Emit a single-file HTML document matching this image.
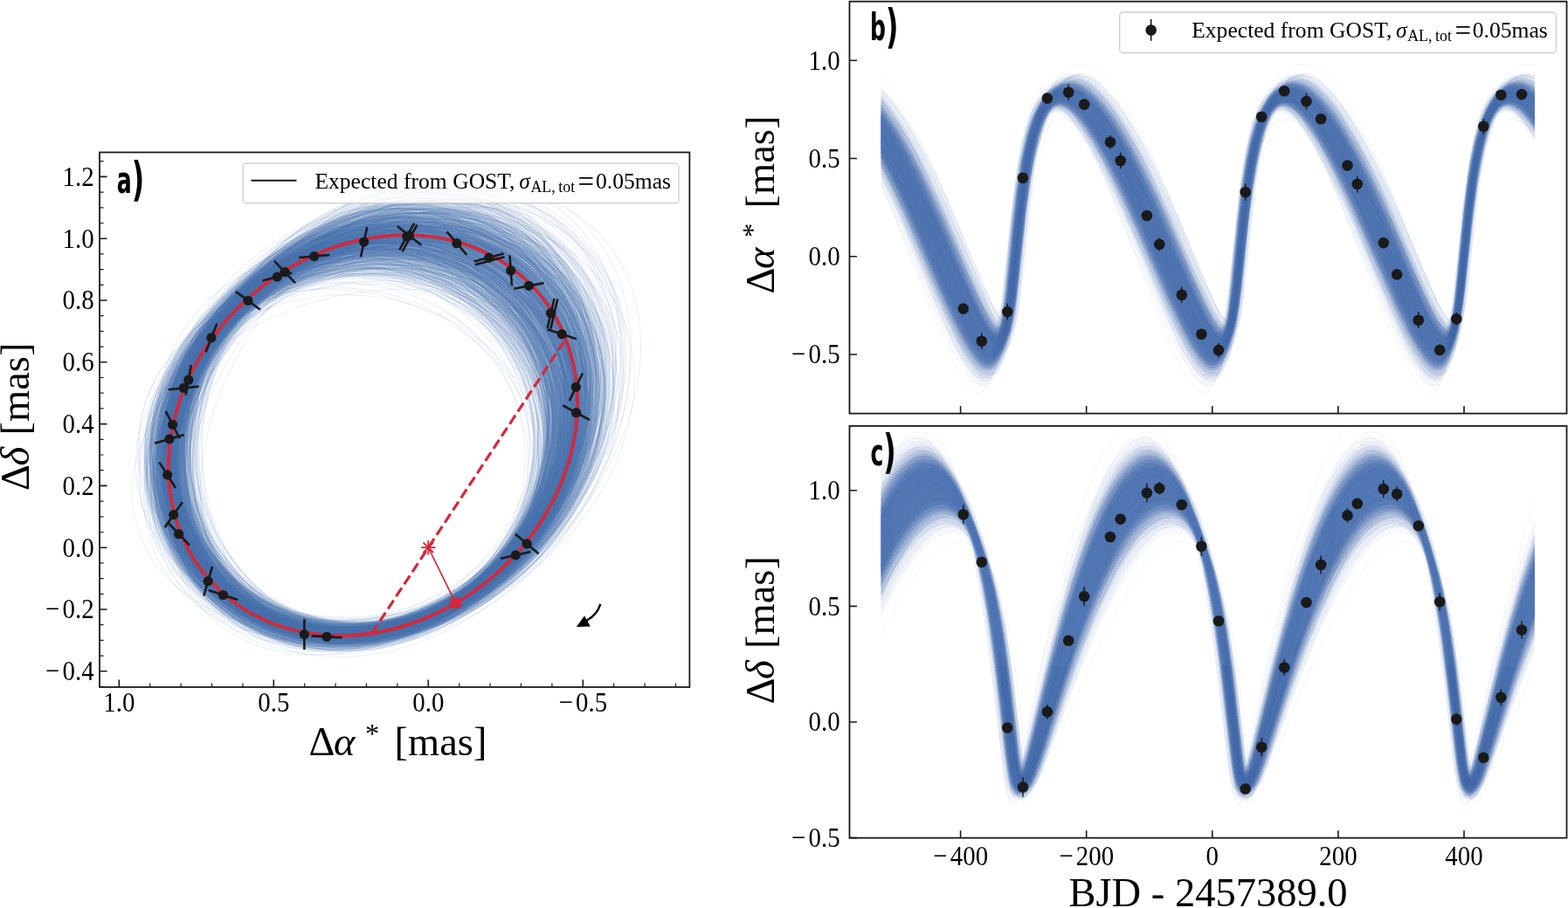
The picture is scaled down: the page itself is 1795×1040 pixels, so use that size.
<!DOCTYPE html><html><head><meta charset="utf-8"><title>Orbit</title><style>html,body{margin:0;padding:0;background:#fff;}svg{display:block;}</style></head><body><svg width="1795" height="1040" viewBox="0 0 1795 1040">
<defs>
<clipPath id="ca"><rect x="114" y="174.5" width="675.4" height="612.5"/></clipPath>
<clipPath id="cb"><rect x="972.5" y="1.7" width="821.0" height="471.90000000000003"/></clipPath>
<clipPath id="cc"><rect x="972.5" y="487.9" width="821.0" height="471.80000000000007"/></clipPath>
</defs>
<rect width="1795" height="1040" fill="#fff"/>
<g clip-path="url(#ca)">
<g fill="none" stroke="#5479b6" stroke-width="1.0" stroke-opacity="0.12">
<ellipse cx="428.1" cy="487.3" rx="247.8" ry="217.0" transform="rotate(126.8 428.1 487.3)"/>
<ellipse cx="412.5" cy="502.2" rx="227.8" ry="213.6" transform="rotate(160.0 412.5 502.2)"/>
<ellipse cx="421.8" cy="496.0" rx="228.5" ry="203.6" transform="rotate(123.5 421.8 496.0)"/>
<ellipse cx="417.5" cy="504.7" rx="239.5" ry="212.8" transform="rotate(140.7 417.5 504.7)"/>
<ellipse cx="426.2" cy="500.6" rx="248.1" ry="221.9" transform="rotate(139.9 426.2 500.6)"/>
<ellipse cx="423.8" cy="497.9" rx="252.0" ry="214.1" transform="rotate(143.5 423.8 497.9)"/>
<ellipse cx="436.0" cy="486.5" rx="258.2" ry="219.9" transform="rotate(124.2 436.0 486.5)"/>
<ellipse cx="436.4" cy="496.7" rx="253.9" ry="210.9" transform="rotate(137.4 436.4 496.7)"/>
<ellipse cx="448.5" cy="478.6" rx="269.3" ry="210.7" transform="rotate(124.4 448.5 478.6)"/>
<ellipse cx="423.6" cy="501.9" rx="261.5" ry="214.6" transform="rotate(147.2 423.6 501.9)"/>
<ellipse cx="427.8" cy="497.6" rx="251.2" ry="213.5" transform="rotate(145.6 427.8 497.6)"/>
<ellipse cx="422.5" cy="507.5" rx="250.2" ry="205.6" transform="rotate(154.0 422.5 507.5)"/>
<ellipse cx="437.1" cy="493.2" rx="267.8" ry="226.9" transform="rotate(149.3 437.1 493.2)"/>
<ellipse cx="427.1" cy="502.8" rx="245.0" ry="204.2" transform="rotate(134.9 427.1 502.8)"/>
<ellipse cx="416.3" cy="502.4" rx="244.3" ry="214.2" transform="rotate(152.3 416.3 502.4)"/>
<ellipse cx="421.6" cy="502.3" rx="229.3" ry="211.6" transform="rotate(145.7 421.6 502.3)"/>
<ellipse cx="434.6" cy="493.8" rx="262.1" ry="207.9" transform="rotate(138.9 434.6 493.8)"/>
<ellipse cx="406.4" cy="509.4" rx="215.1" ry="206.3" transform="rotate(126.3 406.4 509.4)"/>
<ellipse cx="444.2" cy="485.9" rx="265.2" ry="225.4" transform="rotate(124.0 444.2 485.9)"/>
<ellipse cx="430.6" cy="497.6" rx="262.7" ry="213.6" transform="rotate(143.6 430.6 497.6)"/>
<ellipse cx="432.4" cy="489.7" rx="250.6" ry="211.1" transform="rotate(121.7 432.4 489.7)"/>
<ellipse cx="433.1" cy="499.2" rx="259.2" ry="213.0" transform="rotate(146.0 433.1 499.2)"/>
<ellipse cx="439.5" cy="495.5" rx="268.8" ry="211.7" transform="rotate(136.2 439.5 495.5)"/>
<ellipse cx="421.2" cy="501.7" rx="246.2" ry="214.3" transform="rotate(150.0 421.2 501.7)"/>
<ellipse cx="432.0" cy="491.4" rx="255.4" ry="209.8" transform="rotate(128.9 432.0 491.4)"/>
<ellipse cx="415.3" cy="501.0" rx="258.4" ry="222.7" transform="rotate(152.0 415.3 501.0)"/>
<ellipse cx="421.4" cy="494.5" rx="227.4" ry="209.8" transform="rotate(124.4 421.4 494.5)"/>
<ellipse cx="438.1" cy="491.4" rx="259.6" ry="212.7" transform="rotate(130.4 438.1 491.4)"/>
<ellipse cx="412.5" cy="498.8" rx="216.3" ry="210.1" transform="rotate(-99.3 412.5 498.8)"/>
<ellipse cx="419.7" cy="498.2" rx="238.8" ry="211.7" transform="rotate(142.6 419.7 498.2)"/>
<ellipse cx="422.5" cy="502.2" rx="242.7" ry="211.4" transform="rotate(142.4 422.5 502.2)"/>
<ellipse cx="421.9" cy="497.3" rx="244.0" ry="213.5" transform="rotate(145.8 421.9 497.3)"/>
<ellipse cx="432.0" cy="494.7" rx="249.8" ry="212.7" transform="rotate(148.6 432.0 494.7)"/>
<ellipse cx="416.1" cy="501.9" rx="227.7" ry="205.8" transform="rotate(132.1 416.1 501.9)"/>
<ellipse cx="434.9" cy="497.2" rx="267.8" ry="224.5" transform="rotate(144.4 434.9 497.2)"/>
<ellipse cx="416.0" cy="502.6" rx="227.8" ry="202.5" transform="rotate(115.3 416.0 502.6)"/>
<ellipse cx="444.4" cy="479.7" rx="271.6" ry="208.9" transform="rotate(126.7 444.4 479.7)"/>
<ellipse cx="428.1" cy="502.5" rx="264.8" ry="213.6" transform="rotate(141.6 428.1 502.5)"/>
<ellipse cx="419.9" cy="497.2" rx="236.7" ry="206.3" transform="rotate(108.2 419.9 497.2)"/>
<ellipse cx="408.1" cy="514.6" rx="221.7" ry="205.9" transform="rotate(158.8 408.1 514.6)"/>
<ellipse cx="433.9" cy="485.3" rx="259.9" ry="212.6" transform="rotate(117.5 433.9 485.3)"/>
<ellipse cx="437.6" cy="490.4" rx="268.1" ry="217.8" transform="rotate(124.0 437.6 490.4)"/>
<ellipse cx="427.6" cy="495.3" rx="246.4" ry="212.6" transform="rotate(134.6 427.6 495.3)"/>
<ellipse cx="409.5" cy="511.5" rx="232.6" ry="203.6" transform="rotate(155.5 409.5 511.5)"/>
<ellipse cx="442.7" cy="478.4" rx="265.9" ry="219.9" transform="rotate(114.7 442.7 478.4)"/>
<ellipse cx="420.5" cy="512.4" rx="253.4" ry="202.9" transform="rotate(155.6 420.5 512.4)"/>
<ellipse cx="434.5" cy="495.8" rx="254.8" ry="202.4" transform="rotate(124.5 434.5 495.8)"/>
<ellipse cx="438.4" cy="481.0" rx="263.9" ry="217.2" transform="rotate(125.3 438.4 481.0)"/>
<ellipse cx="430.4" cy="500.3" rx="262.8" ry="219.9" transform="rotate(147.1 430.4 500.3)"/>
<ellipse cx="428.2" cy="488.5" rx="250.4" ry="213.7" transform="rotate(114.6 428.2 488.5)"/>
<ellipse cx="399.2" cy="510.5" rx="222.6" ry="203.7" transform="rotate(-161.2 399.2 510.5)"/>
<ellipse cx="396.7" cy="512.2" rx="222.4" ry="215.7" transform="rotate(-173.8 396.7 512.2)"/>
<ellipse cx="412.6" cy="507.5" rx="232.0" ry="199.0" transform="rotate(159.4 412.6 507.5)"/>
<ellipse cx="426.6" cy="495.8" rx="250.5" ry="209.0" transform="rotate(128.3 426.6 495.8)"/>
<ellipse cx="409.8" cy="509.0" rx="227.8" ry="212.4" transform="rotate(154.3 409.8 509.0)"/>
<ellipse cx="432.6" cy="493.1" rx="265.9" ry="219.8" transform="rotate(128.1 432.6 493.1)"/>
<ellipse cx="415.3" cy="504.9" rx="228.9" ry="207.7" transform="rotate(123.0 415.3 504.9)"/>
<ellipse cx="433.8" cy="493.4" rx="259.9" ry="216.8" transform="rotate(142.0 433.8 493.4)"/>
<ellipse cx="413.6" cy="512.6" rx="238.7" ry="202.2" transform="rotate(143.0 413.6 512.6)"/>
<ellipse cx="440.8" cy="496.2" rx="269.7" ry="210.4" transform="rotate(137.8 440.8 496.2)"/>
<ellipse cx="425.5" cy="493.5" rx="248.5" ry="214.4" transform="rotate(125.5 425.5 493.5)"/>
<ellipse cx="436.2" cy="497.8" rx="264.1" ry="209.2" transform="rotate(131.1 436.2 497.8)"/>
<ellipse cx="420.7" cy="500.4" rx="238.5" ry="205.0" transform="rotate(121.6 420.7 500.4)"/>
<ellipse cx="413.2" cy="497.5" rx="225.0" ry="212.9" transform="rotate(120.7 413.2 497.5)"/>
<ellipse cx="412.0" cy="515.0" rx="250.4" ry="203.5" transform="rotate(163.0 412.0 515.0)"/>
<ellipse cx="425.1" cy="503.6" rx="255.6" ry="211.8" transform="rotate(149.7 425.1 503.6)"/>
<ellipse cx="434.0" cy="497.2" rx="256.4" ry="214.2" transform="rotate(139.4 434.0 497.2)"/>
<ellipse cx="426.1" cy="496.9" rx="245.3" ry="213.1" transform="rotate(135.4 426.1 496.9)"/>
<ellipse cx="419.1" cy="493.8" rx="233.1" ry="205.1" transform="rotate(108.9 419.1 493.8)"/>
<ellipse cx="431.5" cy="489.8" rx="245.6" ry="217.7" transform="rotate(116.7 431.5 489.8)"/>
<ellipse cx="416.0" cy="501.2" rx="230.4" ry="221.9" transform="rotate(165.7 416.0 501.2)"/>
<ellipse cx="418.5" cy="504.0" rx="243.0" ry="214.1" transform="rotate(153.1 418.5 504.0)"/>
<ellipse cx="428.7" cy="496.0" rx="253.4" ry="218.4" transform="rotate(144.0 428.7 496.0)"/>
<ellipse cx="433.2" cy="498.3" rx="260.1" ry="206.8" transform="rotate(139.7 433.2 498.3)"/>
<ellipse cx="440.5" cy="502.5" rx="270.9" ry="205.2" transform="rotate(145.2 440.5 502.5)"/>
<ellipse cx="418.1" cy="498.6" rx="242.4" ry="212.3" transform="rotate(139.0 418.1 498.6)"/>
<ellipse cx="435.1" cy="493.1" rx="268.7" ry="221.4" transform="rotate(131.3 435.1 493.1)"/>
<ellipse cx="422.8" cy="504.2" rx="243.6" ry="222.7" transform="rotate(149.6 422.8 504.2)"/>
<ellipse cx="444.5" cy="475.7" rx="272.1" ry="220.5" transform="rotate(118.0 444.5 475.7)"/>
<ellipse cx="414.8" cy="498.1" rx="220.8" ry="216.3" transform="rotate(-169.5 414.8 498.1)"/>
<ellipse cx="419.4" cy="496.9" rx="232.0" ry="205.8" transform="rotate(109.4 419.4 496.9)"/>
<ellipse cx="424.6" cy="496.4" rx="243.2" ry="212.8" transform="rotate(139.4 424.6 496.4)"/>
<ellipse cx="407.7" cy="501.4" rx="217.1" ry="214.4" transform="rotate(114.7 407.7 501.4)"/>
<ellipse cx="426.3" cy="501.0" rx="246.5" ry="215.4" transform="rotate(139.0 426.3 501.0)"/>
<ellipse cx="412.4" cy="508.0" rx="241.9" ry="207.9" transform="rotate(163.9 412.4 508.0)"/>
<ellipse cx="419.2" cy="496.7" rx="227.5" ry="208.7" transform="rotate(106.9 419.2 496.7)"/>
<ellipse cx="424.3" cy="500.7" rx="239.8" ry="205.0" transform="rotate(133.8 424.3 500.7)"/>
<ellipse cx="407.7" cy="514.1" rx="234.3" ry="203.7" transform="rotate(144.1 407.7 514.1)"/>
<ellipse cx="431.6" cy="493.6" rx="255.2" ry="206.7" transform="rotate(125.4 431.6 493.6)"/>
<ellipse cx="428.4" cy="503.8" rx="250.1" ry="213.7" transform="rotate(144.5 428.4 503.8)"/>
<ellipse cx="427.9" cy="498.7" rx="269.6" ry="216.5" transform="rotate(156.1 427.9 498.7)"/>
<ellipse cx="427.9" cy="504.3" rx="238.9" ry="207.1" transform="rotate(143.1 427.9 504.3)"/>
<ellipse cx="423.2" cy="486.4" rx="245.6" ry="216.7" transform="rotate(118.6 423.2 486.4)"/>
<ellipse cx="432.5" cy="504.6" rx="265.6" ry="210.9" transform="rotate(141.6 432.5 504.6)"/>
<ellipse cx="415.5" cy="500.4" rx="220.3" ry="211.5" transform="rotate(144.0 415.5 500.4)"/>
<ellipse cx="401.7" cy="515.2" rx="226.9" ry="201.4" transform="rotate(-179.7 401.7 515.2)"/>
<ellipse cx="434.9" cy="487.5" rx="262.8" ry="221.8" transform="rotate(126.4 434.9 487.5)"/>
<ellipse cx="433.1" cy="501.4" rx="270.5" ry="217.1" transform="rotate(148.3 433.1 501.4)"/>
<ellipse cx="422.6" cy="506.6" rx="240.2" ry="208.5" transform="rotate(146.5 422.6 506.6)"/>
<ellipse cx="421.7" cy="499.7" rx="243.0" ry="206.3" transform="rotate(127.2 421.7 499.7)"/>
<ellipse cx="424.2" cy="502.4" rx="235.7" ry="201.2" transform="rotate(140.6 424.2 502.4)"/>
<ellipse cx="443.2" cy="486.0" rx="277.0" ry="225.9" transform="rotate(131.4 443.2 486.0)"/>
<ellipse cx="411.6" cy="498.4" rx="214.8" ry="204.3" transform="rotate(105.8 411.6 498.4)"/>
<ellipse cx="427.2" cy="496.9" rx="241.9" ry="210.7" transform="rotate(131.4 427.2 496.9)"/>
<ellipse cx="413.7" cy="501.3" rx="228.1" ry="215.2" transform="rotate(147.3 413.7 501.3)"/>
<ellipse cx="453.4" cy="486.7" rx="294.0" ry="219.1" transform="rotate(135.3 453.4 486.7)"/>
<ellipse cx="432.9" cy="492.4" rx="270.7" ry="222.8" transform="rotate(137.6 432.9 492.4)"/>
<ellipse cx="420.0" cy="501.9" rx="253.3" ry="213.6" transform="rotate(152.4 420.0 501.9)"/>
<ellipse cx="428.6" cy="489.5" rx="246.4" ry="213.5" transform="rotate(136.8 428.6 489.5)"/>
<ellipse cx="424.9" cy="495.4" rx="249.1" ry="208.1" transform="rotate(130.0 424.9 495.4)"/>
<ellipse cx="401.0" cy="502.3" rx="216.7" ry="208.5" transform="rotate(-113.6 401.0 502.3)"/>
<ellipse cx="414.8" cy="497.1" rx="230.5" ry="213.2" transform="rotate(134.4 414.8 497.1)"/>
<ellipse cx="429.9" cy="503.0" rx="259.2" ry="216.7" transform="rotate(148.7 429.9 503.0)"/>
<ellipse cx="420.1" cy="497.3" rx="238.0" ry="219.3" transform="rotate(150.7 420.1 497.3)"/>
<ellipse cx="424.9" cy="498.5" rx="245.3" ry="223.0" transform="rotate(140.1 424.9 498.5)"/>
<ellipse cx="431.2" cy="502.2" rx="250.9" ry="206.3" transform="rotate(131.4 431.2 502.2)"/>
<ellipse cx="437.2" cy="487.5" rx="267.3" ry="222.2" transform="rotate(125.7 437.2 487.5)"/>
<ellipse cx="420.4" cy="503.0" rx="241.8" ry="211.0" transform="rotate(137.2 420.4 503.0)"/>
<ellipse cx="437.0" cy="498.6" rx="270.4" ry="216.0" transform="rotate(145.0 437.0 498.6)"/>
<ellipse cx="411.5" cy="510.9" rx="243.0" ry="207.2" transform="rotate(160.0 411.5 510.9)"/>
<ellipse cx="424.6" cy="500.6" rx="258.2" ry="210.9" transform="rotate(147.4 424.6 500.6)"/>
<ellipse cx="431.0" cy="491.7" rx="255.3" ry="214.9" transform="rotate(131.9 431.0 491.7)"/>
<ellipse cx="427.2" cy="489.7" rx="255.4" ry="219.9" transform="rotate(130.6 427.2 489.7)"/>
<ellipse cx="432.7" cy="492.2" rx="259.7" ry="219.5" transform="rotate(127.9 432.7 492.2)"/>
<ellipse cx="425.4" cy="489.6" rx="234.0" ry="205.4" transform="rotate(-75.1 425.4 489.6)"/>
<ellipse cx="439.2" cy="488.9" rx="272.5" ry="213.6" transform="rotate(130.0 439.2 488.9)"/>
<ellipse cx="440.4" cy="480.6" rx="256.1" ry="206.8" transform="rotate(125.2 440.4 480.6)"/>
<ellipse cx="426.3" cy="497.5" rx="252.5" ry="221.6" transform="rotate(145.7 426.3 497.5)"/>
<ellipse cx="407.0" cy="517.3" rx="236.8" ry="200.8" transform="rotate(165.7 407.0 517.3)"/>
<ellipse cx="406.8" cy="510.8" rx="218.6" ry="203.7" transform="rotate(179.3 406.8 510.8)"/>
<ellipse cx="433.2" cy="487.0" rx="247.3" ry="204.5" transform="rotate(119.0 433.2 487.0)"/>
<ellipse cx="432.3" cy="494.1" rx="245.6" ry="213.7" transform="rotate(121.6 432.3 494.1)"/>
<ellipse cx="451.0" cy="479.8" rx="276.3" ry="210.4" transform="rotate(129.0 451.0 479.8)"/>
<ellipse cx="415.1" cy="512.5" rx="257.6" ry="201.9" transform="rotate(164.7 415.1 512.5)"/>
<ellipse cx="417.1" cy="507.5" rx="236.9" ry="206.6" transform="rotate(151.6 417.1 507.5)"/>
<ellipse cx="412.7" cy="512.6" rx="234.8" ry="208.1" transform="rotate(153.8 412.7 512.6)"/>
<ellipse cx="419.5" cy="507.3" rx="243.1" ry="202.7" transform="rotate(147.9 419.5 507.3)"/>
<ellipse cx="430.2" cy="498.6" rx="259.6" ry="210.3" transform="rotate(139.5 430.2 498.6)"/>
<ellipse cx="421.1" cy="503.6" rx="244.9" ry="211.2" transform="rotate(150.3 421.1 503.6)"/>
<ellipse cx="427.1" cy="492.7" rx="247.8" ry="208.1" transform="rotate(115.2 427.1 492.7)"/>
<ellipse cx="425.1" cy="493.5" rx="234.1" ry="206.0" transform="rotate(122.0 425.1 493.5)"/>
<ellipse cx="405.7" cy="505.0" rx="218.3" ry="206.5" transform="rotate(-177.6 405.7 505.0)"/>
<ellipse cx="436.7" cy="499.1" rx="283.1" ry="224.3" transform="rotate(152.7 436.7 499.1)"/>
<ellipse cx="431.4" cy="488.4" rx="248.0" ry="222.5" transform="rotate(122.3 431.4 488.4)"/>
<ellipse cx="425.6" cy="497.3" rx="238.9" ry="207.4" transform="rotate(135.0 425.6 497.3)"/>
<ellipse cx="441.0" cy="479.8" rx="265.3" ry="219.9" transform="rotate(135.5 441.0 479.8)"/>
<ellipse cx="412.7" cy="504.6" rx="214.8" ry="207.7" transform="rotate(158.3 412.7 504.6)"/>
<ellipse cx="437.6" cy="483.7" rx="265.0" ry="218.2" transform="rotate(120.1 437.6 483.7)"/>
<ellipse cx="420.0" cy="502.7" rx="236.6" ry="209.5" transform="rotate(122.7 420.0 502.7)"/>
<ellipse cx="435.4" cy="493.5" rx="249.3" ry="221.2" transform="rotate(134.3 435.4 493.5)"/>
<ellipse cx="419.5" cy="503.7" rx="247.0" ry="217.6" transform="rotate(144.1 419.5 503.7)"/>
<ellipse cx="434.1" cy="506.8" rx="269.9" ry="212.7" transform="rotate(148.9 434.1 506.8)"/>
<ellipse cx="425.7" cy="500.2" rx="248.0" ry="211.1" transform="rotate(146.9 425.7 500.2)"/>
<ellipse cx="402.4" cy="507.2" rx="208.6" ry="206.7" transform="rotate(165.2 402.4 507.2)"/>
<ellipse cx="438.9" cy="498.9" rx="275.9" ry="216.0" transform="rotate(134.7 438.9 498.9)"/>
<ellipse cx="398.9" cy="519.5" rx="234.8" ry="200.9" transform="rotate(165.5 398.9 519.5)"/>
<ellipse cx="420.8" cy="485.0" rx="236.2" ry="196.2" transform="rotate(-81.5 420.8 485.0)"/>
<ellipse cx="429.6" cy="491.5" rx="253.5" ry="214.4" transform="rotate(122.9 429.6 491.5)"/>
<ellipse cx="421.8" cy="509.0" rx="243.3" ry="203.8" transform="rotate(142.4 421.8 509.0)"/>
<ellipse cx="442.9" cy="488.7" rx="266.5" ry="223.9" transform="rotate(137.2 442.9 488.7)"/>
<ellipse cx="423.7" cy="508.7" rx="255.8" ry="206.6" transform="rotate(153.1 423.7 508.7)"/>
<ellipse cx="434.5" cy="487.8" rx="258.5" ry="215.5" transform="rotate(120.4 434.5 487.8)"/>
<ellipse cx="436.2" cy="494.6" rx="261.1" ry="209.6" transform="rotate(129.1 436.2 494.6)"/>
<ellipse cx="445.4" cy="493.8" rx="277.0" ry="210.8" transform="rotate(139.8 445.4 493.8)"/>
<ellipse cx="406.4" cy="514.9" rx="228.1" ry="212.2" transform="rotate(159.6 406.4 514.9)"/>
<ellipse cx="430.4" cy="495.9" rx="254.4" ry="218.4" transform="rotate(133.5 430.4 495.9)"/>
<ellipse cx="420.1" cy="491.6" rx="230.4" ry="216.5" transform="rotate(114.3 420.1 491.6)"/>
<ellipse cx="427.0" cy="500.9" rx="242.5" ry="217.3" transform="rotate(134.6 427.0 500.9)"/>
<ellipse cx="429.8" cy="490.2" rx="237.9" ry="213.5" transform="rotate(-73.1 429.8 490.2)"/>
<ellipse cx="414.6" cy="508.0" rx="236.3" ry="210.0" transform="rotate(153.6 414.6 508.0)"/>
<ellipse cx="417.5" cy="491.8" rx="228.7" ry="221.5" transform="rotate(-84.2 417.5 491.8)"/>
<ellipse cx="424.9" cy="491.9" rx="249.0" ry="218.5" transform="rotate(126.8 424.9 491.9)"/>
<ellipse cx="431.9" cy="493.6" rx="262.8" ry="214.0" transform="rotate(143.4 431.9 493.6)"/>
<ellipse cx="424.5" cy="490.2" rx="230.3" ry="212.4" transform="rotate(120.2 424.5 490.2)"/>
<ellipse cx="443.3" cy="485.8" rx="278.9" ry="213.1" transform="rotate(138.4 443.3 485.8)"/>
<ellipse cx="414.0" cy="513.8" rx="242.1" ry="204.5" transform="rotate(168.4 414.0 513.8)"/>
<ellipse cx="419.8" cy="500.9" rx="230.3" ry="214.5" transform="rotate(136.5 419.8 500.9)"/>
<ellipse cx="426.0" cy="503.9" rx="242.4" ry="206.8" transform="rotate(127.2 426.0 503.9)"/>
<ellipse cx="437.3" cy="503.2" rx="271.2" ry="202.1" transform="rotate(143.6 437.3 503.2)"/>
<ellipse cx="431.1" cy="489.5" rx="257.8" ry="219.7" transform="rotate(124.2 431.1 489.5)"/>
<ellipse cx="427.0" cy="494.9" rx="236.8" ry="206.8" transform="rotate(121.3 427.0 494.9)"/>
<ellipse cx="404.0" cy="513.3" rx="233.3" ry="203.5" transform="rotate(166.9 404.0 513.3)"/>
<ellipse cx="447.3" cy="487.0" rx="281.4" ry="214.0" transform="rotate(130.6 447.3 487.0)"/>
<ellipse cx="424.0" cy="496.1" rx="244.8" ry="210.5" transform="rotate(125.5 424.0 496.1)"/>
<ellipse cx="404.4" cy="515.7" rx="222.8" ry="205.6" transform="rotate(158.5 404.4 515.7)"/>
<ellipse cx="440.9" cy="483.7" rx="264.4" ry="212.4" transform="rotate(133.4 440.9 483.7)"/>
<ellipse cx="424.3" cy="504.6" rx="250.5" ry="205.5" transform="rotate(133.8 424.3 504.6)"/>
<ellipse cx="417.2" cy="504.9" rx="243.0" ry="212.5" transform="rotate(156.4 417.2 504.9)"/>
<ellipse cx="432.9" cy="490.8" rx="254.1" ry="219.5" transform="rotate(139.3 432.9 490.8)"/>
<ellipse cx="411.8" cy="515.1" rx="247.0" ry="199.9" transform="rotate(165.9 411.8 515.1)"/>
<ellipse cx="419.0" cy="500.5" rx="239.7" ry="215.6" transform="rotate(149.3 419.0 500.5)"/>
<ellipse cx="422.8" cy="502.1" rx="240.8" ry="211.7" transform="rotate(135.6 422.8 502.1)"/>
<ellipse cx="437.7" cy="485.2" rx="262.0" ry="210.0" transform="rotate(125.7 437.7 485.2)"/>
<ellipse cx="420.8" cy="504.9" rx="244.4" ry="211.4" transform="rotate(142.6 420.8 504.9)"/>
<ellipse cx="421.6" cy="501.2" rx="257.7" ry="210.9" transform="rotate(141.9 421.6 501.2)"/>
<ellipse cx="427.7" cy="490.2" rx="259.3" ry="225.5" transform="rotate(138.6 427.7 490.2)"/>
<ellipse cx="435.5" cy="506.3" rx="282.9" ry="211.8" transform="rotate(151.2 435.5 506.3)"/>
<ellipse cx="430.6" cy="485.3" rx="240.1" ry="197.3" transform="rotate(111.5 430.6 485.3)"/>
<ellipse cx="439.7" cy="496.5" rx="276.0" ry="219.1" transform="rotate(149.8 439.7 496.5)"/>
<ellipse cx="402.1" cy="507.9" rx="214.9" ry="207.7" transform="rotate(-179.0 402.1 507.9)"/>
<ellipse cx="443.0" cy="484.2" rx="280.4" ry="205.5" transform="rotate(121.4 443.0 484.2)"/>
<ellipse cx="419.2" cy="502.1" rx="239.8" ry="214.5" transform="rotate(155.5 419.2 502.1)"/>
<ellipse cx="427.6" cy="491.4" rx="243.7" ry="213.4" transform="rotate(130.6 427.6 491.4)"/>
<ellipse cx="410.2" cy="511.8" rx="226.7" ry="202.4" transform="rotate(159.6 410.2 511.8)"/>
<ellipse cx="441.7" cy="483.9" rx="264.4" ry="232.1" transform="rotate(139.6 441.7 483.9)"/>
<ellipse cx="429.0" cy="498.1" rx="254.6" ry="221.2" transform="rotate(133.2 429.0 498.1)"/>
<ellipse cx="421.6" cy="499.1" rx="244.3" ry="212.6" transform="rotate(135.5 421.6 499.1)"/>
<ellipse cx="407.7" cy="500.1" rx="224.9" ry="214.6" transform="rotate(125.4 407.7 500.1)"/>
<ellipse cx="435.9" cy="495.6" rx="266.8" ry="217.5" transform="rotate(142.3 435.9 495.6)"/>
<ellipse cx="436.2" cy="493.6" rx="260.1" ry="208.8" transform="rotate(138.5 436.2 493.6)"/>
<ellipse cx="449.5" cy="494.5" rx="295.2" ry="223.2" transform="rotate(147.9 449.5 494.5)"/>
<ellipse cx="429.3" cy="493.3" rx="253.3" ry="216.4" transform="rotate(141.6 429.3 493.3)"/>
<ellipse cx="406.6" cy="507.2" rx="221.5" ry="211.4" transform="rotate(168.3 406.6 507.2)"/>
<ellipse cx="436.8" cy="491.0" rx="261.7" ry="215.2" transform="rotate(129.6 436.8 491.0)"/>
<ellipse cx="428.7" cy="495.8" rx="248.3" ry="214.7" transform="rotate(133.1 428.7 495.8)"/>
<ellipse cx="426.7" cy="507.9" rx="256.6" ry="211.6" transform="rotate(138.3 426.7 507.9)"/>
<ellipse cx="414.9" cy="507.2" rx="233.9" ry="211.7" transform="rotate(147.1 414.9 507.2)"/>
<ellipse cx="418.3" cy="509.8" rx="250.2" ry="206.2" transform="rotate(157.0 418.3 509.8)"/>
<ellipse cx="421.8" cy="498.0" rx="241.6" ry="223.7" transform="rotate(127.9 421.8 498.0)"/>
<ellipse cx="435.1" cy="494.0" rx="272.7" ry="213.2" transform="rotate(136.2 435.1 494.0)"/>
<ellipse cx="436.5" cy="483.1" rx="260.7" ry="238.0" transform="rotate(137.6 436.5 483.1)"/>
<ellipse cx="422.1" cy="501.0" rx="244.6" ry="208.5" transform="rotate(130.1 422.1 501.0)"/>
<ellipse cx="436.9" cy="496.6" rx="276.9" ry="212.4" transform="rotate(143.0 436.9 496.6)"/>
<ellipse cx="424.7" cy="492.4" rx="242.7" ry="219.9" transform="rotate(144.1 424.7 492.4)"/>
<ellipse cx="409.6" cy="501.1" rx="224.3" ry="213.8" transform="rotate(134.6 409.6 501.1)"/>
<ellipse cx="424.9" cy="498.3" rx="247.1" ry="217.4" transform="rotate(155.9 424.9 498.3)"/>
<ellipse cx="413.8" cy="505.2" rx="234.5" ry="222.2" transform="rotate(174.1 413.8 505.2)"/>
<ellipse cx="417.7" cy="504.2" rx="249.8" ry="212.4" transform="rotate(153.2 417.7 504.2)"/>
<ellipse cx="422.0" cy="498.5" rx="247.5" ry="218.4" transform="rotate(137.7 422.0 498.5)"/>
<ellipse cx="440.2" cy="492.7" rx="271.2" ry="220.7" transform="rotate(140.0 440.2 492.7)"/>
<ellipse cx="436.3" cy="494.0" rx="261.0" ry="210.6" transform="rotate(127.3 436.3 494.0)"/>
<ellipse cx="420.1" cy="501.7" rx="234.5" ry="203.0" transform="rotate(146.3 420.1 501.7)"/>
<ellipse cx="441.6" cy="485.7" rx="267.4" ry="223.1" transform="rotate(127.1 441.6 485.7)"/>
<ellipse cx="428.5" cy="496.8" rx="258.3" ry="206.3" transform="rotate(133.1 428.5 496.8)"/>
<ellipse cx="398.9" cy="503.0" rx="214.4" ry="205.5" transform="rotate(-115.7 398.9 503.0)"/>
<ellipse cx="410.8" cy="511.5" rx="234.6" ry="210.3" transform="rotate(146.7 410.8 511.5)"/>
<ellipse cx="436.5" cy="483.9" rx="260.1" ry="230.5" transform="rotate(122.9 436.5 483.9)"/>
<ellipse cx="431.8" cy="487.9" rx="256.2" ry="223.1" transform="rotate(117.9 431.8 487.9)"/>
<ellipse cx="405.9" cy="502.5" rx="216.0" ry="212.5" transform="rotate(-103.2 405.9 502.5)"/>
<ellipse cx="430.8" cy="484.9" rx="237.8" ry="212.6" transform="rotate(111.5 430.8 484.9)"/>
<ellipse cx="404.5" cy="507.7" rx="209.7" ry="206.5" transform="rotate(-135.4 404.5 507.7)"/>
<ellipse cx="409.1" cy="507.8" rx="239.0" ry="212.4" transform="rotate(146.8 409.1 507.8)"/>
<ellipse cx="418.2" cy="503.2" rx="240.9" ry="217.8" transform="rotate(149.6 418.2 503.2)"/>
<ellipse cx="423.2" cy="496.8" rx="233.7" ry="213.9" transform="rotate(129.0 423.2 496.8)"/>
<ellipse cx="421.0" cy="503.0" rx="238.7" ry="212.9" transform="rotate(135.1 421.0 503.0)"/>
<ellipse cx="401.4" cy="505.0" rx="217.1" ry="208.5" transform="rotate(-163.7 401.4 505.0)"/>
<ellipse cx="427.2" cy="487.5" rx="245.5" ry="220.3" transform="rotate(128.9 427.2 487.5)"/>
<ellipse cx="423.1" cy="493.9" rx="247.6" ry="221.8" transform="rotate(136.3 423.1 493.9)"/>
<ellipse cx="430.2" cy="499.4" rx="254.6" ry="216.8" transform="rotate(144.8 430.2 499.4)"/>
<ellipse cx="426.1" cy="499.0" rx="243.7" ry="211.6" transform="rotate(137.7 426.1 499.0)"/>
<ellipse cx="411.4" cy="521.8" rx="238.6" ry="196.5" transform="rotate(163.6 411.4 521.8)"/>
<ellipse cx="410.3" cy="509.0" rx="237.6" ry="210.1" transform="rotate(162.9 410.3 509.0)"/>
<ellipse cx="426.8" cy="493.7" rx="244.4" ry="211.9" transform="rotate(138.7 426.8 493.7)"/>
<ellipse cx="428.1" cy="497.1" rx="243.3" ry="208.5" transform="rotate(131.4 428.1 497.1)"/>
<ellipse cx="423.7" cy="502.0" rx="254.8" ry="226.1" transform="rotate(163.4 423.7 502.0)"/>
<ellipse cx="418.9" cy="503.5" rx="240.6" ry="210.1" transform="rotate(135.2 418.9 503.5)"/>
<ellipse cx="423.2" cy="500.5" rx="240.8" ry="203.6" transform="rotate(126.4 423.2 500.5)"/>
<ellipse cx="424.9" cy="492.9" rx="243.3" ry="222.6" transform="rotate(113.1 424.9 492.9)"/>
<ellipse cx="440.4" cy="487.8" rx="265.4" ry="209.6" transform="rotate(124.1 440.4 487.8)"/>
<ellipse cx="447.6" cy="489.1" rx="278.4" ry="205.0" transform="rotate(125.8 447.6 489.1)"/>
<ellipse cx="436.6" cy="490.8" rx="253.7" ry="223.1" transform="rotate(129.6 436.6 490.8)"/>
<ellipse cx="417.1" cy="500.2" rx="225.7" ry="213.5" transform="rotate(131.8 417.1 500.2)"/>
<ellipse cx="416.0" cy="512.2" rx="239.2" ry="207.5" transform="rotate(157.8 416.0 512.2)"/>
<ellipse cx="427.2" cy="489.9" rx="234.5" ry="198.3" transform="rotate(-76.4 427.2 489.9)"/>
<ellipse cx="424.2" cy="496.7" rx="243.5" ry="207.2" transform="rotate(134.0 424.2 496.7)"/>
<ellipse cx="441.5" cy="485.4" rx="270.8" ry="232.1" transform="rotate(141.4 441.5 485.4)"/>
<ellipse cx="444.0" cy="479.8" rx="267.4" ry="199.3" transform="rotate(123.0 444.0 479.8)"/>
<ellipse cx="433.1" cy="492.3" rx="254.5" ry="219.6" transform="rotate(143.1 433.1 492.3)"/>
<ellipse cx="418.0" cy="507.0" rx="254.6" ry="206.0" transform="rotate(154.9 418.0 507.0)"/>
<ellipse cx="407.0" cy="506.7" rx="217.0" ry="209.8" transform="rotate(149.6 407.0 506.7)"/>
<ellipse cx="438.1" cy="504.2" rx="269.6" ry="211.0" transform="rotate(147.9 438.1 504.2)"/>
<ellipse cx="402.0" cy="512.7" rx="221.7" ry="207.9" transform="rotate(-170.6 402.0 512.7)"/>
<ellipse cx="414.4" cy="500.4" rx="233.2" ry="219.3" transform="rotate(137.9 414.4 500.4)"/>
<ellipse cx="444.1" cy="483.1" rx="273.0" ry="225.5" transform="rotate(134.0 444.1 483.1)"/>
<ellipse cx="421.0" cy="507.0" rx="243.9" ry="200.6" transform="rotate(143.5 421.0 507.0)"/>
<ellipse cx="416.8" cy="503.0" rx="247.2" ry="212.4" transform="rotate(148.1 416.8 503.0)"/>
<ellipse cx="420.6" cy="505.1" rx="237.2" ry="206.0" transform="rotate(141.0 420.6 505.1)"/>
<ellipse cx="437.1" cy="486.3" rx="258.0" ry="218.8" transform="rotate(140.6 437.1 486.3)"/>
<ellipse cx="434.2" cy="488.1" rx="264.6" ry="220.4" transform="rotate(133.7 434.2 488.1)"/>
<ellipse cx="428.6" cy="493.2" rx="242.2" ry="212.7" transform="rotate(142.0 428.6 493.2)"/>
<ellipse cx="418.7" cy="505.5" rx="231.6" ry="207.2" transform="rotate(152.5 418.7 505.5)"/>
<ellipse cx="414.0" cy="504.2" rx="231.1" ry="209.4" transform="rotate(139.5 414.0 504.2)"/>
<ellipse cx="413.2" cy="513.0" rx="240.6" ry="203.3" transform="rotate(146.7 413.2 513.0)"/>
<ellipse cx="443.6" cy="489.4" rx="282.8" ry="221.3" transform="rotate(139.5 443.6 489.4)"/>
<ellipse cx="430.8" cy="495.9" rx="248.9" ry="208.8" transform="rotate(132.5 430.8 495.9)"/>
<ellipse cx="408.7" cy="504.3" rx="210.1" ry="203.0" transform="rotate(-95.0 408.7 504.3)"/>
<ellipse cx="414.9" cy="518.0" rx="263.9" ry="197.5" transform="rotate(151.3 414.9 518.0)"/>
<ellipse cx="428.2" cy="498.9" rx="257.7" ry="214.3" transform="rotate(149.0 428.2 498.9)"/>
<ellipse cx="430.1" cy="491.2" rx="247.0" ry="207.6" transform="rotate(124.0 430.1 491.2)"/>
<ellipse cx="418.3" cy="501.6" rx="227.8" ry="214.4" transform="rotate(121.4 418.3 501.6)"/>
<ellipse cx="427.9" cy="497.5" rx="249.2" ry="214.3" transform="rotate(132.3 427.9 497.5)"/>
<ellipse cx="436.0" cy="492.8" rx="255.9" ry="210.6" transform="rotate(132.9 436.0 492.8)"/>
<ellipse cx="407.2" cy="503.2" rx="216.4" ry="211.9" transform="rotate(159.7 407.2 503.2)"/>
<ellipse cx="412.4" cy="507.2" rx="230.4" ry="213.2" transform="rotate(161.9 412.4 507.2)"/>
<ellipse cx="417.8" cy="502.9" rx="238.3" ry="211.0" transform="rotate(148.8 417.8 502.9)"/>
<ellipse cx="425.2" cy="505.6" rx="250.2" ry="203.9" transform="rotate(148.8 425.2 505.6)"/>
<ellipse cx="434.4" cy="492.8" rx="254.1" ry="215.7" transform="rotate(135.5 434.4 492.8)"/>
<ellipse cx="437.1" cy="474.9" rx="260.3" ry="212.8" transform="rotate(-67.7 437.1 474.9)"/>
<ellipse cx="426.4" cy="501.6" rx="250.2" ry="210.7" transform="rotate(142.7 426.4 501.6)"/>
<ellipse cx="414.3" cy="504.4" rx="249.8" ry="212.8" transform="rotate(169.2 414.3 504.4)"/>
<ellipse cx="421.6" cy="505.3" rx="244.2" ry="208.9" transform="rotate(153.3 421.6 505.3)"/>
<ellipse cx="417.0" cy="508.1" rx="232.4" ry="203.0" transform="rotate(134.4 417.0 508.1)"/>
<ellipse cx="418.6" cy="502.4" rx="227.0" ry="205.0" transform="rotate(128.4 418.6 502.4)"/>
<ellipse cx="433.7" cy="499.4" rx="263.7" ry="217.3" transform="rotate(147.9 433.7 499.4)"/>
<ellipse cx="428.2" cy="505.9" rx="267.0" ry="200.6" transform="rotate(141.2 428.2 505.9)"/>
<ellipse cx="417.0" cy="495.2" rx="225.4" ry="221.9" transform="rotate(156.4 417.0 495.2)"/>
<ellipse cx="456.3" cy="474.7" rx="292.3" ry="226.3" transform="rotate(133.2 456.3 474.7)"/>
<ellipse cx="398.7" cy="510.8" rx="229.1" ry="207.4" transform="rotate(-178.7 398.7 510.8)"/>
<ellipse cx="429.3" cy="496.3" rx="256.4" ry="214.4" transform="rotate(139.5 429.3 496.3)"/>
<ellipse cx="419.3" cy="496.6" rx="228.6" ry="210.3" transform="rotate(119.8 419.3 496.6)"/>
<ellipse cx="431.4" cy="493.6" rx="250.4" ry="212.2" transform="rotate(136.2 431.4 493.6)"/>
<ellipse cx="433.5" cy="497.6" rx="264.6" ry="213.4" transform="rotate(137.6 433.5 497.6)"/>
<ellipse cx="420.6" cy="506.0" rx="248.6" ry="211.6" transform="rotate(161.1 420.6 506.0)"/>
<ellipse cx="424.2" cy="503.6" rx="260.0" ry="212.7" transform="rotate(146.9 424.2 503.6)"/>
<ellipse cx="455.1" cy="475.2" rx="286.2" ry="220.6" transform="rotate(129.6 455.1 475.2)"/>
<ellipse cx="423.5" cy="502.8" rx="249.4" ry="210.4" transform="rotate(138.5 423.5 502.8)"/>
<ellipse cx="440.3" cy="477.6" rx="264.2" ry="213.6" transform="rotate(123.2 440.3 477.6)"/>
<ellipse cx="417.6" cy="502.8" rx="235.0" ry="211.5" transform="rotate(164.4 417.6 502.8)"/>
<ellipse cx="422.3" cy="501.8" rx="241.3" ry="210.4" transform="rotate(138.2 422.3 501.8)"/>
<ellipse cx="420.6" cy="499.9" rx="244.0" ry="222.4" transform="rotate(153.1 420.6 499.9)"/>
<ellipse cx="431.8" cy="497.4" rx="256.8" ry="208.3" transform="rotate(136.5 431.8 497.4)"/>
<ellipse cx="416.5" cy="510.5" rx="242.4" ry="209.7" transform="rotate(144.7 416.5 510.5)"/>
<ellipse cx="409.8" cy="508.4" rx="224.2" ry="208.1" transform="rotate(147.3 409.8 508.4)"/>
<ellipse cx="426.0" cy="492.1" rx="240.4" ry="204.5" transform="rotate(110.3 426.0 492.1)"/>
<ellipse cx="427.0" cy="491.6" rx="249.8" ry="215.4" transform="rotate(138.1 427.0 491.6)"/>
<ellipse cx="425.1" cy="501.9" rx="249.9" ry="212.9" transform="rotate(136.7 425.1 501.9)"/>
<ellipse cx="419.5" cy="498.2" rx="235.9" ry="209.0" transform="rotate(131.3 419.5 498.2)"/>
<ellipse cx="404.5" cy="515.4" rx="233.9" ry="199.5" transform="rotate(175.0 404.5 515.4)"/>
<ellipse cx="435.6" cy="492.6" rx="255.7" ry="200.3" transform="rotate(129.4 435.6 492.6)"/>
<ellipse cx="425.5" cy="502.1" rx="256.4" ry="214.3" transform="rotate(132.0 425.5 502.1)"/>
<ellipse cx="419.7" cy="501.1" rx="249.8" ry="212.3" transform="rotate(144.0 419.7 501.1)"/>
<ellipse cx="431.3" cy="497.8" rx="262.2" ry="215.8" transform="rotate(142.6 431.3 497.8)"/>
<ellipse cx="406.9" cy="510.2" rx="226.7" ry="210.8" transform="rotate(143.8 406.9 510.2)"/>
<ellipse cx="428.9" cy="493.4" rx="233.5" ry="202.6" transform="rotate(121.7 428.9 493.4)"/>
<ellipse cx="426.8" cy="498.9" rx="246.8" ry="217.3" transform="rotate(133.8 426.8 498.9)"/>
<ellipse cx="427.2" cy="496.7" rx="252.3" ry="202.2" transform="rotate(128.5 427.2 496.7)"/>
<ellipse cx="428.8" cy="492.6" rx="240.4" ry="215.9" transform="rotate(124.7 428.8 492.6)"/>
<ellipse cx="413.3" cy="506.8" rx="225.9" ry="209.3" transform="rotate(146.3 413.3 506.8)"/>
<ellipse cx="447.9" cy="486.4" rx="286.4" ry="220.0" transform="rotate(136.5 447.9 486.4)"/>
<ellipse cx="417.3" cy="505.3" rx="244.2" ry="217.7" transform="rotate(171.4 417.3 505.3)"/>
<ellipse cx="426.2" cy="504.7" rx="253.3" ry="215.2" transform="rotate(163.3 426.2 504.7)"/>
<ellipse cx="427.3" cy="492.0" rx="245.7" ry="214.5" transform="rotate(142.8 427.3 492.0)"/>
<ellipse cx="420.9" cy="502.3" rx="234.0" ry="207.0" transform="rotate(135.8 420.9 502.3)"/>
<ellipse cx="421.4" cy="499.7" rx="245.3" ry="212.6" transform="rotate(130.4 421.4 499.7)"/>
<ellipse cx="412.4" cy="493.2" rx="226.0" ry="217.4" transform="rotate(-86.7 412.4 493.2)"/>
<ellipse cx="423.2" cy="497.8" rx="237.1" ry="210.0" transform="rotate(113.7 423.2 497.8)"/>
<ellipse cx="434.5" cy="493.3" rx="258.8" ry="218.7" transform="rotate(126.7 434.5 493.3)"/>
<ellipse cx="414.7" cy="501.7" rx="218.9" ry="203.2" transform="rotate(107.0 414.7 501.7)"/>
<ellipse cx="405.6" cy="510.9" rx="231.0" ry="206.7" transform="rotate(175.3 405.6 510.9)"/>
<ellipse cx="425.8" cy="501.6" rx="259.4" ry="220.8" transform="rotate(157.9 425.8 501.6)"/>
<ellipse cx="437.2" cy="489.2" rx="266.5" ry="227.0" transform="rotate(133.5 437.2 489.2)"/>
<ellipse cx="413.4" cy="502.6" rx="230.6" ry="207.1" transform="rotate(137.8 413.4 502.6)"/>
<ellipse cx="434.1" cy="487.9" rx="245.3" ry="214.9" transform="rotate(127.2 434.1 487.9)"/>
<ellipse cx="410.4" cy="504.6" rx="231.4" ry="211.9" transform="rotate(159.2 410.4 504.6)"/>
<ellipse cx="427.6" cy="497.8" rx="238.5" ry="204.7" transform="rotate(129.8 427.6 497.8)"/>
<ellipse cx="406.6" cy="508.2" rx="225.7" ry="209.8" transform="rotate(151.5 406.6 508.2)"/>
<ellipse cx="427.8" cy="503.3" rx="252.4" ry="207.2" transform="rotate(136.3 427.8 503.3)"/>
<ellipse cx="420.5" cy="499.3" rx="228.3" ry="211.5" transform="rotate(131.0 420.5 499.3)"/>
<ellipse cx="412.1" cy="504.3" rx="234.9" ry="212.3" transform="rotate(142.7 412.1 504.3)"/>
<ellipse cx="420.7" cy="506.8" rx="242.3" ry="203.4" transform="rotate(142.9 420.7 506.8)"/>
<ellipse cx="432.9" cy="494.6" rx="253.6" ry="217.3" transform="rotate(136.5 432.9 494.6)"/>
<ellipse cx="420.3" cy="498.4" rx="237.7" ry="213.4" transform="rotate(134.2 420.3 498.4)"/>
<ellipse cx="418.2" cy="503.0" rx="231.8" ry="211.7" transform="rotate(156.1 418.2 503.0)"/>
<ellipse cx="432.1" cy="487.4" rx="248.2" ry="211.2" transform="rotate(121.0 432.1 487.4)"/>
<ellipse cx="403.5" cy="513.1" rx="237.0" ry="198.9" transform="rotate(172.3 403.5 513.1)"/>
<ellipse cx="430.2" cy="481.6" rx="247.7" ry="226.7" transform="rotate(122.6 430.2 481.6)"/>
<ellipse cx="417.0" cy="501.6" rx="231.5" ry="215.4" transform="rotate(137.5 417.0 501.6)"/>
<ellipse cx="409.2" cy="502.3" rx="223.8" ry="215.6" transform="rotate(120.8 409.2 502.3)"/>
<ellipse cx="412.4" cy="498.9" rx="233.1" ry="209.5" transform="rotate(119.8 412.4 498.9)"/>
<ellipse cx="435.5" cy="490.9" rx="270.3" ry="209.8" transform="rotate(133.2 435.5 490.9)"/>
<ellipse cx="419.4" cy="503.9" rx="240.4" ry="209.4" transform="rotate(145.6 419.4 503.9)"/>
<ellipse cx="420.3" cy="500.9" rx="242.1" ry="218.7" transform="rotate(157.8 420.3 500.9)"/>
<ellipse cx="416.5" cy="507.0" rx="245.3" ry="209.5" transform="rotate(152.7 416.5 507.0)"/>
<ellipse cx="437.7" cy="491.1" rx="259.2" ry="221.0" transform="rotate(140.4 437.7 491.1)"/>
<ellipse cx="422.6" cy="502.6" rx="241.0" ry="202.1" transform="rotate(137.4 422.6 502.6)"/>
<ellipse cx="435.0" cy="490.8" rx="263.8" ry="210.1" transform="rotate(114.6 435.0 490.8)"/>
<ellipse cx="411.6" cy="501.6" rx="220.2" ry="209.8" transform="rotate(138.4 411.6 501.6)"/>
<ellipse cx="429.3" cy="501.1" rx="249.6" ry="195.1" transform="rotate(132.3 429.3 501.1)"/>
<ellipse cx="417.2" cy="512.4" rx="236.3" ry="200.9" transform="rotate(159.6 417.2 512.4)"/>
<ellipse cx="430.6" cy="497.6" rx="245.1" ry="200.0" transform="rotate(123.6 430.6 497.6)"/>
<ellipse cx="435.3" cy="490.3" rx="259.7" ry="209.4" transform="rotate(135.4 435.3 490.3)"/>
<ellipse cx="435.7" cy="485.2" rx="261.6" ry="212.8" transform="rotate(120.5 435.7 485.2)"/>
<ellipse cx="417.8" cy="502.4" rx="244.5" ry="209.1" transform="rotate(153.1 417.8 502.4)"/>
<ellipse cx="435.2" cy="484.4" rx="258.7" ry="213.6" transform="rotate(118.5 435.2 484.4)"/>
<ellipse cx="425.7" cy="500.5" rx="257.0" ry="211.6" transform="rotate(141.7 425.7 500.5)"/>
<ellipse cx="427.5" cy="493.5" rx="248.8" ry="221.1" transform="rotate(130.0 427.5 493.5)"/>
<ellipse cx="394.6" cy="521.4" rx="215.3" ry="197.6" transform="rotate(-171.6 394.6 521.4)"/>
<ellipse cx="412.0" cy="505.0" rx="228.5" ry="213.1" transform="rotate(153.6 412.0 505.0)"/>
<ellipse cx="421.6" cy="503.9" rx="241.8" ry="217.9" transform="rotate(146.4 421.6 503.9)"/>
<ellipse cx="414.3" cy="501.4" rx="226.7" ry="212.6" transform="rotate(142.1 414.3 501.4)"/>
<ellipse cx="426.1" cy="498.9" rx="241.6" ry="205.0" transform="rotate(140.4 426.1 498.9)"/>
<ellipse cx="424.3" cy="496.1" rx="235.7" ry="204.2" transform="rotate(114.2 424.3 496.1)"/>
<ellipse cx="429.0" cy="495.9" rx="244.8" ry="206.7" transform="rotate(122.9 429.0 495.9)"/>
<ellipse cx="412.3" cy="500.6" rx="220.3" ry="211.4" transform="rotate(165.1 412.3 500.6)"/>
<ellipse cx="426.8" cy="493.3" rx="243.9" ry="221.1" transform="rotate(133.5 426.8 493.3)"/>
<ellipse cx="422.4" cy="502.2" rx="247.9" ry="212.1" transform="rotate(152.3 422.4 502.2)"/>
<ellipse cx="417.6" cy="492.5" rx="231.1" ry="202.9" transform="rotate(-83.5 417.6 492.5)"/>
<ellipse cx="418.5" cy="505.3" rx="251.6" ry="211.2" transform="rotate(152.2 418.5 505.3)"/>
<ellipse cx="426.0" cy="490.9" rx="250.4" ry="204.6" transform="rotate(112.0 426.0 490.9)"/>
<ellipse cx="404.7" cy="504.7" rx="231.7" ry="204.8" transform="rotate(177.7 404.7 504.7)"/>
<ellipse cx="421.0" cy="501.3" rx="245.1" ry="218.1" transform="rotate(156.1 421.0 501.3)"/>
<ellipse cx="416.0" cy="501.4" rx="230.9" ry="215.3" transform="rotate(146.8 416.0 501.4)"/>
<ellipse cx="414.6" cy="502.3" rx="239.6" ry="212.4" transform="rotate(117.0 414.6 502.3)"/>
<ellipse cx="434.8" cy="493.1" rx="260.9" ry="198.6" transform="rotate(127.6 434.8 493.1)"/>
<ellipse cx="413.9" cy="499.7" rx="223.0" ry="209.0" transform="rotate(104.2 413.9 499.7)"/>
<ellipse cx="421.7" cy="497.9" rx="236.8" ry="222.5" transform="rotate(144.8 421.7 497.9)"/>
<ellipse cx="423.4" cy="494.7" rx="239.2" ry="202.2" transform="rotate(-76.0 423.4 494.7)"/>
<ellipse cx="419.4" cy="498.6" rx="238.1" ry="211.6" transform="rotate(144.1 419.4 498.6)"/>
<ellipse cx="409.8" cy="505.5" rx="229.2" ry="213.5" transform="rotate(153.1 409.8 505.5)"/>
<ellipse cx="418.2" cy="488.5" rx="232.0" ry="206.7" transform="rotate(-83.4 418.2 488.5)"/>
<ellipse cx="425.6" cy="499.8" rx="243.7" ry="215.7" transform="rotate(150.0 425.6 499.8)"/>
<ellipse cx="436.1" cy="498.4" rx="265.0" ry="208.6" transform="rotate(135.7 436.1 498.4)"/>
<ellipse cx="408.5" cy="510.9" rx="227.4" ry="201.0" transform="rotate(151.1 408.5 510.9)"/>
<ellipse cx="425.7" cy="506.7" rx="256.8" ry="210.0" transform="rotate(138.9 425.7 506.7)"/>
<ellipse cx="418.8" cy="498.9" rx="229.1" ry="222.6" transform="rotate(147.0 418.8 498.9)"/>
<ellipse cx="436.6" cy="488.5" rx="264.6" ry="217.1" transform="rotate(139.9 436.6 488.5)"/>
<ellipse cx="423.8" cy="497.1" rx="251.2" ry="209.8" transform="rotate(136.1 423.8 497.1)"/>
<ellipse cx="420.5" cy="508.7" rx="247.8" ry="206.5" transform="rotate(154.0 420.5 508.7)"/>
<ellipse cx="415.8" cy="505.3" rx="229.8" ry="208.4" transform="rotate(138.3 415.8 505.3)"/>
<ellipse cx="425.7" cy="498.8" rx="253.1" ry="210.7" transform="rotate(138.3 425.7 498.8)"/>
<ellipse cx="448.9" cy="483.3" rx="280.9" ry="225.8" transform="rotate(137.0 448.9 483.3)"/>
<ellipse cx="433.5" cy="498.3" rx="263.0" ry="206.8" transform="rotate(139.6 433.5 498.3)"/>
<ellipse cx="431.6" cy="489.2" rx="253.3" ry="221.3" transform="rotate(125.9 431.6 489.2)"/>
<ellipse cx="413.6" cy="499.4" rx="231.4" ry="215.0" transform="rotate(142.8 413.6 499.4)"/>
<ellipse cx="438.4" cy="495.2" rx="264.1" ry="205.0" transform="rotate(130.5 438.4 495.2)"/>
<ellipse cx="417.3" cy="505.2" rx="235.2" ry="206.1" transform="rotate(139.1 417.3 505.2)"/>
<ellipse cx="424.7" cy="501.8" rx="255.9" ry="211.1" transform="rotate(131.0 424.7 501.8)"/>
<ellipse cx="414.0" cy="499.6" rx="227.5" ry="209.1" transform="rotate(119.2 414.0 499.6)"/>
<ellipse cx="408.5" cy="504.2" rx="219.7" ry="213.3" transform="rotate(-167.5 408.5 504.2)"/>
<ellipse cx="445.9" cy="490.8" rx="284.5" ry="210.9" transform="rotate(149.7 445.9 490.8)"/>
<ellipse cx="407.0" cy="512.2" rx="217.9" ry="205.5" transform="rotate(144.7 407.0 512.2)"/>
<ellipse cx="411.9" cy="506.2" rx="237.5" ry="214.8" transform="rotate(140.1 411.9 506.2)"/>
<ellipse cx="430.5" cy="493.8" rx="238.4" ry="216.9" transform="rotate(126.6 430.5 493.8)"/>
<ellipse cx="420.9" cy="495.6" rx="238.1" ry="221.1" transform="rotate(122.9 420.9 495.6)"/>
<ellipse cx="439.9" cy="488.7" rx="266.1" ry="212.9" transform="rotate(131.7 439.9 488.7)"/>
<ellipse cx="424.1" cy="498.7" rx="250.3" ry="222.6" transform="rotate(144.3 424.1 498.7)"/>
<ellipse cx="434.0" cy="486.4" rx="249.3" ry="208.5" transform="rotate(-75.0 434.0 486.4)"/>
<ellipse cx="433.7" cy="482.5" rx="243.4" ry="204.1" transform="rotate(117.8 433.7 482.5)"/>
<ellipse cx="431.7" cy="500.3" rx="251.6" ry="207.1" transform="rotate(138.3 431.7 500.3)"/>
<ellipse cx="431.3" cy="496.4" rx="258.2" ry="210.0" transform="rotate(123.1 431.3 496.4)"/>
<ellipse cx="436.2" cy="498.2" rx="266.8" ry="215.0" transform="rotate(152.8 436.2 498.2)"/>
<ellipse cx="420.9" cy="491.0" rx="230.3" ry="207.2" transform="rotate(114.2 420.9 491.0)"/>
<ellipse cx="422.7" cy="493.8" rx="250.2" ry="226.4" transform="rotate(131.3 422.7 493.8)"/>
<ellipse cx="422.4" cy="500.0" rx="235.6" ry="207.0" transform="rotate(117.5 422.4 500.0)"/>
<ellipse cx="425.7" cy="505.1" rx="252.1" ry="209.2" transform="rotate(142.7 425.7 505.1)"/>
<ellipse cx="421.7" cy="502.5" rx="253.6" ry="212.1" transform="rotate(146.9 421.7 502.5)"/>
<ellipse cx="415.2" cy="501.9" rx="233.1" ry="209.8" transform="rotate(159.5 415.2 501.9)"/>
<ellipse cx="425.8" cy="492.7" rx="244.3" ry="215.7" transform="rotate(129.9 425.8 492.7)"/>
<ellipse cx="429.6" cy="483.8" rx="250.1" ry="213.5" transform="rotate(124.9 429.6 483.8)"/>
<ellipse cx="413.8" cy="498.3" rx="234.1" ry="213.8" transform="rotate(143.9 413.8 498.3)"/>
<ellipse cx="410.0" cy="506.7" rx="230.2" ry="209.5" transform="rotate(131.3 410.0 506.7)"/>
<ellipse cx="434.4" cy="482.7" rx="257.4" ry="212.1" transform="rotate(116.7 434.4 482.7)"/>
<ellipse cx="416.0" cy="510.1" rx="243.7" ry="203.7" transform="rotate(140.9 416.0 510.1)"/>
<ellipse cx="441.4" cy="482.6" rx="260.2" ry="215.8" transform="rotate(129.7 441.4 482.6)"/>
<ellipse cx="412.9" cy="502.3" rx="230.7" ry="213.2" transform="rotate(151.0 412.9 502.3)"/>
<ellipse cx="413.9" cy="504.9" rx="224.0" ry="211.1" transform="rotate(128.7 413.9 504.9)"/>
<ellipse cx="417.6" cy="511.8" rx="248.2" ry="205.0" transform="rotate(162.9 417.6 511.8)"/>
<ellipse cx="416.7" cy="503.5" rx="233.5" ry="215.6" transform="rotate(132.9 416.7 503.5)"/>
<ellipse cx="445.1" cy="486.8" rx="284.1" ry="213.8" transform="rotate(135.9 445.1 486.8)"/>
<ellipse cx="436.2" cy="486.3" rx="261.7" ry="223.9" transform="rotate(142.6 436.2 486.3)"/>
<ellipse cx="425.4" cy="499.9" rx="244.6" ry="203.5" transform="rotate(135.5 425.4 499.9)"/>
<ellipse cx="440.9" cy="494.4" rx="269.2" ry="206.2" transform="rotate(139.7 440.9 494.4)"/>
<ellipse cx="429.8" cy="490.4" rx="250.3" ry="214.6" transform="rotate(135.2 429.8 490.4)"/>
<ellipse cx="428.9" cy="494.2" rx="246.8" ry="205.7" transform="rotate(126.2 428.9 494.2)"/>
<ellipse cx="426.3" cy="494.2" rx="242.2" ry="214.6" transform="rotate(129.6 426.3 494.2)"/>
<ellipse cx="413.7" cy="514.3" rx="243.4" ry="203.7" transform="rotate(153.4 413.7 514.3)"/>
<ellipse cx="418.2" cy="512.4" rx="249.4" ry="198.7" transform="rotate(151.9 418.2 512.4)"/>
<ellipse cx="422.8" cy="493.7" rx="239.9" ry="214.9" transform="rotate(136.0 422.8 493.7)"/>
<ellipse cx="427.7" cy="501.8" rx="260.5" ry="210.6" transform="rotate(142.6 427.7 501.8)"/>
<ellipse cx="431.9" cy="493.8" rx="267.8" ry="231.1" transform="rotate(137.0 431.9 493.8)"/>
<ellipse cx="436.5" cy="491.6" rx="266.2" ry="223.0" transform="rotate(139.7 436.5 491.6)"/>
<ellipse cx="427.2" cy="491.5" rx="239.5" ry="206.7" transform="rotate(120.1 427.2 491.5)"/>
<ellipse cx="420.8" cy="498.3" rx="242.4" ry="216.5" transform="rotate(165.0 420.8 498.3)"/>
<ellipse cx="427.8" cy="489.6" rx="251.6" ry="217.3" transform="rotate(126.8 427.8 489.6)"/>
<ellipse cx="424.3" cy="501.4" rx="244.5" ry="213.3" transform="rotate(140.9 424.3 501.4)"/>
<ellipse cx="416.8" cy="502.5" rx="231.9" ry="216.6" transform="rotate(121.0 416.8 502.5)"/>
<ellipse cx="422.6" cy="504.4" rx="247.3" ry="201.6" transform="rotate(149.2 422.6 504.4)"/>
<ellipse cx="427.5" cy="497.4" rx="246.2" ry="211.6" transform="rotate(132.4 427.5 497.4)"/>
<ellipse cx="425.8" cy="495.5" rx="245.4" ry="221.2" transform="rotate(137.9 425.8 495.5)"/>
<ellipse cx="428.4" cy="488.4" rx="245.3" ry="220.3" transform="rotate(124.3 428.4 488.4)"/>
<ellipse cx="440.8" cy="491.1" rx="276.9" ry="227.9" transform="rotate(144.3 440.8 491.1)"/>
<ellipse cx="398.5" cy="513.4" rx="232.0" ry="202.9" transform="rotate(166.4 398.5 513.4)"/>
<ellipse cx="419.2" cy="496.1" rx="235.8" ry="220.4" transform="rotate(115.7 419.2 496.1)"/>
<ellipse cx="420.9" cy="499.0" rx="241.4" ry="216.5" transform="rotate(152.3 420.9 499.0)"/>
<ellipse cx="438.6" cy="486.5" rx="266.2" ry="214.4" transform="rotate(131.1 438.6 486.5)"/>
<ellipse cx="427.6" cy="500.7" rx="250.9" ry="214.2" transform="rotate(147.7 427.6 500.7)"/>
<ellipse cx="439.5" cy="487.8" rx="274.7" ry="222.4" transform="rotate(137.1 439.5 487.8)"/>
<ellipse cx="417.2" cy="502.3" rx="223.2" ry="208.9" transform="rotate(132.3 417.2 502.3)"/>
<ellipse cx="413.0" cy="508.5" rx="241.3" ry="207.4" transform="rotate(149.6 413.0 508.5)"/>
<ellipse cx="399.7" cy="510.2" rx="240.4" ry="197.7" transform="rotate(179.9 399.7 510.2)"/>
<ellipse cx="427.9" cy="493.1" rx="242.6" ry="211.5" transform="rotate(130.4 427.9 493.1)"/>
<ellipse cx="406.2" cy="520.2" rx="243.7" ry="199.9" transform="rotate(159.7 406.2 520.2)"/>
<ellipse cx="420.6" cy="501.8" rx="237.6" ry="213.1" transform="rotate(153.0 420.6 501.8)"/>
<ellipse cx="433.4" cy="482.2" rx="240.3" ry="217.8" transform="rotate(122.3 433.4 482.2)"/>
<ellipse cx="422.8" cy="503.2" rx="252.3" ry="218.0" transform="rotate(151.9 422.8 503.2)"/>
<ellipse cx="438.6" cy="498.3" rx="275.3" ry="212.6" transform="rotate(136.0 438.6 498.3)"/>
<ellipse cx="414.2" cy="499.0" rx="223.2" ry="210.5" transform="rotate(114.8 414.2 499.0)"/>
<ellipse cx="430.5" cy="493.0" rx="250.3" ry="222.4" transform="rotate(153.1 430.5 493.0)"/>
<ellipse cx="423.6" cy="503.5" rx="250.5" ry="219.5" transform="rotate(138.3 423.6 503.5)"/>
<ellipse cx="416.7" cy="500.5" rx="230.0" ry="219.4" transform="rotate(158.2 416.7 500.5)"/>
<ellipse cx="448.4" cy="479.9" rx="280.1" ry="214.2" transform="rotate(130.6 448.4 479.9)"/>
<ellipse cx="430.4" cy="487.8" rx="245.9" ry="213.3" transform="rotate(125.1 430.4 487.8)"/>
<ellipse cx="441.1" cy="486.4" rx="267.1" ry="217.1" transform="rotate(131.7 441.1 486.4)"/>
<ellipse cx="406.7" cy="507.3" rx="214.5" ry="208.3" transform="rotate(112.3 406.7 507.3)"/>
<ellipse cx="406.6" cy="518.8" rx="233.8" ry="201.4" transform="rotate(165.7 406.6 518.8)"/>
<ellipse cx="420.5" cy="494.0" rx="231.5" ry="217.2" transform="rotate(145.7 420.5 494.0)"/>
<ellipse cx="446.1" cy="482.8" rx="268.0" ry="216.9" transform="rotate(141.3 446.1 482.8)"/>
<ellipse cx="434.9" cy="483.7" rx="257.1" ry="210.8" transform="rotate(120.1 434.9 483.7)"/>
<ellipse cx="417.9" cy="510.4" rx="253.5" ry="213.9" transform="rotate(162.0 417.9 510.4)"/>
<ellipse cx="432.5" cy="489.2" rx="252.6" ry="210.1" transform="rotate(118.2 432.5 489.2)"/>
<ellipse cx="436.2" cy="490.4" rx="261.5" ry="211.4" transform="rotate(136.3 436.2 490.4)"/>
<ellipse cx="427.8" cy="492.5" rx="247.7" ry="204.4" transform="rotate(124.3 427.8 492.5)"/>
<ellipse cx="415.4" cy="502.4" rx="223.3" ry="213.2" transform="rotate(-77.2 415.4 502.4)"/>
<ellipse cx="422.8" cy="504.0" rx="246.5" ry="202.2" transform="rotate(136.8 422.8 504.0)"/>
<ellipse cx="420.2" cy="495.5" rx="236.4" ry="205.6" transform="rotate(119.3 420.2 495.5)"/>
<ellipse cx="415.6" cy="499.3" rx="221.0" ry="208.7" transform="rotate(136.0 415.6 499.3)"/>
<ellipse cx="428.9" cy="493.5" rx="255.9" ry="218.8" transform="rotate(139.6 428.9 493.5)"/>
<ellipse cx="424.1" cy="494.1" rx="237.7" ry="217.1" transform="rotate(109.5 424.1 494.1)"/>
<ellipse cx="417.0" cy="504.9" rx="245.0" ry="202.6" transform="rotate(137.8 417.0 504.9)"/>
<ellipse cx="435.5" cy="487.7" rx="261.7" ry="210.2" transform="rotate(127.0 435.5 487.7)"/>
<ellipse cx="442.0" cy="493.4" rx="267.8" ry="221.3" transform="rotate(141.9 442.0 493.4)"/>
<ellipse cx="419.3" cy="495.4" rx="238.3" ry="214.3" transform="rotate(108.1 419.3 495.4)"/>
<ellipse cx="437.7" cy="490.2" rx="255.6" ry="201.9" transform="rotate(115.3 437.7 490.2)"/>
<ellipse cx="428.0" cy="489.3" rx="244.2" ry="206.1" transform="rotate(123.9 428.0 489.3)"/>
<ellipse cx="440.5" cy="491.6" rx="273.0" ry="209.8" transform="rotate(126.9 440.5 491.6)"/>
<ellipse cx="433.0" cy="493.6" rx="255.7" ry="209.2" transform="rotate(138.2 433.0 493.6)"/>
<ellipse cx="420.0" cy="505.6" rx="227.8" ry="206.6" transform="rotate(129.7 420.0 505.6)"/>
<ellipse cx="421.7" cy="502.7" rx="241.4" ry="210.7" transform="rotate(137.1 421.7 502.7)"/>
<ellipse cx="418.3" cy="503.9" rx="242.4" ry="222.4" transform="rotate(155.4 418.3 503.9)"/>
<ellipse cx="418.6" cy="503.0" rx="236.7" ry="210.2" transform="rotate(135.9 418.6 503.0)"/>
<ellipse cx="429.2" cy="493.9" rx="245.0" ry="214.5" transform="rotate(132.1 429.2 493.9)"/>
<ellipse cx="425.2" cy="513.1" rx="253.2" ry="197.6" transform="rotate(136.7 425.2 513.1)"/>
<ellipse cx="414.5" cy="508.4" rx="230.7" ry="203.2" transform="rotate(138.9 414.5 508.4)"/>
<ellipse cx="425.1" cy="490.9" rx="245.7" ry="208.8" transform="rotate(124.1 425.1 490.9)"/>
<ellipse cx="437.1" cy="502.1" rx="261.9" ry="196.1" transform="rotate(126.3 437.1 502.1)"/>
<ellipse cx="429.1" cy="493.5" rx="252.8" ry="215.4" transform="rotate(136.4 429.1 493.5)"/>
<ellipse cx="425.6" cy="500.6" rx="249.3" ry="210.0" transform="rotate(135.3 425.6 500.6)"/>
<ellipse cx="427.6" cy="489.7" rx="238.3" ry="209.6" transform="rotate(129.3 427.6 489.7)"/>
<ellipse cx="430.3" cy="495.1" rx="245.4" ry="228.8" transform="rotate(142.3 430.3 495.1)"/>
<ellipse cx="413.4" cy="506.7" rx="229.0" ry="201.4" transform="rotate(143.7 413.4 506.7)"/>
<ellipse cx="435.6" cy="487.9" rx="252.2" ry="212.2" transform="rotate(134.8 435.6 487.9)"/>
<ellipse cx="423.5" cy="495.1" rx="243.9" ry="219.5" transform="rotate(121.1 423.5 495.1)"/>
<ellipse cx="410.5" cy="511.0" rx="227.5" ry="205.2" transform="rotate(135.2 410.5 511.0)"/>
<ellipse cx="410.7" cy="509.1" rx="232.0" ry="211.2" transform="rotate(148.6 410.7 509.1)"/>
<ellipse cx="412.9" cy="501.7" rx="225.4" ry="212.1" transform="rotate(110.6 412.9 501.7)"/>
<ellipse cx="414.7" cy="506.0" rx="237.8" ry="214.1" transform="rotate(157.1 414.7 506.0)"/>
<ellipse cx="414.4" cy="510.0" rx="235.4" ry="208.5" transform="rotate(148.9 414.4 510.0)"/>
<ellipse cx="415.4" cy="503.5" rx="244.2" ry="215.8" transform="rotate(163.2 415.4 503.5)"/>
<ellipse cx="417.1" cy="500.8" rx="233.4" ry="212.5" transform="rotate(133.9 417.1 500.8)"/>
<ellipse cx="427.7" cy="494.6" rx="250.1" ry="227.2" transform="rotate(134.4 427.7 494.6)"/>
<ellipse cx="427.7" cy="504.3" rx="248.6" ry="205.3" transform="rotate(139.3 427.7 504.3)"/>
<ellipse cx="427.5" cy="493.7" rx="258.2" ry="208.8" transform="rotate(124.3 427.5 493.7)"/>
<ellipse cx="437.2" cy="495.7" rx="269.0" ry="212.3" transform="rotate(132.1 437.2 495.7)"/>
<ellipse cx="421.9" cy="502.2" rx="251.9" ry="211.2" transform="rotate(144.5 421.9 502.2)"/>
<ellipse cx="439.2" cy="481.9" rx="261.4" ry="226.9" transform="rotate(129.4 439.2 481.9)"/>
<ellipse cx="411.9" cy="512.2" rx="242.1" ry="201.8" transform="rotate(163.7 411.9 512.2)"/>
<ellipse cx="432.7" cy="492.9" rx="259.4" ry="215.9" transform="rotate(133.4 432.7 492.9)"/>
<ellipse cx="413.2" cy="518.3" rx="243.9" ry="201.8" transform="rotate(166.1 413.2 518.3)"/>
<ellipse cx="435.8" cy="492.1" rx="255.5" ry="221.3" transform="rotate(147.4 435.8 492.1)"/>
<ellipse cx="418.3" cy="505.8" rx="239.8" ry="214.6" transform="rotate(128.9 418.3 505.8)"/>
<ellipse cx="440.8" cy="493.2" rx="275.0" ry="210.2" transform="rotate(129.1 440.8 493.2)"/>
<ellipse cx="462.3" cy="482.7" rx="310.1" ry="221.0" transform="rotate(136.3 462.3 482.7)"/>
<ellipse cx="421.8" cy="509.3" rx="244.5" ry="193.2" transform="rotate(142.9 421.8 509.3)"/>
<ellipse cx="420.8" cy="484.9" rx="233.2" ry="212.1" transform="rotate(-81.0 420.8 484.9)"/>
<ellipse cx="413.6" cy="502.3" rx="243.2" ry="219.8" transform="rotate(126.2 413.6 502.3)"/>
<ellipse cx="431.5" cy="496.3" rx="256.0" ry="207.1" transform="rotate(133.4 431.5 496.3)"/>
<ellipse cx="432.1" cy="498.5" rx="255.8" ry="208.0" transform="rotate(127.1 432.1 498.5)"/>
<ellipse cx="418.1" cy="504.9" rx="230.5" ry="209.5" transform="rotate(128.8 418.1 504.9)"/>
<ellipse cx="410.0" cy="506.4" rx="225.2" ry="214.1" transform="rotate(153.8 410.0 506.4)"/>
<ellipse cx="440.3" cy="489.5" rx="279.5" ry="218.0" transform="rotate(138.5 440.3 489.5)"/>
<ellipse cx="453.6" cy="484.3" rx="282.2" ry="209.9" transform="rotate(128.4 453.6 484.3)"/>
<ellipse cx="430.5" cy="498.7" rx="257.4" ry="212.4" transform="rotate(144.7 430.5 498.7)"/>
<ellipse cx="434.7" cy="494.5" rx="261.3" ry="218.6" transform="rotate(141.6 434.7 494.5)"/>
<ellipse cx="434.3" cy="484.5" rx="261.1" ry="222.2" transform="rotate(133.7 434.3 484.5)"/>
<ellipse cx="419.0" cy="508.9" rx="250.3" ry="205.5" transform="rotate(159.9 419.0 508.9)"/>
<ellipse cx="429.3" cy="494.2" rx="247.3" ry="221.1" transform="rotate(134.8 429.3 494.2)"/>
<ellipse cx="422.8" cy="489.8" rx="233.6" ry="211.7" transform="rotate(119.0 422.8 489.8)"/>
<ellipse cx="433.5" cy="495.3" rx="257.0" ry="206.5" transform="rotate(138.9 433.5 495.3)"/>
<ellipse cx="449.8" cy="479.9" rx="290.3" ry="219.1" transform="rotate(130.7 449.8 479.9)"/>
<ellipse cx="434.7" cy="488.2" rx="256.0" ry="222.5" transform="rotate(134.9 434.7 488.2)"/>
<ellipse cx="438.4" cy="483.5" rx="256.8" ry="210.0" transform="rotate(124.5 438.4 483.5)"/>
<ellipse cx="432.0" cy="497.7" rx="255.3" ry="217.2" transform="rotate(141.4 432.0 497.7)"/>
<ellipse cx="428.3" cy="496.4" rx="265.2" ry="223.9" transform="rotate(156.0 428.3 496.4)"/>
<ellipse cx="434.9" cy="494.1" rx="271.5" ry="217.6" transform="rotate(137.3 434.9 494.1)"/>
<ellipse cx="418.9" cy="512.1" rx="243.2" ry="207.1" transform="rotate(149.0 418.9 512.1)"/>
<ellipse cx="428.6" cy="495.5" rx="239.1" ry="200.5" transform="rotate(115.1 428.6 495.5)"/>
<ellipse cx="400.7" cy="513.3" rx="235.5" ry="202.6" transform="rotate(171.5 400.7 513.3)"/>
<ellipse cx="416.8" cy="497.6" rx="239.1" ry="212.6" transform="rotate(138.3 416.8 497.6)"/>
<ellipse cx="410.7" cy="506.9" rx="220.6" ry="203.0" transform="rotate(145.9 410.7 506.9)"/>
<ellipse cx="421.8" cy="507.4" rx="227.1" ry="198.9" transform="rotate(139.8 421.8 507.4)"/>
<ellipse cx="427.3" cy="488.7" rx="240.0" ry="212.8" transform="rotate(117.7 427.3 488.7)"/>
<ellipse cx="411.2" cy="494.7" rx="225.9" ry="221.0" transform="rotate(-94.1 411.2 494.7)"/>
<ellipse cx="430.1" cy="501.7" rx="265.5" ry="208.2" transform="rotate(143.4 430.1 501.7)"/>
<ellipse cx="431.4" cy="494.9" rx="253.2" ry="217.9" transform="rotate(136.0 431.4 494.9)"/>
<ellipse cx="426.1" cy="494.5" rx="251.6" ry="210.1" transform="rotate(136.0 426.1 494.5)"/>
<ellipse cx="434.0" cy="497.6" rx="252.1" ry="212.8" transform="rotate(132.5 434.0 497.6)"/>
<ellipse cx="444.7" cy="487.9" rx="271.9" ry="211.8" transform="rotate(134.2 444.7 487.9)"/>
<ellipse cx="413.6" cy="501.8" rx="228.9" ry="209.5" transform="rotate(140.0 413.6 501.8)"/>
<ellipse cx="415.4" cy="506.3" rx="232.1" ry="205.7" transform="rotate(135.9 415.4 506.3)"/>
<ellipse cx="425.0" cy="501.6" rx="249.4" ry="207.9" transform="rotate(140.7 425.0 501.6)"/>
<ellipse cx="410.3" cy="504.4" rx="224.9" ry="216.0" transform="rotate(152.5 410.3 504.4)"/>
<ellipse cx="401.5" cy="516.7" rx="228.0" ry="197.6" transform="rotate(153.8 401.5 516.7)"/>
<ellipse cx="422.0" cy="501.3" rx="239.3" ry="215.0" transform="rotate(144.0 422.0 501.3)"/>
<ellipse cx="426.1" cy="502.2" rx="256.1" ry="216.4" transform="rotate(143.7 426.1 502.2)"/>
<ellipse cx="429.4" cy="491.4" rx="237.2" ry="208.7" transform="rotate(127.6 429.4 491.4)"/>
<ellipse cx="409.0" cy="500.8" rx="235.4" ry="221.1" transform="rotate(156.9 409.0 500.8)"/>
<ellipse cx="429.4" cy="494.1" rx="246.1" ry="211.1" transform="rotate(139.4 429.4 494.1)"/>
<ellipse cx="387.3" cy="517.1" rx="214.8" ry="201.4" transform="rotate(-165.5 387.3 517.1)"/>
<ellipse cx="408.3" cy="509.0" rx="239.6" ry="213.8" transform="rotate(146.0 408.3 509.0)"/>
<ellipse cx="415.2" cy="499.6" rx="230.2" ry="205.0" transform="rotate(121.4 415.2 499.6)"/>
<ellipse cx="414.3" cy="499.9" rx="243.0" ry="207.8" transform="rotate(145.1 414.3 499.9)"/>
<ellipse cx="419.3" cy="495.2" rx="239.0" ry="218.8" transform="rotate(142.4 419.3 495.2)"/>
<ellipse cx="433.6" cy="495.3" rx="254.2" ry="213.2" transform="rotate(141.2 433.6 495.3)"/>
<ellipse cx="438.5" cy="488.2" rx="264.5" ry="220.0" transform="rotate(133.7 438.5 488.2)"/>
<ellipse cx="415.9" cy="504.2" rx="249.3" ry="212.2" transform="rotate(149.4 415.9 504.2)"/>
<ellipse cx="419.7" cy="500.6" rx="233.3" ry="205.8" transform="rotate(126.0 419.7 500.6)"/>
<ellipse cx="413.3" cy="492.8" rx="229.1" ry="212.1" transform="rotate(-76.9 413.3 492.8)"/>
<ellipse cx="396.9" cy="513.9" rx="226.1" ry="211.2" transform="rotate(164.3 396.9 513.9)"/>
<ellipse cx="421.5" cy="495.6" rx="242.1" ry="213.2" transform="rotate(151.2 421.5 495.6)"/>
<ellipse cx="450.4" cy="475.9" rx="265.2" ry="221.2" transform="rotate(119.0 450.4 475.9)"/>
<ellipse cx="427.3" cy="492.7" rx="251.9" ry="221.7" transform="rotate(125.9 427.3 492.7)"/>
<ellipse cx="427.7" cy="500.1" rx="239.7" ry="202.3" transform="rotate(129.9 427.7 500.1)"/>
<ellipse cx="433.7" cy="490.2" rx="247.8" ry="216.5" transform="rotate(135.5 433.7 490.2)"/>
<ellipse cx="440.9" cy="489.2" rx="269.4" ry="216.8" transform="rotate(132.9 440.9 489.2)"/>
<ellipse cx="407.9" cy="505.7" rx="224.6" ry="208.9" transform="rotate(148.8 407.9 505.7)"/>
<ellipse cx="403.9" cy="514.1" rx="221.6" ry="198.5" transform="rotate(159.9 403.9 514.1)"/>
<ellipse cx="412.1" cy="501.8" rx="227.4" ry="196.6" transform="rotate(120.2 412.1 501.8)"/>
<ellipse cx="433.8" cy="497.9" rx="264.6" ry="216.0" transform="rotate(138.1 433.8 497.9)"/>
<ellipse cx="450.9" cy="478.8" rx="284.9" ry="236.3" transform="rotate(132.8 450.9 478.8)"/>
<ellipse cx="436.7" cy="484.4" rx="254.7" ry="209.4" transform="rotate(124.8 436.7 484.4)"/>
<ellipse cx="433.0" cy="493.7" rx="261.7" ry="213.7" transform="rotate(134.7 433.0 493.7)"/>
<ellipse cx="422.0" cy="501.5" rx="230.6" ry="203.4" transform="rotate(129.1 422.0 501.5)"/>
<ellipse cx="424.5" cy="494.6" rx="244.8" ry="215.8" transform="rotate(121.7 424.5 494.6)"/>
<ellipse cx="434.3" cy="486.7" rx="249.7" ry="202.3" transform="rotate(111.5 434.3 486.7)"/>
<ellipse cx="430.8" cy="496.9" rx="250.1" ry="217.2" transform="rotate(137.8 430.8 496.9)"/>
<ellipse cx="403.1" cy="513.4" rx="229.3" ry="210.5" transform="rotate(-178.5 403.1 513.4)"/>
<ellipse cx="410.8" cy="506.4" rx="236.1" ry="211.6" transform="rotate(162.9 410.8 506.4)"/>
<ellipse cx="433.7" cy="492.2" rx="261.7" ry="213.3" transform="rotate(139.3 433.7 492.2)"/>
<ellipse cx="443.4" cy="472.4" rx="266.4" ry="215.9" transform="rotate(115.8 443.4 472.4)"/>
<ellipse cx="425.0" cy="502.6" rx="257.4" ry="211.7" transform="rotate(152.9 425.0 502.6)"/>
<ellipse cx="403.4" cy="511.1" rx="240.2" ry="210.7" transform="rotate(164.9 403.4 511.1)"/>
<ellipse cx="426.1" cy="495.1" rx="241.6" ry="211.1" transform="rotate(135.1 426.1 495.1)"/>
<ellipse cx="418.4" cy="499.0" rx="232.2" ry="214.7" transform="rotate(142.6 418.4 499.0)"/>
<ellipse cx="419.6" cy="500.0" rx="237.8" ry="212.2" transform="rotate(130.8 419.6 500.0)"/>
<ellipse cx="431.1" cy="493.9" rx="252.7" ry="220.2" transform="rotate(138.6 431.1 493.9)"/>
<ellipse cx="414.6" cy="503.1" rx="243.8" ry="213.7" transform="rotate(154.1 414.6 503.1)"/>
<ellipse cx="425.2" cy="485.7" rx="230.4" ry="213.3" transform="rotate(112.3 425.2 485.7)"/>
<ellipse cx="428.4" cy="489.5" rx="250.5" ry="217.2" transform="rotate(133.6 428.4 489.5)"/>
<ellipse cx="453.0" cy="479.4" rx="293.7" ry="218.4" transform="rotate(130.6 453.0 479.4)"/>
<ellipse cx="433.9" cy="490.8" rx="250.9" ry="216.0" transform="rotate(128.1 433.9 490.8)"/>
<ellipse cx="451.3" cy="487.7" rx="279.4" ry="215.4" transform="rotate(137.7 451.3 487.7)"/>
<ellipse cx="424.4" cy="503.4" rx="251.9" ry="211.4" transform="rotate(150.7 424.4 503.4)"/>
<ellipse cx="394.1" cy="526.0" rx="222.6" ry="188.3" transform="rotate(178.6 394.1 526.0)"/>
<ellipse cx="430.9" cy="502.3" rx="270.3" ry="221.4" transform="rotate(145.2 430.9 502.3)"/>
<ellipse cx="439.7" cy="480.7" rx="259.7" ry="208.4" transform="rotate(120.9 439.7 480.7)"/>
<ellipse cx="449.1" cy="483.1" rx="280.1" ry="227.6" transform="rotate(132.9 449.1 483.1)"/>
<ellipse cx="435.0" cy="502.0" rx="275.4" ry="211.3" transform="rotate(147.7 435.0 502.0)"/>
<ellipse cx="424.5" cy="509.4" rx="249.9" ry="205.7" transform="rotate(157.3 424.5 509.4)"/>
<ellipse cx="423.4" cy="492.5" rx="249.8" ry="219.1" transform="rotate(133.1 423.4 492.5)"/>
<ellipse cx="419.4" cy="504.2" rx="244.0" ry="210.9" transform="rotate(140.5 419.4 504.2)"/>
<ellipse cx="408.3" cy="503.5" rx="221.7" ry="213.1" transform="rotate(165.8 408.3 503.5)"/>
<ellipse cx="421.4" cy="495.5" rx="234.0" ry="209.2" transform="rotate(123.4 421.4 495.5)"/>
<ellipse cx="425.1" cy="495.5" rx="251.3" ry="221.1" transform="rotate(143.1 425.1 495.5)"/>
<ellipse cx="419.8" cy="503.3" rx="246.4" ry="210.9" transform="rotate(143.4 419.8 503.3)"/>
<ellipse cx="440.7" cy="491.1" rx="274.5" ry="211.8" transform="rotate(133.3 440.7 491.1)"/>
<ellipse cx="423.6" cy="505.9" rx="258.1" ry="216.5" transform="rotate(158.1 423.6 505.9)"/>
<ellipse cx="438.2" cy="485.9" rx="259.2" ry="218.0" transform="rotate(133.3 438.2 485.9)"/>
<ellipse cx="427.9" cy="498.0" rx="240.1" ry="207.5" transform="rotate(126.2 427.9 498.0)"/>
<ellipse cx="429.6" cy="498.0" rx="250.4" ry="220.1" transform="rotate(153.4 429.6 498.0)"/>
<ellipse cx="431.5" cy="496.8" rx="252.2" ry="212.9" transform="rotate(137.5 431.5 496.8)"/>
<ellipse cx="430.7" cy="501.9" rx="280.8" ry="210.9" transform="rotate(143.0 430.7 501.9)"/>
<ellipse cx="430.4" cy="499.1" rx="255.0" ry="213.3" transform="rotate(137.3 430.4 499.1)"/>
<ellipse cx="421.7" cy="498.8" rx="243.6" ry="214.0" transform="rotate(141.2 421.7 498.8)"/>
<ellipse cx="424.8" cy="494.3" rx="243.7" ry="216.8" transform="rotate(138.1 424.8 494.3)"/>
<ellipse cx="424.8" cy="507.4" rx="256.3" ry="205.0" transform="rotate(145.0 424.8 507.4)"/>
<ellipse cx="418.7" cy="503.5" rx="242.2" ry="211.3" transform="rotate(147.5 418.7 503.5)"/>
<ellipse cx="430.3" cy="500.2" rx="257.1" ry="213.6" transform="rotate(149.4 430.3 500.2)"/>
<ellipse cx="438.9" cy="489.0" rx="270.0" ry="216.5" transform="rotate(128.4 438.9 489.0)"/>
<ellipse cx="418.6" cy="501.6" rx="235.6" ry="212.8" transform="rotate(136.7 418.6 501.6)"/>
<ellipse cx="424.3" cy="500.4" rx="236.8" ry="212.0" transform="rotate(130.6 424.3 500.4)"/>
<ellipse cx="445.0" cy="488.4" rx="283.4" ry="219.7" transform="rotate(138.4 445.0 488.4)"/>
<ellipse cx="415.2" cy="498.6" rx="235.8" ry="207.9" transform="rotate(139.4 415.2 498.6)"/>
<ellipse cx="415.8" cy="505.5" rx="227.7" ry="211.7" transform="rotate(136.0 415.8 505.5)"/>
<ellipse cx="414.4" cy="500.1" rx="230.5" ry="217.9" transform="rotate(142.6 414.4 500.1)"/>
<ellipse cx="435.5" cy="494.1" rx="259.0" ry="214.8" transform="rotate(132.8 435.5 494.1)"/>
<ellipse cx="419.4" cy="500.1" rx="234.6" ry="217.5" transform="rotate(148.3 419.4 500.1)"/>
<ellipse cx="411.5" cy="511.0" rx="238.2" ry="203.9" transform="rotate(175.0 411.5 511.0)"/>
<ellipse cx="399.8" cy="520.6" rx="235.5" ry="202.8" transform="rotate(159.2 399.8 520.6)"/>
<ellipse cx="415.6" cy="502.2" rx="230.0" ry="209.8" transform="rotate(135.8 415.6 502.2)"/>
<ellipse cx="430.1" cy="494.4" rx="248.9" ry="212.4" transform="rotate(138.5 430.1 494.4)"/>
<ellipse cx="429.3" cy="496.2" rx="251.2" ry="214.5" transform="rotate(136.1 429.3 496.2)"/>
<ellipse cx="430.9" cy="491.7" rx="247.7" ry="216.6" transform="rotate(126.0 430.9 491.7)"/>
<ellipse cx="428.3" cy="492.5" rx="250.7" ry="215.7" transform="rotate(127.7 428.3 492.5)"/>
<ellipse cx="417.5" cy="509.2" rx="238.6" ry="205.7" transform="rotate(131.8 417.5 509.2)"/>
<ellipse cx="423.9" cy="495.8" rx="235.0" ry="206.9" transform="rotate(129.0 423.9 495.8)"/>
<ellipse cx="406.6" cy="507.3" rx="226.8" ry="206.5" transform="rotate(157.0 406.6 507.3)"/>
<ellipse cx="455.1" cy="485.0" rx="293.9" ry="223.6" transform="rotate(138.8 455.1 485.0)"/>
<ellipse cx="423.5" cy="497.2" rx="232.9" ry="211.7" transform="rotate(118.3 423.5 497.2)"/>
<ellipse cx="420.5" cy="507.2" rx="257.9" ry="215.0" transform="rotate(156.7 420.5 507.2)"/>
<ellipse cx="422.6" cy="502.2" rx="250.1" ry="210.7" transform="rotate(144.4 422.6 502.2)"/>
<ellipse cx="419.7" cy="502.8" rx="243.0" ry="205.5" transform="rotate(145.2 419.7 502.8)"/>
<ellipse cx="434.9" cy="483.0" rx="252.6" ry="209.1" transform="rotate(117.1 434.9 483.0)"/>
<ellipse cx="427.6" cy="486.9" rx="243.6" ry="203.4" transform="rotate(112.9 427.6 486.9)"/>
<ellipse cx="418.2" cy="498.3" rx="226.7" ry="204.2" transform="rotate(142.1 418.2 498.3)"/>
<ellipse cx="412.9" cy="499.8" rx="221.8" ry="213.2" transform="rotate(106.1 412.9 499.8)"/>
<ellipse cx="428.3" cy="494.3" rx="236.2" ry="213.2" transform="rotate(124.6 428.3 494.3)"/>
<ellipse cx="422.6" cy="501.9" rx="232.9" ry="208.7" transform="rotate(134.8 422.6 501.9)"/>
<ellipse cx="436.4" cy="488.5" rx="266.6" ry="215.8" transform="rotate(131.6 436.4 488.5)"/>
<ellipse cx="421.1" cy="507.0" rx="243.9" ry="205.0" transform="rotate(142.9 421.1 507.0)"/>
<ellipse cx="398.2" cy="514.9" rx="227.0" ry="208.9" transform="rotate(175.3 398.2 514.9)"/>
<ellipse cx="426.9" cy="493.3" rx="250.7" ry="216.3" transform="rotate(134.0 426.9 493.3)"/>
<ellipse cx="419.2" cy="496.6" rx="230.3" ry="215.7" transform="rotate(124.7 419.2 496.6)"/>
<ellipse cx="412.6" cy="512.1" rx="231.6" ry="205.7" transform="rotate(172.9 412.6 512.1)"/>
<ellipse cx="423.5" cy="501.5" rx="248.8" ry="210.5" transform="rotate(145.8 423.5 501.5)"/>
<ellipse cx="438.7" cy="480.9" rx="255.1" ry="214.9" transform="rotate(125.5 438.7 480.9)"/>
<ellipse cx="436.9" cy="497.4" rx="259.7" ry="208.3" transform="rotate(127.6 436.9 497.4)"/>
<ellipse cx="407.8" cy="510.0" rx="225.8" ry="206.0" transform="rotate(154.1 407.8 510.0)"/>
<ellipse cx="425.9" cy="502.6" rx="248.7" ry="205.6" transform="rotate(141.6 425.9 502.6)"/>
<ellipse cx="423.9" cy="506.8" rx="246.5" ry="207.9" transform="rotate(148.6 423.9 506.8)"/>
<ellipse cx="411.9" cy="509.2" rx="227.3" ry="210.9" transform="rotate(135.5 411.9 509.2)"/>
<ellipse cx="430.0" cy="496.1" rx="251.4" ry="202.7" transform="rotate(129.8 430.0 496.1)"/>
<ellipse cx="432.9" cy="493.2" rx="258.9" ry="215.4" transform="rotate(135.0 432.9 493.2)"/>
<ellipse cx="428.6" cy="498.6" rx="265.6" ry="204.6" transform="rotate(160.7 428.6 498.6)"/>
<ellipse cx="406.0" cy="513.1" rx="224.0" ry="204.0" transform="rotate(162.6 406.0 513.1)"/>
<ellipse cx="421.9" cy="497.7" rx="236.2" ry="211.6" transform="rotate(106.3 421.9 497.7)"/>
<ellipse cx="430.8" cy="493.7" rx="260.7" ry="215.0" transform="rotate(142.1 430.8 493.7)"/>
<ellipse cx="419.7" cy="500.5" rx="238.8" ry="210.7" transform="rotate(134.7 419.7 500.5)"/>
<ellipse cx="429.8" cy="493.8" rx="248.7" ry="216.8" transform="rotate(138.4 429.8 493.8)"/>
<ellipse cx="431.0" cy="494.2" rx="247.8" ry="213.1" transform="rotate(125.0 431.0 494.2)"/>
<ellipse cx="435.8" cy="497.8" rx="273.6" ry="214.4" transform="rotate(144.9 435.8 497.8)"/>
<ellipse cx="419.1" cy="508.3" rx="236.0" ry="203.1" transform="rotate(139.1 419.1 508.3)"/>
<ellipse cx="435.0" cy="498.4" rx="270.4" ry="216.9" transform="rotate(141.5 435.0 498.4)"/>
<ellipse cx="424.8" cy="501.8" rx="249.0" ry="214.4" transform="rotate(136.8 424.8 501.8)"/>
<ellipse cx="424.0" cy="494.5" rx="246.7" ry="210.3" transform="rotate(123.0 424.0 494.5)"/>
<ellipse cx="413.7" cy="508.9" rx="241.4" ry="201.8" transform="rotate(160.8 413.7 508.9)"/>
<ellipse cx="412.5" cy="499.7" rx="223.6" ry="210.7" transform="rotate(-77.3 412.5 499.7)"/>
<ellipse cx="427.7" cy="504.4" rx="257.6" ry="213.2" transform="rotate(140.7 427.7 504.4)"/>
<ellipse cx="421.9" cy="500.0" rx="231.0" ry="206.3" transform="rotate(135.9 421.9 500.0)"/>
<ellipse cx="431.7" cy="499.0" rx="257.9" ry="211.1" transform="rotate(145.6 431.7 499.0)"/>
<ellipse cx="436.5" cy="489.6" rx="261.5" ry="213.5" transform="rotate(130.4 436.5 489.6)"/>
<ellipse cx="438.9" cy="498.0" rx="273.5" ry="212.0" transform="rotate(139.2 438.9 498.0)"/>
<ellipse cx="426.1" cy="508.7" rx="259.6" ry="221.4" transform="rotate(142.5 426.1 508.7)"/>
<ellipse cx="425.7" cy="499.4" rx="245.9" ry="212.2" transform="rotate(139.8 425.7 499.4)"/>
<ellipse cx="425.0" cy="505.9" rx="243.2" ry="208.2" transform="rotate(153.3 425.0 505.9)"/>
<ellipse cx="438.0" cy="498.7" rx="270.4" ry="212.6" transform="rotate(138.6 438.0 498.7)"/>
<ellipse cx="420.1" cy="494.3" rx="245.4" ry="219.9" transform="rotate(130.4 420.1 494.3)"/>
<ellipse cx="432.2" cy="482.6" rx="250.3" ry="206.7" transform="rotate(113.7 432.2 482.6)"/>
<ellipse cx="446.6" cy="482.4" rx="276.6" ry="212.3" transform="rotate(130.9 446.6 482.4)"/>
<ellipse cx="430.4" cy="500.4" rx="240.8" ry="212.8" transform="rotate(139.9 430.4 500.4)"/>
<ellipse cx="421.6" cy="500.2" rx="249.4" ry="222.4" transform="rotate(170.6 421.6 500.2)"/>
<ellipse cx="424.5" cy="508.7" rx="251.2" ry="208.1" transform="rotate(145.1 424.5 508.7)"/>
<ellipse cx="422.8" cy="502.9" rx="246.7" ry="208.9" transform="rotate(146.4 422.8 502.9)"/>
<ellipse cx="408.3" cy="514.1" rx="234.0" ry="201.1" transform="rotate(158.5 408.3 514.1)"/>
<ellipse cx="416.7" cy="502.2" rx="237.1" ry="210.7" transform="rotate(138.6 416.7 502.2)"/>
<ellipse cx="433.7" cy="482.9" rx="250.4" ry="215.8" transform="rotate(115.6 433.7 482.9)"/>
<ellipse cx="422.9" cy="499.2" rx="239.3" ry="213.9" transform="rotate(138.8 422.9 499.2)"/>
<ellipse cx="420.6" cy="503.3" rx="233.8" ry="209.0" transform="rotate(140.1 420.6 503.3)"/>
<ellipse cx="437.0" cy="480.0" rx="257.4" ry="214.6" transform="rotate(124.6 437.0 480.0)"/>
<ellipse cx="426.1" cy="498.6" rx="251.0" ry="219.0" transform="rotate(139.7 426.1 498.6)"/>
<ellipse cx="425.9" cy="497.8" rx="242.3" ry="217.9" transform="rotate(125.4 425.9 497.8)"/>
<ellipse cx="417.3" cy="502.1" rx="230.0" ry="213.8" transform="rotate(119.5 417.3 502.1)"/>
<ellipse cx="411.8" cy="527.9" rx="265.9" ry="189.4" transform="rotate(163.4 411.8 527.9)"/>
<ellipse cx="428.9" cy="489.4" rx="243.6" ry="212.3" transform="rotate(118.1 428.9 489.4)"/>
<ellipse cx="404.1" cy="508.8" rx="220.1" ry="203.9" transform="rotate(-170.9 404.1 508.8)"/>
<ellipse cx="425.1" cy="495.1" rx="246.9" ry="217.2" transform="rotate(142.5 425.1 495.1)"/>
<ellipse cx="435.1" cy="496.2" rx="263.3" ry="228.9" transform="rotate(146.7 435.1 496.2)"/>
<ellipse cx="421.8" cy="500.3" rx="242.6" ry="214.7" transform="rotate(130.6 421.8 500.3)"/>
<ellipse cx="441.3" cy="495.5" rx="263.4" ry="218.3" transform="rotate(147.2 441.3 495.5)"/>
<ellipse cx="445.2" cy="484.8" rx="270.1" ry="210.8" transform="rotate(128.3 445.2 484.8)"/>
<ellipse cx="409.4" cy="508.3" rx="220.5" ry="204.4" transform="rotate(148.7 409.4 508.3)"/>
<ellipse cx="419.6" cy="496.9" rx="228.3" ry="213.7" transform="rotate(111.7 419.6 496.9)"/>
<ellipse cx="402.6" cy="508.3" rx="219.7" ry="212.4" transform="rotate(-176.4 402.6 508.3)"/>
<ellipse cx="409.3" cy="503.1" rx="223.3" ry="215.8" transform="rotate(152.0 409.3 503.1)"/>
<ellipse cx="425.7" cy="500.3" rx="241.4" ry="209.2" transform="rotate(139.0 425.7 500.3)"/>
<ellipse cx="417.5" cy="496.2" rx="229.6" ry="207.5" transform="rotate(108.1 417.5 496.2)"/>
<ellipse cx="415.7" cy="504.2" rx="226.9" ry="206.5" transform="rotate(123.2 415.7 504.2)"/>
<ellipse cx="429.6" cy="491.5" rx="256.2" ry="213.1" transform="rotate(127.5 429.6 491.5)"/>
<ellipse cx="428.6" cy="503.2" rx="252.1" ry="212.9" transform="rotate(141.8 428.6 503.2)"/>
<ellipse cx="426.9" cy="502.6" rx="254.1" ry="212.6" transform="rotate(145.5 426.9 502.6)"/>
<ellipse cx="459.5" cy="476.0" rx="304.5" ry="229.8" transform="rotate(129.7 459.5 476.0)"/>
<ellipse cx="426.5" cy="493.6" rx="251.1" ry="217.0" transform="rotate(128.7 426.5 493.6)"/>
<ellipse cx="434.9" cy="489.7" rx="268.4" ry="221.6" transform="rotate(134.5 434.9 489.7)"/>
<ellipse cx="445.0" cy="482.9" rx="272.3" ry="217.5" transform="rotate(124.2 445.0 482.9)"/>
<ellipse cx="423.2" cy="501.0" rx="247.7" ry="210.3" transform="rotate(139.3 423.2 501.0)"/>
<ellipse cx="414.1" cy="505.6" rx="224.3" ry="203.3" transform="rotate(145.1 414.1 505.6)"/>
<ellipse cx="437.8" cy="492.8" rx="273.2" ry="226.4" transform="rotate(139.2 437.8 492.8)"/>
<ellipse cx="431.9" cy="496.6" rx="255.9" ry="206.7" transform="rotate(134.8 431.9 496.6)"/>
<ellipse cx="402.4" cy="520.2" rx="231.9" ry="207.1" transform="rotate(172.8 402.4 520.2)"/>
<ellipse cx="439.8" cy="494.2" rx="270.2" ry="211.2" transform="rotate(134.6 439.8 494.2)"/>
<ellipse cx="432.0" cy="497.9" rx="265.4" ry="213.2" transform="rotate(137.6 432.0 497.9)"/>
<ellipse cx="437.8" cy="488.8" rx="259.4" ry="202.8" transform="rotate(125.2 437.8 488.8)"/>
<ellipse cx="421.6" cy="490.4" rx="228.5" ry="207.7" transform="rotate(115.1 421.6 490.4)"/>
<ellipse cx="423.0" cy="496.0" rx="231.6" ry="208.1" transform="rotate(142.8 423.0 496.0)"/>
<ellipse cx="441.5" cy="492.3" rx="266.1" ry="204.0" transform="rotate(128.9 441.5 492.3)"/>
<ellipse cx="411.1" cy="508.8" rx="232.5" ry="205.5" transform="rotate(142.3 411.1 508.8)"/>
<ellipse cx="438.9" cy="479.2" rx="259.2" ry="200.7" transform="rotate(-71.0 438.9 479.2)"/>
<ellipse cx="426.2" cy="495.9" rx="251.2" ry="216.9" transform="rotate(131.3 426.2 495.9)"/>
<ellipse cx="417.8" cy="498.7" rx="227.9" ry="213.6" transform="rotate(149.3 417.8 498.7)"/>
<ellipse cx="427.6" cy="497.1" rx="264.0" ry="216.0" transform="rotate(131.6 427.6 497.1)"/>
<ellipse cx="428.9" cy="500.7" rx="258.0" ry="210.3" transform="rotate(144.2 428.9 500.7)"/>
<ellipse cx="431.0" cy="505.1" rx="254.1" ry="213.4" transform="rotate(140.4 431.0 505.1)"/>
<ellipse cx="428.4" cy="503.1" rx="261.1" ry="211.4" transform="rotate(141.0 428.4 503.1)"/>
<ellipse cx="429.4" cy="499.3" rx="257.7" ry="220.5" transform="rotate(139.6 429.4 499.3)"/>
<ellipse cx="431.1" cy="484.6" rx="249.4" ry="219.1" transform="rotate(119.5 431.1 484.6)"/>
<ellipse cx="426.2" cy="505.4" rx="248.4" ry="207.9" transform="rotate(147.9 426.2 505.4)"/>
<ellipse cx="432.3" cy="493.6" rx="247.9" ry="211.1" transform="rotate(126.7 432.3 493.6)"/>
<ellipse cx="413.6" cy="516.1" rx="244.0" ry="202.6" transform="rotate(157.2 413.6 516.1)"/>
<ellipse cx="428.8" cy="501.6" rx="254.0" ry="204.5" transform="rotate(152.0 428.8 501.6)"/>
<ellipse cx="428.4" cy="507.5" rx="255.3" ry="210.6" transform="rotate(150.5 428.4 507.5)"/>
<ellipse cx="433.4" cy="489.4" rx="253.5" ry="222.3" transform="rotate(132.5 433.4 489.4)"/>
<ellipse cx="420.8" cy="502.5" rx="234.2" ry="213.8" transform="rotate(141.3 420.8 502.5)"/>
<ellipse cx="437.5" cy="493.0" rx="264.4" ry="209.4" transform="rotate(131.3 437.5 493.0)"/>
<ellipse cx="415.2" cy="503.8" rx="227.4" ry="209.4" transform="rotate(128.3 415.2 503.8)"/>
<ellipse cx="435.8" cy="492.2" rx="258.8" ry="214.2" transform="rotate(131.8 435.8 492.2)"/>
<ellipse cx="420.8" cy="514.0" rx="250.9" ry="202.4" transform="rotate(156.9 420.8 514.0)"/>
<ellipse cx="422.7" cy="497.9" rx="243.0" ry="221.2" transform="rotate(135.5 422.7 497.9)"/>
<ellipse cx="433.6" cy="498.5" rx="253.8" ry="202.9" transform="rotate(131.5 433.6 498.5)"/>
<ellipse cx="433.2" cy="490.9" rx="259.7" ry="220.2" transform="rotate(133.6 433.2 490.9)"/>
<ellipse cx="411.1" cy="513.8" rx="244.5" ry="205.9" transform="rotate(172.3 411.1 513.8)"/>
<ellipse cx="425.9" cy="491.0" rx="241.4" ry="222.2" transform="rotate(127.3 425.9 491.0)"/>
<ellipse cx="421.2" cy="503.6" rx="257.1" ry="217.1" transform="rotate(154.2 421.2 503.6)"/>
<ellipse cx="424.0" cy="497.6" rx="242.1" ry="212.8" transform="rotate(130.8 424.0 497.6)"/>
<ellipse cx="440.8" cy="490.0" rx="270.6" ry="209.6" transform="rotate(129.9 440.8 490.0)"/>
<ellipse cx="425.5" cy="487.7" rx="248.6" ry="224.8" transform="rotate(130.8 425.5 487.7)"/>
<ellipse cx="388.3" cy="527.3" rx="216.4" ry="197.8" transform="rotate(-177.9 388.3 527.3)"/>
<ellipse cx="408.1" cy="498.9" rx="227.1" ry="219.4" transform="rotate(164.2 408.1 498.9)"/>
<ellipse cx="422.2" cy="505.6" rx="245.3" ry="211.2" transform="rotate(144.2 422.2 505.6)"/>
<ellipse cx="400.2" cy="515.2" rx="216.6" ry="196.9" transform="rotate(172.2 400.2 515.2)"/>
<ellipse cx="434.2" cy="493.1" rx="260.6" ry="211.9" transform="rotate(129.3 434.2 493.1)"/>
<ellipse cx="422.7" cy="490.6" rx="237.2" ry="218.3" transform="rotate(133.2 422.7 490.6)"/>
<ellipse cx="416.4" cy="492.7" rx="232.2" ry="211.8" transform="rotate(-76.6 416.4 492.7)"/>
<ellipse cx="413.7" cy="501.0" rx="234.5" ry="213.5" transform="rotate(136.5 413.7 501.0)"/>
<ellipse cx="410.1" cy="513.0" rx="237.7" ry="213.0" transform="rotate(173.6 410.1 513.0)"/>
<ellipse cx="421.9" cy="490.4" rx="238.3" ry="214.3" transform="rotate(123.9 421.9 490.4)"/>
<ellipse cx="423.1" cy="492.3" rx="242.0" ry="216.2" transform="rotate(117.3 423.1 492.3)"/>
<ellipse cx="415.4" cy="498.7" rx="225.8" ry="215.4" transform="rotate(114.7 415.4 498.7)"/>
<ellipse cx="430.5" cy="498.8" rx="259.1" ry="212.3" transform="rotate(142.5 430.5 498.8)"/>
<ellipse cx="407.6" cy="501.5" rx="218.9" ry="211.4" transform="rotate(123.2 407.6 501.5)"/>
<ellipse cx="427.6" cy="498.0" rx="241.3" ry="204.3" transform="rotate(124.9 427.6 498.0)"/>
<ellipse cx="422.1" cy="506.0" rx="244.1" ry="210.5" transform="rotate(160.8 422.1 506.0)"/>
<ellipse cx="430.6" cy="495.5" rx="253.8" ry="215.0" transform="rotate(134.3 430.6 495.5)"/>
<ellipse cx="429.7" cy="492.4" rx="250.3" ry="208.0" transform="rotate(128.0 429.7 492.4)"/>
<ellipse cx="408.6" cy="503.9" rx="223.9" ry="217.4" transform="rotate(-160.2 408.6 503.9)"/>
<ellipse cx="436.6" cy="490.3" rx="263.0" ry="210.7" transform="rotate(130.4 436.6 490.3)"/>
<ellipse cx="419.0" cy="501.8" rx="236.7" ry="211.7" transform="rotate(133.8 419.0 501.8)"/>
<ellipse cx="410.0" cy="504.0" rx="224.1" ry="211.8" transform="rotate(164.5 410.0 504.0)"/>
<ellipse cx="419.0" cy="509.3" rx="243.9" ry="203.2" transform="rotate(151.2 419.0 509.3)"/>
<ellipse cx="419.9" cy="503.6" rx="235.3" ry="211.6" transform="rotate(148.6 419.9 503.6)"/>
<ellipse cx="415.5" cy="499.0" rx="220.3" ry="214.1" transform="rotate(146.9 415.5 499.0)"/>
<ellipse cx="414.6" cy="499.5" rx="225.3" ry="205.6" transform="rotate(128.7 414.6 499.5)"/>
<ellipse cx="419.9" cy="496.2" rx="236.3" ry="213.1" transform="rotate(121.6 419.9 496.2)"/>
<ellipse cx="439.0" cy="489.6" rx="255.9" ry="207.6" transform="rotate(130.1 439.0 489.6)"/>
<ellipse cx="442.3" cy="480.3" rx="272.6" ry="205.2" transform="rotate(117.7 442.3 480.3)"/>
<ellipse cx="415.3" cy="504.5" rx="243.8" ry="216.4" transform="rotate(172.6 415.3 504.5)"/>
<ellipse cx="411.0" cy="504.8" rx="222.5" ry="213.4" transform="rotate(133.5 411.0 504.8)"/>
<ellipse cx="426.9" cy="495.2" rx="248.9" ry="225.5" transform="rotate(129.8 426.9 495.2)"/>
<ellipse cx="434.6" cy="497.9" rx="265.5" ry="212.7" transform="rotate(138.6 434.6 497.9)"/>
<ellipse cx="430.8" cy="493.3" rx="245.4" ry="218.6" transform="rotate(131.6 430.8 493.3)"/>
<ellipse cx="435.9" cy="487.9" rx="256.8" ry="209.2" transform="rotate(122.1 435.9 487.9)"/>
<ellipse cx="436.0" cy="485.7" rx="257.6" ry="216.4" transform="rotate(121.5 436.0 485.7)"/>
<ellipse cx="415.6" cy="501.3" rx="235.8" ry="207.0" transform="rotate(124.1 415.6 501.3)"/>
<ellipse cx="437.6" cy="499.9" rx="259.9" ry="206.7" transform="rotate(142.4 437.6 499.9)"/>
<ellipse cx="441.6" cy="489.0" rx="270.3" ry="221.9" transform="rotate(137.6 441.6 489.0)"/>
<ellipse cx="440.5" cy="495.8" rx="278.0" ry="211.6" transform="rotate(135.0 440.5 495.8)"/>
<ellipse cx="419.1" cy="500.9" rx="233.8" ry="214.2" transform="rotate(159.7 419.1 500.9)"/>
<ellipse cx="440.7" cy="484.6" rx="269.2" ry="221.2" transform="rotate(125.4 440.7 484.6)"/>
<ellipse cx="441.3" cy="474.5" rx="266.6" ry="210.3" transform="rotate(114.5 441.3 474.5)"/>
<ellipse cx="419.4" cy="509.4" rx="249.4" ry="206.5" transform="rotate(151.0 419.4 509.4)"/>
<ellipse cx="411.0" cy="507.4" rx="240.1" ry="213.3" transform="rotate(166.2 411.0 507.4)"/>
<ellipse cx="420.3" cy="501.9" rx="252.2" ry="212.6" transform="rotate(142.4 420.3 501.9)"/>
<ellipse cx="428.6" cy="501.2" rx="257.2" ry="213.3" transform="rotate(140.9 428.6 501.2)"/>
<ellipse cx="422.4" cy="496.3" rx="238.9" ry="216.8" transform="rotate(131.5 422.4 496.3)"/>
<ellipse cx="426.1" cy="498.0" rx="253.4" ry="221.9" transform="rotate(154.2 426.1 498.0)"/>
<ellipse cx="418.8" cy="501.0" rx="251.2" ry="214.1" transform="rotate(145.7 418.8 501.0)"/>
<ellipse cx="424.6" cy="496.0" rx="241.1" ry="214.9" transform="rotate(131.8 424.6 496.0)"/>
<ellipse cx="431.7" cy="497.0" rx="256.8" ry="213.5" transform="rotate(145.1 431.7 497.0)"/>
<ellipse cx="428.4" cy="492.0" rx="250.2" ry="207.1" transform="rotate(114.5 428.4 492.0)"/>
<ellipse cx="424.4" cy="492.2" rx="242.6" ry="215.2" transform="rotate(120.7 424.4 492.2)"/>
<ellipse cx="443.4" cy="484.3" rx="267.2" ry="225.1" transform="rotate(127.6 443.4 484.3)"/>
<ellipse cx="415.4" cy="500.5" rx="236.2" ry="215.1" transform="rotate(161.8 415.4 500.5)"/>
<ellipse cx="442.8" cy="494.6" rx="267.9" ry="213.0" transform="rotate(142.5 442.8 494.6)"/>
<ellipse cx="447.9" cy="494.5" rx="287.5" ry="211.4" transform="rotate(136.3 447.9 494.5)"/>
<ellipse cx="426.1" cy="503.8" rx="246.8" ry="206.9" transform="rotate(139.6 426.1 503.8)"/>
<ellipse cx="425.6" cy="503.4" rx="263.8" ry="219.7" transform="rotate(141.9 425.6 503.4)"/>
<ellipse cx="425.2" cy="496.2" rx="249.8" ry="217.1" transform="rotate(134.7 425.2 496.2)"/>
<ellipse cx="419.7" cy="503.6" rx="234.0" ry="204.7" transform="rotate(136.4 419.7 503.6)"/>
<ellipse cx="439.7" cy="499.9" rx="268.5" ry="212.9" transform="rotate(136.1 439.7 499.9)"/>
<ellipse cx="420.2" cy="512.0" rx="244.2" ry="199.0" transform="rotate(141.9 420.2 512.0)"/>
<ellipse cx="412.0" cy="507.8" rx="230.1" ry="205.5" transform="rotate(140.8 412.0 507.8)"/>
<ellipse cx="401.8" cy="517.2" rx="228.8" ry="210.9" transform="rotate(152.8 401.8 517.2)"/>
<ellipse cx="433.2" cy="501.4" rx="253.1" ry="209.4" transform="rotate(135.8 433.2 501.4)"/>
<ellipse cx="413.1" cy="496.6" rx="221.9" ry="211.7" transform="rotate(109.7 413.1 496.6)"/>
<ellipse cx="433.7" cy="496.5" rx="254.6" ry="220.1" transform="rotate(142.4 433.7 496.5)"/>
<ellipse cx="428.5" cy="499.9" rx="257.4" ry="218.4" transform="rotate(140.3 428.5 499.9)"/>
<ellipse cx="412.2" cy="503.1" rx="219.0" ry="203.2" transform="rotate(103.1 412.2 503.1)"/>
<ellipse cx="433.1" cy="497.9" rx="253.5" ry="202.7" transform="rotate(131.8 433.1 497.9)"/>
<ellipse cx="420.3" cy="501.8" rx="244.9" ry="210.7" transform="rotate(135.0 420.3 501.8)"/>
<ellipse cx="423.8" cy="500.7" rx="249.9" ry="213.9" transform="rotate(139.7 423.8 500.7)"/>
<ellipse cx="410.8" cy="511.7" rx="233.2" ry="203.0" transform="rotate(154.7 410.8 511.7)"/>
<ellipse cx="412.3" cy="515.0" rx="238.1" ry="202.3" transform="rotate(159.8 412.3 515.0)"/>
<ellipse cx="408.1" cy="515.1" rx="231.4" ry="208.0" transform="rotate(152.4 408.1 515.1)"/>
<ellipse cx="430.6" cy="501.9" rx="261.0" ry="212.5" transform="rotate(143.0 430.6 501.9)"/>
<ellipse cx="438.3" cy="488.1" rx="264.9" ry="219.5" transform="rotate(132.4 438.3 488.1)"/>
<ellipse cx="422.2" cy="495.8" rx="233.8" ry="199.6" transform="rotate(111.9 422.2 495.8)"/>
<ellipse cx="437.6" cy="481.4" rx="256.0" ry="214.7" transform="rotate(128.8 437.6 481.4)"/>
<ellipse cx="434.0" cy="497.7" rx="243.0" ry="206.0" transform="rotate(128.3 434.0 497.7)"/>
<ellipse cx="420.9" cy="509.3" rx="253.5" ry="199.2" transform="rotate(146.8 420.9 509.3)"/>
<ellipse cx="403.8" cy="505.8" rx="209.5" ry="207.8" transform="rotate(-81.7 403.8 505.8)"/>
<ellipse cx="413.2" cy="519.9" rx="249.0" ry="202.9" transform="rotate(162.2 413.2 519.9)"/>
<ellipse cx="412.5" cy="500.9" rx="235.0" ry="224.2" transform="rotate(139.2 412.5 500.9)"/>
<ellipse cx="439.7" cy="491.1" rx="254.5" ry="209.0" transform="rotate(132.5 439.7 491.1)"/>
<ellipse cx="434.9" cy="488.6" rx="254.6" ry="215.9" transform="rotate(127.7 434.9 488.6)"/>
<ellipse cx="427.0" cy="508.7" rx="261.9" ry="209.7" transform="rotate(150.6 427.0 508.7)"/>
<ellipse cx="423.6" cy="500.0" rx="240.2" ry="208.9" transform="rotate(122.1 423.6 500.0)"/>
<ellipse cx="423.3" cy="490.3" rx="241.5" ry="216.9" transform="rotate(115.4 423.3 490.3)"/>
<ellipse cx="440.1" cy="488.5" rx="262.4" ry="209.5" transform="rotate(126.4 440.1 488.5)"/>
<ellipse cx="439.9" cy="488.9" rx="269.8" ry="229.8" transform="rotate(143.2 439.9 488.9)"/>
<ellipse cx="401.9" cy="512.9" rx="237.0" ry="206.1" transform="rotate(172.5 401.9 512.9)"/>
<ellipse cx="455.9" cy="473.5" rx="297.9" ry="221.6" transform="rotate(129.0 455.9 473.5)"/>
<ellipse cx="392.5" cy="525.9" rx="236.1" ry="197.2" transform="rotate(163.6 392.5 525.9)"/>
<ellipse cx="414.3" cy="502.3" rx="229.5" ry="215.1" transform="rotate(123.7 414.3 502.3)"/>
<ellipse cx="425.6" cy="494.3" rx="250.8" ry="218.5" transform="rotate(140.2 425.6 494.3)"/>
<ellipse cx="434.7" cy="499.4" rx="260.9" ry="201.8" transform="rotate(134.0 434.7 499.4)"/>
<ellipse cx="431.1" cy="499.7" rx="265.8" ry="220.2" transform="rotate(135.0 431.1 499.7)"/>
<ellipse cx="428.5" cy="497.3" rx="258.8" ry="219.9" transform="rotate(133.8 428.5 497.3)"/>
<ellipse cx="435.2" cy="494.4" rx="266.7" ry="216.5" transform="rotate(140.0 435.2 494.4)"/>
<ellipse cx="419.4" cy="504.0" rx="245.3" ry="205.1" transform="rotate(140.3 419.4 504.0)"/>
<ellipse cx="406.2" cy="512.9" rx="224.7" ry="199.6" transform="rotate(152.5 406.2 512.9)"/>
<ellipse cx="425.9" cy="504.5" rx="264.0" ry="215.2" transform="rotate(157.1 425.9 504.5)"/>
<ellipse cx="435.2" cy="480.8" rx="241.6" ry="212.2" transform="rotate(-72.9 435.2 480.8)"/>
<ellipse cx="419.3" cy="504.7" rx="237.1" ry="208.4" transform="rotate(155.9 419.3 504.7)"/>
<ellipse cx="418.5" cy="504.0" rx="230.3" ry="208.4" transform="rotate(140.7 418.5 504.0)"/>
<ellipse cx="413.3" cy="510.1" rx="240.2" ry="218.0" transform="rotate(143.9 413.3 510.1)"/>
<ellipse cx="423.0" cy="506.8" rx="244.3" ry="209.5" transform="rotate(133.5 423.0 506.8)"/>
<ellipse cx="404.1" cy="508.4" rx="214.9" ry="205.0" transform="rotate(115.5 404.1 508.4)"/>
<ellipse cx="416.6" cy="506.8" rx="253.8" ry="211.8" transform="rotate(157.7 416.6 506.8)"/>
<ellipse cx="436.9" cy="491.8" rx="258.0" ry="206.9" transform="rotate(124.4 436.9 491.8)"/>
<ellipse cx="435.0" cy="491.5" rx="258.7" ry="218.0" transform="rotate(137.2 435.0 491.5)"/>
<ellipse cx="429.2" cy="491.2" rx="242.7" ry="203.2" transform="rotate(123.2 429.2 491.2)"/>
<ellipse cx="413.0" cy="512.6" rx="230.9" ry="208.9" transform="rotate(163.9 413.0 512.6)"/>
<ellipse cx="428.0" cy="499.8" rx="257.1" ry="205.5" transform="rotate(137.8 428.0 499.8)"/>
<ellipse cx="410.5" cy="504.9" rx="229.2" ry="207.5" transform="rotate(147.1 410.5 504.9)"/>
<ellipse cx="433.5" cy="488.9" rx="256.7" ry="210.9" transform="rotate(125.3 433.5 488.9)"/>
<ellipse cx="429.8" cy="489.4" rx="249.1" ry="214.2" transform="rotate(128.0 429.8 489.4)"/>
<ellipse cx="435.2" cy="483.6" rx="252.0" ry="202.4" transform="rotate(115.0 435.2 483.6)"/>
<ellipse cx="406.7" cy="515.0" rx="227.0" ry="201.8" transform="rotate(142.2 406.7 515.0)"/>
<ellipse cx="407.4" cy="510.4" rx="228.4" ry="210.1" transform="rotate(165.4 407.4 510.4)"/>
<ellipse cx="430.1" cy="501.2" rx="261.9" ry="217.3" transform="rotate(144.5 430.1 501.2)"/>
<ellipse cx="417.7" cy="507.7" rx="225.5" ry="208.2" transform="rotate(131.2 417.7 507.7)"/>
<ellipse cx="409.8" cy="514.2" rx="233.7" ry="201.3" transform="rotate(162.5 409.8 514.2)"/>
<ellipse cx="429.0" cy="491.2" rx="250.0" ry="215.7" transform="rotate(122.7 429.0 491.2)"/>
<ellipse cx="436.2" cy="490.7" rx="261.6" ry="215.2" transform="rotate(130.7 436.2 490.7)"/>
<ellipse cx="433.2" cy="495.2" rx="266.0" ry="224.3" transform="rotate(139.7 433.2 495.2)"/>
<ellipse cx="432.6" cy="494.3" rx="259.0" ry="221.1" transform="rotate(130.3 432.6 494.3)"/>
<ellipse cx="446.3" cy="482.7" rx="280.3" ry="227.3" transform="rotate(126.8 446.3 482.7)"/>
<ellipse cx="413.8" cy="504.9" rx="227.4" ry="210.2" transform="rotate(138.1 413.8 504.9)"/>
<ellipse cx="441.6" cy="483.4" rx="274.6" ry="220.5" transform="rotate(131.4 441.6 483.4)"/>
<ellipse cx="433.7" cy="499.0" rx="251.9" ry="209.4" transform="rotate(135.5 433.7 499.0)"/>
<ellipse cx="426.1" cy="495.8" rx="238.6" ry="211.3" transform="rotate(130.1 426.1 495.8)"/>
<ellipse cx="449.1" cy="486.6" rx="279.7" ry="219.7" transform="rotate(132.3 449.1 486.6)"/>
<ellipse cx="418.2" cy="504.7" rx="238.8" ry="206.3" transform="rotate(152.4 418.2 504.7)"/>
<ellipse cx="422.4" cy="500.8" rx="242.1" ry="214.7" transform="rotate(140.2 422.4 500.8)"/>
<ellipse cx="412.7" cy="497.8" rx="236.2" ry="214.6" transform="rotate(-84.9 412.7 497.8)"/>
<ellipse cx="404.6" cy="511.3" rx="232.2" ry="207.3" transform="rotate(160.9 404.6 511.3)"/>
<ellipse cx="417.6" cy="507.2" rx="232.4" ry="205.8" transform="rotate(125.2 417.6 507.2)"/>
<ellipse cx="424.8" cy="494.3" rx="256.8" ry="228.9" transform="rotate(139.9 424.8 494.3)"/>
<ellipse cx="406.5" cy="507.2" rx="227.0" ry="210.0" transform="rotate(137.9 406.5 507.2)"/>
<ellipse cx="429.1" cy="501.7" rx="261.7" ry="209.5" transform="rotate(149.2 429.1 501.7)"/>
<ellipse cx="408.5" cy="514.0" rx="240.6" ry="206.7" transform="rotate(164.9 408.5 514.0)"/>
<ellipse cx="430.5" cy="502.3" rx="250.7" ry="211.3" transform="rotate(136.9 430.5 502.3)"/>
<ellipse cx="426.0" cy="494.6" rx="258.2" ry="217.2" transform="rotate(143.8 426.0 494.6)"/>
<ellipse cx="408.5" cy="501.4" rx="220.8" ry="211.7" transform="rotate(132.9 408.5 501.4)"/>
<ellipse cx="423.8" cy="503.3" rx="236.0" ry="204.6" transform="rotate(131.5 423.8 503.3)"/>
<ellipse cx="431.4" cy="498.1" rx="252.5" ry="207.8" transform="rotate(141.8 431.4 498.1)"/>
<ellipse cx="421.3" cy="505.2" rx="239.2" ry="214.0" transform="rotate(153.7 421.3 505.2)"/>
<ellipse cx="432.5" cy="495.3" rx="258.1" ry="215.9" transform="rotate(139.5 432.5 495.3)"/>
<ellipse cx="437.2" cy="487.7" rx="266.8" ry="220.0" transform="rotate(140.8 437.2 487.7)"/>
<ellipse cx="412.6" cy="504.3" rx="232.1" ry="209.2" transform="rotate(137.4 412.6 504.3)"/>
<ellipse cx="418.9" cy="500.4" rx="237.2" ry="211.5" transform="rotate(121.9 418.9 500.4)"/>
<ellipse cx="401.6" cy="511.9" rx="218.7" ry="204.0" transform="rotate(-172.5 401.6 511.9)"/>
<ellipse cx="423.1" cy="490.8" rx="244.7" ry="205.2" transform="rotate(-81.3 423.1 490.8)"/>
<ellipse cx="426.9" cy="494.7" rx="247.1" ry="224.2" transform="rotate(135.7 426.9 494.7)"/>
<ellipse cx="427.7" cy="498.8" rx="257.5" ry="212.1" transform="rotate(141.8 427.7 498.8)"/>
<ellipse cx="416.9" cy="501.0" rx="232.6" ry="217.9" transform="rotate(138.4 416.9 501.0)"/>
<ellipse cx="410.0" cy="501.1" rx="231.5" ry="208.8" transform="rotate(114.9 410.0 501.1)"/>
<ellipse cx="435.5" cy="489.1" rx="260.6" ry="215.8" transform="rotate(134.0 435.5 489.1)"/>
<ellipse cx="435.4" cy="492.4" rx="262.6" ry="225.6" transform="rotate(134.9 435.4 492.4)"/>
<ellipse cx="423.3" cy="505.7" rx="236.6" ry="209.2" transform="rotate(152.5 423.3 505.7)"/>
<ellipse cx="428.4" cy="493.4" rx="249.2" ry="216.2" transform="rotate(121.2 428.4 493.4)"/>
<ellipse cx="410.9" cy="516.9" rx="241.1" ry="198.1" transform="rotate(149.7 410.9 516.9)"/>
<ellipse cx="436.4" cy="482.5" rx="263.5" ry="219.2" transform="rotate(114.2 436.4 482.5)"/>
<ellipse cx="427.1" cy="494.4" rx="246.7" ry="220.4" transform="rotate(144.6 427.1 494.4)"/>
<ellipse cx="443.2" cy="492.6" rx="279.2" ry="219.9" transform="rotate(138.1 443.2 492.6)"/>
<ellipse cx="418.8" cy="501.0" rx="239.7" ry="215.1" transform="rotate(140.0 418.8 501.0)"/>
<ellipse cx="436.3" cy="489.9" rx="257.0" ry="222.3" transform="rotate(126.0 436.3 489.9)"/>
<ellipse cx="420.3" cy="492.6" rx="231.5" ry="205.1" transform="rotate(-74.6 420.3 492.6)"/>
<ellipse cx="435.8" cy="490.5" rx="255.7" ry="216.3" transform="rotate(136.2 435.8 490.5)"/>
<ellipse cx="436.5" cy="494.4" rx="262.2" ry="213.9" transform="rotate(131.4 436.5 494.4)"/>
<ellipse cx="421.7" cy="502.0" rx="239.0" ry="211.3" transform="rotate(127.2 421.7 502.0)"/>
<ellipse cx="422.5" cy="491.3" rx="238.0" ry="212.5" transform="rotate(-78.3 422.5 491.3)"/>
<ellipse cx="424.3" cy="501.1" rx="246.1" ry="216.1" transform="rotate(145.6 424.3 501.1)"/>
<ellipse cx="436.8" cy="487.1" rx="270.1" ry="224.2" transform="rotate(121.8 436.8 487.1)"/>
<ellipse cx="433.9" cy="495.7" rx="244.9" ry="219.3" transform="rotate(125.8 433.9 495.7)"/>
<ellipse cx="433.6" cy="494.8" rx="255.4" ry="212.8" transform="rotate(135.9 433.6 494.8)"/>
<ellipse cx="434.6" cy="496.6" rx="261.2" ry="219.5" transform="rotate(139.6 434.6 496.6)"/>
<ellipse cx="423.2" cy="500.6" rx="245.6" ry="208.9" transform="rotate(131.2 423.2 500.6)"/>
<ellipse cx="431.3" cy="499.8" rx="252.9" ry="219.1" transform="rotate(140.4 431.3 499.8)"/>
<ellipse cx="441.7" cy="487.6" rx="265.7" ry="211.3" transform="rotate(132.4 441.7 487.6)"/>
<ellipse cx="445.8" cy="476.6" rx="269.9" ry="219.4" transform="rotate(124.9 445.8 476.6)"/>
<ellipse cx="412.5" cy="510.1" rx="237.6" ry="205.6" transform="rotate(163.5 412.5 510.1)"/>
<ellipse cx="398.6" cy="504.1" rx="220.1" ry="211.3" transform="rotate(-131.1 398.6 504.1)"/>
<ellipse cx="456.9" cy="478.6" rx="292.0" ry="219.8" transform="rotate(136.1 456.9 478.6)"/>
<ellipse cx="401.2" cy="515.3" rx="210.4" ry="202.7" transform="rotate(-132.5 401.2 515.3)"/>
<ellipse cx="442.8" cy="487.6" rx="274.9" ry="213.5" transform="rotate(136.4 442.8 487.6)"/>
<ellipse cx="421.0" cy="506.5" rx="247.2" ry="216.6" transform="rotate(156.4 421.0 506.5)"/>
<ellipse cx="419.7" cy="499.8" rx="239.2" ry="211.3" transform="rotate(138.9 419.7 499.8)"/>
<ellipse cx="439.0" cy="491.8" rx="259.3" ry="221.5" transform="rotate(131.4 439.0 491.8)"/>
<ellipse cx="420.9" cy="500.3" rx="237.1" ry="216.3" transform="rotate(141.7 420.9 500.3)"/>
<ellipse cx="437.5" cy="482.2" rx="265.9" ry="225.9" transform="rotate(131.7 437.5 482.2)"/>
<ellipse cx="425.8" cy="501.9" rx="248.5" ry="217.4" transform="rotate(135.5 425.8 501.9)"/>
<ellipse cx="436.4" cy="494.7" rx="258.2" ry="216.8" transform="rotate(138.4 436.4 494.7)"/>
<ellipse cx="387.4" cy="524.1" rx="230.6" ry="192.0" transform="rotate(-170.6 387.4 524.1)"/>
<ellipse cx="419.5" cy="506.1" rx="232.9" ry="209.9" transform="rotate(158.4 419.5 506.1)"/>
<ellipse cx="423.6" cy="494.8" rx="242.8" ry="212.6" transform="rotate(118.0 423.6 494.8)"/>
<ellipse cx="410.9" cy="508.1" rx="229.5" ry="209.8" transform="rotate(138.1 410.9 508.1)"/>
<ellipse cx="423.2" cy="512.3" rx="262.0" ry="205.7" transform="rotate(152.1 423.2 512.3)"/>
<ellipse cx="431.6" cy="498.9" rx="260.0" ry="213.9" transform="rotate(154.1 431.6 498.9)"/>
<ellipse cx="413.7" cy="508.5" rx="233.9" ry="212.2" transform="rotate(140.5 413.7 508.5)"/>
<ellipse cx="421.4" cy="493.3" rx="229.6" ry="203.1" transform="rotate(115.0 421.4 493.3)"/>
<ellipse cx="432.3" cy="494.3" rx="254.3" ry="210.3" transform="rotate(131.1 432.3 494.3)"/>
<ellipse cx="437.4" cy="484.8" rx="252.5" ry="216.4" transform="rotate(125.9 437.4 484.8)"/>
<ellipse cx="429.3" cy="481.0" rx="236.1" ry="203.4" transform="rotate(-70.7 429.3 481.0)"/>
<ellipse cx="431.8" cy="499.6" rx="264.0" ry="211.3" transform="rotate(138.9 431.8 499.6)"/>
<ellipse cx="402.3" cy="515.4" rx="227.3" ry="204.2" transform="rotate(176.3 402.3 515.4)"/>
<ellipse cx="403.7" cy="507.5" rx="231.6" ry="209.0" transform="rotate(160.3 403.7 507.5)"/>
<ellipse cx="428.0" cy="502.3" rx="252.0" ry="211.5" transform="rotate(128.5 428.0 502.3)"/>
<ellipse cx="439.0" cy="493.3" rx="263.0" ry="217.9" transform="rotate(141.0 439.0 493.3)"/>
<ellipse cx="416.5" cy="506.5" rx="233.9" ry="214.5" transform="rotate(145.5 416.5 506.5)"/>
<ellipse cx="443.4" cy="476.0" rx="270.9" ry="218.1" transform="rotate(120.1 443.4 476.0)"/>
<ellipse cx="425.5" cy="499.3" rx="242.3" ry="214.3" transform="rotate(138.0 425.5 499.3)"/>
<ellipse cx="423.0" cy="510.9" rx="248.4" ry="208.7" transform="rotate(139.6 423.0 510.9)"/>
<ellipse cx="416.9" cy="501.9" rx="224.5" ry="209.6" transform="rotate(156.7 416.9 501.9)"/>
<ellipse cx="396.2" cy="516.8" rx="229.0" ry="203.3" transform="rotate(-176.1 396.2 516.8)"/>
<ellipse cx="427.8" cy="495.6" rx="247.2" ry="211.4" transform="rotate(124.6 427.8 495.6)"/>
<ellipse cx="422.5" cy="499.6" rx="238.5" ry="206.3" transform="rotate(122.5 422.5 499.6)"/>
<ellipse cx="452.4" cy="478.0" rx="290.2" ry="221.9" transform="rotate(130.4 452.4 478.0)"/>
<ellipse cx="446.7" cy="473.6" rx="275.0" ry="203.7" transform="rotate(116.0 446.7 473.6)"/>
<ellipse cx="418.3" cy="496.3" rx="228.2" ry="213.5" transform="rotate(144.9 418.3 496.3)"/>
<ellipse cx="413.2" cy="505.1" rx="226.8" ry="207.5" transform="rotate(145.3 413.2 505.1)"/>
<ellipse cx="396.0" cy="501.1" rx="222.9" ry="203.8" transform="rotate(-141.2 396.0 501.1)"/>
<ellipse cx="430.9" cy="489.5" rx="254.6" ry="212.1" transform="rotate(-72.2 430.9 489.5)"/>
<ellipse cx="434.6" cy="503.9" rx="264.4" ry="203.2" transform="rotate(143.3 434.6 503.9)"/>
<ellipse cx="412.7" cy="515.2" rx="245.5" ry="200.6" transform="rotate(152.5 412.7 515.2)"/>
<ellipse cx="423.2" cy="504.0" rx="238.7" ry="207.4" transform="rotate(137.8 423.2 504.0)"/>
<ellipse cx="450.8" cy="483.9" rx="273.1" ry="193.2" transform="rotate(123.8 450.8 483.9)"/>
<ellipse cx="429.9" cy="496.9" rx="242.7" ry="217.1" transform="rotate(128.4 429.9 496.9)"/>
<ellipse cx="432.8" cy="498.5" rx="267.4" ry="204.6" transform="rotate(132.0 432.8 498.5)"/>
<ellipse cx="417.2" cy="497.6" rx="248.5" ry="217.6" transform="rotate(149.9 417.2 497.6)"/>
<ellipse cx="433.8" cy="496.1" rx="257.8" ry="205.0" transform="rotate(136.8 433.8 496.1)"/>
<ellipse cx="438.9" cy="486.0" rx="274.7" ry="227.9" transform="rotate(138.0 438.9 486.0)"/>
<ellipse cx="439.6" cy="474.5" rx="250.2" ry="201.8" transform="rotate(-68.3 439.6 474.5)"/>
<ellipse cx="430.4" cy="485.9" rx="253.7" ry="219.4" transform="rotate(117.0 430.4 485.9)"/>
<ellipse cx="411.1" cy="510.9" rx="247.0" ry="211.5" transform="rotate(165.6 411.1 510.9)"/>
<ellipse cx="427.4" cy="491.2" rx="239.1" ry="217.4" transform="rotate(147.7 427.4 491.2)"/>
<ellipse cx="452.0" cy="493.7" rx="299.9" ry="207.4" transform="rotate(135.9 452.0 493.7)"/>
<ellipse cx="424.7" cy="492.6" rx="243.5" ry="218.5" transform="rotate(137.1 424.7 492.6)"/>
<ellipse cx="429.3" cy="491.9" rx="247.9" ry="205.7" transform="rotate(119.3 429.3 491.9)"/>
<ellipse cx="431.9" cy="484.7" rx="250.9" ry="215.6" transform="rotate(112.1 431.9 484.7)"/>
<ellipse cx="416.3" cy="502.8" rx="224.4" ry="208.4" transform="rotate(140.9 416.3 502.8)"/>
<ellipse cx="423.3" cy="496.0" rx="236.1" ry="209.3" transform="rotate(126.3 423.3 496.0)"/>
<ellipse cx="430.1" cy="494.3" rx="247.6" ry="210.9" transform="rotate(124.1 430.1 494.3)"/>
<ellipse cx="411.8" cy="514.5" rx="239.8" ry="204.0" transform="rotate(151.5 411.8 514.5)"/>
<ellipse cx="419.6" cy="500.2" rx="239.8" ry="204.9" transform="rotate(123.8 419.6 500.2)"/>
<ellipse cx="445.8" cy="481.9" rx="269.5" ry="206.1" transform="rotate(121.9 445.8 481.9)"/>
<ellipse cx="399.2" cy="518.6" rx="243.4" ry="204.4" transform="rotate(164.2 399.2 518.6)"/>
<ellipse cx="410.7" cy="501.5" rx="225.2" ry="215.8" transform="rotate(-80.3 410.7 501.5)"/>
<ellipse cx="412.1" cy="505.1" rx="231.0" ry="214.0" transform="rotate(142.7 412.1 505.1)"/>
<ellipse cx="415.4" cy="504.2" rx="236.3" ry="212.7" transform="rotate(143.9 415.4 504.2)"/>
<ellipse cx="422.1" cy="497.9" rx="243.1" ry="216.6" transform="rotate(141.9 422.1 497.9)"/>
<ellipse cx="445.5" cy="482.5" rx="267.5" ry="218.7" transform="rotate(128.5 445.5 482.5)"/>
<ellipse cx="422.6" cy="499.9" rx="243.0" ry="219.5" transform="rotate(145.3 422.6 499.9)"/>
<ellipse cx="414.8" cy="511.7" rx="248.3" ry="203.6" transform="rotate(151.0 414.8 511.7)"/>
<ellipse cx="419.4" cy="499.1" rx="239.1" ry="217.4" transform="rotate(130.5 419.4 499.1)"/>
<ellipse cx="404.8" cy="502.6" rx="214.9" ry="209.2" transform="rotate(-137.3 404.8 502.6)"/>
<ellipse cx="429.1" cy="487.6" rx="253.6" ry="210.4" transform="rotate(114.3 429.1 487.6)"/>
<ellipse cx="442.2" cy="491.3" rx="272.0" ry="216.4" transform="rotate(136.1 442.2 491.3)"/>
<ellipse cx="427.8" cy="501.8" rx="252.5" ry="214.0" transform="rotate(143.8 427.8 501.8)"/>
<ellipse cx="422.8" cy="500.9" rx="234.5" ry="210.0" transform="rotate(131.3 422.8 500.9)"/>
<ellipse cx="429.3" cy="499.5" rx="248.5" ry="207.6" transform="rotate(135.3 429.3 499.5)"/>
<ellipse cx="430.7" cy="503.1" rx="265.0" ry="213.9" transform="rotate(143.0 430.7 503.1)"/>
<ellipse cx="442.6" cy="483.7" rx="266.5" ry="220.9" transform="rotate(129.5 442.6 483.7)"/>
<ellipse cx="401.7" cy="513.9" rx="225.0" ry="208.3" transform="rotate(170.0 401.7 513.9)"/>
<ellipse cx="411.2" cy="506.5" rx="220.9" ry="209.0" transform="rotate(129.9 411.2 506.5)"/>
<ellipse cx="409.6" cy="499.3" rx="216.1" ry="214.2" transform="rotate(143.8 409.6 499.3)"/>
<ellipse cx="427.7" cy="497.9" rx="247.7" ry="214.5" transform="rotate(141.6 427.7 497.9)"/>
<ellipse cx="421.7" cy="493.9" rx="241.2" ry="217.3" transform="rotate(120.7 421.7 493.9)"/>
<ellipse cx="424.0" cy="497.2" rx="251.9" ry="213.8" transform="rotate(130.8 424.0 497.2)"/>
<ellipse cx="426.8" cy="505.6" rx="245.2" ry="208.6" transform="rotate(129.8 426.8 505.6)"/>
<ellipse cx="428.5" cy="501.3" rx="255.6" ry="201.4" transform="rotate(139.8 428.5 501.3)"/>
<ellipse cx="409.5" cy="515.6" rx="234.6" ry="205.6" transform="rotate(163.8 409.5 515.6)"/>
<ellipse cx="432.0" cy="495.1" rx="260.5" ry="219.0" transform="rotate(139.7 432.0 495.1)"/>
<ellipse cx="401.5" cy="522.8" rx="228.8" ry="201.6" transform="rotate(165.5 401.5 522.8)"/>
<ellipse cx="424.4" cy="498.2" rx="246.1" ry="208.1" transform="rotate(138.6 424.4 498.2)"/>
<ellipse cx="414.8" cy="509.2" rx="238.8" ry="216.2" transform="rotate(157.0 414.8 509.2)"/>
<ellipse cx="411.5" cy="505.3" rx="237.6" ry="213.2" transform="rotate(153.5 411.5 505.3)"/>
<ellipse cx="409.8" cy="504.6" rx="229.8" ry="211.1" transform="rotate(178.0 409.8 504.6)"/>
<ellipse cx="418.3" cy="501.8" rx="229.2" ry="221.3" transform="rotate(134.0 418.3 501.8)"/>
<ellipse cx="427.8" cy="486.9" rx="237.3" ry="214.1" transform="rotate(128.7 427.8 486.9)"/>
<ellipse cx="421.1" cy="497.3" rx="238.2" ry="216.6" transform="rotate(143.6 421.1 497.3)"/>
<ellipse cx="423.7" cy="493.8" rx="238.7" ry="215.6" transform="rotate(122.5 423.7 493.8)"/>
<ellipse cx="441.2" cy="493.0" rx="267.4" ry="214.6" transform="rotate(144.9 441.2 493.0)"/>
<ellipse cx="418.9" cy="503.8" rx="233.1" ry="205.5" transform="rotate(124.7 418.9 503.8)"/>
<ellipse cx="447.2" cy="487.7" rx="273.7" ry="223.5" transform="rotate(136.3 447.2 487.7)"/>
<ellipse cx="418.5" cy="496.5" rx="239.5" ry="216.7" transform="rotate(151.6 418.5 496.5)"/>
<ellipse cx="415.7" cy="495.3" rx="229.2" ry="209.7" transform="rotate(120.7 415.7 495.3)"/>
<ellipse cx="430.4" cy="496.5" rx="247.7" ry="210.5" transform="rotate(126.7 430.4 496.5)"/>
<ellipse cx="436.3" cy="486.3" rx="256.7" ry="206.4" transform="rotate(113.9 436.3 486.3)"/>
<ellipse cx="422.3" cy="497.2" rx="236.9" ry="219.3" transform="rotate(153.3 422.3 497.2)"/>
<ellipse cx="422.3" cy="502.6" rx="247.1" ry="215.1" transform="rotate(148.4 422.3 502.6)"/>
<ellipse cx="415.1" cy="502.1" rx="237.6" ry="210.0" transform="rotate(130.0 415.1 502.1)"/>
<ellipse cx="421.3" cy="499.0" rx="227.8" ry="212.2" transform="rotate(154.2 421.3 499.0)"/>
<ellipse cx="407.8" cy="505.7" rx="232.3" ry="209.9" transform="rotate(159.9 407.8 505.7)"/>
<ellipse cx="415.3" cy="511.0" rx="237.7" ry="203.2" transform="rotate(128.9 415.3 511.0)"/>
<ellipse cx="429.2" cy="492.0" rx="247.9" ry="202.1" transform="rotate(117.4 429.2 492.0)"/>
<ellipse cx="427.3" cy="490.0" rx="232.8" ry="196.4" transform="rotate(113.2 427.3 490.0)"/>
<ellipse cx="415.0" cy="503.9" rx="237.9" ry="205.5" transform="rotate(137.7 415.0 503.9)"/>
<ellipse cx="415.8" cy="507.1" rx="237.4" ry="205.7" transform="rotate(149.1 415.8 507.1)"/>
<ellipse cx="409.4" cy="505.6" rx="230.2" ry="207.0" transform="rotate(161.7 409.4 505.6)"/>
<ellipse cx="420.1" cy="493.6" rx="247.8" ry="209.7" transform="rotate(136.2 420.1 493.6)"/>
<ellipse cx="435.6" cy="490.4" rx="256.8" ry="212.8" transform="rotate(138.5 435.6 490.4)"/>
<ellipse cx="412.4" cy="508.5" rx="228.2" ry="198.9" transform="rotate(146.4 412.4 508.5)"/>
<ellipse cx="438.1" cy="484.4" rx="257.2" ry="217.6" transform="rotate(124.1 438.1 484.4)"/>
<ellipse cx="423.7" cy="508.8" rx="237.6" ry="201.3" transform="rotate(150.9 423.7 508.8)"/>
<ellipse cx="434.3" cy="496.0" rx="267.8" ry="221.5" transform="rotate(138.4 434.3 496.0)"/>
<ellipse cx="441.1" cy="485.4" rx="270.3" ry="215.4" transform="rotate(131.6 441.1 485.4)"/>
<ellipse cx="428.6" cy="483.3" rx="252.4" ry="208.7" transform="rotate(-71.9 428.6 483.3)"/>
<ellipse cx="430.1" cy="491.7" rx="249.8" ry="219.7" transform="rotate(137.1 430.1 491.7)"/>
<ellipse cx="429.9" cy="491.4" rx="244.7" ry="215.7" transform="rotate(122.0 429.9 491.4)"/>
<ellipse cx="423.8" cy="495.8" rx="242.6" ry="220.1" transform="rotate(135.1 423.8 495.8)"/>
<ellipse cx="404.7" cy="509.1" rx="228.5" ry="208.0" transform="rotate(152.3 404.7 509.1)"/>
<ellipse cx="434.9" cy="487.8" rx="256.8" ry="219.1" transform="rotate(128.1 434.9 487.8)"/>
<ellipse cx="444.2" cy="483.1" rx="258.8" ry="206.8" transform="rotate(122.1 444.2 483.1)"/>
<ellipse cx="431.6" cy="489.9" rx="249.2" ry="218.4" transform="rotate(126.2 431.6 489.9)"/>
<ellipse cx="449.6" cy="479.3" rx="295.8" ry="223.3" transform="rotate(136.8 449.6 479.3)"/>
<ellipse cx="421.0" cy="506.2" rx="247.9" ry="212.5" transform="rotate(150.5 421.0 506.2)"/>
<ellipse cx="419.5" cy="500.8" rx="221.8" ry="194.6" transform="rotate(134.1 419.5 500.8)"/>
<ellipse cx="450.4" cy="468.7" rx="271.5" ry="210.9" transform="rotate(117.9 450.4 468.7)"/>
<ellipse cx="415.5" cy="506.3" rx="227.2" ry="206.5" transform="rotate(136.4 415.5 506.3)"/>
<ellipse cx="431.0" cy="483.7" rx="248.1" ry="210.5" transform="rotate(118.5 431.0 483.7)"/>
<ellipse cx="406.8" cy="508.3" rx="234.8" ry="209.8" transform="rotate(168.1 406.8 508.3)"/>
<ellipse cx="428.9" cy="491.1" rx="252.2" ry="219.9" transform="rotate(122.6 428.9 491.1)"/>
<ellipse cx="429.5" cy="498.5" rx="251.8" ry="214.7" transform="rotate(134.6 429.5 498.5)"/>
<ellipse cx="422.4" cy="496.1" rx="242.7" ry="219.1" transform="rotate(125.1 422.4 496.1)"/>
<ellipse cx="422.9" cy="498.7" rx="237.9" ry="212.3" transform="rotate(143.6 422.9 498.7)"/>
<ellipse cx="436.5" cy="482.9" rx="270.3" ry="218.6" transform="rotate(126.7 436.5 482.9)"/>
<ellipse cx="417.8" cy="508.4" rx="231.8" ry="202.1" transform="rotate(128.6 417.8 508.4)"/>
<ellipse cx="401.1" cy="511.9" rx="219.0" ry="206.3" transform="rotate(-147.4 401.1 511.9)"/>
<ellipse cx="430.3" cy="496.4" rx="248.9" ry="211.4" transform="rotate(140.0 430.3 496.4)"/>
<ellipse cx="396.8" cy="511.9" rx="230.6" ry="201.2" transform="rotate(-175.6 396.8 511.9)"/>
<ellipse cx="420.9" cy="503.5" rx="229.3" ry="197.9" transform="rotate(147.3 420.9 503.5)"/>
<ellipse cx="436.0" cy="493.7" rx="257.2" ry="209.1" transform="rotate(135.7 436.0 493.7)"/>
<ellipse cx="436.9" cy="493.8" rx="265.0" ry="217.7" transform="rotate(139.8 436.9 493.8)"/>
<ellipse cx="444.3" cy="495.7" rx="278.5" ry="223.3" transform="rotate(139.3 444.3 495.7)"/>
<ellipse cx="414.7" cy="498.9" rx="233.2" ry="219.2" transform="rotate(139.3 414.7 498.9)"/>
<ellipse cx="432.1" cy="500.2" rx="259.0" ry="206.0" transform="rotate(138.7 432.1 500.2)"/>
<ellipse cx="425.3" cy="490.5" rx="241.6" ry="218.1" transform="rotate(131.1 425.3 490.5)"/>
<ellipse cx="433.3" cy="497.1" rx="263.4" ry="218.3" transform="rotate(148.9 433.3 497.1)"/>
<ellipse cx="444.3" cy="476.2" rx="275.5" ry="216.6" transform="rotate(128.7 444.3 476.2)"/>
<ellipse cx="408.4" cy="508.4" rx="223.2" ry="217.5" transform="rotate(147.1 408.4 508.4)"/>
<ellipse cx="405.7" cy="513.0" rx="233.3" ry="200.7" transform="rotate(165.1 405.7 513.0)"/>
<ellipse cx="427.7" cy="491.4" rx="246.6" ry="213.9" transform="rotate(132.5 427.7 491.4)"/>
<ellipse cx="410.7" cy="517.1" rx="242.0" ry="208.3" transform="rotate(162.0 410.7 517.1)"/>
<ellipse cx="397.0" cy="511.2" rx="215.1" ry="195.8" transform="rotate(178.4 397.0 511.2)"/>
<ellipse cx="408.5" cy="507.7" rx="226.2" ry="207.7" transform="rotate(143.4 408.5 507.7)"/>
<ellipse cx="437.6" cy="487.5" rx="251.7" ry="210.6" transform="rotate(116.8 437.6 487.5)"/>
<ellipse cx="429.9" cy="496.5" rx="244.4" ry="216.0" transform="rotate(141.6 429.9 496.5)"/>
<ellipse cx="419.4" cy="494.9" rx="231.5" ry="209.9" transform="rotate(128.9 419.4 494.9)"/>
<ellipse cx="422.4" cy="498.9" rx="248.6" ry="215.1" transform="rotate(157.1 422.4 498.9)"/>
<ellipse cx="424.7" cy="501.0" rx="251.0" ry="211.8" transform="rotate(139.0 424.7 501.0)"/>
<ellipse cx="430.7" cy="489.3" rx="253.3" ry="218.1" transform="rotate(115.9 430.7 489.3)"/>
<ellipse cx="407.3" cy="508.5" rx="219.8" ry="208.7" transform="rotate(178.6 407.3 508.5)"/>
<ellipse cx="398.2" cy="520.1" rx="243.7" ry="196.0" transform="rotate(171.9 398.2 520.1)"/>
<ellipse cx="431.1" cy="489.0" rx="256.0" ry="219.8" transform="rotate(123.2 431.1 489.0)"/>
<ellipse cx="431.8" cy="492.6" rx="260.8" ry="213.6" transform="rotate(129.2 431.8 492.6)"/>
<ellipse cx="440.5" cy="484.8" rx="277.1" ry="222.7" transform="rotate(132.7 440.5 484.8)"/>
<ellipse cx="407.8" cy="505.5" rx="217.3" ry="206.6" transform="rotate(104.7 407.8 505.5)"/>
<ellipse cx="428.3" cy="503.9" rx="256.0" ry="210.8" transform="rotate(144.3 428.3 503.9)"/>
<ellipse cx="425.9" cy="488.4" rx="235.2" ry="206.7" transform="rotate(113.3 425.9 488.4)"/>
<ellipse cx="431.7" cy="492.0" rx="248.1" ry="207.1" transform="rotate(121.8 431.7 492.0)"/>
<ellipse cx="410.6" cy="515.0" rx="234.9" ry="207.3" transform="rotate(155.3 410.6 515.0)"/>
<ellipse cx="439.5" cy="489.2" rx="255.4" ry="223.2" transform="rotate(143.1 439.5 489.2)"/>
<ellipse cx="426.5" cy="498.2" rx="255.5" ry="208.4" transform="rotate(136.1 426.5 498.2)"/>
<ellipse cx="415.6" cy="506.0" rx="232.6" ry="205.0" transform="rotate(134.7 415.6 506.0)"/>
<ellipse cx="426.7" cy="486.4" rx="242.7" ry="218.3" transform="rotate(-72.2 426.7 486.4)"/>
<ellipse cx="424.8" cy="499.7" rx="241.2" ry="201.9" transform="rotate(127.4 424.8 499.7)"/>
<ellipse cx="441.9" cy="475.7" rx="264.0" ry="209.5" transform="rotate(119.3 441.9 475.7)"/>
<ellipse cx="404.9" cy="509.6" rx="217.2" ry="206.2" transform="rotate(112.7 404.9 509.6)"/>
<ellipse cx="413.3" cy="506.1" rx="239.8" ry="212.3" transform="rotate(158.7 413.3 506.1)"/>
<ellipse cx="418.8" cy="498.4" rx="233.8" ry="218.3" transform="rotate(138.0 418.8 498.4)"/>
<ellipse cx="409.0" cy="500.3" rx="218.4" ry="212.3" transform="rotate(114.0 409.0 500.3)"/>
</g>
<ellipse cx="426.99" cy="498.59" rx="249.87" ry="212.27" transform="rotate(138.52 426.99 498.59)" fill="none" stroke="#d62839" stroke-width="3.8"/>
</g>
<g clip-path="url(#ca)">
<line x1="425.6" y1="725.6" x2="647.7" y2="388.0" stroke="#d62839" stroke-width="3.2" stroke-dasharray="11.8 5.1"/>
<line x1="490.3" y1="627.2" x2="521.7" y2="690.9" stroke="#d62839" stroke-width="1.6"/>
<rect x="515.7" y="684.9" width="12" height="12" fill="#d62839"/>
<path d="M482.1,627.2L498.5,627.2M484.5,621.4L496.1,633.0M490.3,619.0L490.3,635.4M496.1,621.4L484.5,633.0" stroke="#d62839" stroke-width="1.8" fill="none"/>
<path d="M583.5,292.4L586.0,327.4M626.6,377.3L659.9,388.2M573.2,639.8L607.3,631.9M348.4,709.1L348.4,744.1M192.7,599.0L216.8,624.4M177.0,507.7L210.7,498.0M212.7,452.4L218.8,418.0M269.8,333.9L298.0,354.7M300.4,321.6L334.2,312.6M413.0,294.2L420.3,260.0M454.9,258.9L482.2,280.8M542.8,299.6L576.6,290.6M543.8,303.3L577.6,294.2M626.7,375.8L634.6,341.7M630.4,376.6L638.3,342.5M644.3,464.4L675.0,481.0M356.6,728.4L391.6,730.2M233.3,682.5L243.0,648.8M182.2,529.2L201.0,558.7M192.8,446.2L227.7,442.6M235.6,403.2L248.3,370.6M314.0,298.8L338.0,324.2M342.3,295.0L377.2,292.0M457.2,286.2L474.2,255.6M460.5,288.1L477.5,257.5M511.5,265.4L534.4,291.9M588.2,330.7L622.6,324.1M651.8,459.1L666.9,427.5M589.8,611.6L616.6,634.2M238.9,676.1L272.2,686.9M188.7,603.9L208.8,575.2M189.7,470.8L205.6,502.0" stroke="#1a1a1a" stroke-width="2.6" fill="none"/>
<g fill="#1a1a1a"><circle cx="584.8" cy="309.9" r="5.6"/><circle cx="643.3" cy="382.7" r="5.6"/><circle cx="590.3" cy="635.9" r="5.6"/><circle cx="348.4" cy="726.6" r="5.6"/><circle cx="204.7" cy="611.7" r="5.6"/><circle cx="193.9" cy="502.8" r="5.6"/><circle cx="215.8" cy="435.2" r="5.6"/><circle cx="283.9" cy="344.3" r="5.6"/><circle cx="317.3" cy="317.1" r="5.6"/><circle cx="416.7" cy="277.1" r="5.6"/><circle cx="468.5" cy="269.9" r="5.6"/><circle cx="559.7" cy="295.1" r="5.6"/><circle cx="630.6" cy="358.7" r="5.6"/><circle cx="659.7" cy="472.7" r="5.6"/><circle cx="374.1" cy="729.3" r="5.6"/><circle cx="238.2" cy="665.6" r="5.6"/><circle cx="191.6" cy="543.9" r="5.6"/><circle cx="210.3" cy="444.4" r="5.6"/><circle cx="241.9" cy="386.9" r="5.6"/><circle cx="326.0" cy="311.5" r="5.6"/><circle cx="359.7" cy="293.5" r="5.6"/><circle cx="465.7" cy="270.9" r="5.6"/><circle cx="522.9" cy="278.7" r="5.6"/><circle cx="605.4" cy="327.4" r="5.6"/><circle cx="659.3" cy="443.3" r="5.6"/><circle cx="603.2" cy="622.9" r="5.6"/><circle cx="255.5" cy="681.5" r="5.6"/><circle cx="198.7" cy="589.6" r="5.6"/><circle cx="197.6" cy="486.4" r="5.6"/></g>
</g>
<path d="M687.3,691.9 Q684,704 671.5,710.8" stroke="#000" stroke-width="2.4" fill="none"/>
<path d="M659.9,717.9 L669.1,705.2 L675.8,717.6 Z" fill="#000"/>
<g clip-path="url(#cb)">
<path d="M1008.5,100.7 1015.5,107.6 1023.0,117.1 1037.2,137.3 1045.1,149.7 1059.6,176.9 1071.3,200.5 1080.4,220.7 1125.8,328.7 1134.5,347.5 1139.1,356.2 1142.0,360.7 1142.8,360.5 1145.3,351.4 1147.0,339.7 1156.6,243.4 1162.0,202.4 1167.4,171.3 1172.8,149.2 1176.5,137.1 1181.5,125.0 1188.6,112.5 1194.4,104.2 1201.5,97.1 1213.1,89.3 1219.0,85.9 1221.5,85.4 1223.1,84.4 1231.5,83.5 1237.3,83.9 1248.5,87.8 1253.9,91.1 1260.6,97.4 1263.1,98.9 1270.1,106.2 1281.8,121.0 1290.1,133.0 1308.0,162.9 1326.3,198.9 1339.6,228.0 1382.5,330.6 1392.9,352.4 1397.5,360.5 1399.1,362.4 1400.4,361.9 1400.8,362.2 1401.2,361.5 1403.3,352.4 1406.6,327.2 1413.7,253.8 1417.8,217.7 1422.0,190.4 1428.7,157.4 1432.4,144.5 1439.1,126.5 1443.6,117.2 1449.9,107.0 1452.8,102.9 1454.0,102.2 1454.9,100.8 1458.6,97.2 1461.1,95.8 1464.0,93.1 1467.8,90.5 1473.2,87.5 1474.4,86.3 1479.8,84.4 1482.3,83.9 1491.9,83.6 1496.5,84.8 1506.9,89.1 1513.5,93.7 1526.4,106.3 1537.2,120.4 1546.4,133.4 1551.4,141.3 1564.7,164.9 1586.3,208.1 1598.8,235.5 1625.0,299.6 1637.5,328.9 1650.0,355.2 1654.6,362.0 1657.1,364.1 1657.5,363.0 1658.3,363.6 1658.7,363.2 1660.8,355.8 1662.1,347.3 1665.4,319.8 1672.9,243.6 1676.2,215.4 1679.5,192.7 1686.2,159.0 1691.6,139.9 1697.4,125.4 1706.6,108.2 1709.9,103.5 1714.5,98.4 1719.9,93.7 1721.1,93.2 1724.9,90.1 1726.1,89.7 1730.7,86.4 1735.3,84.5 1738.6,83.8 1747.8,83.6 1753.2,84.9 1756.9,86.3 1756.9,163.3 1751.9,155.5 1741.5,141.8 1733.6,134.5 1727.0,129.8 1720.3,129.1 1716.6,130.6 1713.2,134.2 1708.2,143.9 1704.5,154.7 1699.9,171.3 1697.0,185.9 1693.7,206.8 1688.7,244.8 1679.9,329.9 1675.4,362.9 1672.0,380.6 1663.7,409.1 1659.6,420.9 1656.2,428.7 1650.8,437.3 1647.5,441.5 1642.9,443.9 1640.4,444.6 1636.7,442.4 1634.6,441.9 1629.6,436.4 1627.9,435.6 1625.9,433.2 1614.2,414.3 1608.0,403.0 1593.8,373.4 1582.2,347.3 1539.7,245.5 1522.3,206.2 1509.8,180.8 1496.1,157.6 1491.5,150.7 1482.7,140.1 1474.4,133.0 1469.8,129.9 1464.0,129.1 1461.1,130.2 1457.8,133.3 1456.1,135.9 1451.1,147.2 1445.7,165.1 1441.6,185.5 1437.4,211.7 1434.1,237.3 1422.8,344.5 1418.7,369.1 1415.3,384.3 1405.8,412.7 1399.5,427.5 1395.8,433.9 1393.7,435.7 1392.5,437.8 1388.7,441.9 1385.8,443.8 1383.3,444.5 1379.6,442.3 1377.1,442.0 1368.7,433.2 1360.0,420.8 1352.5,408.1 1336.7,375.4 1324.6,348.5 1305.9,304.3 1283.5,249.5 1266.8,211.0 1257.2,190.4 1244.4,167.1 1233.1,149.2 1226.0,140.4 1213.6,130.3 1211.9,129.7 1206.5,129.8 1201.5,134.2 1199.0,139.0 1194.4,150.1 1191.5,159.7 1185.7,187.8 1178.6,236.9 1167.0,346.3 1164.5,362.4 1161.1,378.0 1155.7,395.7 1147.8,416.0 1143.3,426.2 1137.4,435.2 1129.5,443.2 1126.2,444.5 1122.5,442.2 1119.5,442.0 1116.6,438.4 1112.9,434.9 1108.7,429.5 1103.3,421.7 1097.1,411.4 1087.1,392.7 1077.5,372.6 1066.7,348.1 1053.4,317.1 1028.4,256.2 1008.5,209.8 1008.5,100.7Z" fill="#4c72b0" fill-opacity="0.05"/>
<path d="M1008.5,104.4 1019.3,116.6 1034.7,139.4 1046.3,159.1 1058.0,180.7 1075.9,217.8 1082.9,233.4 1107.9,293.2 1120.8,322.8 1133.7,350.7 1139.5,361.1 1141.6,363.6 1142.4,363.7 1143.7,363.1 1144.5,361.6 1147.0,348.1 1150.3,320.2 1157.0,253.1 1163.2,202.2 1165.3,189.5 1170.7,162.8 1174.5,147.8 1179.0,134.3 1183.6,124.1 1188.6,115.1 1194.0,107.8 1199.0,102.2 1209.0,93.5 1213.1,91.7 1216.1,89.8 1221.1,87.9 1230.2,85.8 1238.1,87.0 1243.9,88.9 1248.1,91.2 1251.4,93.8 1254.8,94.9 1271.0,111.4 1287.6,134.2 1307.2,168.4 1320.9,195.6 1342.1,240.9 1372.9,314.6 1385.8,343.0 1390.8,353.1 1395.4,360.9 1397.9,364.5 1400.0,365.7 1400.8,365.0 1401.2,365.2 1402.0,364.0 1404.5,352.5 1407.0,332.3 1414.9,252.4 1418.3,223.4 1422.4,193.8 1427.8,166.0 1434.5,141.4 1439.5,128.4 1444.9,117.3 1449.0,111.1 1456.1,102.3 1462.4,96.2 1466.9,92.9 1472.3,89.9 1477.3,87.9 1486.5,85.6 1495.6,87.3 1499.8,89.0 1508.1,94.4 1511.4,95.6 1513.9,97.5 1526.0,110.5 1538.1,125.5 1556.4,155.5 1582.6,207.5 1604.2,255.6 1635.0,329.3 1644.2,348.4 1650.8,360.6 1653.7,364.7 1656.2,367.0 1657.1,366.2 1657.9,366.7 1658.7,366.6 1659.6,365.7 1660.8,361.4 1662.5,351.5 1665.8,323.1 1674.1,239.8 1680.8,190.7 1684.9,169.7 1689.5,151.1 1694.5,135.5 1700.7,121.0 1704.1,114.8 1709.9,106.5 1717.8,97.4 1720.7,95.0 1729.5,89.5 1737.8,86.6 1742.8,85.5 1751.9,87.3 1756.9,89.6 1756.9,159.4 1748.2,146.5 1736.5,133.1 1733.2,130.2 1726.1,127.0 1722.8,126.7 1722.0,127.3 1719.9,126.9 1715.7,129.2 1711.1,135.6 1708.2,141.9 1704.1,153.3 1699.5,170.4 1692.8,206.9 1687.4,248.2 1679.9,322.4 1676.2,354.4 1670.8,381.9 1665.0,403.1 1657.5,423.3 1653.7,429.4 1648.7,435.0 1645.8,436.9 1642.1,436.6 1640.0,436.0 1638.8,436.2 1635.0,433.8 1628.4,426.7 1620.9,416.8 1612.1,402.0 1600.5,377.9 1588.4,351.1 1548.1,255.8 1538.9,235.2 1515.6,188.4 1501.9,163.5 1493.1,149.9 1483.6,137.5 1477.7,131.6 1472.3,128.4 1468.2,126.9 1463.6,127.2 1460.7,128.6 1458.6,130.4 1455.3,135.3 1449.0,151.0 1444.1,168.8 1439.9,189.9 1435.3,218.5 1432.0,245.7 1421.6,346.0 1417.0,372.5 1414.1,384.3 1408.7,402.3 1400.4,423.4 1396.6,429.1 1392.0,434.5 1389.1,436.6 1387.5,436.8 1381.6,436.0 1378.3,434.3 1370.4,426.6 1366.7,422.0 1359.2,410.7 1352.5,398.6 1340.0,372.8 1284.7,242.5 1258.9,189.7 1246.8,167.8 1237.3,152.0 1224.4,135.5 1218.1,129.9 1213.6,127.9 1211.5,127.2 1206.1,127.9 1203.2,129.8 1202.3,131.0 1199.0,136.4 1196.5,142.1 1191.5,156.9 1185.7,181.6 1181.1,208.1 1177.8,233.3 1167.8,330.2 1164.5,356.3 1161.1,374.0 1157.8,385.7 1152.8,400.5 1143.7,422.7 1139.5,429.2 1137.0,431.2 1135.8,433.1 1133.3,435.3 1132.0,435.5 1130.4,436.8 1124.1,435.8 1121.2,434.5 1113.7,428.0 1101.6,411.0 1097.5,403.7 1087.9,384.1 1072.1,349.2 1026.8,241.6 1008.5,203.3 1008.5,104.4Z" fill="#4c72b0" fill-opacity="0.074"/>
<path d="M1008.5,108.7 1018.0,120.0 1026.3,131.6 1039.2,151.9 1048.0,168.1 1058.4,189.0 1083.8,242.9 1110.4,305.7 1126.6,342.0 1135.3,358.8 1139.1,364.6 1140.8,366.4 1142.0,367.0 1143.7,366.1 1145.3,363.0 1147.4,352.0 1158.2,251.1 1163.2,210.0 1168.2,178.7 1174.0,153.2 1180.3,134.3 1183.6,126.0 1186.5,120.5 1192.8,110.9 1200.3,102.5 1207.7,96.0 1213.1,92.8 1221.1,89.5 1228.1,88.0 1232.7,88.2 1236.0,89.0 1239.8,90.3 1246.8,93.9 1253.5,98.1 1263.1,106.9 1271.8,117.1 1276.8,123.6 1287.2,138.9 1302.2,163.8 1312.6,184.4 1343.0,250.7 1373.3,321.7 1384.6,346.2 1389.5,355.9 1393.7,362.8 1397.0,367.4 1399.5,369.0 1400.8,368.4 1402.4,365.8 1405.4,351.3 1419.5,221.8 1424.5,187.9 1430.3,159.4 1435.3,141.9 1442.8,123.1 1447.8,114.6 1452.0,108.6 1456.5,103.2 1463.2,97.0 1466.5,94.6 1475.3,90.2 1482.7,88.1 1490.2,88.4 1497.3,90.9 1505.6,95.5 1518.9,106.9 1527.7,116.8 1538.9,132.5 1547.6,145.8 1556.0,160.0 1572.2,191.4 1593.8,238.7 1630.9,326.1 1637.1,339.6 1646.7,358.1 1649.6,362.8 1654.2,368.7 1657.1,370.0 1658.7,369.0 1660.0,367.1 1662.5,355.2 1664.1,343.8 1675.0,239.1 1677.9,216.1 1682.0,189.1 1684.5,175.6 1689.1,155.4 1693.7,140.1 1700.3,123.3 1705.7,113.7 1712.8,104.0 1719.9,97.1 1724.5,93.8 1733.6,89.3 1739.0,87.9 1744.4,88.0 1748.2,88.6 1755.7,92.0 1756.9,92.9 1756.9,156.2 1749.8,145.5 1742.4,136.4 1735.7,130.1 1733.2,128.3 1727.4,125.4 1722.4,124.6 1717.0,127.0 1713.2,130.7 1709.1,138.3 1704.5,150.6 1701.2,161.6 1698.3,173.3 1693.7,196.6 1687.8,237.4 1676.2,347.7 1673.7,363.9 1670.0,382.0 1666.6,394.8 1662.9,406.6 1660.0,414.4 1657.1,419.8 1654.6,425.7 1652.9,427.9 1649.2,431.0 1647.9,431.2 1646.2,432.4 1641.3,433.5 1635.4,430.4 1627.5,422.1 1623.4,416.5 1612.5,397.7 1592.6,356.3 1558.0,274.9 1538.5,230.7 1513.9,180.8 1504.8,164.3 1491.9,145.1 1483.6,135.0 1479.0,130.9 1474.8,127.7 1467.8,124.8 1463.6,125.4 1460.3,127.3 1458.6,128.6 1454.5,135.3 1449.5,147.8 1443.2,169.7 1438.6,192.1 1434.9,215.6 1431.6,241.6 1420.3,348.9 1415.8,374.7 1411.2,391.5 1407.0,404.3 1402.9,414.6 1398.3,422.6 1396.6,426.4 1392.9,429.9 1388.7,432.3 1383.7,433.1 1379.1,431.3 1375.0,427.7 1369.2,421.3 1361.7,409.5 1353.4,394.3 1337.5,361.8 1331.3,347.8 1303.4,281.5 1273.9,215.2 1255.2,178.4 1249.3,168.0 1235.2,146.4 1223.1,132.0 1220.2,129.7 1214.8,126.4 1209.8,125.0 1207.3,125.6 1203.6,127.8 1200.3,132.1 1196.1,140.9 1190.3,158.9 1185.7,177.9 1180.7,205.2 1177.8,225.6 1174.9,250.1 1165.3,342.5 1162.8,360.3 1159.9,374.8 1155.7,389.2 1151.6,401.4 1145.3,415.7 1142.8,420.2 1140.8,423.0 1138.3,427.5 1135.3,429.8 1129.5,432.9 1125.4,432.8 1123.3,432.1 1117.5,427.8 1112.9,422.9 1110.0,418.5 1107.1,415.1 1101.6,405.8 1085.4,374.1 1071.3,342.6 1032.2,250.5 1008.5,199.3 1008.5,108.7Z" fill="#4c72b0" fill-opacity="0.114"/>
<path d="M1008.5,114.0 1018.4,126.3 1027.2,138.7 1039.7,158.9 1050.9,179.6 1078.4,238.0 1121.6,337.1 1130.8,355.2 1137.0,366.4 1139.9,369.7 1141.6,370.8 1142.4,370.8 1145.7,365.9 1147.8,356.2 1151.2,330.4 1158.2,258.4 1162.8,219.7 1168.6,182.5 1175.7,151.1 1178.6,141.6 1182.8,130.8 1187.8,120.2 1191.5,114.0 1196.5,107.7 1203.6,100.5 1211.9,95.2 1219.0,92.0 1227.3,90.8 1231.5,91.0 1240.6,93.6 1246.0,96.6 1250.2,99.6 1262.2,111.1 1273.5,124.7 1291.4,151.9 1303.4,173.1 1318.0,201.8 1338.4,246.7 1371.7,323.5 1384.1,350.6 1392.0,365.1 1396.6,370.7 1398.7,372.0 1401.2,371.1 1402.9,367.3 1404.1,363.7 1406.2,351.4 1408.7,331.1 1416.6,252.1 1420.3,221.1 1426.2,183.2 1430.7,161.7 1437.0,140.0 1440.7,130.0 1445.3,120.1 1452.0,110.0 1457.4,103.7 1461.1,100.1 1467.8,95.4 1474.4,92.0 1483.6,90.7 1488.2,90.9 1498.1,94.2 1505.2,98.4 1511.0,103.3 1520.6,113.5 1531.8,127.8 1536.8,135.3 1553.9,163.1 1564.7,183.0 1576.4,206.6 1595.5,249.1 1624.6,316.9 1638.8,348.0 1647.9,364.3 1654.2,371.9 1657.1,373.3 1658.3,372.5 1659.1,371.2 1661.2,364.9 1664.1,348.3 1666.6,327.7 1675.4,241.1 1679.5,208.7 1682.4,190.2 1685.4,174.2 1689.5,156.4 1695.8,136.3 1699.9,125.9 1705.7,115.0 1708.7,110.5 1712.8,105.5 1717.8,100.3 1727.4,93.6 1729.5,92.4 1731.9,91.7 1741.9,90.5 1744.8,90.9 1753.6,94.0 1756.9,95.7 1756.9,152.1 1749.4,141.7 1740.7,131.9 1735.3,127.6 1726.1,122.8 1721.1,123.1 1719.5,123.8 1715.3,127.4 1712.0,131.5 1707.4,140.3 1703.2,151.8 1699.5,165.2 1692.8,197.1 1686.6,242.4 1675.8,345.0 1673.7,360.3 1670.4,377.9 1667.9,388.0 1663.3,403.1 1660.4,410.5 1656.6,418.2 1651.2,426.1 1649.6,427.8 1643.3,429.1 1637.9,427.1 1632.5,422.9 1628.8,418.4 1619.2,404.8 1608.8,385.7 1589.2,343.0 1572.2,304.3 1541.8,233.4 1524.3,196.6 1517.7,183.4 1507.7,165.6 1499.8,152.3 1491.5,140.6 1481.5,130.1 1477.3,127.1 1470.3,123.3 1467.3,123.0 1462.8,123.9 1458.2,128.3 1456.1,131.1 1450.7,142.0 1447.0,152.6 1443.6,164.6 1438.6,187.1 1434.5,212.0 1430.7,240.6 1422.4,322.7 1419.5,346.8 1417.0,363.9 1413.7,380.1 1409.9,393.5 1405.8,405.3 1398.7,419.3 1391.6,428.0 1386.6,429.0 1380.8,427.3 1377.1,424.4 1370.4,417.5 1361.7,404.8 1352.9,388.7 1341.3,364.4 1274.7,212.9 1258.9,181.1 1248.5,162.7 1237.3,145.1 1229.8,135.6 1223.5,129.5 1219.0,126.4 1214.0,123.9 1210.2,123.1 1206.5,124.2 1201.1,129.4 1199.0,132.6 1196.1,138.5 1189.9,156.3 1184.0,179.9 1179.9,203.4 1175.3,236.9 1163.6,347.3 1160.3,368.5 1158.2,377.8 1152.8,395.8 1147.4,409.0 1144.9,413.7 1139.9,421.5 1137.0,424.0 1134.5,427.5 1128.7,428.7 1123.7,427.5 1120.0,424.8 1116.2,421.2 1110.8,414.4 1097.9,393.7 1085.0,366.5 1064.6,321.5 1024.3,228.4 1008.5,194.6 1008.5,114.0Z" fill="#4c72b0" fill-opacity="0.179"/>
<path d="M1008.5,118.7 1025.5,142.1 1040.9,168.5 1049.6,185.0 1062.5,210.3 1073.8,234.4 1094.6,281.2 1107.9,313.3 1122.0,344.5 1130.8,361.5 1135.8,369.4 1139.1,373.3 1142.0,374.1 1143.7,372.9 1145.7,369.2 1147.0,365.1 1148.2,358.3 1151.6,333.0 1159.1,258.7 1164.1,216.6 1169.0,185.3 1175.7,154.8 1182.4,134.1 1187.8,122.0 1191.1,116.3 1196.5,109.0 1200.7,104.7 1206.1,100.3 1214.0,95.4 1219.8,93.4 1223.5,92.8 1229.4,93.4 1233.5,94.3 1236.9,95.6 1242.3,98.1 1247.3,101.6 1256.0,109.0 1263.9,117.7 1274.3,131.5 1283.0,144.1 1289.7,154.9 1297.2,168.5 1321.3,216.5 1338.0,252.7 1369.2,324.8 1381.2,351.1 1387.5,362.8 1392.9,370.8 1395.8,374.1 1397.0,375.0 1399.1,375.4 1402.0,372.3 1403.7,368.4 1404.9,363.8 1406.6,353.7 1410.4,322.7 1417.4,251.6 1421.2,220.3 1426.6,185.0 1432.0,159.4 1435.3,147.3 1439.1,136.1 1444.1,124.4 1447.8,117.4 1451.5,111.7 1455.7,106.6 1460.7,102.0 1468.2,96.7 1471.5,95.0 1476.9,93.2 1481.5,92.7 1491.1,94.7 1501.5,100.0 1507.3,104.3 1519.4,116.7 1525.6,124.6 1534.3,137.1 1541.4,147.9 1552.2,165.8 1558.9,178.2 1576.8,215.0 1589.7,243.1 1627.9,330.8 1637.9,352.1 1645.0,365.0 1649.6,371.6 1652.1,374.4 1655.4,375.9 1657.1,375.8 1658.7,374.3 1660.0,371.6 1661.6,367.2 1663.7,356.4 1667.0,330.6 1676.6,236.5 1679.5,213.7 1683.7,187.1 1690.3,155.8 1694.9,140.5 1699.5,128.8 1704.1,119.2 1710.7,109.0 1717.4,102.2 1724.0,97.0 1727.8,95.0 1735.7,92.6 1739.4,92.8 1746.9,94.3 1756.9,99.4 1756.9,148.4 1751.1,140.3 1741.9,130.4 1735.7,125.4 1730.7,122.4 1727.8,121.5 1722.0,121.6 1717.4,124.0 1711.1,131.7 1706.6,140.9 1702.4,152.8 1697.4,171.6 1693.7,190.3 1690.8,207.8 1685.4,249.3 1675.0,346.7 1670.4,374.9 1667.5,387.3 1664.1,398.4 1660.8,407.1 1657.5,413.9 1652.9,420.4 1650.4,422.7 1645.8,424.8 1643.3,424.7 1638.3,422.4 1630.4,415.1 1621.7,402.3 1609.6,380.6 1600.1,360.8 1558.9,265.6 1542.2,228.7 1526.8,196.8 1509.0,163.1 1502.7,153.2 1491.9,138.1 1489.4,135.0 1482.7,128.5 1478.6,125.3 1471.9,121.8 1465.3,121.8 1461.5,123.5 1456.9,128.7 1454.0,133.1 1448.2,146.9 1443.2,163.4 1437.4,190.3 1430.7,235.6 1419.1,345.7 1415.8,367.7 1412.8,380.9 1406.6,401.1 1403.3,408.6 1400.4,413.9 1394.1,421.8 1391.6,423.5 1390.8,423.4 1388.3,424.8 1387.1,424.4 1386.2,424.7 1380.0,421.7 1373.7,416.2 1363.3,401.0 1351.7,379.5 1335.9,345.7 1300.5,263.3 1281.8,221.9 1267.6,192.9 1251.0,162.2 1238.9,144.0 1229.0,131.7 1224.0,127.2 1217.3,122.7 1211.5,121.6 1208.2,122.1 1205.2,123.7 1200.3,129.4 1195.3,138.8 1192.8,145.1 1188.2,159.6 1183.2,181.2 1179.0,204.3 1175.3,231.2 1166.1,320.5 1162.4,352.2 1159.5,369.3 1156.2,383.1 1150.3,400.3 1144.1,412.6 1141.6,416.3 1137.0,421.5 1134.1,423.2 1130.8,424.4 1127.9,424.1 1122.0,421.5 1117.0,417.1 1109.6,407.1 1101.2,393.2 1085.0,360.8 1072.9,333.8 1035.5,246.7 1019.7,212.0 1008.5,189.8 1008.5,118.7Z" fill="#4c72b0" fill-opacity="0.25"/>
<path d="M1008.5,121.9 1015.9,132.0 1028.4,151.4 1048.0,186.6 1063.8,218.9 1080.8,255.5 1108.7,319.4 1122.9,350.1 1133.3,369.0 1137.8,374.7 1140.8,376.6 1142.0,376.4 1143.7,375.3 1145.3,372.5 1147.4,365.8 1149.1,357.1 1152.8,327.5 1159.9,256.8 1164.1,221.0 1169.5,185.9 1176.5,154.1 1179.4,144.0 1183.6,132.6 1188.2,122.7 1192.3,115.6 1197.8,108.7 1204.4,102.6 1210.2,98.6 1216.9,95.7 1224.8,94.4 1230.6,95.3 1239.4,99.1 1246.4,103.7 1254.3,110.7 1264.3,121.6 1270.1,129.0 1280.1,143.9 1286.8,154.6 1298.0,174.7 1323.8,226.6 1378.3,348.8 1386.2,363.6 1390.4,370.2 1395.4,376.1 1397.5,377.5 1398.7,377.7 1400.4,376.6 1403.3,371.9 1404.9,366.2 1406.6,357.2 1409.9,331.0 1418.3,248.5 1422.0,217.5 1427.0,185.5 1432.4,160.2 1436.1,146.9 1440.3,134.6 1447.0,120.0 1451.5,112.9 1455.7,107.8 1461.1,102.8 1466.5,98.7 1474.4,95.3 1481.9,94.4 1487.7,95.3 1495.6,98.9 1504.8,105.2 1513.1,113.2 1520.6,121.6 1529.8,133.5 1540.6,150.6 1548.5,164.5 1558.0,182.2 1570.5,206.8 1594.2,258.2 1612.5,300.3 1630.9,340.7 1638.3,356.1 1642.9,364.3 1648.7,372.8 1652.9,377.3 1655.4,378.5 1657.1,378.3 1658.3,376.7 1660.8,371.7 1664.1,357.3 1667.9,326.8 1673.7,267.9 1678.7,223.6 1682.4,197.3 1685.4,180.6 1688.3,166.5 1692.4,150.2 1696.2,138.7 1701.6,125.3 1706.2,116.7 1711.6,109.2 1718.2,102.6 1722.8,98.9 1729.9,95.4 1733.2,94.8 1739.0,94.3 1742.4,94.7 1746.5,96.0 1752.3,99.0 1756.9,102.1 1756.9,145.9 1748.2,134.7 1742.4,128.5 1738.6,125.3 1731.9,121.4 1724.9,120.0 1720.3,121.4 1715.7,124.5 1712.0,129.3 1709.9,132.7 1705.3,142.6 1700.7,156.5 1696.6,173.3 1693.3,190.1 1689.5,213.1 1684.1,255.9 1675.8,336.5 1673.7,353.0 1669.5,376.6 1666.6,388.4 1663.3,398.8 1658.3,410.3 1654.2,417.1 1651.2,420.0 1647.1,421.9 1644.6,421.9 1641.7,421.3 1638.3,419.3 1635.4,416.8 1631.3,412.1 1622.1,398.6 1612.5,381.3 1597.2,349.8 1552.2,246.4 1535.6,210.1 1521.8,183.0 1509.0,159.7 1496.9,141.8 1489.8,133.5 1479.8,124.2 1474.0,121.1 1468.6,120.2 1464.9,121.1 1460.7,123.5 1457.4,127.0 1454.9,130.7 1451.5,136.9 1448.6,144.0 1443.6,159.9 1438.2,183.9 1434.9,203.0 1431.2,228.9 1427.8,257.0 1419.1,341.6 1416.2,362.6 1413.7,375.3 1409.1,391.9 1405.8,400.9 1400.8,411.0 1396.2,417.9 1394.1,419.7 1392.0,421.1 1387.9,422.0 1385.0,421.4 1381.2,419.4 1378.7,417.2 1372.9,410.4 1364.2,397.7 1356.7,384.2 1338.4,346.2 1298.0,254.1 1280.1,214.6 1265.2,184.1 1253.1,162.3 1243.1,146.5 1238.1,139.6 1226.5,127.4 1221.5,123.4 1216.9,121.1 1211.5,120.4 1207.7,121.5 1204.4,123.5 1201.9,126.0 1198.2,131.5 1194.0,140.0 1187.8,159.2 1181.9,184.8 1177.4,212.3 1172.8,247.4 1162.4,346.9 1159.1,368.5 1157.0,377.8 1152.4,392.6 1147.8,403.8 1144.5,409.7 1138.7,417.9 1136.6,419.9 1133.3,421.3 1130.4,421.8 1126.6,420.8 1124.1,419.5 1116.2,411.4 1108.3,400.1 1099.2,384.0 1090.0,365.3 1079.2,341.7 1028.4,227.0 1008.5,185.8 1008.5,121.9Z" fill="#4c72b0" fill-opacity="0.292"/>
<path d="M1008.5,126.8 1014.3,134.5 1024.7,150.1 1035.9,168.9 1044.7,185.1 1055.5,206.3 1073.4,244.5 1106.6,320.3 1121.6,352.2 1126.2,361.0 1134.1,373.9 1138.7,379.0 1141.2,379.9 1144.1,377.5 1145.7,374.1 1149.1,362.0 1152.8,335.0 1162.0,245.1 1167.0,206.2 1170.7,183.2 1174.5,165.0 1177.0,155.2 1181.5,140.7 1185.7,129.7 1188.6,123.8 1193.6,115.5 1200.3,107.4 1209.0,100.4 1215.2,97.8 1221.1,96.5 1230.2,97.2 1236.9,99.8 1247.3,107.3 1255.2,115.0 1262.2,123.1 1270.1,133.7 1276.8,143.7 1293.4,171.4 1308.0,198.9 1324.2,232.3 1374.6,345.6 1382.9,361.7 1389.5,372.6 1394.1,378.4 1397.9,380.5 1399.5,379.9 1401.2,378.3 1403.3,374.4 1405.8,365.6 1407.4,356.5 1411.2,326.6 1418.7,251.7 1423.7,211.1 1426.6,192.3 1430.3,172.5 1434.1,156.5 1438.2,142.5 1442.8,130.3 1449.0,118.0 1455.3,109.5 1461.9,103.2 1465.3,100.7 1468.6,98.9 1475.7,96.7 1479.0,96.3 1484.4,96.7 1489.8,98.2 1495.2,100.8 1502.3,106.1 1514.4,118.1 1527.7,135.3 1541.4,157.0 1556.0,182.9 1566.8,203.8 1579.7,230.6 1597.2,269.1 1625.0,332.9 1634.6,353.2 1640.4,364.1 1647.1,374.5 1652.1,379.9 1654.2,380.8 1655.8,381.0 1657.1,380.5 1660.4,374.8 1662.9,366.7 1664.1,360.4 1667.5,336.4 1676.2,250.0 1682.0,203.8 1685.8,181.8 1689.5,164.0 1694.5,145.9 1698.7,133.7 1703.7,122.9 1710.3,112.0 1719.5,102.5 1724.0,99.4 1728.2,97.6 1733.2,96.5 1736.5,96.3 1741.9,96.9 1746.5,98.2 1749.4,99.6 1756.9,104.7 1756.9,143.2 1748.2,132.3 1741.5,125.8 1733.2,120.1 1729.0,118.7 1726.5,118.4 1723.2,119.0 1719.9,120.4 1716.1,123.1 1713.2,126.2 1707.8,135.2 1703.7,145.2 1699.9,157.1 1696.6,170.5 1692.4,191.3 1689.1,211.6 1683.3,258.3 1675.0,338.9 1672.5,357.9 1669.5,374.5 1665.4,390.4 1659.1,406.0 1656.2,411.2 1653.3,415.2 1650.0,418.1 1646.2,419.4 1643.3,418.9 1641.3,417.9 1638.3,415.9 1633.8,411.4 1625.9,400.9 1617.5,386.6 1608.0,367.5 1599.2,348.6 1544.7,224.5 1528.9,191.7 1516.9,169.1 1503.5,148.3 1498.6,141.3 1491.9,133.3 1486.1,127.2 1481.1,123.3 1474.4,119.6 1470.3,118.5 1468.6,118.6 1465.3,119.6 1459.9,122.9 1454.5,129.8 1450.7,136.9 1447.4,145.3 1441.6,165.4 1436.1,191.8 1432.0,217.9 1427.0,259.2 1418.7,340.0 1414.1,370.1 1411.6,381.3 1407.0,395.1 1403.7,402.8 1399.5,410.4 1394.1,416.8 1390.4,419.0 1387.9,419.2 1384.1,418.0 1381.6,416.2 1378.3,413.2 1373.3,407.6 1367.1,398.6 1363.3,392.0 1355.8,377.9 1338.8,342.0 1304.3,262.0 1280.1,208.6 1267.6,183.7 1253.9,159.7 1244.8,146.0 1239.8,139.4 1236.0,134.7 1229.8,128.1 1225.2,124.2 1220.6,121.3 1214.8,119.0 1212.3,118.7 1206.9,120.8 1202.7,123.7 1199.8,127.4 1195.7,134.6 1192.3,142.3 1189.4,150.8 1182.8,177.0 1178.6,199.3 1174.0,231.7 1161.6,347.2 1157.8,370.5 1155.3,380.9 1151.6,392.7 1146.6,403.3 1141.6,411.5 1137.0,416.6 1134.9,417.9 1132.4,419.0 1127.9,418.2 1124.1,416.0 1121.2,413.5 1115.0,406.2 1107.1,393.7 1095.8,372.7 1087.1,354.7 1075.4,328.8 1050.9,271.0 1030.5,224.7 1020.1,202.9 1008.5,180.4 1008.5,126.8Z" fill="#4c72b0" fill-opacity="0.412"/>
<path d="M1008.5,130.4 1016.4,141.2 1024.7,154.3 1034.3,170.5 1043.4,187.5 1066.7,235.6 1106.2,324.7 1117.0,348.2 1124.1,361.9 1131.6,374.4 1136.2,380.2 1139.5,382.3 1142.8,381.4 1145.7,376.9 1148.2,369.8 1149.9,362.1 1153.7,334.9 1162.4,249.1 1167.8,206.3 1171.5,183.5 1176.1,161.8 1183.2,138.3 1189.9,123.7 1196.1,113.6 1200.7,108.3 1204.4,105.1 1210.7,101.0 1216.1,99.0 1220.2,98.6 1225.6,98.9 1230.2,100.0 1234.4,101.6 1242.3,106.5 1249.8,112.6 1261.4,126.1 1278.9,150.8 1289.7,168.9 1300.1,188.2 1317.2,222.8 1362.1,323.8 1378.3,357.7 1384.6,368.9 1390.8,378.2 1395.0,382.3 1396.2,382.9 1397.9,383.0 1401.2,380.8 1402.9,377.5 1405.4,370.6 1407.4,361.1 1410.4,340.6 1420.3,243.9 1424.9,207.6 1428.2,186.9 1431.2,172.0 1434.5,157.7 1439.1,142.3 1444.9,128.0 1450.7,117.2 1456.1,110.1 1461.9,104.5 1469.4,99.9 1476.5,98.5 1482.7,98.9 1490.6,101.3 1494.8,103.7 1504.4,110.9 1512.7,119.7 1526.4,137.5 1541.8,161.6 1556.0,187.3 1573.0,221.9 1588.8,256.5 1618.8,324.5 1632.5,353.6 1638.3,364.6 1646.2,377.3 1651.2,382.5 1652.9,383.3 1655.0,383.6 1658.3,381.2 1660.0,378.3 1662.9,369.7 1664.6,361.9 1668.7,331.3 1677.4,244.7 1681.6,210.8 1685.4,187.6 1689.9,165.2 1693.7,150.6 1697.4,139.0 1702.4,127.2 1709.1,115.4 1716.6,106.3 1723.6,100.9 1727.8,99.3 1731.1,98.6 1734.9,98.3 1741.5,99.2 1749.0,102.1 1756.9,107.8 1756.9,139.9 1748.6,129.9 1742.8,124.2 1737.8,120.7 1733.6,118.5 1731.1,117.6 1727.0,117.2 1723.2,117.8 1719.5,119.3 1714.1,123.8 1708.7,132.0 1703.7,143.4 1699.5,156.6 1695.8,171.2 1692.4,187.2 1689.1,207.2 1683.7,248.9 1674.5,337.8 1671.6,359.3 1669.5,371.2 1667.0,382.1 1664.1,391.7 1657.5,406.9 1655.8,409.7 1652.9,413.0 1649.6,415.2 1646.2,416.0 1641.7,414.8 1638.8,413.1 1632.5,406.6 1624.2,393.9 1618.0,382.7 1608.0,362.5 1597.2,338.8 1558.0,248.4 1545.1,220.2 1536.4,202.1 1518.1,167.8 1511.9,157.2 1502.7,143.5 1489.8,128.4 1485.2,124.0 1479.8,120.2 1475.7,118.2 1471.1,117.4 1467.8,117.5 1464.9,118.4 1461.1,120.6 1457.4,124.3 1454.5,128.5 1452.0,132.8 1448.2,141.2 1444.5,152.0 1441.6,162.2 1436.6,184.7 1430.7,221.8 1427.0,252.8 1419.1,330.1 1416.6,350.2 1413.7,368.4 1410.4,382.6 1406.2,394.8 1400.8,406.0 1398.7,409.4 1395.8,412.7 1392.0,415.2 1390.4,415.7 1387.9,415.6 1382.9,414.1 1380.4,412.2 1376.2,407.7 1367.5,394.7 1359.6,380.6 1347.9,356.3 1333.8,325.0 1307.6,263.8 1293.9,233.0 1279.7,203.1 1267.2,179.0 1251.4,152.1 1246.4,144.8 1237.3,133.4 1231.0,126.8 1225.2,121.8 1219.4,118.6 1214.0,117.5 1209.4,118.1 1204.8,120.6 1201.1,124.3 1196.9,130.4 1193.2,138.2 1189.9,146.8 1186.9,156.2 1183.2,171.1 1178.6,194.6 1173.6,228.3 1170.3,256.8 1163.2,326.7 1159.9,353.4 1157.4,367.9 1153.7,383.5 1151.2,390.6 1147.4,399.1 1144.9,404.0 1140.8,410.1 1138.3,412.7 1134.1,415.2 1130.8,415.4 1126.6,414.6 1123.3,412.2 1120.0,408.9 1114.1,400.9 1105.8,387.1 1100.4,376.5 1088.3,351.1 1074.6,320.4 1045.1,251.6 1034.7,228.6 1020.5,199.3 1008.5,176.3 1008.5,130.4Z" fill="#4c72b0" fill-opacity="0.5"/>
<path d="M1008.5,134.1 1019.3,149.8 1027.2,162.9 1039.2,184.9 1050.5,207.0 1064.6,236.8 1100.4,317.3 1121.2,361.4 1128.3,373.7 1133.3,380.5 1136.2,383.3 1139.5,385.2 1142.4,384.3 1145.3,380.5 1148.2,372.9 1151.2,360.2 1154.5,335.2 1163.2,249.4 1168.2,209.6 1171.5,188.6 1175.3,169.3 1178.2,157.3 1182.4,143.4 1187.4,130.6 1193.2,119.7 1199.0,112.0 1202.7,108.0 1206.5,105.1 1212.3,101.9 1215.2,100.9 1221.9,100.3 1227.7,101.6 1235.6,105.1 1240.6,108.4 1248.1,114.7 1259.7,127.3 1271.4,143.1 1284.7,164.6 1297.6,188.6 1313.8,221.6 1325.5,246.8 1359.6,324.1 1373.7,354.0 1382.5,370.1 1386.2,376.1 1391.6,382.7 1395.4,385.4 1396.6,385.8 1400.0,384.5 1402.9,380.3 1406.2,370.4 1409.1,355.7 1413.3,320.5 1419.9,253.8 1424.1,219.2 1430.3,180.1 1434.5,160.9 1438.2,147.3 1443.2,133.6 1448.6,122.3 1454.0,114.3 1459.9,107.6 1464.4,104.1 1471.9,100.8 1478.2,100.1 1481.5,100.6 1486.1,102.2 1490.6,104.3 1497.3,108.5 1502.3,112.6 1510.6,121.0 1523.9,137.3 1538.9,160.9 1547.2,175.6 1556.8,194.0 1572.2,225.5 1612.1,315.3 1624.2,341.8 1631.7,356.9 1638.8,369.9 1644.6,378.9 1647.1,381.9 1650.0,384.6 1652.9,386.1 1654.6,386.2 1657.5,384.4 1659.6,381.6 1662.9,372.1 1665.0,363.1 1668.3,340.0 1677.4,250.5 1683.3,204.7 1686.2,186.7 1689.9,167.8 1694.5,150.0 1698.7,137.5 1702.4,128.8 1706.2,121.6 1712.8,111.8 1719.5,105.2 1725.7,101.8 1729.0,100.6 1732.8,100.0 1739.0,100.7 1747.3,104.2 1753.2,107.9 1756.9,111.0 1756.9,136.8 1749.8,128.3 1740.7,120.2 1734.4,116.9 1728.6,115.7 1725.7,115.7 1722.4,116.7 1718.6,118.6 1713.2,123.7 1707.4,132.9 1702.4,145.1 1698.7,157.2 1695.3,170.3 1691.6,188.6 1688.3,208.5 1683.3,247.3 1673.7,339.3 1669.1,369.8 1665.0,386.7 1659.6,400.5 1656.2,406.5 1654.2,409.1 1650.0,412.2 1647.1,412.5 1644.6,412.0 1641.3,409.9 1636.7,405.8 1632.9,401.1 1625.4,389.6 1615.9,372.4 1602.1,343.3 1553.1,232.9 1536.8,198.7 1524.8,175.8 1516.0,160.5 1501.9,139.2 1491.1,126.5 1483.6,120.2 1480.7,118.4 1476.9,116.8 1470.7,115.7 1465.7,116.7 1461.9,118.8 1456.9,123.4 1453.6,128.1 1451.1,132.6 1447.4,141.2 1444.5,149.7 1439.9,166.1 1434.5,192.4 1429.9,222.4 1426.2,253.6 1418.3,331.4 1414.5,359.6 1411.6,374.8 1407.0,390.3 1400.8,403.8 1397.5,408.6 1392.5,412.1 1389.1,412.2 1385.8,411.0 1380.0,406.3 1374.2,399.0 1370.4,393.3 1362.9,380.2 1352.9,360.7 1334.6,320.3 1298.9,239.2 1278.5,196.5 1264.3,169.9 1250.2,146.8 1241.9,135.2 1237.7,130.3 1231.0,123.8 1226.0,120.0 1220.2,117.0 1213.6,115.9 1210.2,116.5 1206.1,118.4 1201.5,122.3 1199.0,125.4 1194.8,132.5 1191.9,138.9 1188.2,149.1 1185.7,157.6 1179.4,185.0 1174.5,216.1 1169.0,260.8 1160.7,341.3 1157.8,361.5 1155.3,374.1 1152.8,383.2 1150.3,390.2 1146.2,399.4 1142.0,406.2 1139.1,409.3 1134.5,412.1 1129.5,411.3 1126.6,409.7 1123.7,407.1 1117.5,399.7 1111.6,390.8 1102.5,374.0 1087.1,341.9 1031.3,216.7 1019.3,192.3 1008.5,172.2 1008.5,134.1Z" fill="#4c72b0" fill-opacity="0.5"/>
<g transform="scale(0.5)" fill="none" stroke="#4c72b0" stroke-width="2" stroke-opacity="0.08">
<path d="M2017 293l18 26 19 30 42 74 40 81 76 161 25 50 14 22 11 15 10 9 5 2 4 0 4 -2 3 -3 6 -9 5 -14 5 -21 7 -50 17 -155 11 -81 7 -39 7 -35 8 -29 8 -26 10 -24 11 -20 11 -15 12 -10 13 -6 14 -2 15 3 15 7 22 17 23 24 25 33 26 40 29 51 32 60 94 199 26 53 15 24 12 17 10 10 5 2 4 1 4 -1 4 -3 6 -10 6 -16 5 -23 8 -52 16 -148 9 -76 13 -69 7 -31 8 -25 9 -25 9 -19 11 -17 11 -12 12 -8 12 -5 13 -1 14 4 11 5 12 7 12 11 13 12 27 32 29 43 30 53 34 63 32 67 65 138 27 53 14 24 11 16 10 10 5 2 5 1 4 -1 3 -2 6 -9 6 -15 5 -21 7 -49 18 -162 11 -85 8 -41 7 -34 9 -29 9 -26 11 -24 11 -18 13 -13 14 -9 15 -3 16 2 16 8 18 12"/>
<path d="M2017 358l22 44 25 52 102 228 38 79 20 35 17 23 7 7 8 6 6 2 6 0 5 -3 4 -4 9 -14 7 -23 7 -32 10 -78 16 -175 8 -76 11 -72 12 -56 8 -23 8 -20 9 -15 9 -10 11 -7 11 -3 12 2 12 6 18 14 19 22 21 30 21 35 27 50 30 62 106 238 38 77 20 36 16 23 8 8 6 5 7 3 6 0 5 -2 5 -4 5 -7 4 -8 8 -23 6 -32 10 -78 16 -174 8 -77 10 -68 12 -54 7 -22 7 -19 8 -17 9 -11 9 -9 10 -4 10 -2 11 3 9 4 10 7 21 21 22 30 24 39 28 50 31 65 108 240 37 77 19 34 17 24 14 13 7 3 5 1 5 -1 5 -4 5 -6 5 -8 7 -22 7 -30 10 -75 18 -199 10 -85 7 -42 6 -34 9 -32 8 -24 11 -23 11 -15 7 -5 7 -4 6 -1 8 0 7 1 9 4 16 12 19 19 19 25"/>
<path d="M2017 291l17 25 20 31 40 75 39 81 77 165 28 56 14 24 13 17 11 9 5 2 4 0 4 -1 3 -3 7 -11 6 -17 5 -22 8 -58 17 -159 10 -77 13 -74 8 -30 7 -25 10 -26 10 -19 11 -15 11 -11 13 -6 14 -2 14 3 15 7 21 16 22 25 25 32 25 39 28 51 31 62 96 205 29 59 15 26 13 18 11 10 5 3 5 1 4 -2 4 -3 7 -10 5 -16 6 -26 9 -59 15 -152 9 -73 13 -72 14 -56 8 -24 10 -20 10 -17 10 -13 12 -9 12 -4 12 -1 13 3 11 5 12 8 12 10 12 13 26 32 28 42 30 53 33 63 32 68 67 144 28 57 15 26 12 18 11 11 5 3 5 1 4 -1 4 -3 7 -10 6 -16 6 -25 8 -58 17 -159 11 -83 6 -39 8 -36 8 -32 9 -27 11 -25 12 -19 12 -13 13 -8 15 -3 15 2 15 8 18 13"/>
<path d="M2017 197l23 24 25 34 25 39 27 48 26 54 29 63 95 228 17 34 7 11 6 5 4 2 4 0 6 -5 5 -11 5 -21 6 -45 17 -156 11 -81 14 -78 16 -61 9 -27 9 -21 10 -19 11 -16 11 -13 12 -8 13 -5 13 -2 14 2 14 6 15 9 15 13 16 16 17 20 16 24 18 28 34 61 36 77 35 81 61 148 19 43 10 19 9 13 7 8 6 1 5 -2 5 -8 4 -13 3 -15 8 -54 17 -162 10 -73 15 -79 9 -33 9 -30 11 -29 11 -23 13 -19 12 -14 14 -10 14 -4 15 -1 16 5 14 7 13 9 13 12 14 15 15 19 15 21 31 50 32 60 33 72 32 73 56 139 19 43 10 20 9 13 7 9 7 3 5 -3 5 -7 4 -12 4 -19 7 -47 17 -163 10 -73 15 -81 8 -33 10 -31 10 -28 11 -23 12 -18 12 -15 14 -10 14 -6 15 -1 15 3"/>
<path d="M2017 264l21 26 21 31 23 37 24 43 39 77 84 181 30 58 13 21 10 13 9 7 7 2 4 -1 4 -3 5 -9 5 -15 5 -22 7 -46 17 -157 11 -82 6 -39 8 -35 7 -29 9 -26 10 -25 10 -20 12 -15 12 -11 14 -6 14 -1 15 3 17 8 22 18 23 25 25 33 26 40 29 52 31 60 93 199 26 51 14 25 12 16 10 10 8 2 4 -1 4 -2 5 -9 5 -14 5 -21 8 -51 16 -150 10 -78 13 -74 7 -30 8 -25 9 -25 10 -21 11 -16 11 -12 11 -8 13 -5 13 0 14 3 12 6 12 8 12 10 13 14 27 32 29 44 30 52 33 64 33 67 64 138 26 52 13 23 12 17 10 9 8 3 4 -1 3 -2 6 -8 6 -16 5 -22 8 -52 15 -150 11 -82 7 -39 7 -36 9 -32 8 -26 10 -24 11 -19 11 -15 14 -11 13 -6 14 -1 15 3 17 9"/>
<path d="M2017 295l17 25 20 30 40 74 40 80 77 162 28 55 14 23 12 15 10 9 5 2 4 1 4 -2 3 -2 7 -10 6 -16 6 -26 7 -51 17 -155 10 -76 13 -72 8 -30 8 -27 10 -25 10 -19 12 -15 11 -10 14 -7 13 -1 14 3 15 7 21 16 22 24 24 31 26 40 29 50 31 60 95 200 28 56 15 26 13 17 11 10 5 3 5 1 4 -1 3 -3 7 -9 6 -15 5 -25 9 -56 15 -148 10 -77 13 -70 14 -54 8 -23 10 -20 10 -16 10 -13 12 -9 12 -4 13 -1 13 3 11 5 12 8 11 9 13 13 26 31 28 42 30 51 33 63 33 67 65 140 29 56 15 25 12 17 11 10 5 3 4 1 4 -1 4 -2 6 -9 6 -15 6 -23 8 -55 18 -162 11 -80 6 -38 8 -35 8 -31 9 -27 11 -24 12 -18 12 -13 13 -8 15 -3 15 2 15 7 18 12"/>
<path d="M2017 304l31 54 35 71 35 78 72 168 32 67 16 30 14 20 12 10 6 2 5 0 4 -1 4 -4 8 -12 6 -19 7 -29 10 -67 19 -170 11 -81 13 -73 8 -31 7 -25 9 -25 10 -19 10 -16 11 -11 12 -6 12 -2 14 2 14 7 19 16 21 24 22 32 23 40 27 51 30 62 97 225 31 66 17 30 14 21 12 12 6 3 5 1 5 -2 4 -3 8 -11 7 -21 7 -30 10 -67 18 -163 10 -76 13 -72 14 -58 8 -25 9 -21 10 -16 10 -13 10 -9 11 -4 12 -1 12 3 10 5 11 8 11 9 12 13 24 32 26 42 28 53 31 66 99 228 31 66 17 30 14 21 12 12 5 3 5 1 5 -1 5 -3 7 -11 8 -20 6 -28 10 -64 21 -184 12 -84 7 -42 8 -35 8 -31 8 -25 11 -24 11 -18 12 -12 13 -8 13 -2 15 3 15 9 17 14"/>
<path d="M2017 312l34 54 38 69 38 75 75 157 30 59 16 26 14 17 10 9 5 2 5 0 8 -5 6 -10 6 -17 6 -26 8 -55 15 -161 10 -75 12 -72 7 -28 7 -25 9 -24 10 -19 11 -15 11 -10 12 -6 13 -2 14 3 14 6 21 16 22 23 23 31 26 39 28 49 32 60 99 205 30 60 16 26 14 18 11 11 5 2 5 1 4 -1 5 -3 7 -11 6 -17 6 -27 7 -55 15 -153 9 -77 12 -69 13 -53 9 -24 8 -19 9 -15 10 -12 11 -8 12 -5 12 -1 12 3 11 5 11 7 12 10 12 12 26 31 28 41 29 50 34 63 32 65 70 147 30 58 16 26 13 18 12 11 5 2 5 1 4 -1 4 -3 7 -10 6 -15 5 -26 8 -52 17 -169 10 -86 7 -39 8 -35 8 -31 8 -23 11 -23 12 -18 12 -11 7 -4 7 -3 8 -1 7 0 16 5 18 11 18 16"/>
<path d="M2017 332l27 51 29 62 103 233 34 72 18 32 15 21 7 7 7 5 5 2 6 0 5 -3 4 -4 8 -14 6 -22 6 -28 9 -68 18 -180 9 -77 12 -72 13 -56 8 -25 10 -20 10 -16 10 -11 11 -7 12 -3 13 3 13 6 20 16 20 23 21 31 23 39 28 52 30 62 102 233 34 72 19 33 15 21 6 7 7 5 6 3 5 0 5 -2 4 -3 8 -14 7 -20 7 -31 9 -68 16 -172 9 -79 12 -74 13 -55 7 -24 8 -20 10 -17 9 -12 10 -9 10 -4 11 -2 12 3 10 5 10 7 11 10 11 12 24 32 26 41 28 53 31 65 33 72 72 166 34 70 17 32 15 22 13 13 6 3 5 0 5 -1 4 -3 9 -13 6 -18 7 -30 9 -65 19 -194 11 -88 7 -41 7 -38 9 -32 9 -27 10 -23 13 -18 12 -10 7 -3 8 -2 7 1 8 1 16 9 18 15 19 23"/>
<path d="M2017 324l29 53 32 64 32 70 73 164 34 70 19 32 15 21 6 6 7 5 6 2 5 0 5 -2 4 -4 7 -14 7 -21 6 -27 9 -68 17 -171 9 -78 12 -71 6 -31 8 -28 8 -23 9 -20 10 -16 10 -10 12 -7 11 -2 14 3 13 7 19 15 20 23 23 31 23 39 27 50 30 61 102 226 34 70 17 31 15 21 14 13 6 3 5 0 5 -1 4 -4 8 -13 7 -19 6 -31 10 -67 16 -171 8 -72 12 -74 13 -54 7 -23 8 -21 10 -16 9 -12 10 -9 11 -5 11 0 12 2 10 5 10 7 11 10 11 13 24 30 25 41 29 53 32 64 103 229 34 69 17 31 15 21 13 13 6 3 5 1 5 -1 4 -3 4 -4 5 -8 6 -18 7 -29 9 -64 18 -186 11 -88 7 -41 7 -37 9 -32 8 -25 11 -23 11 -17 13 -11 7 -3 7 -2 8 0 7 1 16 7 17 14 18 19"/>
<path d="M2017 357l22 45 25 52 99 228 37 79 19 34 17 23 7 8 7 5 7 2 5 0 5 -3 5 -4 8 -14 7 -24 7 -32 10 -74 17 -181 10 -79 11 -73 13 -53 7 -23 9 -20 9 -16 10 -11 11 -7 10 -3 13 2 12 6 18 15 19 21 21 30 22 38 27 51 30 62 105 241 36 77 19 35 16 23 8 8 6 5 7 3 6 0 5 -2 5 -4 8 -14 8 -22 7 -35 10 -75 17 -173 9 -80 11 -71 11 -53 8 -25 7 -19 9 -16 8 -12 9 -9 10 -5 11 -2 12 3 9 4 10 7 20 21 23 30 25 41 28 53 31 65 106 242 35 76 20 35 15 23 8 8 7 5 5 3 6 1 5 -1 5 -3 8 -12 9 -23 6 -29 11 -77 19 -196 11 -89 7 -41 7 -38 9 -32 9 -26 11 -22 12 -17 7 -5 6 -3 7 -2 8 0 7 1 8 3 16 11 18 18 19 25"/>
<path d="M2017 289l33 59 37 75 36 81 72 170 29 63 15 27 13 19 11 10 5 3 5 0 4 -2 5 -4 6 -12 6 -18 6 -27 8 -60 18 -170 10 -86 14 -78 7 -32 9 -29 9 -25 10 -21 11 -16 11 -12 13 -7 13 -2 14 3 14 8 10 7 11 10 22 25 23 34 25 42 28 55 31 65 97 225 29 63 15 28 13 21 12 12 5 2 5 1 4 -1 4 -3 7 -11 6 -19 6 -27 8 -58 19 -177 10 -80 12 -74 14 -58 9 -25 9 -22 10 -18 10 -12 11 -9 11 -5 13 -2 13 4 11 5 11 8 11 10 13 14 25 34 27 44 29 55 33 69 32 73 68 159 29 63 15 28 13 20 11 11 5 3 5 1 4 -1 4 -3 7 -10 6 -18 6 -26 9 -64 19 -177 11 -91 8 -45 7 -36 10 -36 9 -27 10 -25 12 -19 13 -13 6 -5 8 -3 14 -2 16 5 16 10 18 15"/>
<path d="M2017 287l32 59 34 75 35 80 73 179 31 69 16 32 14 20 12 11 6 3 5 0 4 -2 4 -3 8 -13 6 -20 7 -29 10 -68 20 -181 11 -83 13 -77 8 -32 7 -27 9 -27 10 -21 11 -17 11 -11 11 -7 13 -3 13 3 14 7 20 17 20 25 22 33 23 41 27 53 30 66 97 237 31 69 17 32 14 22 12 13 6 3 5 0 5 -2 4 -3 8 -13 7 -22 7 -31 10 -69 19 -174 10 -78 13 -79 14 -58 9 -25 9 -22 9 -17 10 -13 11 -9 11 -5 11 0 13 3 10 5 11 8 10 11 12 13 23 33 26 44 28 55 31 68 32 75 67 165 31 70 17 32 14 22 11 12 6 3 5 1 5 -1 4 -3 8 -11 7 -21 7 -29 10 -66 21 -188 12 -88 7 -45 8 -37 8 -33 8 -27 11 -27 11 -19 12 -15 13 -8 13 -3 14 3 15 8 17 15"/>
<path d="M2017 313l32 52 35 68 36 74 79 170 35 69 18 30 15 20 7 7 7 4 6 3 4 0 5 -2 5 -3 8 -14 7 -20 6 -31 9 -62 16 -175 9 -72 10 -68 7 -30 7 -25 8 -23 8 -18 10 -16 10 -10 11 -6 12 -2 12 3 14 6 18 15 20 21 21 30 23 35 27 50 30 58 104 221 34 69 19 31 16 22 13 12 6 3 6 1 5 -2 5 -3 8 -14 7 -19 6 -31 9 -69 15 -160 9 -74 10 -70 13 -54 7 -23 8 -18 8 -15 9 -11 10 -9 10 -4 12 -1 12 3 10 5 10 7 21 21 24 30 25 39 28 50 31 61 105 224 34 68 19 31 15 21 13 13 6 3 6 1 5 -1 5 -3 8 -12 7 -19 6 -29 9 -65 18 -184 9 -76 7 -43 6 -33 8 -30 7 -23 10 -23 11 -17 12 -12 12 -6 14 0 15 5 15 10 18 17"/>
<path d="M2017 314l30 55 32 66 34 74 73 168 34 72 17 31 15 21 7 7 7 5 6 3 5 0 5 -2 4 -4 7 -13 7 -20 6 -31 10 -68 17 -178 9 -77 12 -72 7 -31 7 -28 8 -24 10 -20 10 -16 10 -12 12 -6 12 -2 12 2 13 7 20 16 20 23 21 31 23 39 28 52 30 62 101 231 35 72 17 32 15 21 7 7 6 6 6 2 5 1 5 -2 4 -3 9 -14 6 -20 7 -31 9 -67 17 -170 9 -79 11 -74 13 -55 7 -24 9 -21 9 -17 9 -12 10 -9 11 -5 12 -1 11 3 10 5 10 7 11 10 12 12 23 32 26 41 28 53 32 65 103 235 33 70 18 32 15 22 13 13 6 3 5 1 5 -1 4 -3 8 -13 7 -18 6 -30 10 -71 19 -186 11 -87 6 -42 8 -37 8 -32 8 -26 10 -22 12 -18 12 -12 7 -4 7 -2 6 0 8 1 16 6 16 13 18 18"/>
<path d="M2017 273l20 25 21 30 22 37 23 41 45 89 83 175 26 49 12 20 11 14 9 8 8 2 7 -3 7 -9 5 -15 5 -21 8 -48 17 -159 11 -79 14 -73 8 -29 8 -25 10 -24 11 -20 12 -15 11 -9 14 -6 14 -2 15 4 15 7 21 17 23 24 24 32 26 39 28 50 31 59 94 198 27 54 14 24 13 17 10 10 5 2 4 0 4 -1 4 -2 6 -10 6 -17 5 -22 8 -51 16 -152 10 -74 13 -68 7 -30 8 -25 9 -24 9 -19 11 -17 11 -12 11 -8 13 -4 13 0 13 3 11 5 12 8 12 10 13 13 26 32 29 42 30 51 32 62 32 66 65 139 27 52 14 24 12 16 10 10 5 3 4 0 4 0 3 -3 7 -9 6 -15 5 -21 7 -48 18 -159 11 -79 14 -73 8 -32 8 -25 10 -23 11 -19 12 -15 12 -9 14 -6 14 0 15 3 15 8"/>
<path d="M2017 307l28 56 32 69 31 75 70 171 32 71 17 31 14 21 11 10 6 3 5 -1 4 -2 5 -4 7 -14 7 -22 5 -28 10 -65 19 -180 11 -85 13 -78 7 -33 8 -27 9 -26 10 -22 11 -17 11 -11 11 -7 13 -3 13 3 14 7 10 8 10 9 21 25 22 34 24 41 27 55 31 68 97 236 32 71 17 32 14 21 11 12 6 2 5 1 4 -2 5 -3 7 -13 7 -19 6 -31 10 -70 19 -173 10 -81 12 -76 14 -61 9 -26 9 -23 9 -17 10 -13 11 -10 11 -5 12 -1 12 3 11 5 11 8 11 10 12 14 24 33 26 46 29 55 31 70 32 74 68 167 31 70 16 30 14 22 12 13 5 3 5 1 5 -2 4 -3 8 -12 7 -19 6 -29 10 -69 20 -187 13 -96 7 -44 9 -40 8 -32 9 -27 11 -25 12 -20 13 -12 6 -4 8 -3 7 -1 8 1 16 6 16 13 18 18"/>
<path d="M2017 276l18 28 19 31 42 78 41 86 76 171 28 56 14 25 12 16 10 9 5 2 4 0 6 -4 7 -10 6 -17 5 -23 7 -53 18 -173 10 -79 13 -75 8 -31 7 -25 10 -26 10 -20 12 -17 11 -10 14 -7 13 -2 15 3 15 8 22 18 22 25 24 33 26 42 28 52 32 64 95 210 28 59 15 27 12 18 11 10 5 3 4 0 5 -1 3 -3 7 -10 5 -17 5 -23 9 -59 15 -159 10 -81 13 -73 14 -56 8 -24 10 -21 10 -17 10 -13 12 -9 12 -5 13 -1 13 4 11 5 12 8 12 11 13 13 26 33 28 44 30 53 33 67 33 70 66 149 28 58 15 26 12 18 11 10 5 3 4 0 4 -1 3 -3 7 -10 6 -17 5 -22 7 -53 18 -173 11 -85 6 -40 8 -37 8 -33 9 -28 11 -25 12 -19 12 -14 14 -9 14 -3 16 3 15 7 18 13"/>
<path d="M2017 323l32 52 36 66 36 72 73 153 31 59 16 26 14 18 12 10 5 2 5 0 4 -2 4 -4 6 -11 6 -16 6 -26 8 -58 17 -158 9 -71 13 -69 7 -31 8 -25 9 -23 10 -19 11 -15 10 -10 13 -6 12 -2 14 3 14 6 20 15 22 23 23 30 25 38 28 49 31 58 99 205 31 60 15 26 15 19 12 11 5 2 5 1 4 -2 4 -3 7 -10 7 -18 6 -25 8 -57 17 -159 9 -71 11 -66 14 -52 8 -23 8 -18 10 -17 10 -11 11 -8 11 -5 12 0 13 2 11 5 10 7 24 21 25 31 27 40 30 50 33 61 32 66 69 145 30 58 16 26 14 19 12 11 5 2 5 1 4 -1 4 -3 7 -9 6 -16 6 -24 8 -54 19 -173 11 -80 6 -38 8 -34 8 -30 9 -26 11 -22 12 -18 13 -11 7 -3 7 -3 15 0 16 5 17 10 18 17"/>
<path d="M2017 338l28 50 31 60 106 228 36 71 19 32 16 21 7 6 7 5 5 2 6 0 5 -3 4 -4 8 -13 6 -20 7 -31 9 -69 16 -168 8 -73 11 -68 7 -31 7 -25 8 -24 8 -18 9 -15 10 -10 11 -7 12 -2 12 2 14 6 18 15 20 21 22 30 22 36 27 49 31 60 104 223 35 70 18 31 16 22 8 8 6 5 6 2 6 1 5 -2 4 -3 9 -12 7 -22 7 -31 9 -69 16 -168 8 -73 11 -68 11 -51 8 -23 7 -18 9 -15 9 -12 10 -9 10 -4 11 -1 11 3 10 5 10 7 22 20 23 30 25 39 28 50 32 62 106 226 35 70 18 31 16 22 13 12 6 3 6 1 5 -1 4 -3 8 -11 8 -21 6 -29 10 -65 17 -184 10 -83 7 -42 6 -33 9 -32 8 -24 10 -22 12 -16 12 -11 7 -2 7 -2 8 0 7 2 16 8 18 15 18 20"/>
<path d="M2017 245l20 27 21 33 22 40 23 45 38 81 83 193 30 64 12 21 11 15 9 8 7 3 7 -3 6 -11 6 -16 5 -23 8 -50 18 -171 12 -88 14 -76 8 -34 9 -27 10 -27 11 -21 12 -16 12 -11 14 -6 14 -2 15 4 16 9 21 18 23 26 24 34 26 44 28 54 31 65 93 216 26 55 14 27 11 17 10 10 5 2 4 1 6 -3 7 -11 6 -16 5 -23 8 -57 18 -164 10 -77 13 -76 7 -32 9 -30 9 -26 10 -22 11 -17 11 -13 11 -9 13 -5 13 0 14 3 12 6 11 9 12 10 13 14 26 35 28 45 30 56 34 69 31 71 64 151 26 55 14 27 12 17 10 10 4 2 4 1 7 -4 7 -10 5 -16 5 -23 8 -51 18 -170 12 -88 14 -77 8 -33 9 -27 10 -26 10 -21 12 -16 13 -11 13 -7 14 -2 15 4 16 8"/>
<path d="M2017 292l31 57 35 74 34 79 75 182 35 76 18 34 15 21 7 8 6 5 6 3 6 0 5 -2 4 -4 8 -15 8 -23 6 -32 10 -74 19 -183 9 -78 12 -77 7 -32 8 -28 8 -25 9 -20 10 -16 10 -11 11 -6 11 -2 13 2 13 7 19 17 19 23 20 31 23 40 27 52 29 64 101 242 34 76 19 34 15 23 13 13 6 3 6 1 5 -2 5 -4 8 -13 7 -23 7 -31 10 -73 18 -183 9 -78 12 -75 13 -56 7 -24 8 -22 10 -17 9 -13 10 -9 11 -4 10 -1 12 3 10 6 10 7 21 22 22 32 25 42 28 54 30 67 103 244 34 76 18 35 15 22 13 14 6 3 6 1 5 -1 5 -4 8 -13 8 -22 7 -31 10 -71 19 -190 11 -90 6 -43 8 -39 7 -32 8 -27 10 -25 11 -19 12 -13 12 -7 6 -1 7 0 14 4 15 10 16 15"/>
<path d="M2017 355l26 46 28 55 105 219 36 71 20 31 16 21 8 7 6 5 6 2 6 -1 5 -2 4 -5 8 -13 6 -21 6 -29 8 -65 15 -171 8 -70 10 -66 12 -55 9 -25 8 -18 9 -15 10 -11 11 -6 12 -2 12 2 13 5 18 14 20 22 22 28 23 36 28 50 31 59 106 220 35 70 19 32 16 21 8 7 6 5 6 3 6 1 5 -2 5 -4 8 -13 8 -23 6 -29 8 -66 14 -162 8 -71 10 -69 11 -53 8 -24 7 -19 9 -15 8 -11 10 -9 10 -4 11 -1 11 2 10 5 9 6 22 20 23 29 26 39 29 50 32 60 108 225 36 70 18 30 16 22 14 13 6 3 6 1 5 -2 4 -2 8 -12 8 -20 6 -26 9 -67 16 -188 10 -86 7 -41 7 -32 8 -30 8 -23 11 -21 13 -15 6 -5 7 -3 7 -2 7 0 8 1 8 3 17 11 18 17 20 24"/>
<path d="M2017 327l30 52 32 64 34 71 71 157 33 67 18 30 15 20 12 10 6 2 5 0 4 -2 5 -3 7 -13 7 -20 5 -27 10 -65 16 -163 10 -81 12 -67 7 -30 7 -26 9 -25 9 -19 10 -15 11 -11 12 -6 12 -2 14 2 13 7 19 15 21 22 22 31 24 37 27 50 31 61 101 219 33 68 17 30 14 19 13 12 6 2 5 1 5 -2 4 -3 7 -12 7 -19 7 -30 9 -66 17 -163 9 -74 11 -70 13 -51 8 -25 8 -20 10 -16 9 -11 10 -8 11 -5 11 -1 13 2 10 5 10 7 11 10 12 12 24 30 26 40 29 52 32 64 103 223 32 65 18 31 14 19 12 12 6 3 5 1 5 -2 4 -3 8 -11 6 -18 7 -28 9 -64 19 -177 10 -84 7 -39 8 -36 8 -31 9 -27 11 -23 11 -17 13 -11 7 -3 7 -2 8 0 7 1 16 6 17 12 18 19"/>
<path d="M2017 303l32 56 36 71 35 76 76 170 32 67 17 29 14 20 13 12 5 2 5 1 5 -2 4 -4 8 -13 7 -21 5 -28 9 -63 16 -175 10 -79 11 -72 7 -30 7 -28 10 -26 9 -19 10 -15 10 -11 12 -6 13 -2 13 3 13 7 19 15 21 24 23 32 23 38 27 51 31 63 102 227 32 67 18 31 14 20 12 12 6 3 5 1 5 -2 4 -3 8 -12 6 -20 7 -32 8 -63 16 -167 9 -80 11 -70 13 -58 8 -23 8 -21 9 -16 10 -13 10 -8 11 -5 12 -1 12 3 10 5 11 8 23 22 24 32 26 42 29 54 32 64 102 228 33 68 17 31 15 20 12 13 6 3 5 1 5 -2 4 -3 7 -11 7 -18 7 -31 8 -61 18 -182 10 -90 14 -76 8 -33 8 -26 10 -23 12 -18 12 -13 7 -4 7 -2 6 -1 8 0 16 6 16 11 18 17"/>
<path d="M2017 286l34 59 37 74 38 83 75 173 30 64 15 27 13 19 12 11 5 3 5 0 4 -1 4 -4 7 -12 7 -20 6 -28 8 -59 19 -176 10 -80 13 -76 7 -32 8 -26 9 -26 10 -20 11 -16 11 -11 12 -6 13 -2 14 3 14 7 20 17 22 25 22 32 24 41 28 52 30 65 98 223 30 66 16 29 14 21 12 11 5 3 5 0 4 -1 4 -3 8 -12 7 -20 5 -27 10 -66 16 -161 10 -82 13 -75 14 -59 8 -25 9 -21 9 -16 10 -13 11 -8 12 -5 12 -1 13 3 11 6 10 8 12 10 12 13 25 34 26 43 29 55 32 66 32 70 68 159 30 64 16 29 13 20 12 11 5 3 5 1 4 -1 4 -2 7 -11 7 -18 6 -26 9 -62 19 -183 11 -85 8 -45 7 -36 8 -33 9 -26 10 -23 11 -20 12 -13 13 -9 7 -2 7 0 15 3 16 8 17 15"/>
<path d="M2017 242l18 23 19 27 19 32 20 36 25 49 28 57 82 186 24 52 14 24 11 17 9 9 4 3 4 0 3 -1 4 -2 5 -10 5 -15 5 -20 6 -48 16 -158 11 -86 14 -78 8 -33 10 -29 10 -26 11 -22 13 -16 13 -12 14 -6 15 -2 16 4 17 9 11 8 12 11 24 27 26 36 26 44 30 54 31 64 31 68 61 138 23 49 12 23 11 17 9 9 5 3 4 0 3 -1 3 -2 6 -10 5 -15 4 -20 7 -49 16 -158 10 -79 13 -76 8 -32 8 -29 10 -27 10 -21 11 -17 11 -13 13 -9 13 -5 14 0 14 3 12 6 13 9 13 11 13 14 28 35 30 47 31 57 34 67 32 71 62 142 25 51 12 23 11 16 9 9 7 2 4 -1 3 -2 6 -10 5 -15 4 -20 8 -57 16 -165 9 -70 8 -45 7 -37 9 -32 9 -29 10 -25 11 -21 13 -16 13 -11 14 -6 15 -1 16 3 17 9"/>
<path d="M2017 328l27 51 29 61 106 245 38 79 20 36 16 23 8 8 6 4 7 3 6 0 5 -3 5 -4 8 -15 8 -24 6 -32 10 -74 18 -184 9 -80 11 -69 12 -55 8 -23 8 -20 9 -16 10 -11 11 -7 11 -2 11 2 13 6 17 15 19 22 21 30 21 37 27 51 29 61 104 240 37 79 19 35 17 24 8 8 6 5 7 3 6 1 5 -2 5 -3 5 -7 4 -8 7 -22 8 -35 10 -74 17 -183 9 -74 10 -72 12 -53 7 -23 7 -20 9 -16 8 -12 9 -9 10 -5 11 -1 11 3 9 4 9 7 21 21 21 29 25 40 27 52 31 64 105 243 37 78 19 35 17 25 14 14 7 3 5 1 5 -1 5 -3 5 -6 5 -8 8 -23 7 -30 10 -79 19 -191 11 -91 6 -43 7 -34 7 -30 9 -26 10 -22 10 -17 12 -10 7 -3 6 -2 7 0 8 2 15 8 15 14 18 20"/>
<path d="M2017 278l18 26 20 33 43 78 40 83 79 171 27 54 13 23 12 16 10 9 4 2 4 0 4 -1 4 -3 6 -10 5 -14 5 -24 6 -50 16 -174 9 -78 13 -74 7 -32 8 -26 9 -24 11 -22 11 -15 12 -12 12 -6 15 -2 14 3 16 8 21 17 23 26 25 34 27 42 29 52 33 64 96 209 28 55 14 25 12 18 11 11 5 3 4 0 4 -1 4 -3 6 -9 5 -17 5 -24 7 -51 14 -157 9 -82 12 -73 7 -31 7 -28 8 -25 10 -21 10 -17 10 -13 12 -9 13 -5 13 0 13 3 12 6 11 8 13 11 12 12 27 34 29 44 31 54 34 67 33 70 67 145 27 56 15 25 12 18 10 10 5 2 4 1 4 -1 4 -2 5 -9 6 -16 5 -23 7 -50 16 -174 10 -84 6 -43 8 -37 8 -33 9 -28 11 -24 12 -19 13 -14 14 -8 8 -1 7 -1 16 4 18 9 18 15"/>
<path d="M2017 369l45 91 99 220 38 79 20 34 17 22 7 8 8 5 6 2 6 -1 5 -2 5 -5 9 -16 7 -23 7 -32 10 -73 16 -168 9 -78 12 -73 13 -52 7 -22 8 -19 10 -15 10 -11 10 -6 10 -3 12 2 12 6 18 13 19 22 21 29 21 35 27 49 29 59 106 235 37 75 20 35 16 23 8 7 6 5 7 3 6 1 5 -2 5 -4 5 -6 4 -8 7 -21 8 -34 10 -72 17 -175 9 -71 10 -70 12 -52 8 -24 7 -19 8 -15 9 -12 9 -8 10 -5 10 -1 11 2 9 5 9 6 21 20 22 29 24 38 28 50 31 62 107 238 37 75 19 34 16 23 15 13 6 3 6 1 5 -2 5 -3 5 -6 4 -8 8 -20 7 -33 10 -69 19 -191 11 -87 7 -40 7 -37 9 -31 9 -25 10 -22 12 -14 7 -5 6 -4 7 -1 8 -1 7 2 8 3 16 11 18 18 19 25"/>
<path d="M2017 306l32 55 37 71 36 77 73 163 31 63 16 28 14 19 11 11 6 2 5 1 4 -2 5 -3 7 -11 7 -18 6 -29 9 -60 20 -169 10 -75 13 -73 7 -30 8 -25 9 -24 10 -20 11 -16 11 -10 11 -6 13 -2 13 3 14 7 20 16 21 23 22 32 24 37 27 51 30 61 98 215 30 64 17 29 14 20 12 11 6 3 5 1 5 -2 4 -3 7 -11 7 -18 7 -28 10 -66 17 -156 10 -76 12 -71 15 -56 8 -24 9 -20 9 -16 10 -12 11 -8 11 -5 11 -1 13 3 10 5 11 8 22 21 24 31 27 42 28 51 32 63 32 68 68 153 31 63 16 30 14 20 12 11 6 3 5 1 5 -2 4 -3 7 -11 7 -17 7 -28 9 -59 20 -177 11 -78 7 -43 8 -35 8 -31 8 -24 11 -25 11 -17 12 -13 13 -7 13 -3 15 3 15 8 17 14"/>
<path d="M2017 315l31 55 33 67 33 73 72 163 32 68 18 30 14 20 12 11 6 2 5 1 4 -2 5 -4 7 -11 7 -19 6 -29 10 -68 19 -168 10 -77 12 -72 8 -32 7 -26 9 -25 9 -19 11 -16 11 -11 12 -6 12 -2 13 3 14 6 19 16 21 24 21 30 24 39 27 51 30 61 99 224 32 66 16 30 15 21 13 12 6 3 5 1 5 -2 4 -3 8 -13 7 -19 6 -29 10 -62 18 -168 10 -78 12 -73 14 -54 8 -24 8 -20 9 -16 10 -12 11 -9 11 -4 12 -1 11 3 10 5 11 7 22 22 24 31 26 41 28 52 32 65 31 69 70 159 32 66 16 30 15 21 12 12 6 3 5 1 5 -1 4 -3 8 -13 7 -18 7 -28 10 -67 19 -175 11 -87 8 -44 7 -34 9 -31 8 -25 11 -24 11 -17 12 -12 13 -7 7 -1 8 0 15 5 15 10 18 16"/>
<path d="M2017 257l19 27 20 33 21 38 22 45 42 92 78 183 26 54 12 23 11 15 10 10 4 2 5 0 6 -3 7 -10 6 -15 5 -25 9 -54 19 -169 12 -85 15 -80 8 -32 8 -27 10 -25 11 -21 12 -16 12 -11 13 -7 14 -1 15 3 15 8 11 8 10 10 23 26 24 35 25 42 28 54 30 64 93 215 26 57 14 27 13 19 10 10 5 2 4 1 4 -1 3 -3 7 -10 6 -16 6 -25 8 -56 18 -162 11 -81 13 -74 8 -32 8 -29 9 -26 10 -21 11 -18 11 -13 12 -9 12 -4 13 -1 14 4 11 6 12 8 12 11 12 13 26 35 27 44 30 55 32 67 32 72 64 151 26 57 15 27 11 17 10 11 5 2 4 1 4 -1 4 -2 6 -10 6 -16 6 -25 8 -54 20 -169 11 -85 15 -79 8 -33 10 -29 10 -26 11 -20 12 -15 12 -11 14 -5 14 -1 15 4 15 9"/>
<path d="M2017 349l27 48 30 58 101 214 33 66 19 30 15 20 6 6 7 4 6 2 5 0 5 -3 4 -4 7 -12 7 -19 7 -29 9 -59 19 -165 10 -72 12 -67 15 -52 8 -22 9 -18 10 -15 11 -11 11 -6 12 -2 13 2 14 6 19 14 20 21 22 29 23 36 27 48 30 58 100 213 33 65 18 30 15 20 13 11 6 3 5 0 5 -2 4 -3 8 -11 7 -19 7 -28 10 -63 18 -159 10 -73 12 -65 13 -51 8 -24 9 -18 9 -16 9 -11 10 -8 11 -4 11 -1 12 2 10 5 11 7 21 20 24 29 26 38 28 49 31 61 102 216 33 66 17 28 15 20 13 12 6 2 5 1 5 -1 4 -3 8 -10 7 -19 7 -26 10 -62 20 -171 11 -83 8 -40 7 -33 9 -29 9 -25 11 -22 11 -16 13 -11 6 -3 8 -2 7 0 8 1 16 6 16 12 18 18"/>
<path d="M2017 268l20 26 21 31 22 38 23 43 38 75 81 176 29 58 11 20 10 13 10 8 7 2 4 -1 3 -3 6 -9 5 -14 5 -21 8 -49 17 -157 11 -78 8 -42 7 -35 8 -31 9 -25 11 -26 10 -19 13 -15 12 -11 14 -6 15 -1 15 4 15 8 23 17 23 26 25 33 26 41 29 52 31 60 91 199 25 50 14 24 11 17 10 9 9 3 4 -1 3 -2 6 -9 6 -16 5 -23 7 -50 17 -150 10 -74 13 -71 8 -31 8 -28 9 -24 10 -20 11 -17 12 -13 12 -9 12 -4 14 -1 14 4 12 5 11 8 13 11 13 13 28 34 29 44 30 52 33 65 32 68 63 137 25 50 13 24 11 15 10 10 8 3 4 -1 4 -2 5 -8 6 -16 5 -22 8 -49 17 -157 11 -78 8 -42 7 -34 8 -31 9 -28 11 -25 11 -18 13 -15 13 -11 14 -5 14 -1 16 5 16 8"/>
<path d="M2017 285l18 26 20 31 21 36 22 41 40 82 77 165 27 53 13 22 12 15 10 9 8 2 4 -1 3 -3 6 -9 6 -16 5 -22 7 -52 17 -158 10 -77 7 -40 7 -37 8 -29 8 -27 10 -25 11 -20 11 -15 12 -10 13 -6 14 -2 15 3 15 8 21 16 23 24 25 34 26 40 29 51 31 62 95 202 28 55 14 25 12 17 10 9 5 3 4 0 5 -1 3 -2 7 -11 5 -17 5 -23 8 -52 16 -151 10 -78 12 -70 8 -32 7 -25 9 -25 9 -19 10 -16 11 -13 12 -8 12 -5 14 0 13 3 12 5 11 8 13 11 12 12 27 33 28 43 30 52 33 64 33 67 66 142 26 53 14 25 13 17 10 10 5 3 4 0 4 -1 3 -2 7 -10 6 -16 5 -22 7 -51 18 -166 11 -81 6 -38 8 -35 8 -31 9 -27 11 -24 12 -19 12 -14 14 -8 14 -4 16 2 15 7 18 12"/>
<path d="M2017 406l38 86 90 212 23 49 19 41 23 39 10 14 9 11 8 8 9 5 7 1 7 -1 6 -4 5 -5 5 -9 5 -11 8 -28 7 -37 11 -82 19 -191 8 -75 10 -67 11 -51 6 -23 8 -19 7 -14 9 -11 9 -7 9 -3 11 0 11 5 9 7 9 9 21 26 23 37 25 47 22 47 26 57 107 250 22 48 20 39 19 31 16 21 8 7 7 5 7 2 6 0 5 -2 6 -5 5 -7 5 -10 9 -28 9 -39 11 -87 19 -191 7 -68 10 -69 11 -52 12 -39 8 -16 7 -12 9 -8 8 -4 9 -2 9 2 9 4 8 6 17 18 20 28 22 36 26 50 28 60 111 259 22 50 19 40 22 39 18 27 9 9 8 7 8 3 6 1 6 -1 6 -4 6 -7 5 -9 9 -25 8 -36 7 -42 6 -47 20 -208 10 -91 7 -42 7 -33 7 -29 9 -24 10 -21 6 -8 6 -5 6 -4 6 -2 7 -1 8 2 7 3 8 6 16 16 18 22 19 31"/>
<path d="M2017 401l42 89 92 204 38 78 21 35 18 24 9 7 7 5 7 2 6 -1 5 -3 5 -5 10 -16 7 -23 7 -35 11 -78 18 -177 8 -71 11 -69 12 -51 7 -24 8 -17 8 -15 9 -11 10 -6 10 -3 11 2 11 5 10 6 10 9 21 26 24 36 26 46 23 45 27 56 107 237 21 45 19 33 17 28 15 18 13 11 6 2 6 0 6 -3 5 -4 5 -6 5 -10 8 -25 8 -34 10 -78 18 -176 8 -72 10 -65 11 -50 7 -22 6 -18 8 -15 8 -12 9 -9 9 -4 10 -2 10 2 9 4 9 6 19 19 21 27 23 37 27 49 30 60 108 241 40 82 21 36 17 24 8 8 7 6 7 3 6 1 6 -2 5 -3 5 -6 5 -8 8 -22 8 -31 6 -34 6 -45 20 -199 10 -86 7 -40 8 -36 8 -30 8 -22 11 -20 6 -8 6 -6 7 -4 7 -2 6 -1 8 1 7 3 9 5 16 14 19 22 19 28"/>
<path d="M2017 231l20 24 20 28 21 34 22 40 26 50 27 58 81 184 23 48 12 24 10 15 8 9 8 3 6 -3 5 -7 5 -14 4 -19 7 -55 17 -162 10 -75 7 -43 8 -36 9 -35 9 -28 11 -26 12 -22 13 -16 14 -12 14 -6 16 -1 17 4 16 9 12 9 12 10 25 29 26 37 28 45 30 56 31 65 30 66 58 134 22 47 12 22 10 15 8 9 8 3 5 -3 5 -7 5 -14 5 -19 6 -47 16 -155 11 -84 14 -77 7 -31 9 -28 10 -27 11 -22 11 -18 12 -13 13 -9 13 -5 15 -1 15 4 13 7 12 8 14 12 14 14 28 37 31 48 32 57 33 68 32 71 61 140 22 46 11 22 9 14 9 9 7 3 6 -3 5 -7 5 -14 4 -18 8 -54 16 -162 10 -75 8 -44 7 -36 9 -32 9 -29 11 -27 10 -20 13 -17 13 -12 14 -8 15 -2 16 3 17 7"/>
<path d="M2017 294l17 27 19 30 39 72 39 81 76 166 30 59 15 26 13 16 11 10 5 2 5 1 4 -1 4 -4 7 -10 5 -17 6 -26 9 -59 16 -163 10 -79 13 -71 7 -31 8 -25 9 -24 10 -19 11 -16 10 -10 13 -6 13 -2 14 3 15 7 20 17 22 23 23 32 25 39 29 51 30 61 98 209 30 60 15 28 14 18 11 12 5 2 5 1 5 -1 4 -3 7 -11 6 -17 6 -26 8 -59 16 -156 9 -75 12 -70 6 -30 8 -27 8 -25 9 -19 10 -17 10 -12 10 -9 12 -5 12 -1 14 3 11 6 10 7 12 10 13 13 25 31 27 42 30 52 32 63 33 68 68 149 30 60 16 27 13 18 11 11 5 2 5 1 4 -1 4 -3 7 -10 6 -15 6 -25 8 -56 17 -170 11 -85 7 -40 7 -36 9 -32 8 -25 10 -22 12 -19 12 -14 13 -7 15 -3 15 3 15 8 18 14"/>
<path d="M2017 361l24 45 26 53 100 217 36 74 19 32 17 22 8 7 6 4 6 2 6 0 5 -3 4 -4 8 -14 8 -23 6 -30 10 -71 18 -166 9 -73 12 -68 13 -54 8 -23 9 -18 9 -15 10 -10 11 -7 10 -2 13 2 12 5 19 14 19 21 21 28 22 36 27 48 30 60 104 226 36 72 19 33 15 21 8 8 7 4 5 3 6 0 5 -2 5 -4 9 -13 7 -21 7 -30 10 -67 17 -166 9 -75 11 -66 13 -53 7 -23 8 -19 8 -15 9 -13 10 -8 10 -5 11 -1 12 2 9 5 10 6 20 20 23 29 25 38 28 51 31 61 105 228 35 71 18 31 16 22 14 13 6 3 6 1 5 -1 5 -3 8 -12 7 -19 8 -30 11 -72 19 -180 11 -83 7 -43 8 -35 8 -30 8 -23 11 -22 13 -16 12 -9 7 -2 7 -1 8 1 7 2 16 9 18 16 18 21"/>
<path d="M2017 295l33 57 37 73 36 80 74 169 31 64 16 28 13 18 12 11 5 2 5 0 4 -2 4 -3 7 -11 7 -20 5 -26 10 -64 17 -166 11 -85 12 -71 8 -32 7 -26 10 -25 10 -21 10 -16 11 -10 13 -7 12 -2 14 3 14 7 20 17 22 24 22 32 25 40 27 52 31 63 97 221 31 64 16 29 14 21 12 11 5 2 5 1 5 -1 4 -4 7 -12 7 -20 6 -26 9 -65 16 -159 10 -80 13 -74 14 -58 8 -24 10 -21 9 -16 10 -13 11 -8 10 -5 13 -1 12 3 10 5 11 8 12 10 11 12 25 33 27 43 29 53 33 67 31 69 68 156 30 63 16 29 14 21 12 11 5 3 5 1 5 -1 4 -3 8 -12 6 -18 6 -26 9 -63 19 -174 11 -89 8 -44 7 -35 9 -32 8 -25 10 -23 11 -19 13 -13 13 -8 7 -2 7 0 15 4 16 9 17 14"/>
<path d="M2017 205l22 25 24 31 24 37 25 45 27 54 29 61 79 189 20 43 10 19 9 15 7 9 7 3 5 -3 5 -7 4 -13 3 -15 7 -49 17 -161 10 -79 9 -48 8 -38 9 -34 10 -29 12 -28 12 -21 14 -17 15 -12 15 -7 8 -1 8 0 18 4 18 10 12 9 13 12 26 29 27 40 29 47 29 57 32 68 30 68 55 132 19 42 11 21 8 13 8 8 6 2 5 -3 5 -8 4 -14 3 -16 7 -49 15 -154 10 -75 8 -45 7 -36 9 -34 9 -30 11 -28 11 -23 13 -19 12 -13 14 -10 15 -5 15 0 16 5 14 7 13 9 14 13 14 15 15 18 15 21 31 49 32 59 34 71 31 72 58 138 18 41 11 20 8 13 8 8 5 3 5 -3 5 -7 5 -13 3 -15 7 -48 16 -161 10 -75 8 -44 7 -36 9 -33 9 -30 10 -28 12 -23 13 -19 12 -13 14 -9 15 -5 16 0 16 5"/>
<path d="M2017 242l21 22 22 28 23 33 24 40 26 48 29 57 80 175 22 44 12 21 10 15 8 8 7 3 6 -2 5 -7 5 -12 4 -18 8 -48 18 -158 10 -66 8 -40 8 -36 9 -32 10 -28 11 -24 12 -20 13 -15 14 -11 15 -6 16 -1 17 4 16 9 23 18 25 26 26 34 28 43 29 51 31 62 30 63 58 126 21 44 12 21 9 13 9 8 7 2 6 -2 5 -8 5 -14 4 -18 8 -50 16 -145 10 -68 14 -71 9 -32 8 -25 10 -25 11 -22 11 -17 13 -13 13 -9 14 -4 15 -1 15 4 13 6 13 9 13 11 14 13 28 34 30 44 32 55 33 64 32 68 59 129 21 43 12 20 9 13 8 9 8 2 6 -2 5 -7 5 -14 4 -18 6 -43 17 -145 11 -75 7 -41 8 -34 8 -31 8 -25 10 -25 11 -21 12 -16 12 -13 14 -9 14 -4 15 0 15 3"/>
<path d="M2017 250l19 27 21 34 21 39 23 45 43 93 83 193 29 59 14 25 12 16 9 9 5 2 5 1 4 -2 3 -2 7 -11 6 -17 5 -26 9 -60 17 -179 10 -82 14 -78 7 -32 8 -26 9 -25 10 -20 10 -16 12 -11 13 -7 13 -1 14 3 15 8 21 18 21 25 24 34 25 42 27 53 31 65 97 221 29 63 15 28 13 20 11 11 5 3 5 1 4 -1 4 -3 8 -12 5 -18 6 -28 8 -63 16 -163 10 -84 12 -72 14 -60 8 -25 10 -22 10 -17 10 -13 11 -9 12 -5 12 0 14 4 10 5 11 8 12 11 12 14 25 33 28 45 29 54 32 68 33 72 66 155 30 63 14 27 14 20 11 12 5 3 5 1 4 -1 4 -3 7 -10 5 -17 6 -26 9 -60 17 -178 10 -83 13 -78 8 -32 8 -29 10 -26 10 -20 12 -16 11 -10 13 -5 14 -1 15 5 16 10"/>
<path d="M2017 385l42 97 88 219 36 82 21 38 18 25 7 8 8 4 6 2 7 -1 5 -3 5 -6 8 -15 9 -27 7 -35 12 -83 20 -190 10 -82 11 -72 13 -55 7 -24 9 -20 9 -17 9 -11 10 -7 10 -3 11 2 12 5 10 8 10 10 22 28 23 38 26 50 23 50 27 62 103 255 20 45 17 36 17 29 14 19 7 7 6 5 6 2 6 0 6 -2 5 -4 5 -7 5 -10 8 -26 9 -38 11 -83 20 -190 9 -76 11 -69 13 -58 6 -22 8 -21 8 -17 8 -12 10 -9 9 -5 10 -2 11 2 9 5 9 7 19 20 21 30 23 41 27 53 29 66 105 258 37 85 20 38 17 26 7 9 8 7 6 3 7 1 6 -1 5 -4 5 -6 5 -9 8 -23 8 -36 7 -40 6 -44 22 -212 12 -90 8 -45 7 -36 8 -31 9 -25 10 -22 13 -17 6 -5 6 -3 7 -2 8 0 7 2 8 4 16 13 18 21 19 28"/>
<path d="M2017 348l32 47 36 60 36 65 76 142 33 58 17 26 15 16 12 9 6 2 5 1 5 -2 4 -3 7 -11 7 -18 6 -24 8 -53 16 -142 9 -68 12 -62 7 -26 7 -24 8 -20 10 -17 10 -14 10 -9 12 -6 12 -1 14 2 13 6 19 13 20 19 23 26 23 33 27 42 31 53 103 192 33 58 17 26 15 17 13 10 6 2 5 1 5 -2 4 -3 7 -10 7 -17 7 -27 8 -53 16 -142 9 -68 11 -58 12 -46 8 -20 8 -18 9 -14 9 -10 10 -7 11 -4 12 -1 12 2 10 4 11 7 22 19 25 26 25 35 29 44 32 54 104 195 33 56 17 27 15 18 12 10 6 2 5 1 5 -1 4 -3 8 -10 7 -15 6 -26 9 -58 17 -148 10 -72 7 -36 6 -29 9 -28 8 -22 10 -20 12 -16 11 -10 14 -5 14 -1 15 4 16 9 18 15"/>
<path d="M2017 358l23 44 27 54 101 223 39 77 20 34 16 22 8 7 6 5 7 2 6 0 5 -3 5 -4 8 -15 8 -22 6 -30 10 -70 18 -172 9 -76 12 -71 12 -51 8 -22 8 -19 9 -15 10 -11 11 -7 11 -2 11 2 13 6 17 14 19 21 20 28 22 34 27 49 29 59 105 229 37 76 19 33 17 23 7 8 7 5 7 3 5 0 5 -2 5 -3 5 -7 5 -7 7 -22 8 -33 10 -69 17 -171 9 -77 11 -67 12 -50 7 -24 8 -18 8 -15 8 -11 9 -8 10 -5 11 -1 11 3 9 4 10 7 20 20 22 28 24 38 27 49 31 62 106 231 36 75 20 33 16 23 14 13 7 3 6 1 5 -1 5 -3 5 -6 4 -7 7 -20 8 -32 11 -73 19 -187 11 -84 6 -40 8 -35 7 -28 9 -24 10 -22 12 -16 13 -9 6 -2 7 -1 14 3 16 9 17 15 18 22"/>
<path d="M2017 301l33 57 37 71 36 78 74 163 29 59 15 27 13 18 11 10 5 2 5 0 4 -2 3 -2 7 -11 6 -17 6 -28 8 -60 16 -159 10 -82 13 -77 8 -32 7 -25 9 -25 10 -20 11 -16 12 -12 12 -6 13 -2 15 3 15 7 20 17 22 24 24 33 25 41 28 51 32 64 97 215 30 62 16 28 13 18 11 10 5 3 5 0 4 -1 5 -4 6 -11 6 -17 6 -28 7 -54 17 -166 9 -75 12 -71 6 -30 8 -28 8 -25 9 -22 10 -17 10 -12 11 -9 12 -5 12 -1 14 3 10 5 12 8 12 10 12 13 26 33 28 43 29 54 33 65 32 69 69 153 29 60 15 26 13 20 11 11 5 2 5 1 4 0 4 -3 7 -10 6 -15 5 -25 9 -57 18 -181 11 -84 7 -45 8 -35 8 -31 9 -27 11 -24 13 -19 12 -12 7 -4 7 -3 8 -1 7 0 9 2 8 3 17 11 18 16"/>
<path d="M2017 179l22 25 22 32 23 40 24 47 27 57 28 67 80 208 21 51 12 24 9 16 8 10 7 3 6 -3 5 -8 5 -15 4 -19 8 -60 19 -178 12 -84 8 -48 9 -39 9 -36 10 -31 11 -29 13 -23 13 -18 14 -13 15 -6 8 -1 8 0 17 4 16 10 12 10 12 12 25 31 26 41 28 50 28 60 31 72 29 73 56 146 20 49 11 25 9 15 9 10 6 3 6 -3 5 -8 5 -15 4 -20 7 -46 18 -171 12 -89 7 -46 9 -42 8 -35 9 -32 11 -30 11 -24 12 -20 13 -15 13 -10 14 -5 15 0 15 4 13 7 13 10 13 13 14 16 28 40 30 53 31 62 33 77 31 77 58 153 20 48 11 23 9 16 8 9 7 3 6 -3 5 -9 5 -15 4 -20 7 -46 18 -171 12 -89 15 -84 8 -35 8 -30 10 -29 11 -25 12 -21 12 -16 13 -11 14 -6 14 -2 15 3"/>
<path d="M2017 243l20 29 22 35 21 39 23 47 38 82 76 184 27 58 11 20 9 13 8 9 8 2 3 -1 4 -2 5 -10 5 -14 5 -23 9 -55 20 -172 10 -74 8 -41 8 -39 9 -34 10 -28 11 -28 12 -20 12 -17 14 -11 14 -6 15 -1 16 3 15 9 11 8 12 11 24 27 25 36 27 46 29 56 30 66 30 70 59 140 23 52 12 24 11 17 9 9 8 2 3 -1 4 -3 5 -9 5 -15 5 -22 8 -50 18 -158 12 -84 15 -78 8 -34 8 -27 10 -27 11 -22 12 -19 12 -13 12 -9 13 -5 14 0 15 3 12 7 13 9 12 11 13 14 28 37 29 47 31 58 32 69 32 73 61 146 22 50 13 24 9 16 10 9 7 3 3 -1 4 -2 6 -9 5 -13 5 -21 7 -48 19 -165 13 -89 7 -41 9 -39 9 -35 9 -28 11 -27 11 -21 13 -17 13 -12 14 -7 15 -1 16 3 16 8"/>
<path d="M2017 271l35 62 38 80 38 86 70 171 25 56 14 25 10 16 10 10 5 2 4 0 6 -4 6 -10 6 -17 5 -23 8 -58 19 -171 11 -88 15 -81 9 -34 8 -28 11 -28 11 -21 11 -17 13 -12 13 -7 14 -2 15 3 16 8 11 8 11 11 24 28 25 36 25 45 30 58 30 67 31 72 61 148 26 58 14 28 11 18 10 10 5 3 4 0 6 -3 7 -10 6 -17 5 -23 8 -58 19 -170 10 -83 14 -76 7 -33 8 -30 10 -27 10 -22 10 -19 12 -14 12 -10 12 -5 14 -1 14 4 11 6 12 8 12 11 14 15 26 36 29 48 30 58 34 72 31 74 64 154 25 58 14 26 11 18 10 10 4 3 5 0 6 -3 7 -10 6 -17 5 -22 8 -57 19 -178 13 -93 7 -43 9 -39 9 -35 10 -30 11 -27 13 -20 13 -15 14 -9 8 -2 7 -1 9 1 8 2 17 9 18 15"/>
<path d="M2017 314l30 54 33 67 34 75 73 165 34 69 17 31 15 21 13 11 6 2 5 0 4 -2 4 -4 7 -12 7 -21 6 -27 9 -68 17 -171 9 -78 11 -72 7 -31 8 -28 8 -24 9 -21 10 -16 11 -11 11 -7 13 -3 13 3 14 6 19 16 21 23 22 32 23 39 28 51 31 63 101 228 33 67 17 32 15 21 12 12 6 2 5 1 5 -2 4 -3 8 -12 7 -19 6 -31 9 -67 17 -171 9 -78 12 -72 12 -54 8 -23 8 -20 9 -17 9 -12 10 -8 11 -5 12 -2 12 3 10 5 11 8 11 10 12 12 24 32 26 42 29 53 31 65 103 231 33 67 17 30 15 22 12 12 6 3 5 1 5 -1 4 -3 7 -11 7 -18 7 -29 9 -65 18 -187 11 -87 7 -41 7 -37 9 -33 8 -25 11 -24 11 -17 13 -12 6 -3 8 -2 14 0 16 7 17 12 18 19"/>
<path d="M2017 328l28 51 32 63 32 70 73 163 35 71 19 32 15 20 6 7 7 5 6 2 6 0 5 -2 4 -4 7 -13 7 -20 7 -31 9 -68 16 -172 10 -77 11 -71 14 -54 8 -24 9 -20 10 -15 10 -10 11 -6 11 -2 13 2 13 6 19 16 20 22 22 30 23 38 28 50 30 61 103 227 34 70 18 32 15 20 14 13 5 2 5 1 5 -2 5 -3 8 -13 7 -22 7 -31 9 -69 16 -163 9 -79 11 -69 12 -54 8 -23 8 -21 9 -15 9 -12 10 -9 10 -4 11 -1 12 2 10 5 10 7 11 10 11 12 24 30 26 41 28 51 31 63 104 229 35 70 18 32 15 21 13 13 6 3 5 1 5 -2 4 -2 8 -12 7 -18 7 -28 10 -71 17 -179 11 -89 7 -41 7 -37 9 -32 8 -24 11 -23 11 -17 13 -11 6 -3 7 -1 8 0 7 1 16 8 17 13 18 20"/>
<path d="M2017 372l44 89 98 218 38 78 20 34 17 21 8 7 6 4 7 2 6 0 5 -3 5 -5 8 -15 8 -23 6 -30 10 -68 19 -177 9 -72 12 -68 13 -51 8 -24 8 -19 9 -14 10 -11 11 -7 11 -2 12 1 12 6 18 14 19 21 20 28 21 35 27 49 29 58 104 231 37 74 19 34 16 22 8 8 7 5 6 3 6 0 5 -1 5 -4 5 -6 4 -8 9 -23 7 -34 11 -75 17 -163 9 -73 11 -66 13 -53 7 -23 8 -19 8 -15 8 -12 10 -8 10 -5 10 -1 11 2 9 4 10 7 20 19 23 29 24 38 27 50 30 60 106 234 37 74 19 34 16 22 14 13 6 3 6 0 5 -1 5 -3 5 -6 4 -7 8 -20 7 -30 11 -70 21 -191 11 -81 7 -44 8 -34 8 -30 8 -23 11 -22 13 -16 12 -9 7 -2 7 0 8 1 7 3 16 10 18 16 18 23"/>
<path d="M2017 287l34 58 38 77 38 82 73 168 29 61 15 27 13 18 10 10 5 2 5 0 4 -2 3 -2 7 -11 5 -17 6 -27 9 -59 17 -173 10 -80 13 -77 8 -32 7 -26 10 -28 10 -20 11 -16 12 -11 12 -7 14 -2 14 3 15 7 21 17 21 25 24 34 25 42 29 53 30 64 98 222 29 62 15 28 13 19 11 11 5 2 5 1 4 -1 4 -4 7 -11 6 -18 6 -27 8 -61 17 -165 9 -81 13 -74 14 -58 8 -24 10 -21 10 -18 10 -13 11 -8 12 -5 12 -1 14 3 10 6 11 8 12 10 12 13 26 34 28 44 30 56 32 67 33 72 66 153 29 62 15 28 14 20 10 10 5 3 5 1 4 -1 5 -3 6 -11 6 -17 6 -26 8 -60 19 -180 10 -84 8 -45 7 -36 9 -32 9 -28 11 -25 11 -19 13 -13 6 -5 8 -3 7 -2 8 0 16 4 16 10 18 15"/>
<path d="M2017 297l32 57 37 73 36 79 73 168 32 67 15 28 14 19 11 11 6 2 5 1 4 -2 5 -3 7 -12 7 -20 5 -26 10 -63 18 -173 10 -79 13 -76 8 -32 7 -26 9 -25 10 -19 10 -17 11 -11 13 -6 12 -2 13 2 15 8 20 16 20 24 23 32 23 39 28 52 30 64 99 224 30 65 17 30 14 21 12 11 6 3 5 1 4 -2 4 -3 7 -11 7 -18 7 -30 9 -63 17 -165 10 -81 13 -74 13 -55 8 -25 10 -22 9 -16 10 -13 11 -8 10 -5 13 -1 12 3 10 5 11 8 12 10 11 13 25 32 26 43 28 53 32 65 32 70 69 159 31 65 15 29 15 21 11 12 6 3 5 1 4 -1 4 -3 8 -10 6 -18 7 -28 9 -61 20 -187 11 -82 8 -45 7 -35 8 -32 9 -25 10 -24 11 -19 12 -12 13 -8 7 -2 7 0 15 3 16 10 17 14"/>
<path d="M2017 336l27 49 29 61 104 230 35 72 18 32 16 22 6 6 7 5 6 2 6 0 5 -2 4 -5 7 -13 7 -20 7 -32 9 -68 16 -168 10 -78 11 -72 7 -31 7 -28 9 -24 9 -19 10 -16 10 -10 11 -6 11 -3 13 3 13 6 18 15 20 22 22 30 23 39 28 50 30 62 103 229 34 71 18 32 15 21 14 12 5 3 6 0 5 -1 4 -4 9 -13 6 -20 7 -30 9 -65 18 -177 9 -77 11 -67 12 -54 8 -24 8 -20 8 -16 9 -12 10 -9 10 -4 12 -1 12 2 10 5 10 7 21 21 24 31 25 41 29 51 31 64 104 232 34 70 19 33 15 21 13 13 6 3 5 0 5 -1 4 -2 8 -12 8 -20 6 -29 10 -71 19 -184 11 -86 6 -41 8 -37 8 -32 9 -26 11 -23 12 -16 12 -10 7 -3 7 -1 8 0 7 2 16 8 18 15 18 20"/>
<path d="M2017 276l17 27 20 34 39 78 40 85 74 171 29 60 14 25 12 18 10 9 5 2 5 1 4 -2 3 -2 7 -11 5 -18 5 -23 9 -60 16 -169 10 -82 14 -78 7 -32 9 -29 10 -27 10 -20 10 -16 12 -11 13 -7 14 -1 14 3 15 7 21 17 22 26 24 34 26 43 28 53 32 66 96 217 28 61 15 27 12 19 11 11 5 3 5 1 4 -1 4 -3 6 -10 6 -16 6 -27 8 -61 16 -161 10 -84 12 -75 15 -58 8 -25 9 -21 10 -18 11 -13 12 -10 11 -4 13 -1 14 3 11 6 11 8 12 11 12 13 26 34 28 45 30 55 33 67 32 72 68 155 28 60 15 27 12 18 11 11 5 2 4 1 5 -2 3 -2 7 -10 5 -17 5 -23 9 -59 17 -176 12 -92 7 -41 7 -36 8 -33 9 -28 11 -25 12 -20 12 -13 14 -9 14 -2 7 0 9 2 16 9 18 14"/>
<path d="M2017 307l30 55 33 70 33 75 73 170 32 70 18 32 14 20 12 12 6 2 5 0 4 -2 5 -3 7 -13 7 -20 6 -31 9 -66 18 -174 10 -83 12 -76 8 -34 7 -27 10 -26 9 -20 10 -15 10 -11 12 -7 13 -2 13 3 13 7 19 16 21 24 23 33 23 40 27 53 30 64 100 232 33 70 17 32 14 21 13 12 6 3 5 0 5 -2 4 -3 7 -12 7 -20 7 -31 9 -66 17 -174 10 -83 12 -72 13 -57 8 -26 9 -20 9 -17 9 -12 10 -9 11 -5 12 -1 12 3 10 5 11 8 11 10 11 12 24 33 26 43 29 55 32 67 32 71 69 165 33 70 17 31 14 21 12 12 6 3 5 1 5 -1 4 -3 8 -11 6 -19 7 -29 10 -70 19 -189 11 -86 7 -46 8 -36 8 -33 8 -25 11 -25 12 -18 12 -12 7 -4 7 -2 6 -1 8 0 16 6 16 12 18 18"/>
<path d="M2017 262l18 26 20 32 21 38 22 44 42 90 79 182 28 57 13 24 12 16 10 8 4 2 4 0 4 -1 3 -3 7 -10 6 -17 6 -25 8 -54 19 -168 11 -79 14 -76 8 -34 9 -27 10 -26 10 -21 12 -16 12 -10 13 -7 13 -1 15 3 15 8 21 17 23 26 23 33 25 42 28 54 30 62 93 212 27 58 15 28 12 19 11 10 5 3 4 0 5 -1 4 -3 6 -10 6 -17 6 -25 8 -54 19 -168 11 -79 14 -73 15 -56 9 -26 9 -20 10 -16 11 -13 11 -9 12 -4 13 -1 14 3 10 6 12 8 12 10 12 14 25 32 28 44 29 54 32 67 32 70 65 150 27 59 14 26 13 18 11 11 5 3 4 0 4 -1 4 -3 7 -10 6 -16 5 -26 9 -53 19 -169 12 -84 14 -75 8 -33 8 -26 10 -25 11 -21 12 -15 12 -11 14 -6 13 -1 15 4 15 8"/>
<path d="M2017 212l22 23 23 30 24 37 25 44 27 51 29 62 81 189 21 46 11 20 9 15 8 9 7 2 5 -2 5 -7 4 -11 4 -18 8 -52 17 -166 10 -72 8 -43 8 -39 9 -34 10 -30 12 -27 12 -21 14 -17 14 -11 15 -6 16 -1 16 4 18 10 11 8 13 12 25 28 26 37 29 47 30 56 31 66 30 68 56 130 21 46 11 20 9 14 8 9 7 2 5 -2 5 -8 4 -12 4 -18 7 -48 17 -166 9 -67 14 -76 9 -34 9 -30 11 -28 11 -22 11 -18 13 -13 13 -9 14 -5 15 -1 16 5 12 6 14 9 13 12 14 14 29 38 31 48 32 58 33 68 32 73 60 139 19 43 11 20 9 14 8 8 7 2 5 -3 5 -8 5 -13 4 -19 6 -49 17 -159 9 -68 14 -77 9 -34 9 -30 11 -29 10 -21 12 -18 13 -14 13 -9 14 -5 15 -1 16 4"/>
<path d="M2017 319l31 52 34 67 34 72 76 167 34 69 17 29 15 20 14 12 5 3 6 0 5 -2 4 -4 9 -13 7 -21 7 -30 9 -62 18 -170 10 -78 13 -71 13 -51 8 -23 10 -19 9 -15 10 -10 11 -6 12 -2 12 3 14 6 18 15 20 22 21 28 22 37 27 48 30 60 101 220 34 69 18 32 15 21 13 12 6 3 6 1 5 -1 5 -4 8 -12 8 -21 6 -29 10 -67 19 -170 9 -71 11 -69 13 -50 7 -23 9 -19 8 -15 9 -12 10 -8 11 -5 11 0 11 2 10 5 10 7 21 20 24 30 25 39 28 50 31 62 102 223 34 69 18 32 15 21 14 12 5 3 6 1 5 -1 4 -3 9 -12 7 -20 7 -27 10 -65 19 -177 11 -83 7 -39 7 -36 7 -29 9 -25 10 -23 11 -17 11 -12 13 -6 13 -1 14 4 15 9 17 15"/>
<path d="M2017 275l17 27 20 34 39 78 40 85 75 174 28 57 14 25 12 17 10 9 5 3 4 0 4 -1 3 -3 7 -12 6 -18 5 -24 7 -56 17 -171 10 -82 13 -78 8 -33 8 -28 10 -27 10 -20 12 -17 11 -11 13 -6 14 -2 14 3 15 8 11 8 11 10 22 26 24 34 26 43 28 54 32 65 96 218 28 60 15 28 12 18 11 11 5 3 4 0 4 -1 4 -3 6 -10 6 -18 5 -23 9 -62 15 -163 10 -84 13 -75 14 -58 8 -25 9 -21 10 -17 11 -14 12 -9 12 -5 13 -1 13 4 11 5 12 8 12 12 13 13 25 34 29 45 30 55 33 69 32 72 67 153 28 60 14 26 13 19 11 11 5 2 4 1 4 -1 3 -2 7 -10 6 -17 5 -23 8 -60 18 -179 10 -86 8 -46 7 -36 9 -32 9 -28 11 -25 11 -19 13 -14 6 -5 8 -3 7 -2 8 -1 16 4 16 9 18 14"/>
<path d="M2017 280l17 26 20 32 40 77 40 85 78 174 29 59 15 26 12 17 11 10 5 2 4 0 4 -2 4 -3 7 -11 6 -16 6 -26 8 -57 18 -171 10 -77 14 -75 7 -31 9 -28 9 -24 10 -20 10 -15 12 -11 13 -6 13 -2 14 3 14 7 21 18 22 24 23 33 24 39 28 51 30 63 97 215 29 60 15 27 13 20 12 11 5 3 5 1 4 -1 4 -3 8 -11 6 -19 6 -27 9 -58 17 -164 9 -73 13 -73 14 -57 8 -24 9 -21 10 -17 10 -12 11 -9 12 -5 12 -1 13 3 11 6 11 7 12 10 11 13 25 32 28 43 29 52 32 66 33 70 66 150 30 61 15 27 13 19 11 12 5 3 5 1 5 -1 4 -3 6 -9 7 -17 6 -25 9 -61 18 -172 11 -82 14 -76 9 -33 8 -26 10 -24 11 -19 11 -14 14 -9 13 -4 14 1 15 7 17 11"/>
<path d="M2017 244l20 28 22 34 21 39 23 46 39 83 79 186 28 61 12 21 10 15 8 7 8 3 6 -3 6 -9 6 -16 5 -22 7 -49 19 -169 12 -84 8 -43 8 -39 8 -32 9 -28 11 -27 12 -21 12 -16 13 -11 14 -6 14 -1 15 3 16 8 11 9 11 10 24 27 25 36 25 44 29 54 30 65 30 68 61 144 24 53 14 25 10 17 10 10 5 2 4 1 6 -4 6 -9 6 -16 5 -23 8 -50 18 -162 11 -80 14 -77 8 -34 8 -28 10 -27 10 -21 11 -18 12 -13 12 -9 13 -5 14 0 14 4 12 6 12 8 13 12 12 13 27 35 29 47 31 58 32 68 32 72 61 146 25 53 13 25 11 16 9 10 4 2 4 1 7 -3 6 -9 5 -16 5 -21 8 -49 19 -169 12 -85 15 -78 8 -33 9 -29 11 -27 11 -20 12 -17 13 -12 14 -7 14 -2 15 3 16 8"/>
<path d="M2017 229l20 29 22 36 21 41 23 48 39 87 77 192 28 62 10 20 10 14 8 9 7 2 4 -1 3 -2 6 -10 5 -14 5 -22 7 -51 19 -172 13 -92 7 -43 9 -40 9 -36 9 -29 11 -27 12 -22 12 -17 13 -12 14 -7 15 -1 16 4 16 9 11 8 12 11 24 29 25 38 26 47 29 56 30 69 30 72 59 147 24 54 12 24 11 18 9 9 8 3 3 0 3 -3 6 -9 6 -17 5 -24 7 -51 19 -166 11 -87 14 -78 9 -35 8 -29 10 -28 10 -22 12 -19 11 -14 13 -10 13 -5 14 -1 15 4 12 6 12 9 13 12 13 15 28 38 29 49 31 60 32 72 32 75 60 149 23 54 12 25 11 17 9 10 8 3 3 0 3 -3 6 -8 6 -17 5 -23 8 -51 19 -173 11 -86 8 -44 8 -40 9 -36 9 -30 11 -27 12 -22 12 -18 13 -11 14 -7 14 -2 16 3 16 8"/>
<path d="M2017 354l46 97 100 234 38 83 20 36 16 23 8 8 7 4 6 3 6 -1 5 -3 4 -5 9 -15 7 -26 7 -34 9 -73 16 -182 10 -84 10 -72 13 -57 7 -24 9 -20 9 -17 10 -11 11 -8 10 -2 12 2 13 6 17 14 19 22 21 31 22 39 27 51 30 65 106 247 36 79 20 36 16 24 8 8 6 6 7 3 6 1 5 -2 5 -4 8 -14 8 -25 7 -33 10 -77 17 -182 8 -77 11 -75 11 -55 8 -26 7 -20 9 -17 8 -12 9 -9 10 -5 11 -1 11 2 9 5 10 7 21 22 22 31 24 40 29 55 30 65 107 249 37 80 19 35 16 24 14 14 6 4 6 1 5 -2 5 -3 8 -13 9 -23 6 -31 10 -73 20 -207 10 -93 7 -43 8 -38 8 -33 8 -25 11 -23 12 -16 7 -6 7 -3 6 -2 8 0 7 2 9 3 16 13 19 20 19 26"/>
<path d="M2017 361l22 43 23 50 101 231 39 84 21 37 18 24 7 7 8 5 6 2 7 0 5 -2 5 -5 9 -15 8 -25 8 -34 11 -75 19 -183 9 -75 11 -67 12 -53 8 -23 8 -20 9 -14 9 -11 10 -7 10 -2 12 1 12 6 10 7 10 10 21 27 24 36 25 47 24 47 26 58 104 236 20 44 18 34 16 27 15 19 13 10 6 2 6 1 5 -2 5 -4 10 -15 9 -26 7 -33 12 -81 18 -175 9 -76 11 -68 12 -51 6 -22 8 -19 7 -14 9 -12 9 -9 9 -4 10 -1 11 2 8 4 9 7 19 19 21 28 24 38 26 50 29 61 107 243 38 81 20 36 17 24 7 8 8 6 6 4 7 1 6 -2 5 -3 9 -13 9 -24 8 -32 5 -34 6 -43 21 -197 11 -85 7 -40 7 -37 8 -28 8 -25 10 -21 11 -16 12 -9 7 -3 6 0 7 0 8 3 15 9 15 16 18 22"/>
<path d="M2017 263l20 26 21 31 22 38 23 43 45 91 84 181 26 52 14 22 10 14 9 8 5 2 4 0 4 -1 3 -3 6 -10 6 -17 5 -23 7 -56 15 -153 10 -82 14 -75 7 -32 9 -27 10 -26 9 -19 12 -16 12 -10 13 -6 13 -2 15 3 16 8 22 18 22 24 24 33 26 41 29 51 31 62 96 206 27 56 14 25 13 18 11 10 5 3 4 0 4 -1 3 -3 7 -10 6 -18 5 -24 7 -49 15 -160 9 -76 13 -73 14 -56 9 -26 9 -19 10 -17 11 -12 12 -9 11 -4 14 -1 13 4 11 5 12 8 12 10 13 13 26 33 28 43 31 54 34 65 32 68 66 144 27 55 14 25 13 18 10 10 5 2 4 1 4 -1 3 -2 7 -10 6 -17 5 -23 7 -54 16 -161 10 -80 14 -75 8 -34 8 -26 10 -25 11 -19 12 -15 13 -10 13 -5 15 0 15 5 17 10"/>
<path d="M2017 353l22 45 25 53 102 234 39 83 20 36 17 24 8 7 7 6 7 2 6 -1 5 -2 5 -5 8 -14 8 -22 7 -35 11 -80 17 -180 10 -79 10 -69 13 -55 7 -23 9 -20 9 -16 9 -10 10 -6 11 -3 11 2 12 6 10 7 10 10 23 27 24 38 25 47 25 49 26 58 105 241 21 44 17 34 17 27 14 18 13 10 5 2 5 0 6 -2 5 -5 5 -7 4 -8 8 -23 7 -35 11 -81 18 -180 8 -73 10 -66 12 -54 6 -22 8 -20 8 -17 8 -12 10 -9 10 -5 10 -1 10 3 9 4 10 7 20 20 21 30 24 38 27 52 30 63 106 244 38 80 20 36 17 24 7 9 8 6 6 3 6 1 6 -2 5 -3 5 -7 4 -7 7 -21 8 -32 11 -76 20 -203 10 -83 6 -42 8 -38 7 -30 9 -25 10 -22 11 -16 6 -6 7 -4 6 -2 7 -1 8 1 7 3 16 10 17 17 18 23"/>
<path d="M2017 350l26 47 28 57 101 219 35 70 18 31 15 20 7 6 6 5 6 2 6 0 4 -2 4 -4 8 -13 6 -19 7 -30 9 -63 18 -168 9 -73 11 -70 7 -30 8 -27 8 -24 9 -19 10 -16 11 -11 11 -7 12 -2 13 2 13 7 19 15 20 21 22 30 23 37 27 50 30 59 103 223 34 68 18 32 15 20 7 7 6 4 6 3 5 0 5 -2 4 -3 9 -14 6 -19 7 -30 9 -63 18 -167 9 -74 11 -70 13 -51 7 -23 9 -20 9 -16 9 -12 10 -8 11 -5 11 -1 11 3 10 5 10 6 11 9 12 13 23 29 26 40 28 50 32 63 104 225 33 68 18 31 15 21 14 12 5 2 5 1 5 -1 5 -3 8 -13 7 -18 6 -28 10 -68 19 -182 11 -81 8 -43 7 -35 9 -29 9 -26 10 -21 13 -17 7 -5 6 -4 7 -3 7 -1 8 1 7 2 17 9 18 15 18 20"/>
<path d="M2017 338l26 50 28 59 102 234 36 75 19 34 16 23 8 7 6 5 6 2 6 0 5 -3 4 -4 8 -14 7 -21 7 -32 9 -68 17 -183 9 -80 12 -73 13 -53 8 -26 8 -19 10 -17 10 -10 11 -7 12 -2 12 2 13 6 18 15 19 22 22 32 22 37 27 51 30 62 104 238 36 75 18 33 16 23 7 8 7 5 6 3 5 0 5 -2 5 -4 9 -14 7 -23 7 -33 9 -68 17 -175 9 -81 11 -71 11 -52 8 -25 7 -20 9 -16 9 -13 10 -9 10 -5 11 -1 11 2 9 5 10 7 11 10 11 11 23 32 25 40 29 53 30 64 106 241 35 74 18 33 16 23 13 13 6 3 6 1 5 -1 5 -3 8 -13 8 -21 6 -29 10 -72 19 -190 11 -91 6 -43 8 -37 8 -33 8 -25 11 -24 12 -16 12 -10 7 -3 7 -1 8 0 7 2 17 10 18 16 18 22"/>
<path d="M2017 294l34 58 37 73 37 79 76 170 31 64 15 27 14 19 11 11 5 2 5 0 5 -1 4 -3 7 -12 7 -20 6 -28 8 -60 17 -165 10 -82 12 -74 8 -33 7 -26 9 -26 10 -20 11 -16 11 -11 12 -6 13 -2 13 3 14 7 20 16 21 24 23 33 24 39 28 51 31 63 99 221 30 65 16 28 14 20 12 12 6 3 5 0 4 -1 4 -3 8 -11 6 -19 6 -27 9 -65 17 -165 9 -76 12 -71 6 -31 8 -28 8 -25 9 -20 9 -16 10 -12 11 -9 10 -5 13 -1 12 3 10 5 11 8 12 10 11 12 25 33 27 42 29 53 33 65 32 71 68 154 31 64 16 29 14 21 12 11 5 4 5 0 5 -1 4 -2 7 -11 7 -18 6 -26 9 -64 18 -180 11 -84 7 -41 7 -36 9 -32 8 -26 10 -23 11 -19 13 -13 13 -7 7 -2 7 0 15 4 16 9 17 15"/>
<path d="M2017 296l32 58 34 72 35 78 75 175 34 72 17 32 15 21 13 12 5 2 5 0 5 -2 4 -4 8 -13 7 -22 5 -29 10 -71 15 -172 10 -83 11 -76 7 -33 7 -29 9 -25 9 -21 10 -17 11 -11 11 -7 12 -2 13 2 14 7 19 16 20 24 22 33 23 39 28 53 31 66 101 235 33 72 18 32 15 22 7 8 6 5 6 3 5 1 5 -2 4 -4 8 -12 6 -21 7 -32 9 -72 16 -173 8 -76 12 -78 12 -56 8 -25 8 -22 9 -17 10 -13 10 -9 10 -5 12 -1 12 3 10 5 10 8 11 10 12 13 24 33 26 42 29 56 32 66 103 239 33 72 17 31 15 23 13 13 6 3 5 1 5 -2 4 -3 7 -12 7 -19 7 -31 9 -70 17 -188 11 -93 7 -43 7 -39 8 -30 8 -26 10 -24 12 -19 12 -12 7 -4 7 -2 6 -1 8 1 15 5 16 13 18 18"/>
<path d="M2017 225l21 28 22 35 23 41 25 48 40 87 84 202 30 65 12 21 10 15 9 8 8 3 4 -2 3 -3 6 -10 5 -15 5 -24 7 -54 18 -175 11 -86 14 -81 8 -35 9 -28 10 -26 11 -23 12 -16 12 -12 14 -6 14 -1 15 3 16 9 21 19 23 27 25 37 26 45 29 57 31 66 92 217 25 58 15 27 11 18 10 11 4 2 5 1 4 -2 3 -2 6 -10 6 -18 5 -24 7 -55 17 -167 10 -82 13 -80 8 -33 7 -28 9 -27 10 -23 11 -18 11 -13 12 -10 13 -5 13 0 14 4 12 6 12 8 12 12 13 14 26 36 29 48 30 57 34 71 31 73 64 154 25 56 13 25 12 19 10 10 4 3 4 1 5 -1 3 -3 6 -9 6 -17 5 -23 7 -54 18 -175 10 -87 15 -80 7 -32 8 -29 10 -27 11 -22 12 -17 11 -12 14 -7 14 -3 15 3 15 8"/>
<path d="M2017 279l33 60 37 77 36 84 74 179 31 68 16 29 13 20 12 11 5 2 5 0 4 -1 4 -4 8 -13 6 -21 6 -28 9 -66 19 -176 11 -87 13 -78 7 -33 8 -26 9 -26 10 -22 11 -16 11 -11 12 -7 13 -2 13 2 14 8 20 17 21 25 22 34 24 42 28 55 30 65 97 233 31 69 16 30 14 22 12 12 5 3 5 0 5 -1 4 -3 7 -13 7 -19 7 -31 9 -66 18 -177 10 -80 12 -76 14 -56 8 -27 9 -22 9 -17 10 -13 11 -10 12 -5 12 -1 13 3 11 6 10 8 11 10 12 14 24 33 27 45 29 57 31 68 32 74 67 164 31 68 16 30 13 21 12 12 6 4 5 0 4 -1 4 -3 8 -11 6 -18 7 -30 9 -64 20 -191 11 -84 7 -46 8 -38 8 -34 8 -26 11 -27 11 -19 12 -14 13 -8 13 -3 8 0 7 3 16 8 17 15"/>
<path d="M2017 337l26 50 28 60 102 234 35 76 19 35 16 22 8 7 6 5 7 3 6 -1 5 -2 5 -5 8 -15 8 -23 6 -30 11 -75 18 -171 10 -80 13 -74 13 -54 9 -24 9 -20 9 -14 10 -11 11 -7 10 -2 13 2 12 6 18 15 19 22 21 30 21 37 27 51 29 61 102 234 36 77 19 34 15 23 8 8 7 5 5 2 6 1 5 -2 5 -4 5 -7 4 -8 8 -22 7 -34 11 -75 18 -171 10 -74 11 -71 13 -53 7 -24 9 -21 8 -15 9 -13 10 -8 10 -5 11 -1 11 3 9 4 10 8 20 20 22 30 24 39 28 52 31 65 103 238 36 76 18 33 16 23 7 8 7 5 6 3 5 1 5 -2 5 -3 9 -12 7 -20 8 -31 11 -71 20 -192 12 -89 7 -39 7 -36 9 -32 8 -25 10 -22 11 -18 12 -10 7 -4 6 -1 7 -1 8 2 15 7 15 12 18 20"/>
<path d="M2017 328l28 52 31 63 102 230 33 68 17 31 14 20 13 11 6 2 5 0 4 -1 4 -4 8 -13 6 -20 6 -27 9 -67 17 -165 10 -83 12 -75 7 -30 7 -27 10 -26 9 -20 10 -15 11 -11 11 -7 13 -3 13 3 13 6 20 16 21 23 23 32 24 40 27 51 31 63 101 227 32 68 17 31 15 20 12 12 6 2 5 0 5 -1 4 -4 8 -13 6 -20 6 -27 9 -67 17 -166 9 -77 12 -72 13 -57 8 -26 9 -20 9 -16 9 -12 11 -9 11 -5 11 -2 13 3 10 5 10 8 11 9 12 12 24 32 27 42 29 54 32 66 33 71 70 159 32 68 17 30 14 20 12 12 6 3 5 1 5 -2 4 -3 8 -12 6 -19 6 -26 9 -64 20 -189 10 -84 8 -45 7 -35 9 -32 9 -26 11 -23 12 -18 13 -12 7 -3 8 -1 7 0 8 1 16 8 18 14 19 20"/>
<path d="M2017 337l24 49 28 60 99 236 36 78 19 35 16 23 8 8 6 4 6 2 6 0 5 -2 4 -4 8 -15 8 -23 6 -32 10 -72 19 -181 10 -83 11 -72 14 -57 8 -26 8 -19 10 -17 10 -12 11 -7 12 -2 12 2 13 6 18 15 19 22 22 32 22 39 27 53 30 64 101 240 35 77 19 34 15 23 8 9 7 5 5 3 6 1 5 -2 5 -4 9 -13 7 -22 8 -35 10 -71 18 -180 9 -78 12 -75 12 -55 8 -25 8 -21 8 -16 9 -13 10 -9 10 -5 11 -1 12 2 10 6 10 7 21 22 22 31 25 42 28 53 30 66 103 243 35 77 19 34 16 24 13 13 6 4 5 1 5 -1 5 -4 9 -12 7 -20 8 -33 11 -75 20 -195 11 -93 8 -45 7 -36 9 -32 8 -25 11 -23 11 -17 13 -10 6 -3 8 -1 7 0 7 2 16 9 17 15 18 22"/>
<path d="M2017 320l27 52 31 65 32 72 73 173 35 76 18 33 16 23 8 8 6 5 6 2 6 0 5 -2 5 -5 8 -14 8 -24 6 -31 10 -70 19 -183 10 -74 12 -76 13 -55 9 -25 9 -20 10 -17 10 -10 11 -7 11 -2 13 2 12 7 19 15 19 23 20 30 22 38 27 51 29 63 101 237 35 76 19 34 15 23 8 8 7 5 5 3 6 0 5 -2 5 -4 9 -13 7 -22 8 -35 10 -70 19 -182 9 -75 11 -71 13 -54 7 -24 9 -21 8 -15 9 -13 10 -8 10 -5 11 -1 12 3 9 5 10 7 21 21 22 31 24 40 28 52 30 66 104 241 35 76 17 32 16 24 7 8 7 5 6 3 6 1 5 -1 5 -4 8 -13 7 -20 8 -33 11 -74 20 -190 11 -85 6 -40 8 -38 7 -30 8 -26 10 -24 11 -18 12 -12 7 -4 6 -2 7 -1 7 1 15 6 16 11 17 18"/>
<path d="M2017 279l34 60 37 76 38 84 76 180 32 68 16 28 14 21 12 11 5 2 5 0 4 -1 4 -4 7 -12 7 -22 6 -29 8 -65 17 -179 9 -80 13 -79 6 -31 8 -28 9 -27 9 -20 11 -17 11 -11 12 -7 13 -2 13 3 14 8 20 17 21 25 22 33 24 41 28 54 31 65 100 233 31 68 17 31 14 21 12 12 5 3 5 1 5 -2 4 -3 7 -12 7 -21 6 -28 8 -63 17 -179 9 -81 11 -76 14 -59 8 -26 8 -20 10 -17 10 -13 10 -9 11 -5 12 -1 12 4 10 5 11 8 12 11 11 13 25 33 26 44 29 55 33 68 32 74 70 164 31 67 17 31 14 22 11 12 6 3 5 1 4 -1 4 -3 8 -12 7 -20 5 -27 10 -69 17 -187 10 -85 7 -44 7 -39 9 -35 8 -27 10 -24 11 -20 12 -12 7 -5 6 -3 7 -2 8 0 15 4 15 10 18 17"/>
<path d="M2017 271l17 27 18 34 38 78 38 86 75 182 30 66 15 28 14 19 10 10 5 3 5 0 5 -1 4 -4 7 -13 7 -20 6 -28 9 -66 18 -174 10 -80 13 -78 8 -33 8 -30 9 -26 10 -21 11 -17 12 -12 12 -7 13 -2 14 3 14 8 20 17 22 26 22 33 24 42 28 55 31 67 95 228 30 67 16 30 14 21 12 12 5 3 5 0 4 -1 4 -3 8 -12 6 -20 6 -27 9 -65 18 -174 10 -80 13 -75 14 -60 8 -26 10 -22 10 -18 10 -13 10 -9 12 -5 12 -1 13 3 11 6 11 8 10 10 12 13 25 34 27 44 29 57 31 68 32 73 67 163 30 66 16 30 13 21 12 12 5 2 5 1 4 -1 4 -3 8 -11 7 -20 5 -26 10 -62 20 -189 10 -84 8 -46 7 -37 9 -33 8 -27 11 -27 11 -19 11 -14 13 -9 13 -3 14 1 15 7 17 13"/>
<path d="M2017 370l22 46 26 57 100 233 35 74 22 38 18 25 8 8 8 6 7 2 7 0 6 -3 5 -5 5 -7 5 -10 8 -25 8 -39 12 -83 18 -178 9 -77 11 -69 12 -51 7 -24 8 -18 8 -15 9 -10 9 -7 10 -2 11 1 12 6 9 7 10 10 21 26 22 36 25 46 23 46 26 57 103 241 21 46 20 37 17 29 16 21 7 7 7 5 7 2 5 0 6 -2 6 -5 5 -7 5 -9 8 -24 9 -37 6 -41 6 -46 18 -178 10 -77 10 -65 11 -53 7 -22 7 -17 7 -15 8 -12 9 -8 9 -4 9 -1 10 2 8 4 9 7 19 19 20 28 21 36 26 49 28 60 108 250 40 85 21 38 17 25 8 9 8 6 7 4 7 1 6 -1 6 -4 5 -6 5 -8 9 -25 8 -35 7 -40 6 -44 20 -201 11 -86 7 -40 7 -33 7 -29 7 -23 10 -22 11 -15 12 -9 7 -2 6 0 14 4 15 10 15 16 18 23"/>
<path d="M2017 255l20 26 22 32 22 39 23 44 38 79 81 186 29 61 12 20 11 15 9 8 7 2 7 -4 7 -9 6 -16 5 -24 9 -52 19 -155 12 -84 8 -41 8 -37 9 -30 9 -27 11 -26 10 -19 13 -16 12 -10 14 -6 14 -1 15 3 16 8 21 18 23 26 24 33 25 41 28 53 30 62 90 204 25 53 13 25 12 17 10 10 5 3 4 1 7 -3 6 -9 6 -15 6 -24 8 -50 19 -156 12 -80 14 -72 8 -33 9 -27 9 -24 10 -20 11 -17 11 -13 13 -9 12 -5 14 0 14 4 11 6 12 8 13 11 12 13 27 34 27 44 29 53 32 65 31 69 62 142 25 53 13 24 12 17 10 10 8 4 4 -1 4 -3 6 -9 6 -16 6 -24 8 -51 20 -156 11 -79 15 -75 8 -32 9 -26 10 -25 11 -21 11 -17 12 -11 12 -8 14 -3 14 1 15 6"/>
<path d="M2017 277l18 27 19 31 42 78 41 85 77 172 28 56 13 23 12 16 10 9 5 2 4 0 4 -2 3 -3 6 -9 6 -18 5 -23 7 -54 17 -167 10 -79 13 -76 8 -31 8 -27 10 -26 10 -20 12 -16 11 -10 14 -7 13 -1 15 3 15 7 22 18 22 25 24 33 26 42 28 51 32 64 96 213 28 56 14 26 12 18 11 10 5 3 4 0 5 -1 3 -3 7 -10 5 -17 5 -24 8 -53 16 -159 10 -82 12 -73 14 -57 9 -26 10 -20 10 -17 10 -13 12 -9 12 -4 13 -1 13 3 11 5 12 8 12 11 13 13 26 34 29 44 30 53 33 67 32 69 67 149 27 56 15 25 12 19 11 10 5 3 4 0 4 -1 3 -2 7 -11 6 -17 5 -23 7 -53 18 -174 11 -84 6 -40 8 -36 8 -32 9 -27 11 -25 12 -19 12 -14 14 -8 14 -3 16 2 15 7 18 13"/>
<path d="M2017 373l46 103 95 229 36 80 21 39 18 26 9 8 7 6 7 2 6 -1 5 -3 5 -5 10 -18 7 -25 7 -39 10 -81 17 -189 8 -81 11 -77 12 -56 7 -26 8 -19 8 -16 9 -11 10 -8 10 -2 11 1 12 6 10 7 10 10 21 28 25 40 25 49 24 51 27 61 106 255 21 48 19 37 17 30 15 20 7 6 6 5 6 2 6 1 6 -3 5 -4 9 -16 8 -26 8 -37 11 -86 16 -188 9 -81 10 -73 10 -54 7 -25 7 -19 7 -16 9 -14 9 -9 9 -5 10 -1 10 2 8 4 9 7 20 21 21 30 23 40 27 52 30 66 109 262 39 87 21 39 17 27 8 8 7 7 7 4 7 1 5 -2 5 -3 5 -7 5 -9 9 -24 7 -36 11 -82 19 -215 11 -96 7 -44 6 -35 9 -34 8 -25 11 -22 11 -15 7 -5 7 -3 6 0 8 0 7 3 9 5 16 15 19 23 19 30"/>
<path d="M2017 317l32 54 34 67 35 73 74 162 33 65 17 28 14 19 12 11 6 3 5 0 5 -2 4 -4 8 -12 6 -19 6 -26 9 -63 18 -167 9 -72 12 -73 7 -29 8 -26 9 -25 9 -19 10 -15 11 -10 11 -7 13 -2 13 3 13 6 20 15 20 23 23 31 23 37 28 49 30 61 100 216 33 65 17 30 14 20 13 11 6 3 5 1 5 -2 4 -3 7 -11 7 -18 7 -28 9 -62 17 -167 9 -73 12 -69 13 -54 9 -24 8 -19 9 -16 9 -11 10 -8 11 -5 12 -1 12 3 10 5 11 7 22 22 25 31 25 39 29 52 32 62 102 220 32 65 18 30 14 20 12 11 6 3 5 1 5 -1 4 -3 8 -11 6 -18 7 -28 9 -62 18 -174 11 -83 7 -39 7 -36 9 -31 8 -25 10 -22 12 -18 12 -12 13 -7 15 0 15 4 15 10 18 16"/>
<path d="M2017 362l41 89 100 241 21 49 19 41 21 38 18 25 8 8 7 5 7 2 7 0 5 -3 5 -5 9 -16 8 -26 8 -36 11 -87 19 -185 9 -79 11 -70 12 -57 8 -24 8 -20 8 -15 9 -11 10 -7 10 -2 11 2 12 5 9 7 10 10 22 28 23 38 26 49 23 49 27 61 104 250 20 46 19 37 16 28 15 20 7 6 7 5 5 2 6 0 6 -2 5 -4 5 -7 5 -10 9 -29 8 -36 11 -80 18 -185 9 -80 10 -67 12 -55 6 -24 8 -20 7 -16 9 -13 9 -9 9 -5 10 -1 10 2 8 4 9 7 19 20 21 29 23 39 26 52 29 64 108 258 39 86 20 37 17 26 8 9 7 6 7 4 7 1 5 -2 5 -4 5 -6 5 -9 10 -27 7 -34 12 -82 21 -209 10 -88 7 -42 8 -37 7 -30 8 -25 10 -22 12 -16 6 -5 6 -4 7 -2 7 0 6 1 8 4 16 11 16 19 18 24"/>
<path d="M2017 267l18 25 20 32 21 37 22 44 43 90 79 179 27 56 14 23 11 16 10 9 9 2 4 -1 4 -3 7 -11 5 -16 6 -25 9 -54 19 -169 11 -78 14 -75 7 -30 9 -27 10 -25 10 -21 12 -16 12 -10 13 -6 13 -2 14 4 15 7 21 17 22 25 23 32 25 41 28 53 30 61 94 212 28 58 15 27 12 18 11 11 5 2 5 1 4 -1 4 -3 7 -11 6 -16 6 -26 8 -54 18 -162 10 -75 14 -74 7 -31 8 -26 9 -26 9 -20 10 -16 11 -13 11 -9 12 -5 13 0 14 3 10 5 12 9 12 10 11 12 26 33 28 44 29 53 32 65 32 70 65 147 27 58 15 27 13 18 10 11 5 2 5 1 4 -1 4 -3 7 -10 5 -15 6 -24 9 -60 19 -161 11 -85 15 -74 8 -33 8 -26 10 -25 11 -20 12 -15 11 -10 14 -6 13 0 15 3 15 9"/>
<path d="M2017 284l17 26 19 31 40 76 40 84 79 173 30 62 15 26 14 18 11 9 5 2 4 1 5 -2 4 -4 6 -11 6 -17 6 -28 8 -63 16 -165 9 -77 13 -75 7 -29 7 -27 9 -25 10 -21 11 -16 11 -10 12 -6 13 -2 14 3 14 7 20 16 22 24 23 32 25 41 28 51 31 62 98 215 31 64 16 28 14 20 12 11 5 3 5 1 4 -1 4 -3 7 -11 7 -20 6 -28 7 -56 16 -164 9 -79 12 -72 13 -56 9 -25 8 -20 9 -16 10 -13 11 -8 12 -5 12 -1 12 3 11 5 11 8 12 10 11 12 25 32 28 43 30 54 32 64 33 70 69 153 30 61 16 28 14 20 11 11 5 3 5 1 4 -1 5 -3 7 -12 6 -17 6 -26 8 -62 17 -172 10 -83 13 -75 8 -34 9 -26 10 -24 11 -20 12 -13 13 -8 7 -2 7 0 15 3 16 8 17 14"/>
<path d="M2017 271l18 26 20 33 21 38 22 42 40 86 78 174 26 55 14 23 11 16 10 9 5 1 4 1 6 -4 7 -11 6 -17 5 -23 7 -53 17 -160 11 -86 14 -78 7 -30 9 -28 10 -25 11 -21 11 -16 12 -11 13 -6 14 -2 15 4 15 7 22 18 22 25 24 34 26 42 29 52 31 64 95 212 27 55 14 26 12 18 11 11 5 2 4 1 4 -2 4 -3 6 -11 6 -17 5 -24 8 -54 16 -161 10 -79 13 -71 7 -32 8 -27 9 -26 9 -20 10 -16 11 -13 12 -9 12 -5 13 -1 14 4 10 5 12 8 13 11 12 13 27 34 28 44 30 54 33 67 33 70 65 149 27 55 14 26 13 18 10 10 5 2 4 1 6 -3 7 -10 6 -16 5 -21 8 -57 18 -169 11 -83 7 -44 8 -36 8 -32 9 -28 10 -24 12 -20 12 -14 13 -10 15 -4 15 2 15 6 18 12"/>
<path d="M2017 227l22 22 22 29 23 35 24 41 27 51 28 59 79 181 20 43 11 20 9 15 9 8 6 3 6 -3 5 -8 4 -11 4 -18 8 -48 18 -152 12 -76 8 -42 9 -36 10 -34 10 -28 11 -25 13 -21 13 -16 15 -11 16 -7 16 -1 16 4 18 9 11 9 13 10 26 29 26 36 28 45 29 54 31 63 29 65 55 127 19 41 11 20 9 14 7 8 7 3 6 -3 5 -7 4 -12 4 -17 8 -47 18 -152 11 -72 7 -39 8 -37 9 -30 9 -28 11 -27 11 -22 13 -17 12 -13 14 -9 14 -4 15 -1 16 5 12 6 13 8 14 12 14 14 29 36 30 46 31 55 33 68 32 69 57 133 20 43 10 18 9 14 8 7 6 3 6 -3 5 -9 4 -12 4 -18 8 -49 17 -145 11 -72 15 -74 8 -31 10 -28 10 -27 11 -21 12 -18 12 -14 14 -9 14 -6 15 -1 15 3"/>
<path d="M2017 375l23 42 25 49 98 204 34 68 19 29 16 20 6 6 7 5 6 1 6 0 5 -2 4 -4 7 -12 8 -20 6 -28 10 -63 19 -155 10 -72 12 -67 14 -53 9 -22 9 -18 10 -15 10 -10 11 -6 11 -2 13 1 13 6 18 13 20 20 22 28 22 35 27 46 30 57 102 214 34 66 19 30 15 19 13 12 6 2 6 0 5 -1 5 -4 8 -13 7 -20 7 -27 10 -63 18 -155 10 -72 12 -64 13 -51 8 -21 8 -19 9 -15 9 -11 10 -8 10 -4 11 -1 12 2 10 4 10 6 21 20 24 28 25 37 28 48 31 59 103 216 34 66 18 28 15 20 13 12 6 3 5 1 5 -2 5 -3 9 -12 7 -19 7 -26 10 -60 21 -174 11 -80 8 -39 8 -36 9 -27 9 -24 10 -20 13 -16 13 -9 7 -2 7 -1 15 2 17 9 18 14 18 20"/>
<path d="M2017 252l18 27 20 34 21 39 22 44 41 94 78 187 28 59 13 24 12 17 10 9 4 2 4 1 4 -2 4 -3 7 -12 6 -17 6 -27 8 -57 19 -174 11 -81 14 -78 9 -34 8 -28 10 -27 11 -21 11 -17 12 -11 13 -7 14 -1 15 3 15 8 20 18 22 26 23 34 25 44 29 55 29 65 94 221 27 61 15 29 13 19 10 11 5 2 5 1 4 -1 4 -4 7 -11 5 -17 6 -26 9 -56 19 -173 10 -82 14 -75 15 -59 9 -27 9 -20 10 -18 11 -13 12 -9 11 -5 13 -1 14 3 11 6 11 8 12 11 12 14 25 34 28 45 29 56 32 69 32 73 65 156 27 61 15 27 12 19 11 11 5 3 4 1 4 -1 4 -3 7 -11 6 -17 6 -25 9 -62 19 -173 12 -87 14 -76 8 -34 8 -27 10 -26 11 -21 12 -16 12 -11 14 -6 13 -1 15 4 15 9"/>
<path d="M2017 308l34 55 38 70 38 76 75 160 31 60 16 26 13 18 12 10 5 2 5 1 4 -2 4 -3 7 -11 6 -16 6 -26 8 -61 16 -164 9 -75 12 -69 6 -28 8 -26 9 -25 9 -19 11 -15 11 -10 12 -7 13 -2 13 3 15 7 20 15 22 24 23 31 24 37 28 49 32 61 101 211 30 61 16 26 14 20 13 11 5 2 5 1 4 -2 4 -3 8 -12 5 -17 6 -27 8 -56 15 -163 9 -71 11 -66 13 -56 8 -24 9 -19 9 -16 10 -12 11 -9 11 -5 13 0 12 3 11 5 11 7 23 22 25 31 28 41 29 51 33 62 32 67 70 148 31 60 16 27 14 19 12 11 5 3 5 1 4 -1 4 -3 7 -11 6 -15 6 -26 8 -59 17 -171 10 -81 7 -40 7 -36 9 -32 8 -24 11 -23 11 -18 13 -11 13 -6 8 -2 7 1 16 5 17 10 18 16"/>
<path d="M2017 226l18 23 19 28 20 34 21 38 25 51 28 60 82 197 24 54 13 26 11 16 9 10 4 2 5 1 3 -1 3 -3 6 -9 5 -15 5 -22 8 -50 19 -170 11 -84 8 -43 8 -39 9 -32 9 -29 11 -27 11 -22 13 -16 12 -11 14 -7 15 -1 16 3 16 9 11 8 11 11 24 27 25 37 26 45 28 55 31 66 30 70 59 142 24 54 13 24 11 17 9 10 4 2 4 1 4 -1 3 -3 6 -9 6 -17 5 -23 7 -51 17 -157 12 -86 14 -77 9 -34 8 -28 10 -28 10 -21 12 -19 11 -13 13 -9 13 -5 14 0 14 4 12 6 12 9 13 12 13 14 28 37 28 47 30 57 32 69 32 73 61 146 23 52 12 24 11 17 9 10 5 3 4 1 3 -1 3 -2 6 -9 6 -17 5 -22 8 -50 18 -164 12 -85 15 -80 8 -33 8 -27 10 -27 11 -22 12 -17 12 -13 13 -9 14 -3 14 1 15 5"/>
<path d="M2017 226l19 24 20 29 21 34 21 39 26 52 28 59 80 187 23 49 12 24 10 16 9 8 4 3 3 0 6 -3 5 -8 4 -13 4 -19 8 -58 16 -162 10 -78 7 -45 8 -37 8 -33 9 -29 11 -27 12 -22 12 -17 14 -12 14 -7 16 -1 17 3 17 9 12 9 12 11 25 29 27 38 27 45 30 57 33 68 31 69 58 137 21 47 12 22 10 16 8 8 5 3 3 0 6 -3 5 -8 4 -13 4 -19 7 -49 15 -155 10 -88 15 -80 7 -31 8 -29 10 -27 11 -23 12 -19 12 -13 13 -9 13 -5 15 0 15 4 13 6 12 9 13 12 15 15 29 38 30 49 32 58 34 70 33 73 60 143 22 47 12 21 9 14 8 9 4 3 4 0 5 -3 5 -8 5 -12 4 -20 7 -57 16 -162 10 -78 8 -46 7 -36 8 -33 9 -30 11 -27 12 -22 12 -17 15 -12 14 -7 16 -1 16 3 17 9"/>
<path d="M2017 262l18 29 19 33 41 81 41 90 77 181 29 60 14 26 12 18 11 11 5 2 4 0 4 -1 4 -3 6 -11 6 -17 6 -27 8 -63 17 -174 10 -84 13 -79 8 -33 7 -26 10 -28 10 -21 11 -15 12 -12 12 -6 13 -2 15 3 15 8 20 18 22 25 24 36 25 42 28 55 31 65 97 224 29 63 15 28 13 21 11 11 5 3 5 0 4 -1 4 -3 7 -11 6 -18 6 -28 8 -64 16 -166 9 -79 12 -78 14 -60 9 -26 9 -22 10 -18 10 -13 12 -9 11 -5 13 -1 13 4 11 5 11 9 12 11 13 13 25 35 28 45 30 57 32 68 33 73 67 159 28 61 15 28 13 19 11 11 5 3 5 1 4 0 4 -3 7 -11 5 -17 6 -27 9 -62 17 -181 11 -89 7 -42 7 -38 8 -34 9 -26 10 -25 11 -20 12 -14 13 -10 7 -2 7 -1 15 2 16 8 17 13"/>
<path d="M2017 349l26 47 29 58 102 221 37 73 19 32 17 22 7 7 7 5 6 2 5 -1 5 -2 5 -4 8 -13 7 -23 7 -30 9 -65 18 -170 9 -75 11 -69 13 -51 8 -24 9 -18 9 -15 10 -10 10 -7 12 -2 13 2 12 6 18 14 20 21 20 28 23 36 26 47 30 60 104 224 36 72 19 32 16 22 8 7 6 5 6 2 6 1 5 -2 5 -4 8 -13 8 -21 6 -30 10 -70 17 -163 9 -76 11 -66 12 -53 8 -23 7 -18 9 -15 9 -12 10 -8 10 -4 11 -1 11 2 9 5 10 7 20 19 23 29 25 38 28 50 31 61 106 228 35 70 18 31 16 22 14 13 6 3 5 1 5 -1 5 -4 9 -11 8 -22 7 -29 10 -68 18 -178 11 -85 7 -40 7 -36 8 -30 9 -24 10 -22 12 -16 13 -10 6 -2 7 -1 14 2 16 8 17 14 18 20"/>
<path d="M2017 325l32 51 35 65 35 71 74 155 32 61 17 27 14 19 11 9 6 3 5 0 4 -2 5 -3 7 -11 7 -18 5 -25 10 -59 17 -155 10 -74 13 -68 7 -30 8 -25 9 -23 9 -18 11 -15 10 -10 12 -6 13 -2 13 2 14 6 20 15 21 22 22 30 24 35 27 48 31 58 99 206 31 61 17 28 14 19 13 11 6 2 5 1 4 -1 4 -3 7 -11 7 -17 7 -28 9 -59 17 -155 9 -69 13 -69 13 -51 9 -23 8 -18 9 -15 10 -12 11 -8 11 -4 11 -1 13 2 10 5 11 7 22 20 24 29 27 39 29 50 32 59 32 66 69 145 32 62 16 27 15 19 11 11 6 2 5 1 4 -1 4 -3 8 -9 6 -17 7 -26 9 -57 19 -169 11 -77 8 -42 7 -33 9 -29 8 -23 10 -21 11 -18 13 -12 13 -6 14 -1 15 4 16 9 17 14"/>
<path d="M2017 265l19 27 21 33 21 36 22 43 43 89 79 177 25 53 13 21 11 15 9 8 4 2 4 0 4 -1 4 -3 5 -10 5 -15 5 -22 8 -52 17 -165 11 -82 14 -76 8 -30 8 -27 10 -25 11 -21 12 -16 12 -11 13 -6 15 -2 15 3 15 8 22 17 23 26 25 35 26 42 29 53 31 63 93 207 26 54 14 25 12 18 10 10 5 3 4 0 7 -3 6 -9 6 -16 5 -22 8 -51 17 -165 10 -77 13 -74 8 -32 7 -25 9 -26 10 -20 10 -17 11 -13 12 -8 12 -5 14 -1 14 4 11 5 12 8 13 11 12 13 27 34 29 45 30 54 33 67 32 70 65 144 25 54 15 25 11 17 10 10 8 3 7 -2 7 -9 6 -16 5 -22 7 -50 18 -172 11 -81 8 -44 7 -35 9 -32 8 -25 11 -26 10 -19 13 -16 13 -10 14 -5 15 1 16 5 17 10"/>
<path d="M2017 267l18 26 20 32 21 37 22 43 43 90 80 180 27 56 14 23 11 16 10 9 5 2 4 1 4 -2 4 -2 6 -10 6 -16 6 -26 8 -57 18 -166 11 -84 13 -73 8 -31 8 -27 10 -26 10 -19 11 -16 12 -11 13 -6 13 -1 14 3 15 7 21 17 22 26 24 32 25 41 28 52 31 63 95 214 29 59 15 27 12 18 11 10 5 3 5 1 4 -2 3 -2 7 -10 6 -17 6 -25 8 -58 17 -158 10 -80 12 -72 8 -33 7 -27 9 -26 9 -20 10 -17 11 -13 12 -8 11 -5 13 0 13 3 11 6 12 8 11 11 13 13 26 33 27 44 29 52 33 66 32 70 66 149 28 59 15 27 13 18 10 10 5 3 5 1 4 -1 4 -3 7 -10 5 -17 6 -26 9 -57 17 -166 11 -83 14 -77 8 -33 9 -26 10 -25 10 -19 12 -15 13 -10 13 -5 14 0 15 5 16 10"/>
<path d="M2017 305l35 55 39 71 38 76 78 163 31 61 16 25 13 18 12 10 5 2 5 0 4 -1 4 -3 8 -12 6 -17 5 -27 9 -61 15 -155 9 -77 12 -73 7 -28 8 -26 9 -24 9 -18 10 -14 11 -10 11 -6 14 -2 13 2 14 7 20 15 22 23 23 31 24 37 28 50 31 58 100 208 32 62 16 28 14 19 13 11 5 3 5 0 4 -1 4 -2 8 -12 6 -19 6 -27 9 -61 14 -156 9 -70 11 -66 13 -56 8 -24 9 -19 9 -16 10 -12 11 -8 10 -4 13 -1 12 3 10 5 11 7 12 10 11 11 25 31 28 41 30 51 32 61 103 213 30 60 16 27 14 19 13 12 5 3 5 0 4 0 4 -3 8 -10 6 -18 6 -26 8 -60 17 -170 10 -80 7 -40 6 -32 9 -31 8 -25 10 -22 12 -18 11 -11 14 -7 14 -1 16 4 15 9 18 15"/>
<path d="M2017 259l21 26 21 32 24 39 24 44 39 79 81 177 28 55 11 18 10 14 8 7 7 2 5 -3 6 -8 5 -14 4 -19 7 -45 17 -162 11 -82 6 -39 8 -35 8 -32 8 -26 10 -24 12 -21 12 -17 14 -11 14 -6 15 -1 16 3 16 9 12 8 12 10 24 26 26 35 27 43 29 52 32 63 91 198 24 47 12 22 11 16 9 9 4 3 4 1 4 -1 3 -2 6 -9 5 -15 4 -19 7 -47 15 -155 10 -77 14 -73 7 -31 8 -25 10 -27 10 -21 11 -16 11 -13 13 -9 13 -5 14 0 14 3 12 6 12 8 14 11 13 14 28 34 30 45 32 55 33 65 33 68 63 139 23 47 13 22 10 16 10 9 7 3 3 -1 4 -2 6 -9 5 -14 4 -19 6 -45 17 -162 11 -82 7 -43 8 -35 8 -31 9 -27 11 -25 12 -20 12 -14 14 -10 14 -6 16 0 15 5 18 10"/>
<path d="M2017 254l21 26 21 32 24 39 24 44 39 79 85 187 30 60 11 19 10 14 9 8 8 2 4 -1 3 -3 6 -9 5 -15 5 -23 7 -47 17 -164 10 -79 6 -40 8 -37 8 -34 8 -26 10 -25 11 -20 12 -15 12 -11 14 -6 14 -1 15 3 16 9 23 18 23 26 25 34 26 41 29 53 31 61 93 204 26 53 14 25 12 16 10 10 4 2 4 1 4 -1 3 -3 6 -9 5 -15 5 -22 8 -54 15 -149 10 -81 13 -76 7 -32 8 -26 9 -25 10 -21 11 -17 11 -12 11 -8 13 -5 13 0 14 4 12 5 12 8 12 11 13 14 27 33 29 45 31 54 33 66 33 69 64 141 26 53 13 24 11 16 10 10 9 3 4 -1 3 -3 6 -9 5 -14 5 -22 8 -54 15 -157 11 -84 7 -40 7 -37 8 -30 8 -26 10 -25 11 -20 12 -16 13 -11 13 -6 15 -1 15 4 17 8"/>
<path d="M2017 249l19 27 21 35 21 39 23 45 42 93 80 188 27 56 13 24 11 16 10 9 4 2 4 0 4 -1 4 -3 6 -11 6 -19 5 -24 8 -55 16 -166 11 -88 14 -82 8 -32 8 -28 10 -27 11 -22 12 -16 11 -11 14 -7 14 -1 15 3 15 9 11 8 10 10 23 27 24 35 25 43 28 54 31 65 95 221 26 58 15 27 12 19 11 11 5 3 4 1 4 -2 4 -2 6 -11 6 -18 5 -23 8 -61 17 -167 10 -81 12 -75 8 -33 7 -28 10 -27 9 -21 10 -17 11 -13 11 -10 13 -5 13 0 13 3 11 6 12 8 12 12 13 14 26 34 28 46 30 57 33 70 32 71 65 155 27 58 14 27 13 19 10 10 5 3 4 1 4 -1 3 -3 7 -10 6 -17 5 -23 8 -59 18 -174 10 -86 15 -80 8 -35 8 -27 10 -26 11 -20 12 -16 13 -11 13 -6 8 0 7 0 15 5 17 11"/>
<path d="M2017 286l17 25 20 32 40 75 40 83 78 172 30 60 15 25 13 17 11 10 5 2 5 1 4 -2 4 -3 7 -11 5 -16 6 -26 9 -57 17 -170 10 -79 13 -70 7 -32 8 -25 9 -24 10 -20 10 -15 11 -11 13 -6 13 -2 14 3 14 8 20 16 22 24 23 32 24 38 29 52 30 61 98 212 30 61 16 28 14 20 11 11 5 2 5 1 5 -2 4 -3 6 -10 7 -19 6 -26 8 -58 17 -162 9 -75 12 -69 6 -30 8 -28 8 -24 9 -21 10 -16 10 -12 11 -9 12 -4 12 0 13 3 10 5 11 8 12 10 12 12 25 32 26 41 29 52 33 64 32 69 68 150 30 61 16 27 13 19 12 11 5 3 5 1 4 -1 4 -3 7 -10 7 -18 6 -25 8 -57 17 -170 11 -84 7 -41 7 -36 8 -29 8 -26 10 -24 11 -19 12 -13 13 -9 13 -4 15 2 15 7 17 12"/>
<path d="M2017 285l17 26 19 31 39 75 39 84 76 173 30 62 15 26 14 19 11 9 5 3 5 0 4 -1 4 -3 7 -11 7 -18 7 -28 9 -59 19 -167 11 -79 13 -72 8 -31 8 -27 9 -24 10 -20 11 -15 11 -11 13 -7 12 -1 14 3 14 7 20 16 21 24 22 31 23 38 28 52 30 61 96 217 30 63 16 28 13 19 12 12 6 3 5 0 5 -1 4 -3 8 -12 6 -18 7 -29 9 -61 18 -160 11 -79 13 -69 14 -55 8 -24 9 -21 10 -16 10 -12 11 -9 12 -4 11 -1 13 3 11 6 10 7 23 22 24 31 27 43 28 51 32 65 31 69 67 151 30 63 16 28 13 20 11 11 6 4 5 0 4 0 5 -3 7 -10 7 -17 6 -27 10 -64 20 -173 11 -77 14 -74 9 -33 8 -25 10 -24 11 -20 11 -14 12 -8 13 -5 14 1 14 5 15 10"/>
<path d="M2017 302l29 56 32 70 34 78 73 177 34 76 18 34 15 22 7 7 7 5 6 2 5 0 5 -2 4 -4 7 -14 7 -21 6 -32 10 -69 18 -191 9 -80 12 -76 6 -32 8 -29 8 -26 9 -21 10 -17 10 -11 12 -7 12 -2 12 2 13 7 19 16 20 24 21 32 24 41 27 55 30 65 102 244 34 76 18 34 15 23 7 7 6 5 6 3 5 0 5 -1 4 -4 9 -14 6 -21 7 -32 10 -76 16 -175 10 -83 11 -77 13 -58 7 -25 9 -22 9 -18 9 -13 10 -9 11 -5 11 -1 12 3 10 5 10 8 11 10 11 13 23 32 25 43 28 55 32 69 103 247 34 76 18 33 15 23 6 8 7 6 6 3 5 0 5 -1 4 -3 8 -13 8 -22 6 -32 9 -68 20 -199 10 -91 7 -44 8 -39 8 -34 8 -27 10 -23 12 -20 12 -12 7 -4 7 -2 6 0 8 1 7 2 9 4 15 13 18 19"/>
<path d="M2017 273l18 27 19 32 42 79 41 86 79 179 29 60 15 26 12 17 11 10 5 2 5 1 4 -2 4 -3 7 -12 6 -17 6 -27 8 -60 17 -165 10 -82 13 -77 8 -32 7 -26 9 -25 10 -20 11 -16 12 -11 12 -6 13 -2 14 3 14 7 20 17 21 24 24 33 25 41 27 51 31 63 97 218 30 63 16 28 13 20 12 11 5 3 5 1 4 -1 4 -3 7 -10 7 -19 6 -27 8 -59 16 -165 10 -82 12 -70 7 -31 7 -27 9 -25 9 -21 10 -17 10 -12 11 -9 11 -4 13 -1 12 4 11 5 11 8 11 10 12 13 25 33 27 43 30 53 32 66 32 69 68 155 30 62 15 27 13 20 12 11 5 3 5 1 4 -1 4 -3 7 -10 6 -18 6 -26 9 -59 17 -173 11 -86 7 -41 7 -38 7 -30 9 -27 10 -24 11 -20 11 -14 13 -9 13 -4 14 1 15 7 17 12"/>
<path d="M2017 201l20 24 22 30 21 36 23 44 27 54 28 64 84 205 24 54 12 25 11 18 9 10 4 3 4 1 6 -3 6 -9 5 -14 5 -22 8 -53 17 -170 12 -92 7 -46 8 -37 9 -38 9 -29 11 -28 11 -22 13 -17 13 -12 14 -6 15 -1 16 4 16 9 11 9 11 11 25 29 25 38 26 47 29 58 31 68 89 217 23 54 13 24 11 18 9 10 7 3 4 -1 3 -3 6 -9 5 -16 5 -23 6 -49 18 -170 11 -86 14 -81 7 -33 9 -30 10 -28 10 -22 11 -20 12 -14 12 -9 14 -5 14 0 14 4 12 6 12 10 13 11 13 15 27 38 30 49 30 60 34 73 31 74 61 150 23 54 13 24 11 18 9 10 7 3 4 -1 3 -3 6 -9 5 -15 5 -24 6 -48 18 -171 11 -86 14 -81 7 -33 9 -30 10 -28 10 -22 11 -20 12 -14 12 -9 14 -5 14 0 15 4"/>
<path d="M2017 415l32 80 84 220 24 58 20 45 21 40 10 16 9 12 9 8 8 5 8 1 6 -2 6 -5 5 -6 9 -19 9 -29 8 -42 12 -97 19 -201 10 -83 10 -70 11 -58 7 -24 7 -21 9 -17 8 -12 9 -8 9 -3 10 1 11 5 9 7 9 10 21 28 23 40 25 51 22 52 25 61 105 273 22 53 20 43 19 34 16 23 8 8 6 5 7 2 7 1 6 -3 5 -5 6 -9 5 -11 10 -32 9 -42 12 -96 19 -201 9 -84 10 -70 11 -55 7 -25 6 -20 8 -17 7 -12 9 -9 8 -5 9 -1 9 2 9 4 8 7 17 20 20 29 21 40 25 53 29 67 108 280 22 56 19 43 22 44 19 30 8 10 9 7 7 4 7 1 6 -2 5 -4 6 -8 5 -9 10 -30 9 -38 6 -43 7 -54 22 -233 11 -92 7 -44 7 -39 9 -33 8 -25 11 -23 6 -8 5 -6 7 -4 7 -2 6 0 8 2 7 4 9 7 16 18 19 28 19 34"/>
<path d="M2017 249l21 27 21 33 24 39 24 46 39 80 81 184 29 58 11 18 10 14 8 7 6 1 6 -3 6 -9 5 -15 4 -19 7 -47 17 -163 10 -84 15 -76 8 -33 9 -29 10 -25 12 -21 12 -17 13 -11 15 -6 15 -1 15 3 16 8 12 9 12 10 24 27 25 36 27 43 29 53 32 65 31 67 60 137 24 51 13 22 11 16 9 10 4 2 4 1 4 -1 3 -3 6 -10 5 -15 4 -20 7 -48 15 -157 10 -79 14 -75 7 -31 8 -29 10 -27 10 -21 11 -17 12 -13 12 -9 14 -5 14 0 14 3 12 6 12 9 13 11 14 14 27 35 30 46 32 57 33 66 32 71 63 141 24 50 12 23 11 16 9 9 8 3 3 -1 4 -3 5 -9 5 -15 5 -19 6 -47 17 -164 11 -83 7 -44 8 -36 8 -32 9 -28 11 -26 12 -21 12 -15 13 -11 15 -6 15 0 15 4 18 10"/>
<path d="M2017 356l22 43 26 53 105 235 40 82 21 36 18 25 8 8 8 5 7 3 6 -1 6 -2 5 -5 9 -15 8 -25 8 -36 11 -79 17 -177 9 -72 10 -69 12 -51 8 -23 7 -18 8 -14 9 -11 10 -6 10 -2 12 1 12 6 9 7 10 9 22 27 23 36 26 46 23 46 26 55 105 235 20 43 19 34 17 28 15 19 13 11 6 2 6 1 6 -2 5 -4 5 -6 5 -9 9 -26 8 -34 10 -78 18 -177 8 -73 10 -65 12 -53 6 -22 7 -17 8 -15 8 -12 9 -8 9 -4 10 -1 10 2 8 4 10 7 18 18 21 28 22 36 27 49 29 59 108 242 40 83 21 36 17 24 8 8 7 6 7 3 7 1 5 -2 5 -3 5 -6 5 -9 9 -22 7 -33 6 -35 6 -45 19 -193 10 -82 7 -42 6 -33 8 -30 7 -22 10 -22 11 -15 12 -9 6 -2 6 -1 14 2 15 9 15 15 18 22"/>
<path d="M2017 202l22 23 23 31 24 37 25 45 27 54 30 63 82 196 20 45 12 23 9 14 8 9 7 3 5 -3 5 -8 5 -12 4 -20 6 -49 18 -171 10 -74 7 -44 9 -40 9 -35 10 -31 11 -26 12 -22 13 -17 15 -12 15 -6 15 -1 17 4 18 9 11 9 13 12 25 29 26 38 29 48 29 56 31 68 30 69 57 136 21 46 10 21 10 15 8 9 7 2 5 -3 5 -8 5 -13 4 -21 6 -50 17 -163 9 -70 14 -79 9 -35 9 -31 11 -29 10 -23 12 -18 13 -14 13 -9 14 -5 15 0 16 4 12 7 14 9 13 12 14 16 29 38 31 50 32 60 33 70 31 73 60 141 19 45 11 21 9 14 8 8 7 3 5 -2 5 -8 5 -12 4 -20 7 -55 17 -164 9 -69 14 -79 8 -34 10 -31 10 -29 11 -22 12 -18 12 -14 14 -9 14 -5 15 0 15 4"/>
<path d="M2017 347l24 47 28 58 100 228 37 76 19 34 17 23 7 7 7 4 6 2 5 0 5 -3 5 -4 8 -15 6 -22 7 -32 9 -67 18 -177 9 -79 12 -73 12 -53 8 -26 9 -19 9 -15 10 -12 11 -7 11 -2 13 2 12 5 19 15 19 22 21 29 22 37 27 52 30 62 104 235 36 75 19 34 16 23 8 7 6 5 6 3 6 0 5 -2 5 -4 8 -14 8 -23 6 -31 10 -74 17 -170 9 -79 11 -69 12 -52 7 -25 8 -19 8 -16 9 -13 10 -9 10 -5 11 -1 12 2 9 5 10 7 20 20 23 30 25 40 28 53 31 63 106 239 35 75 19 33 16 22 7 8 7 6 5 3 6 0 5 -1 5 -4 9 -12 7 -22 7 -29 10 -71 19 -193 11 -87 6 -41 8 -37 8 -32 9 -25 10 -23 12 -16 7 -6 6 -4 7 -3 7 0 8 0 7 3 17 10 18 16 18 23"/>
<path d="M2017 262l18 20 19 25 20 29 22 35 26 45 28 54 89 184 27 51 14 24 11 16 10 9 5 2 5 1 4 -2 3 -2 6 -9 5 -14 5 -22 7 -47 15 -153 10 -77 14 -71 7 -29 9 -26 9 -24 11 -20 12 -15 12 -10 14 -6 14 -1 15 3 16 8 21 17 24 24 25 32 25 39 29 50 32 59 94 194 26 49 14 24 12 16 10 10 5 2 4 1 4 -1 3 -3 6 -8 5 -14 5 -21 8 -52 15 -146 10 -78 12 -68 14 -53 9 -24 10 -19 10 -16 11 -12 12 -8 12 -4 14 -1 14 4 11 5 12 8 13 10 12 12 27 32 29 42 31 52 33 61 32 65 65 135 26 50 14 24 12 16 10 9 8 3 4 -1 4 -2 5 -8 6 -16 5 -22 7 -46 16 -153 10 -77 13 -72 7 -29 9 -26 10 -24 10 -18 11 -16 12 -10 13 -6 14 -2 14 2 15 6"/>
<path d="M2017 325l29 52 32 63 32 71 73 164 34 70 19 32 15 20 6 7 7 5 6 2 5 0 5 -3 4 -3 7 -13 7 -19 7 -30 9 -63 18 -174 10 -80 13 -72 13 -52 8 -24 10 -20 10 -15 10 -11 12 -7 12 -1 12 2 13 6 20 16 20 22 21 31 23 37 27 50 30 61 101 225 33 68 18 33 15 21 14 12 5 2 5 1 5 -2 5 -3 8 -12 7 -22 7 -30 10 -70 17 -167 10 -73 11 -70 13 -52 7 -23 9 -21 9 -16 9 -12 10 -9 11 -4 11 -1 12 2 10 5 10 7 22 21 23 31 26 40 28 52 31 62 103 230 33 69 18 30 15 22 13 12 6 3 5 1 5 -1 4 -3 8 -12 8 -20 6 -29 10 -68 20 -181 10 -83 7 -40 8 -36 8 -32 8 -24 10 -22 12 -18 12 -12 7 -4 7 -2 6 0 8 0 16 6 15 12 18 18"/>
<path d="M2017 348l23 46 26 56 100 232 37 80 19 35 17 23 8 7 6 5 6 2 6 -1 5 -3 4 -4 8 -16 7 -21 7 -33 10 -76 16 -176 9 -81 12 -75 13 -55 8 -26 8 -19 9 -16 10 -12 11 -7 12 -3 12 2 13 7 18 15 19 22 21 30 22 39 27 51 30 64 105 243 36 76 19 35 16 23 7 8 7 5 6 3 5 1 5 -2 5 -4 9 -14 8 -26 7 -33 10 -77 16 -176 9 -74 10 -72 13 -58 7 -24 8 -20 8 -16 9 -13 10 -9 10 -5 11 -1 11 3 9 5 10 7 11 10 11 12 22 31 25 41 29 54 30 65 105 243 36 77 18 34 16 23 8 9 6 5 6 4 6 1 5 -1 5 -4 8 -12 8 -23 7 -31 10 -72 19 -199 11 -90 7 -43 7 -38 9 -32 9 -27 10 -23 12 -16 7 -6 6 -4 7 -2 8 -1 7 2 8 2 16 11 18 17 19 25"/>
<path d="M2017 398l39 89 89 216 21 47 18 38 21 38 18 26 9 8 7 5 8 2 6 -1 5 -3 5 -6 9 -17 9 -27 7 -37 11 -81 18 -189 9 -82 11 -72 12 -54 7 -25 8 -19 8 -15 9 -12 10 -7 10 -3 10 1 12 6 9 6 10 10 22 28 23 37 26 50 23 49 27 61 105 252 21 48 19 39 18 29 15 20 6 7 7 4 7 3 6 0 5 -3 5 -4 5 -7 5 -10 10 -29 7 -36 12 -88 18 -189 8 -74 10 -69 12 -56 7 -23 6 -18 8 -16 8 -13 8 -8 10 -6 10 -1 10 2 8 4 9 7 18 19 21 30 23 38 26 53 29 63 109 260 39 89 21 39 18 26 8 9 8 6 6 4 7 1 6 -2 5 -3 5 -6 5 -9 9 -26 7 -32 7 -42 6 -47 21 -213 10 -89 7 -43 8 -37 8 -32 8 -25 11 -21 6 -9 6 -7 7 -4 7 -2 6 -1 8 1 7 3 9 6 16 15 19 24 19 30"/>
<path d="M2017 304l34 54 38 71 38 78 75 164 31 61 16 27 13 17 12 10 5 3 5 0 4 -1 4 -3 8 -11 6 -18 7 -28 9 -60 19 -161 10 -73 13 -72 7 -30 8 -25 9 -23 10 -20 11 -15 11 -10 12 -6 13 -1 13 2 14 7 20 16 21 23 22 30 24 37 27 49 30 59 97 210 31 62 17 29 14 19 12 11 5 3 5 0 5 -1 4 -3 7 -11 7 -18 7 -27 9 -59 18 -161 10 -74 12 -68 14 -51 8 -24 9 -20 9 -15 10 -12 11 -8 11 -4 12 -1 13 3 10 5 11 7 22 21 24 30 27 41 29 51 32 62 99 213 31 62 15 27 14 20 12 11 6 3 5 1 5 -1 4 -3 8 -10 6 -18 7 -27 9 -59 19 -167 11 -78 14 -73 8 -31 9 -25 10 -23 11 -18 11 -13 13 -8 13 -3 14 1 15 7 17 12"/>
<path d="M2017 318l32 52 35 68 35 72 76 162 33 66 18 29 15 20 12 10 6 2 5 0 5 -2 4 -3 8 -13 6 -20 6 -28 8 -60 16 -162 9 -77 12 -71 7 -29 7 -27 9 -23 9 -19 10 -15 10 -11 12 -6 12 -2 13 3 13 6 20 15 20 23 23 30 23 37 28 49 30 60 102 215 33 66 18 30 15 20 12 11 6 3 5 1 5 -2 4 -3 8 -11 6 -19 7 -29 9 -67 16 -162 8 -70 11 -67 13 -56 8 -23 8 -19 9 -16 9 -11 10 -8 11 -5 12 0 11 2 10 5 10 7 23 21 24 30 26 39 29 51 32 61 32 67 72 155 33 65 17 29 15 21 13 11 6 3 5 1 5 -2 4 -3 7 -10 7 -18 7 -29 8 -58 18 -185 10 -79 7 -40 7 -32 8 -32 8 -24 10 -22 12 -17 12 -11 14 -6 14 0 15 6 16 11 18 17"/>
<path d="M2017 353l25 46 27 56 99 218 35 71 19 32 15 20 6 7 7 5 6 2 6 0 5 -3 4 -4 7 -13 7 -19 6 -31 10 -64 17 -168 9 -74 12 -71 7 -30 7 -27 8 -24 10 -20 10 -16 10 -11 11 -7 12 -2 12 2 14 6 19 14 20 22 21 30 24 37 27 50 30 60 103 227 34 70 19 31 15 21 6 6 7 5 6 3 5 0 5 -2 4 -3 8 -14 7 -19 7 -29 10 -70 17 -168 9 -74 12 -69 12 -52 8 -23 8 -20 9 -16 9 -11 10 -9 11 -4 11 -1 12 3 10 4 10 7 21 21 24 30 25 40 29 51 31 63 33 69 71 159 34 70 18 30 15 21 13 12 6 3 5 1 5 -1 4 -3 8 -12 8 -20 7 -29 10 -68 19 -183 11 -82 7 -44 8 -34 8 -31 9 -25 11 -22 12 -17 7 -6 7 -4 6 -2 8 -1 7 0 9 3 16 9 18 15 19 22"/>
<path d="M2017 304l30 57 33 70 33 76 73 171 33 72 18 32 14 21 12 11 6 3 5 0 4 -2 4 -3 8 -13 6 -20 7 -31 9 -67 18 -177 10 -85 12 -77 7 -31 7 -28 10 -27 9 -20 10 -16 10 -12 12 -6 13 -3 13 3 13 7 19 17 21 24 22 32 23 40 28 54 30 64 100 236 33 71 16 31 15 23 7 7 7 6 5 3 5 0 5 -2 5 -3 7 -13 7 -20 6 -31 10 -67 17 -177 9 -79 12 -74 13 -59 8 -27 9 -21 9 -17 9 -12 10 -9 11 -5 12 -1 12 2 10 6 10 7 11 10 11 13 25 32 25 43 29 56 32 67 32 73 70 167 33 71 17 31 15 23 12 12 6 3 5 1 5 -1 4 -4 7 -11 7 -19 7 -30 9 -64 20 -200 11 -87 6 -41 8 -38 8 -33 8 -26 11 -25 12 -19 12 -12 7 -4 7 -3 6 -1 8 1 7 2 9 4 16 12 18 19"/>
<path d="M2017 329l28 51 32 63 32 70 73 161 34 70 18 31 15 21 7 6 6 5 6 2 5 0 5 -3 4 -4 8 -14 6 -21 6 -28 9 -69 16 -161 9 -78 12 -72 7 -31 7 -28 9 -24 9 -20 10 -16 11 -11 11 -6 12 -2 13 2 13 6 20 16 20 22 21 30 23 38 28 50 31 62 102 226 34 70 18 30 15 21 6 7 7 5 6 3 5 0 5 -2 4 -4 7 -12 7 -19 7 -30 9 -67 17 -169 8 -71 11 -74 13 -53 7 -24 9 -20 9 -17 9 -12 10 -8 11 -5 12 -1 11 2 10 5 10 7 11 9 12 13 24 31 26 40 29 53 31 63 104 230 34 68 16 29 15 22 13 12 6 3 5 1 5 -1 4 -3 9 -13 6 -18 7 -30 9 -65 19 -184 10 -86 7 -41 8 -36 8 -31 8 -24 11 -24 12 -16 12 -11 7 -3 7 -2 8 0 7 1 16 7 18 14 18 20"/>
<path d="M2017 235l21 27 22 35 23 41 25 47 40 85 82 192 28 61 11 19 10 14 8 8 8 2 6 -3 5 -8 5 -14 5 -22 8 -54 17 -165 10 -86 15 -80 8 -34 9 -30 10 -26 12 -22 11 -16 14 -12 14 -7 14 -1 16 3 16 9 11 8 12 11 24 28 25 36 27 45 29 55 30 65 31 70 61 142 25 55 13 25 11 16 9 9 4 3 5 0 3 -1 3 -2 6 -10 5 -15 5 -24 7 -48 16 -165 10 -81 14 -77 7 -33 8 -30 10 -26 10 -22 10 -18 12 -14 13 -9 13 -5 14 0 14 4 12 6 12 9 13 11 13 15 28 36 29 47 30 57 34 70 32 73 63 146 24 52 13 25 11 17 9 9 4 3 4 0 4 -1 3 -2 6 -10 5 -15 5 -23 6 -48 17 -166 11 -86 14 -80 8 -34 9 -30 10 -26 12 -23 12 -16 13 -12 14 -7 14 -1 16 3 17 9"/>
<path d="M2017 234l21 28 22 36 23 40 24 48 39 86 78 186 26 56 10 18 8 12 8 7 6 2 6 -3 5 -9 5 -15 4 -19 8 -53 18 -169 11 -78 7 -43 9 -38 9 -35 9 -28 11 -26 12 -23 13 -17 14 -12 15 -6 15 -2 17 4 16 9 12 9 12 11 24 28 27 39 28 47 29 56 31 68 30 69 58 138 21 48 12 23 10 15 8 9 4 3 4 0 6 -3 5 -9 5 -16 5 -20 7 -54 18 -162 9 -73 15 -77 8 -34 8 -29 10 -27 11 -23 12 -19 12 -14 14 -10 13 -5 15 0 15 3 12 7 14 9 13 12 13 15 14 17 15 21 30 49 31 58 33 70 32 73 60 144 22 48 11 22 9 15 9 9 7 3 6 -2 6 -9 5 -15 4 -19 7 -52 19 -169 11 -79 7 -42 8 -39 10 -35 9 -29 10 -26 13 -23 12 -16 15 -13 15 -6 15 -2 16 4 17 9"/>
<path d="M2017 421l33 77 86 207 24 54 21 43 22 39 10 15 9 10 9 8 8 5 8 2 7 -2 6 -4 5 -5 10 -19 9 -28 8 -39 13 -89 20 -192 8 -70 10 -65 12 -54 6 -22 8 -20 7 -14 9 -11 9 -7 9 -3 10 1 10 5 9 7 9 8 20 26 23 37 24 46 21 46 25 57 105 251 24 51 20 40 19 32 16 22 8 7 7 5 7 2 7 0 6 -2 6 -6 6 -8 5 -10 10 -29 8 -38 7 -42 7 -52 19 -185 9 -77 10 -65 11 -50 6 -23 7 -17 7 -14 7 -11 8 -8 8 -4 9 -2 9 2 9 5 10 7 9 10 11 14 23 34 26 48 23 49 26 58 108 259 23 51 20 40 18 31 16 20 14 12 7 3 6 1 6 -2 6 -4 6 -7 5 -9 10 -26 9 -39 7 -39 7 -50 22 -214 11 -86 7 -40 7 -37 8 -28 8 -23 10 -20 6 -8 5 -5 6 -4 7 -2 7 -1 6 2 8 3 7 5 16 16 18 23 18 30"/>
<path d="M2017 256l19 29 20 33 21 39 21 44 41 90 78 183 26 57 14 24 10 15 10 10 5 2 4 0 4 -1 3 -3 7 -11 6 -18 5 -23 8 -57 18 -170 11 -83 14 -78 9 -34 8 -28 10 -26 11 -22 11 -16 13 -12 13 -6 13 -2 15 3 15 8 11 9 11 10 22 26 25 35 25 42 28 55 31 66 93 218 27 60 14 26 13 19 10 10 5 3 4 0 4 -1 4 -3 6 -11 6 -17 6 -27 8 -59 18 -163 10 -77 13 -77 7 -33 9 -30 9 -26 9 -20 11 -18 11 -13 11 -9 13 -5 13 -1 13 4 11 6 12 8 12 11 12 13 26 35 28 46 30 56 33 69 31 71 65 154 27 58 14 27 12 19 10 10 5 3 4 0 5 -1 3 -3 7 -10 5 -17 5 -22 9 -56 19 -177 12 -87 7 -44 8 -36 8 -33 8 -26 11 -27 11 -19 12 -16 13 -10 14 -5 14 0 15 5 16 10"/>
<path d="M2017 278l17 27 19 32 39 78 38 84 76 176 29 62 15 27 12 18 11 10 5 3 5 0 4 -1 4 -4 7 -10 7 -19 6 -25 9 -61 19 -175 11 -82 13 -73 8 -32 8 -28 9 -24 10 -21 11 -16 11 -11 13 -7 13 -1 14 3 15 7 20 17 21 25 23 32 24 41 27 52 31 65 96 221 29 63 16 29 13 20 12 12 5 2 5 1 4 -1 4 -3 7 -11 7 -19 6 -26 9 -62 18 -168 10 -77 14 -77 14 -56 8 -25 9 -21 10 -17 10 -13 11 -8 12 -5 12 -1 13 3 11 6 11 8 12 10 11 13 25 33 27 44 29 54 32 66 31 71 67 156 29 62 15 28 13 20 12 12 5 3 5 1 4 -1 4 -2 8 -11 6 -18 6 -25 9 -60 20 -181 11 -81 8 -45 7 -36 8 -32 9 -26 11 -26 10 -19 12 -14 13 -9 13 -4 14 1 15 6 16 12"/>
<path d="M2017 206l21 24 22 31 23 36 24 44 26 54 29 62 80 194 20 47 12 23 9 15 8 8 7 3 6 -4 5 -8 4 -12 4 -19 8 -52 19 -171 11 -75 8 -46 8 -38 10 -33 10 -30 11 -27 13 -23 13 -16 14 -12 15 -6 16 -1 17 4 17 9 12 9 12 12 25 29 27 39 27 48 29 57 31 67 29 69 56 136 20 46 11 21 9 15 8 9 7 3 6 -3 5 -8 5 -14 4 -19 7 -52 19 -165 10 -71 15 -79 8 -33 9 -31 11 -28 11 -22 12 -20 13 -13 13 -10 14 -5 15 0 16 4 12 7 14 9 13 13 13 14 14 18 15 21 30 49 31 59 33 71 32 74 58 141 19 45 11 21 9 15 9 9 6 3 6 -3 5 -8 5 -15 4 -19 8 -53 18 -164 10 -71 15 -79 8 -33 10 -30 10 -29 11 -22 12 -18 12 -14 14 -10 14 -5 15 0 15 4"/>
<path d="M2017 254l18 26 20 33 21 38 22 45 43 93 82 193 29 61 15 26 12 17 11 10 5 2 4 1 4 -2 4 -3 7 -10 7 -19 5 -27 10 -65 17 -170 11 -87 13 -76 8 -32 7 -26 9 -26 10 -20 11 -16 12 -12 12 -6 13 -1 14 3 14 7 20 18 22 25 22 33 24 41 28 53 30 64 96 224 30 65 16 29 13 20 12 12 5 3 5 1 4 -1 4 -3 8 -12 6 -19 6 -27 9 -66 17 -162 10 -82 12 -76 15 -59 8 -26 9 -21 10 -18 10 -12 11 -9 11 -5 13 0 12 3 11 6 11 8 23 23 25 33 26 44 29 55 32 67 32 71 67 158 30 65 16 30 13 20 12 11 5 3 5 1 4 -1 4 -3 7 -12 7 -20 6 -27 8 -59 19 -178 10 -86 14 -75 7 -32 8 -28 10 -26 10 -20 11 -15 12 -10 12 -6 14 0 14 4 15 9"/>
<path d="M2017 335l27 50 29 62 102 228 33 69 19 32 15 21 6 7 7 5 6 2 5 0 4 -2 4 -4 8 -12 6 -20 7 -30 9 -66 17 -174 10 -76 11 -71 7 -31 7 -27 9 -25 9 -20 10 -16 11 -12 11 -7 12 -2 13 2 14 6 19 15 21 24 22 31 23 39 28 51 31 63 100 226 34 70 17 31 15 21 7 7 6 6 6 2 5 1 5 -2 4 -3 9 -14 6 -19 7 -31 9 -67 17 -166 9 -77 11 -73 14 -56 7 -24 9 -20 9 -17 9 -12 10 -8 11 -5 11 -1 12 2 10 5 10 7 11 10 11 12 25 32 25 41 29 53 32 64 103 232 34 69 16 30 15 21 14 13 5 3 5 1 5 -2 4 -3 8 -11 7 -17 6 -28 10 -69 19 -189 11 -85 8 -44 7 -36 9 -31 9 -26 10 -22 13 -18 7 -6 6 -4 7 -3 7 -1 8 0 7 2 17 9 18 14 18 21"/>
<path d="M2017 335l27 50 30 61 105 232 37 74 19 33 16 22 7 7 7 4 6 2 6 0 5 -2 4 -4 8 -14 7 -23 7 -31 9 -66 18 -173 9 -76 12 -71 13 -55 8 -24 9 -18 9 -15 10 -10 10 -7 12 -2 13 2 12 6 18 15 20 21 20 30 23 36 26 49 30 61 104 228 35 73 19 32 15 22 8 8 7 5 5 3 6 1 5 -2 5 -4 9 -13 7 -21 8 -34 10 -72 16 -165 9 -77 11 -67 13 -54 7 -23 8 -19 8 -15 9 -12 10 -9 10 -4 11 -1 11 3 9 4 10 7 11 10 10 11 23 29 25 40 27 50 31 62 105 232 35 71 18 33 16 22 14 14 6 3 6 1 5 -1 5 -4 8 -11 8 -23 7 -29 10 -68 19 -188 11 -86 7 -40 7 -36 8 -28 8 -24 10 -22 12 -17 11 -10 7 -3 7 -2 6 0 8 2 15 6 16 14 18 19"/>
<path d="M2017 249l21 26 22 33 23 39 25 45 40 82 84 188 29 59 11 20 10 14 9 7 7 2 4 -1 4 -3 5 -9 5 -14 5 -22 8 -51 17 -164 11 -81 14 -75 9 -33 8 -26 10 -25 12 -21 11 -16 13 -11 13 -6 15 -1 15 3 16 8 11 8 11 10 24 27 25 34 25 42 30 53 30 63 92 203 26 54 13 24 12 18 10 9 4 3 4 0 4 -1 3 -3 6 -9 5 -14 5 -22 8 -51 16 -156 11 -83 13 -73 8 -31 7 -26 10 -25 10 -21 10 -18 12 -13 13 -8 12 -5 13 0 14 4 12 6 12 8 12 11 13 13 26 33 29 45 30 54 34 67 32 70 63 142 25 52 14 24 11 18 10 9 4 3 5 0 4 -1 3 -2 6 -10 5 -14 5 -21 7 -51 18 -164 11 -81 14 -76 8 -32 8 -27 10 -24 11 -21 12 -16 12 -11 14 -6 14 -2 15 2 15 8"/>
<path d="M2017 378l41 85 97 219 39 81 20 35 18 23 7 7 8 5 6 2 6 -1 5 -3 4 -5 9 -15 7 -23 7 -33 10 -74 16 -171 9 -80 11 -69 13 -55 7 -23 9 -20 9 -16 9 -11 11 -7 10 -2 12 1 13 6 10 7 10 10 23 27 24 37 27 47 25 49 27 58 105 236 20 41 17 33 16 26 14 17 13 10 6 2 5 0 5 -1 5 -4 5 -7 4 -8 7 -22 8 -35 10 -73 17 -180 9 -72 9 -66 12 -53 7 -22 7 -20 9 -17 8 -12 9 -9 10 -5 11 -1 11 2 9 4 9 6 21 21 22 29 24 39 28 51 31 63 106 239 38 78 19 34 16 24 8 8 7 6 7 3 6 1 5 -2 5 -3 5 -6 4 -8 7 -20 8 -33 10 -70 20 -202 11 -87 6 -41 8 -36 8 -31 9 -25 11 -21 13 -15 6 -4 7 -3 7 -1 7 0 8 2 8 4 17 13 18 19 20 28"/>
<path d="M2017 309l31 55 35 70 34 74 73 166 32 68 17 30 15 21 13 11 5 2 5 1 5 -2 5 -4 7 -12 7 -19 6 -30 9 -63 19 -171 10 -79 12 -72 8 -33 7 -26 9 -25 10 -19 10 -15 10 -11 12 -6 12 -2 14 3 13 6 19 16 21 24 22 31 23 38 27 50 30 62 99 225 33 68 16 29 15 22 13 11 6 3 5 1 5 -2 4 -3 8 -13 7 -19 7 -30 9 -63 18 -171 9 -73 13 -74 13 -55 8 -25 9 -19 9 -16 9 -12 10 -8 11 -5 11 -1 13 3 10 5 11 7 21 22 24 31 26 42 28 52 32 64 102 229 31 66 17 30 15 22 12 12 6 3 5 1 5 -1 4 -3 9 -12 6 -19 7 -28 10 -67 19 -179 11 -82 7 -40 7 -37 8 -32 9 -26 10 -23 11 -19 12 -12 7 -5 6 -3 7 -1 7 0 15 4 16 10 17 15"/>
<path d="M2017 345l22 45 26 56 105 245 40 86 21 38 18 26 8 8 8 5 7 3 6 -1 5 -2 5 -5 9 -16 9 -27 6 -34 11 -85 17 -187 8 -78 10 -68 12 -55 7 -24 8 -19 8 -15 9 -11 10 -7 10 -3 12 2 11 6 10 7 10 10 21 27 24 39 26 48 23 48 27 59 106 247 21 46 19 36 16 28 15 20 14 11 5 2 6 1 6 -2 5 -4 5 -7 5 -10 8 -26 8 -38 10 -79 16 -186 9 -79 10 -69 11 -53 6 -23 7 -18 7 -16 9 -12 9 -9 9 -5 10 -1 10 3 8 4 9 7 20 20 20 29 24 39 26 51 30 64 108 252 40 84 20 39 18 25 7 9 8 6 6 4 7 1 6 -2 5 -3 5 -6 5 -9 8 -24 8 -35 11 -82 18 -203 10 -89 7 -45 6 -35 8 -30 7 -24 10 -22 11 -16 6 -5 6 -4 7 -2 7 -1 6 1 8 3 16 12 16 17 18 24"/>
<path d="M2017 307l32 55 35 71 35 75 73 165 32 65 16 28 14 20 12 11 6 2 5 0 4 -1 4 -3 6 -11 7 -19 6 -27 8 -59 18 -177 10 -83 12 -73 7 -29 7 -26 10 -26 9 -18 11 -16 10 -11 12 -6 12 -2 14 3 14 7 20 16 21 23 23 33 24 40 28 50 30 63 100 222 32 66 16 30 15 20 11 11 6 3 5 1 5 -2 4 -4 8 -12 6 -21 6 -28 9 -62 15 -162 9 -78 12 -73 13 -56 9 -26 8 -20 9 -16 10 -13 11 -9 11 -5 12 -1 13 3 10 5 11 8 11 10 12 12 25 33 27 42 29 53 32 66 33 70 69 155 31 66 16 28 14 21 12 11 6 4 5 1 4 -1 4 -3 7 -11 7 -18 6 -25 9 -64 18 -185 11 -86 7 -40 7 -37 9 -31 8 -25 11 -25 11 -18 13 -12 7 -4 7 -2 8 -1 7 1 16 5 17 12 18 18"/>
</g>
<path d="M1123.8,381.6V399.8M1153.2,347.8V366.4M1223.2,96.5V114.9M1271.0,155.1V170.5M1282.7,174.8V193.2M1327.3,272.5V287.3M1352.8,328.5V346.9M1395.0,392.7V409.5M1425.7,210.5V229.5M1495.5,106.6V125.6M1553.8,201.4V220.4M1623.8,357.3V376.1M1667.3,358.0V372.6M1698.3,135.7V153.9" stroke="#1a1a1a" stroke-width="1.5" fill="none"/>
<g fill="#1a1a1a"><circle cx="1102.8" cy="353.6" r="6.3"/><circle cx="1123.8" cy="390.7" r="6.3"/><circle cx="1153.2" cy="357.1" r="6.3"/><circle cx="1171.0" cy="203.7" r="6.3"/><circle cx="1198.9" cy="112.6" r="6.3"/><circle cx="1223.2" cy="105.7" r="6.3"/><circle cx="1241.2" cy="119.6" r="6.3"/><circle cx="1271.0" cy="162.8" r="6.3"/><circle cx="1282.7" cy="184.0" r="6.3"/><circle cx="1312.9" cy="247.0" r="6.3"/><circle cx="1327.3" cy="279.9" r="6.3"/><circle cx="1352.8" cy="337.7" r="6.3"/><circle cx="1375.4" cy="382.7" r="6.3"/><circle cx="1395.0" cy="401.1" r="6.3"/><circle cx="1425.7" cy="220.0" r="6.3"/><circle cx="1444.2" cy="133.8" r="6.3"/><circle cx="1470.2" cy="104.3" r="6.3"/><circle cx="1495.5" cy="116.1" r="6.3"/><circle cx="1512.2" cy="136.2" r="6.3"/><circle cx="1542.5" cy="189.5" r="6.3"/><circle cx="1553.8" cy="210.9" r="6.3"/><circle cx="1583.8" cy="278.1" r="6.3"/><circle cx="1599.2" cy="314.4" r="6.3"/><circle cx="1623.8" cy="366.7" r="6.3"/><circle cx="1648.2" cy="400.9" r="6.3"/><circle cx="1667.3" cy="365.3" r="6.3"/><circle cx="1698.3" cy="144.8" r="6.3"/><circle cx="1718.3" cy="108.8" r="6.3"/><circle cx="1742.0" cy="108.1" r="6.3"/></g>
</g>
<g clip-path="url(#cc)">
<path d="M1008.5,538.0 1018.9,521.6 1028.0,510.5 1032.6,506.3 1037.2,503.1 1045.5,499.3 1047.1,499.1 1053.4,499.3 1058.0,500.3 1065.5,504.4 1069.2,507.2 1074.2,511.8 1078.4,516.9 1086.7,528.9 1091.2,537.3 1105.4,566.1 1115.8,591.5 1129.9,633.1 1140.3,667.3 1145.3,686.5 1151.6,716.2 1156.6,746.0 1161.1,779.1 1169.9,856.0 1171.1,859.0 1172.4,856.8 1175.3,846.1 1193.2,763.9 1209.8,696.5 1222.3,651.9 1232.3,620.4 1238.1,604.0 1251.0,570.8 1267.6,536.2 1279.3,519.3 1286.8,510.4 1294.7,503.9 1303.8,499.3 1313.0,499.5 1316.3,500.4 1323.0,503.9 1330.5,509.9 1334.2,513.7 1338.4,519.2 1344.6,529.1 1350.9,540.8 1352.1,544.2 1364.2,569.3 1373.7,594.7 1388.3,640.3 1399.5,681.7 1405.8,711.0 1409.5,731.7 1414.1,761.6 1425.3,857.9 1426.6,864.2 1427.4,866.1 1429.9,858.3 1433.6,843.5 1454.9,749.0 1467.8,696.5 1480.2,652.1 1496.1,604.3 1509.8,569.1 1516.0,555.6 1526.4,535.1 1531.4,527.7 1541.4,514.6 1549.7,506.6 1554.7,503.1 1562.6,499.1 1569.7,499.2 1575.1,500.6 1580.5,503.4 1585.5,506.9 1589.7,510.7 1593.8,515.5 1599.6,524.0 1610.5,544.1 1626.3,581.9 1632.9,601.6 1644.2,639.4 1653.7,676.6 1661.2,711.2 1664.6,729.8 1668.7,757.4 1679.9,853.3 1681.6,865.9 1682.9,870.6 1683.7,870.6 1684.5,868.9 1690.3,847.5 1712.8,749.6 1728.6,686.1 1739.0,649.7 1756.9,597.3 1756.9,744.6 1751.1,758.0 1745.3,773.2 1730.7,814.9 1703.7,888.6 1699.1,899.3 1694.9,907.4 1689.1,915.7 1685.4,917.5 1682.4,917.6 1681.2,917.2 1679.1,918.2 1677.9,917.4 1677.4,917.7 1674.1,913.1 1672.9,912.9 1669.1,902.2 1665.8,885.1 1662.9,863.1 1653.3,777.2 1647.1,728.0 1637.9,669.6 1632.1,643.1 1629.6,634.7 1626.7,628.8 1621.3,620.9 1616.7,615.5 1613.4,613.0 1611.3,612.1 1606.7,610.9 1603.0,610.5 1601.3,609.7 1595.5,611.1 1581.3,616.7 1570.5,625.7 1555.5,644.3 1538.1,670.7 1529.8,685.3 1521.0,702.0 1504.4,737.4 1487.3,779.5 1474.0,817.0 1468.2,834.7 1458.2,861.3 1447.4,888.7 1442.8,899.0 1436.6,909.8 1431.2,916.0 1428.2,917.5 1427.4,917.1 1425.7,917.4 1422.8,916.9 1422.4,917.4 1421.6,917.2 1420.8,918.0 1419.9,918.1 1419.1,916.8 1417.8,916.5 1415.8,912.9 1414.5,912.8 1413.7,911.2 1410.4,899.8 1408.3,889.2 1404.1,858.9 1395.0,776.2 1389.1,730.6 1381.6,681.0 1375.0,645.4 1371.7,633.4 1369.2,626.5 1363.3,618.1 1359.2,613.9 1357.1,612.6 1353.4,611.3 1347.1,610.5 1345.4,609.8 1336.7,612.4 1325.9,616.8 1316.3,624.9 1303.0,640.7 1285.1,666.8 1274.7,684.9 1264.3,704.8 1252.3,730.1 1249.8,737.0 1244.4,748.6 1224.8,798.6 1219.0,816.3 1211.9,835.2 1206.9,850.2 1196.1,878.7 1189.4,893.4 1183.6,904.3 1174.9,915.2 1171.1,917.3 1169.0,916.7 1168.6,917.1 1166.6,916.8 1166.1,917.1 1164.9,916.3 1164.5,916.9 1163.6,916.7 1161.6,918.1 1160.3,916.4 1159.5,916.6 1157.4,912.9 1156.2,912.4 1155.3,911.2 1152.0,899.5 1150.3,891.1 1145.7,857.9 1134.1,754.5 1130.8,729.0 1127.0,703.1 1120.4,663.4 1117.0,646.0 1112.5,627.3 1111.2,625.6 1109.6,621.5 1104.1,614.5 1102.5,613.0 1097.9,611.3 1089.6,610.0 1081.3,612.4 1070.4,617.0 1062.5,623.7 1057.5,629.0 1043.0,647.0 1027.6,670.5 1015.9,691.5 1008.5,706.0 1008.5,538.0Z" fill="#4c72b0" fill-opacity="0.05"/>
<path d="M1008.5,548.2 1017.2,533.4 1024.3,523.5 1029.7,517.3 1043.8,507.1 1048.8,505.1 1051.3,505.3 1054.2,504.7 1060.5,506.0 1065.5,508.4 1071.3,513.0 1078.8,520.8 1086.7,531.6 1100.8,558.3 1110.8,580.8 1122.5,612.9 1134.1,648.5 1139.5,667.3 1144.1,685.4 1150.3,715.6 1155.3,746.3 1160.3,784.2 1168.2,854.2 1169.9,865.0 1170.3,863.9 1171.1,864.1 1172.4,861.3 1199.8,745.8 1212.3,697.8 1219.4,672.9 1227.7,644.9 1234.4,625.0 1246.4,591.9 1255.2,571.0 1263.5,553.6 1271.0,540.4 1276.4,531.9 1287.6,517.3 1301.8,507.2 1307.2,505.0 1309.3,505.3 1312.6,504.7 1318.4,505.9 1322.6,508.0 1328.0,511.7 1331.7,515.2 1338.0,522.3 1345.4,533.1 1349.6,540.7 1362.1,566.9 1370.4,587.8 1378.7,612.0 1391.6,654.4 1401.2,692.4 1407.0,722.5 1414.1,769.6 1424.5,861.4 1425.7,868.2 1426.6,870.5 1427.0,870.5 1427.8,869.5 1428.7,867.1 1431.6,855.9 1455.3,755.6 1473.6,686.0 1480.7,661.6 1492.3,624.9 1502.3,597.4 1508.5,581.8 1520.2,556.9 1529.8,539.3 1535.2,531.2 1546.0,517.1 1559.7,507.5 1564.7,505.1 1572.2,504.9 1576.4,505.9 1579.3,507.2 1585.5,511.3 1591.3,516.6 1599.6,527.1 1606.7,539.4 1619.6,567.1 1622.9,575.2 1629.6,593.9 1640.4,628.8 1652.5,673.9 1657.5,696.2 1662.1,719.8 1668.7,762.8 1680.4,863.0 1682.0,873.3 1683.3,875.6 1683.7,875.7 1684.1,874.6 1687.8,861.3 1714.5,749.5 1728.6,695.8 1743.2,647.0 1756.9,606.5 1756.9,739.6 1734.4,797.5 1705.7,879.1 1698.7,896.3 1693.3,907.4 1692.0,909.7 1689.1,913.3 1687.0,914.0 1684.9,915.5 1677.9,914.3 1674.1,910.6 1672.9,907.2 1670.8,904.5 1668.3,895.2 1664.1,866.2 1654.2,776.2 1646.2,715.6 1642.5,691.4 1637.9,666.0 1634.2,648.3 1630.9,635.9 1626.7,625.0 1621.7,617.6 1613.8,608.7 1611.7,607.2 1607.6,605.6 1599.2,604.1 1596.3,604.0 1590.9,604.9 1586.3,607.1 1583.8,607.6 1576.8,612.6 1570.1,618.7 1559.7,629.7 1551.4,640.8 1543.9,651.8 1536.4,664.2 1523.9,687.2 1519.4,698.7 1511.4,715.0 1495.2,754.9 1481.1,791.4 1463.2,842.2 1450.7,876.4 1444.1,893.0 1435.3,909.2 1431.6,913.3 1427.0,915.3 1423.2,914.2 1422.4,914.8 1419.5,914.1 1416.2,910.6 1412.0,902.7 1408.7,886.9 1404.9,858.2 1395.0,767.1 1389.5,725.8 1381.6,674.6 1378.3,657.3 1373.7,637.3 1372.5,632.4 1368.7,622.2 1363.8,614.9 1358.3,609.2 1355.8,606.9 1352.9,605.8 1340.9,604.0 1335.5,604.8 1330.9,607.1 1328.4,607.5 1323.8,610.6 1316.7,616.5 1302.2,632.4 1286.0,655.8 1279.7,666.6 1267.2,690.9 1261.0,705.2 1252.7,722.5 1221.9,801.8 1211.1,831.2 1203.6,853.5 1193.2,880.7 1186.9,895.5 1181.5,904.4 1174.9,912.8 1171.1,914.9 1169.5,915.2 1168.2,914.6 1167.4,914.9 1165.7,914.0 1164.1,914.5 1161.1,913.8 1156.6,908.4 1154.9,904.9 1153.2,900.0 1151.2,890.1 1147.0,859.4 1136.2,761.5 1128.7,706.5 1122.0,666.8 1117.5,643.9 1113.7,629.0 1110.0,618.6 1107.9,615.3 1100.0,606.8 1095.8,605.3 1087.9,604.2 1085.4,604.0 1080.0,604.8 1075.4,607.1 1073.8,607.3 1069.6,609.8 1063.8,614.1 1055.9,621.9 1045.1,634.6 1032.2,653.5 1026.3,662.9 1022.6,669.9 1008.5,698.9 1008.5,548.2Z" fill="#4c72b0" fill-opacity="0.074"/>
<path d="M1008.5,554.9 1015.1,543.3 1020.1,535.8 1026.8,527.3 1034.3,520.0 1040.9,515.0 1046.7,511.7 1057.5,510.6 1060.9,511.0 1067.5,513.8 1070.4,515.9 1072.1,516.5 1073.4,518.1 1075.9,519.8 1086.3,533.6 1097.1,552.7 1108.3,577.1 1123.3,616.5 1136.6,658.6 1144.5,691.0 1148.2,708.8 1153.2,739.0 1160.7,796.1 1167.4,857.6 1168.6,866.1 1169.9,869.1 1172.4,864.9 1173.6,860.8 1197.3,762.6 1205.7,730.1 1222.7,669.0 1233.5,635.2 1241.4,613.0 1247.7,596.4 1256.8,574.6 1265.6,556.5 1274.7,540.4 1282.6,529.5 1292.6,519.7 1300.9,513.7 1304.7,511.7 1306.8,511.2 1313.8,510.6 1319.2,511.1 1326.3,514.3 1331.3,517.5 1337.5,524.2 1346.7,538.0 1354.6,552.6 1361.7,568.1 1367.9,583.3 1378.3,612.5 1384.1,630.7 1393.3,662.1 1400.8,693.9 1407.0,727.6 1413.7,774.1 1424.1,866.7 1425.7,873.8 1426.6,874.0 1427.4,873.5 1427.8,872.5 1432.4,855.9 1454.9,763.1 1476.9,681.1 1489.8,639.8 1494.8,625.4 1504.8,599.1 1514.8,574.6 1525.6,552.9 1534.7,537.4 1540.6,529.7 1550.1,520.0 1557.6,514.2 1563.9,511.2 1573.0,510.6 1576.4,510.9 1584.7,514.6 1592.2,520.3 1598.4,527.8 1608.0,544.4 1613.8,555.9 1624.2,580.8 1628.8,593.7 1638.8,624.3 1643.3,640.4 1652.9,677.6 1657.9,701.3 1662.5,726.8 1668.7,769.5 1679.5,865.0 1681.2,874.7 1682.9,878.8 1683.3,878.1 1684.1,877.8 1687.4,866.4 1714.5,755.9 1727.8,705.7 1741.5,658.5 1756.9,613.8 1756.9,729.9 1738.6,779.4 1707.4,871.8 1701.2,888.6 1695.8,901.2 1690.3,909.7 1687.0,912.9 1684.1,914.0 1681.6,913.8 1679.9,912.9 1678.7,913.0 1677.0,911.6 1675.4,909.8 1672.9,905.6 1671.2,901.5 1668.3,889.5 1665.8,873.4 1657.9,802.0 1648.3,725.1 1642.9,690.6 1637.5,661.2 1633.8,644.6 1631.7,636.7 1627.5,625.1 1623.8,617.6 1621.7,614.5 1616.3,608.6 1609.6,603.6 1601.7,600.0 1599.2,599.3 1592.6,599.7 1589.2,600.9 1587.6,601.1 1582.2,603.3 1573.4,608.8 1562.2,618.0 1549.3,634.1 1544.7,641.0 1535.2,657.2 1526.0,674.7 1511.4,706.4 1497.3,739.9 1479.0,790.1 1450.3,875.3 1442.8,894.1 1437.4,904.1 1434.1,908.8 1431.2,911.8 1429.5,912.9 1426.2,913.8 1422.0,912.7 1421.2,913.0 1419.9,912.3 1416.6,908.8 1413.3,902.1 1409.1,882.5 1407.0,867.6 1395.4,764.0 1390.4,725.3 1384.1,685.3 1378.7,656.6 1375.4,641.6 1372.9,632.0 1370.0,623.5 1366.7,615.9 1363.8,611.8 1358.3,606.7 1351.7,602.3 1343.8,599.3 1337.5,599.7 1334.2,600.9 1332.6,601.0 1327.1,603.2 1319.2,607.8 1307.2,617.4 1294.3,633.4 1281.4,654.3 1272.2,671.3 1264.3,687.7 1251.8,715.5 1241.0,741.9 1223.5,790.0 1203.6,849.1 1190.3,886.0 1185.7,896.3 1178.6,906.7 1175.7,910.1 1172.4,912.8 1169.9,913.4 1169.5,913.0 1168.2,913.5 1165.3,912.6 1163.2,912.8 1159.1,909.3 1155.7,903.7 1152.0,887.6 1148.2,860.5 1137.0,761.1 1129.5,706.0 1124.9,678.3 1119.5,650.2 1114.5,629.4 1111.2,619.2 1106.6,610.5 1102.9,607.0 1095.0,601.8 1088.3,599.4 1082.5,599.7 1078.8,600.9 1077.1,601.0 1071.7,603.2 1064.6,607.3 1053.8,615.6 1047.6,622.3 1038.0,634.3 1023.9,657.5 1013.9,676.3 1008.5,688.4 1008.5,554.9Z" fill="#4c72b0" fill-opacity="0.114"/>
<path d="M1008.5,561.7 1013.0,553.1 1017.6,545.7 1025.5,534.2 1030.1,529.0 1036.3,522.9 1041.7,519.0 1047.1,516.2 1053.0,514.8 1058.0,514.5 1065.0,516.3 1069.2,518.5 1075.4,523.3 1078.4,526.0 1082.9,531.9 1088.8,540.2 1094.6,549.8 1104.6,570.6 1117.0,600.9 1128.3,633.1 1133.7,650.9 1139.1,671.1 1145.7,701.9 1152.0,739.2 1157.0,776.2 1167.0,863.3 1168.2,870.8 1168.6,872.4 1169.5,873.1 1171.1,872.1 1172.0,870.6 1174.0,864.0 1197.8,768.3 1214.8,704.8 1228.5,658.6 1236.4,633.9 1246.8,605.5 1252.7,591.0 1260.6,573.4 1273.9,548.2 1285.1,532.2 1291.8,525.2 1299.7,519.0 1303.8,516.7 1308.0,515.4 1315.9,514.6 1322.6,516.3 1325.5,517.5 1328.4,519.2 1333.4,523.4 1337.5,527.6 1340.9,531.9 1349.2,544.6 1357.1,559.9 1369.2,588.7 1381.2,622.8 1392.5,661.3 1397.9,683.6 1402.9,709.1 1411.2,763.3 1423.2,867.1 1424.9,876.2 1425.7,877.7 1426.6,877.5 1427.8,876.0 1431.2,865.5 1458.6,755.5 1476.5,690.6 1491.9,641.5 1504.0,607.3 1518.9,572.4 1527.7,555.5 1535.6,542.7 1541.4,534.2 1551.0,523.7 1562.2,516.6 1566.8,515.2 1571.8,514.5 1575.9,515.0 1580.5,516.3 1583.8,517.7 1588.4,520.9 1592.2,524.2 1597.6,530.2 1607.6,545.9 1616.3,563.4 1626.7,589.7 1633.8,610.2 1641.3,634.7 1649.2,664.2 1653.3,681.8 1659.1,711.6 1664.6,746.2 1667.9,770.9 1678.7,864.8 1680.8,877.9 1682.0,881.5 1682.9,881.7 1684.1,879.8 1687.8,868.1 1713.2,765.9 1729.5,706.7 1740.3,670.1 1754.0,628.5 1756.9,621.0 1756.9,724.7 1731.9,792.8 1713.6,849.3 1702.8,881.4 1698.3,893.6 1693.3,903.8 1687.4,910.5 1685.4,912.0 1681.6,912.3 1678.7,911.0 1675.4,907.5 1672.9,903.2 1669.5,889.5 1665.4,859.8 1656.2,779.4 1648.7,722.7 1640.8,674.9 1636.7,655.0 1631.7,635.2 1627.5,623.4 1623.4,614.3 1618.8,607.9 1611.3,600.0 1605.5,596.0 1597.2,593.6 1589.7,593.9 1581.3,596.9 1568.0,605.9 1560.5,613.1 1543.9,636.3 1536.0,649.5 1525.6,668.7 1507.7,708.1 1490.6,752.1 1468.2,816.3 1453.6,861.5 1442.4,892.2 1437.8,901.6 1435.7,904.9 1433.6,907.2 1430.7,909.8 1427.8,911.5 1422.4,911.7 1417.8,908.0 1414.9,903.4 1412.0,891.6 1407.9,862.1 1397.9,774.7 1390.4,718.7 1382.1,669.5 1377.1,646.0 1373.7,632.9 1371.2,624.9 1365.8,612.4 1362.1,606.8 1358.3,602.8 1353.8,598.5 1349.2,595.7 1341.3,593.6 1333.0,594.2 1326.3,596.7 1316.7,602.7 1310.5,607.5 1303.8,614.3 1286.0,639.7 1273.1,662.6 1254.8,701.7 1238.1,743.8 1218.1,799.6 1196.1,866.0 1190.3,882.3 1186.1,892.1 1182.8,899.2 1178.2,905.7 1176.5,907.4 1174.0,909.3 1169.5,911.6 1164.5,911.4 1161.1,909.0 1157.8,905.1 1156.2,900.7 1154.1,891.1 1149.9,862.3 1138.3,761.4 1129.1,696.8 1124.5,670.4 1120.0,648.4 1115.8,631.1 1113.3,623.0 1110.0,614.3 1107.5,609.5 1103.3,603.6 1095.4,597.0 1093.3,595.8 1089.2,594.4 1085.4,593.6 1077.9,594.1 1071.3,596.5 1061.7,602.2 1055.9,606.6 1047.1,615.4 1038.8,627.1 1025.9,647.0 1013.0,671.1 1008.5,681.1 1008.5,561.7Z" fill="#4c72b0" fill-opacity="0.179"/>
<path d="M1008.5,567.9 1012.2,560.7 1020.1,547.8 1025.1,541.1 1033.4,532.0 1039.2,526.8 1046.7,521.7 1050.1,520.1 1056.3,518.8 1062.1,519.4 1067.1,520.9 1072.9,524.5 1077.5,528.4 1083.8,535.5 1088.8,542.3 1097.5,557.1 1110.4,585.6 1120.8,613.1 1132.0,647.1 1138.7,672.6 1145.3,704.3 1151.2,738.8 1157.8,788.8 1166.1,863.1 1168.2,875.4 1169.5,877.3 1170.3,877.3 1172.0,874.2 1175.3,863.7 1193.6,789.6 1205.7,742.9 1220.2,690.6 1229.4,660.5 1235.6,641.9 1246.4,612.3 1258.5,583.5 1270.1,560.3 1276.8,549.4 1283.5,540.4 1292.2,530.8 1300.1,524.3 1304.3,521.6 1307.6,520.1 1315.9,518.9 1320.1,519.3 1325.5,521.1 1332.6,526.0 1337.5,530.7 1343.4,537.9 1351.3,550.2 1359.2,566.0 1370.8,594.5 1381.6,625.9 1389.5,652.5 1393.7,668.6 1397.0,683.3 1403.3,715.6 1407.4,741.7 1412.0,775.5 1422.4,866.4 1424.1,877.2 1424.9,880.2 1425.7,881.3 1427.0,880.7 1428.2,878.4 1431.6,868.0 1462.8,744.4 1476.9,694.3 1487.7,658.5 1502.7,615.9 1509.0,600.6 1519.8,576.4 1532.7,552.6 1539.3,542.8 1547.2,533.5 1552.6,528.3 1560.1,522.7 1563.9,520.6 1573.0,518.8 1578.0,519.3 1583.0,521.0 1590.5,526.2 1600.1,536.7 1607.1,547.1 1616.7,566.2 1628.8,597.2 1633.8,611.9 1641.3,636.5 1647.5,659.4 1653.7,686.6 1657.1,703.8 1665.4,755.9 1670.0,792.6 1677.9,863.1 1679.9,877.8 1681.6,883.9 1682.0,884.3 1684.1,882.7 1686.6,875.8 1694.9,845.1 1717.0,757.1 1728.6,714.1 1744.8,660.2 1756.9,625.5 1756.9,719.0 1742.8,756.2 1728.2,799.2 1707.8,863.2 1699.9,886.4 1696.2,896.1 1691.2,904.8 1687.8,908.3 1684.5,910.4 1682.4,910.8 1679.5,910.0 1676.6,907.3 1674.5,904.4 1673.3,901.6 1671.2,894.8 1669.5,886.5 1666.2,863.1 1657.5,784.6 1650.0,726.9 1641.3,674.5 1635.4,647.3 1631.3,632.4 1625.4,616.5 1621.3,608.7 1616.3,601.3 1613.0,597.7 1608.8,594.2 1602.1,590.5 1596.7,589.0 1593.0,588.7 1588.8,589.2 1580.5,592.3 1573.0,597.1 1563.9,605.2 1558.0,611.3 1549.7,622.0 1536.8,641.9 1529.3,655.1 1521.0,671.7 1502.3,715.3 1485.7,759.7 1468.2,811.6 1450.7,866.4 1441.1,892.5 1437.0,901.2 1432.8,906.6 1429.9,908.8 1427.4,910.0 1424.5,910.4 1422.4,910.0 1421.2,909.4 1418.7,906.8 1416.2,903.1 1413.7,895.7 1411.6,884.7 1408.7,864.2 1397.5,765.1 1391.6,722.1 1384.6,679.0 1379.1,652.3 1374.6,634.0 1369.6,618.6 1367.5,613.7 1361.7,603.4 1357.9,598.7 1352.1,593.6 1345.4,590.1 1341.7,589.0 1337.1,588.7 1331.7,589.6 1323.4,593.1 1319.2,595.5 1309.3,604.0 1300.1,614.1 1289.7,628.0 1280.1,643.1 1268.1,665.6 1254.3,696.0 1234.8,746.1 1221.9,782.5 1197.8,856.6 1186.9,887.3 1180.7,900.6 1177.0,905.3 1174.9,907.2 1171.1,909.3 1167.0,910.0 1164.9,909.8 1162.8,908.6 1159.1,904.3 1157.0,899.2 1155.3,893.3 1150.7,861.2 1139.5,763.0 1131.6,706.4 1124.9,668.9 1120.4,647.2 1115.8,629.1 1110.4,613.3 1105.0,602.9 1102.1,599.0 1095.8,593.4 1092.5,591.5 1085.4,589.0 1081.3,588.7 1075.9,589.7 1068.8,592.3 1065.9,593.9 1062.1,596.5 1051.7,605.6 1043.4,615.0 1035.1,626.4 1030.9,632.4 1022.2,646.8 1008.5,673.7 1008.5,567.9Z" fill="#4c72b0" fill-opacity="0.25"/>
<path d="M1008.5,573.0 1020.5,552.1 1027.6,542.3 1031.8,537.3 1038.8,530.3 1045.1,526.0 1050.1,523.5 1057.1,521.8 1061.3,522.0 1067.1,523.4 1070.9,525.1 1077.1,529.9 1081.7,534.7 1086.7,541.1 1092.9,550.7 1097.5,559.0 1110.4,586.8 1123.3,621.3 1132.0,649.2 1139.9,680.9 1144.9,705.2 1150.3,737.4 1157.0,787.0 1165.7,864.5 1167.4,875.1 1169.5,880.4 1171.5,878.5 1174.9,869.8 1181.5,844.6 1204.0,753.0 1215.6,710.2 1230.2,661.8 1246.4,616.5 1251.8,603.3 1261.8,581.3 1271.8,562.7 1280.1,549.4 1289.3,537.3 1294.3,532.4 1303.0,525.8 1308.8,523.1 1315.1,521.8 1318.0,521.9 1322.6,522.8 1328.0,525.0 1335.9,531.0 1343.4,539.8 1348.8,547.9 1352.9,555.1 1361.3,572.1 1370.8,595.9 1382.1,628.6 1387.9,648.1 1393.7,671.0 1400.0,700.7 1403.7,721.7 1410.8,769.6 1422.4,870.6 1424.1,879.9 1425.3,883.2 1426.6,883.3 1428.2,881.0 1432.4,868.4 1446.1,815.6 1463.2,747.2 1475.3,703.2 1488.2,661.1 1503.5,617.6 1510.6,600.2 1518.5,583.1 1526.8,567.1 1534.7,554.0 1543.1,542.0 1548.5,535.7 1554.3,530.2 1562.2,524.9 1567.6,522.9 1572.6,521.8 1576.4,522.0 1580.5,522.9 1585.5,525.1 1589.7,527.8 1593.0,530.5 1597.2,535.0 1605.1,545.7 1612.1,558.1 1620.5,576.3 1631.3,605.7 1639.6,632.1 1645.8,654.6 1652.5,683.3 1657.5,709.1 1665.0,757.1 1670.0,797.1 1676.6,856.5 1679.1,875.1 1681.2,885.1 1682.4,886.0 1683.3,886.0 1684.1,884.8 1687.4,876.2 1694.1,851.9 1715.7,766.5 1731.1,709.1 1744.4,665.4 1756.9,629.1 1756.9,713.7 1746.1,742.2 1732.8,781.1 1705.3,868.4 1697.8,890.2 1692.0,902.3 1688.7,906.4 1686.2,908.5 1684.1,909.2 1681.6,909.6 1678.7,908.3 1676.2,905.4 1673.7,900.9 1671.6,893.7 1670.0,885.4 1667.0,865.3 1654.6,756.9 1648.7,715.4 1644.2,687.8 1639.2,661.7 1635.4,645.6 1630.9,629.7 1626.3,617.1 1620.5,605.5 1614.2,597.1 1609.6,592.6 1603.0,588.1 1598.8,586.5 1595.1,585.9 1590.5,585.8 1585.1,586.7 1578.0,589.5 1572.2,593.3 1566.8,597.5 1559.7,604.4 1553.9,611.1 1545.1,623.4 1537.7,635.7 1524.8,659.9 1515.6,679.0 1504.4,704.9 1486.1,753.0 1473.2,791.8 1447.8,871.9 1441.1,890.5 1437.4,898.8 1432.8,905.2 1430.7,907.1 1428.2,908.6 1424.5,909.2 1422.4,908.8 1419.9,907.1 1417.4,903.7 1415.3,898.8 1412.8,888.2 1409.5,865.7 1400.0,780.8 1392.5,723.9 1387.1,690.5 1382.5,665.5 1378.7,648.1 1375.4,635.2 1370.8,620.8 1366.3,609.8 1361.3,601.1 1356.3,595.1 1352.1,591.5 1345.9,587.6 1341.3,586.3 1337.5,585.8 1334.2,585.8 1329.6,586.6 1322.2,589.6 1314.7,594.4 1310.1,598.1 1298.4,610.5 1292.6,618.4 1284.7,630.7 1270.1,656.9 1259.7,679.0 1247.7,706.8 1232.3,746.7 1213.6,802.7 1192.8,868.6 1184.9,890.4 1180.7,898.7 1176.1,904.9 1171.5,908.1 1166.1,908.7 1163.6,908.0 1159.9,903.6 1157.8,899.0 1155.3,888.7 1151.6,862.2 1139.5,757.9 1134.5,722.0 1129.9,693.2 1124.5,663.8 1119.1,639.3 1114.5,623.5 1109.1,609.2 1105.0,601.2 1100.4,595.5 1095.0,590.7 1089.6,587.5 1083.8,586.0 1078.4,585.8 1070.9,587.5 1065.0,590.1 1058.4,594.5 1052.6,599.4 1043.4,609.5 1034.7,621.1 1027.6,632.5 1018.4,648.7 1008.5,668.9 1008.5,573.0Z" fill="#4c72b0" fill-opacity="0.292"/>
<path d="M1008.5,577.9 1019.3,558.6 1026.8,548.2 1031.8,542.3 1040.1,533.9 1043.8,531.1 1048.8,528.2 1055.5,526.2 1061.3,526.0 1065.5,526.7 1071.7,529.3 1078.4,533.9 1080.8,536.1 1087.1,543.6 1092.9,552.6 1099.2,563.8 1111.2,590.6 1122.0,619.3 1132.0,651.5 1138.3,676.5 1144.9,709.8 1151.6,752.4 1166.1,874.7 1168.2,881.9 1169.9,883.6 1170.7,883.3 1171.5,882.0 1173.2,878.1 1177.0,865.9 1204.4,756.7 1219.0,704.1 1231.9,663.4 1248.9,616.1 1263.1,583.7 1270.1,570.1 1276.8,558.7 1288.0,543.7 1296.8,534.7 1300.9,531.5 1305.5,528.7 1311.7,526.3 1318.4,526.0 1322.2,526.4 1329.2,529.2 1338.0,535.7 1345.0,544.2 1351.7,554.8 1360.0,571.1 1370.4,596.4 1380.0,623.5 1386.6,645.6 1392.0,666.5 1398.3,695.1 1401.2,710.8 1405.8,739.1 1409.9,769.6 1421.6,870.8 1424.1,883.5 1424.9,885.1 1425.7,885.6 1427.0,885.8 1428.2,884.0 1430.7,877.6 1433.6,868.1 1460.3,762.9 1468.2,733.1 1481.1,688.6 1490.2,660.4 1497.7,639.3 1508.1,612.1 1520.2,584.8 1526.4,572.7 1533.9,559.7 1542.2,547.7 1549.7,539.2 1558.0,531.8 1563.5,528.7 1567.2,526.9 1570.1,526.2 1575.9,525.9 1580.5,526.6 1585.5,528.5 1590.5,531.7 1595.5,535.7 1599.6,540.3 1607.6,551.8 1615.0,566.2 1623.4,585.6 1633.3,613.7 1638.8,630.8 1646.2,658.1 1652.1,683.6 1656.6,707.3 1661.2,735.1 1665.4,764.9 1677.4,869.3 1679.9,883.6 1682.0,887.9 1682.9,888.2 1683.7,887.6 1685.4,884.5 1690.3,869.5 1722.8,743.6 1729.0,721.3 1744.0,671.2 1756.9,634.3 1756.9,708.4 1745.7,738.2 1733.2,775.0 1707.8,857.2 1698.3,885.6 1693.7,896.8 1691.2,901.6 1688.7,904.9 1686.6,906.7 1683.7,908.1 1681.2,908.1 1679.9,907.5 1676.6,904.6 1674.1,899.5 1672.5,894.0 1670.4,883.9 1667.5,862.3 1656.2,764.2 1649.6,716.6 1644.2,684.4 1639.6,661.2 1635.4,643.8 1630.9,627.9 1624.6,611.5 1619.6,602.3 1614.6,595.0 1610.1,589.9 1605.9,586.5 1600.9,583.9 1596.7,582.5 1588.8,581.9 1581.3,583.6 1574.3,587.0 1565.5,593.7 1562.2,596.7 1548.5,613.1 1540.6,625.1 1533.5,637.2 1519.8,664.3 1506.9,693.1 1488.2,742.1 1477.7,772.6 1451.1,858.4 1441.1,887.7 1435.7,899.4 1432.0,904.5 1428.2,907.1 1423.7,907.8 1419.9,905.4 1418.3,903.2 1416.6,899.8 1414.5,892.4 1412.8,883.8 1409.9,862.8 1400.0,774.4 1392.9,721.9 1385.4,677.0 1379.6,649.5 1375.4,633.2 1370.4,618.0 1365.8,607.1 1361.3,599.0 1354.6,590.7 1348.8,585.8 1340.5,582.4 1332.1,582.0 1325.9,583.4 1317.2,587.6 1308.8,594.2 1297.2,606.9 1290.1,616.2 1283.9,626.0 1271.0,649.3 1253.1,687.7 1242.7,713.3 1235.2,733.4 1217.3,785.9 1190.3,872.2 1183.6,890.4 1180.3,897.5 1175.7,903.7 1171.5,906.5 1166.1,907.5 1162.4,905.3 1160.3,902.4 1158.6,898.6 1156.6,890.6 1152.4,862.8 1139.5,751.5 1131.6,698.0 1125.4,664.2 1118.7,635.3 1112.9,616.8 1107.9,604.7 1104.6,598.7 1099.2,591.5 1094.2,587.0 1091.2,585.0 1088.3,583.8 1083.3,582.3 1075.4,582.1 1070.0,583.5 1062.1,587.1 1055.9,591.6 1049.2,597.5 1039.7,608.6 1033.8,616.5 1021.8,636.2 1008.5,662.7 1008.5,577.9Z" fill="#4c72b0" fill-opacity="0.412"/>
<path d="M1008.5,584.1 1013.4,574.5 1021.8,560.9 1032.2,547.2 1038.4,540.8 1044.7,536.0 1049.2,533.4 1053.8,531.7 1059.6,530.6 1065.5,531.0 1072.9,533.5 1077.1,536.2 1082.5,541.0 1087.1,546.2 1097.5,562.7 1106.6,581.5 1117.9,609.3 1127.9,639.4 1136.6,672.6 1143.7,707.9 1149.5,744.4 1154.9,785.5 1162.4,852.7 1165.3,875.1 1167.0,883.0 1168.2,885.5 1169.5,886.1 1171.1,885.7 1172.4,883.4 1176.5,871.2 1205.7,758.1 1222.7,698.0 1236.0,656.8 1248.5,623.0 1255.6,605.9 1264.3,587.1 1271.0,574.3 1280.1,559.4 1288.5,548.4 1295.5,541.0 1303.4,535.2 1310.1,532.0 1318.0,530.5 1323.4,531.1 1330.1,533.4 1335.0,536.5 1339.6,540.5 1345.9,548.0 1353.8,560.6 1360.4,574.1 1369.6,595.8 1377.5,617.8 1388.3,654.1 1393.7,676.6 1399.1,703.9 1405.4,742.6 1409.5,773.0 1421.2,873.5 1423.2,884.7 1424.1,886.5 1425.7,888.2 1427.0,888.1 1429.1,885.0 1433.2,872.8 1442.0,840.6 1459.0,772.9 1474.0,718.6 1488.2,672.4 1494.0,655.0 1503.1,630.2 1513.1,605.7 1518.1,594.6 1523.9,582.7 1531.4,569.0 1539.3,556.9 1547.6,546.6 1553.9,540.4 1562.2,534.5 1567.6,532.0 1572.6,530.8 1575.9,530.5 1580.5,531.0 1585.1,532.4 1590.9,535.3 1598.0,541.4 1605.9,551.7 1613.8,565.6 1622.5,585.4 1632.1,611.6 1638.3,631.5 1646.2,660.6 1650.0,676.8 1655.4,704.1 1660.0,732.1 1664.6,764.4 1677.0,871.5 1679.5,885.4 1680.4,887.9 1681.6,889.4 1682.9,890.0 1684.9,887.8 1686.6,884.4 1689.1,877.0 1697.4,847.3 1719.1,762.8 1730.3,722.0 1744.8,674.5 1756.9,639.6 1756.9,703.4 1739.4,751.1 1726.5,791.3 1704.9,862.6 1697.0,886.4 1692.4,897.2 1688.3,903.7 1683.3,906.8 1680.4,906.3 1677.9,904.2 1675.4,900.5 1672.9,892.5 1671.2,883.7 1668.3,863.0 1657.9,772.1 1649.2,709.6 1644.2,680.8 1639.2,656.7 1634.6,638.8 1630.4,624.9 1625.9,612.4 1620.9,602.1 1615.5,593.6 1607.1,584.7 1603.0,582.0 1597.6,579.2 1592.2,577.6 1588.4,577.5 1583.0,578.4 1574.3,582.2 1563.5,590.3 1557.2,596.7 1548.9,606.8 1540.6,619.4 1533.9,630.8 1525.6,646.2 1517.7,662.4 1510.6,678.7 1499.0,707.8 1479.8,761.4 1468.2,797.8 1447.4,866.1 1439.1,890.1 1435.7,897.3 1431.6,903.3 1426.6,906.2 1423.2,906.2 1420.3,903.8 1417.8,900.3 1416.2,895.5 1414.5,888.2 1411.2,865.9 1401.6,781.3 1393.7,721.8 1385.0,671.6 1379.6,646.8 1375.0,630.1 1369.2,613.1 1365.4,604.4 1359.6,594.2 1353.8,587.4 1347.5,582.3 1340.0,578.6 1333.0,577.4 1326.3,578.7 1319.2,581.7 1312.6,585.8 1305.9,591.7 1298.9,599.3 1289.7,611.3 1285.1,618.5 1277.6,630.9 1268.1,649.0 1258.5,669.0 1252.3,683.8 1245.2,701.0 1233.1,733.6 1215.6,785.7 1191.5,864.3 1182.8,889.6 1179.4,896.6 1174.9,902.7 1172.8,904.3 1169.0,905.9 1166.1,905.8 1163.2,903.8 1160.3,900.1 1158.2,893.4 1156.2,882.8 1153.2,861.3 1140.8,753.8 1134.9,713.1 1129.1,679.2 1124.1,654.9 1118.7,633.0 1112.9,614.9 1107.5,602.1 1102.5,593.4 1096.2,586.2 1091.7,582.5 1084.2,578.8 1078.8,577.5 1073.8,577.8 1068.0,579.5 1061.3,582.7 1055.1,587.0 1048.4,593.1 1041.7,600.4 1035.1,609.3 1028.4,619.4 1020.1,633.7 1008.5,656.3 1008.5,584.1Z" fill="#4c72b0" fill-opacity="0.5"/>
<path d="M1008.5,591.1 1017.6,574.3 1022.2,566.9 1031.8,554.3 1038.0,547.6 1044.7,542.0 1049.2,539.1 1056.7,535.7 1060.5,535.0 1066.7,535.2 1070.4,536.0 1076.7,539.2 1083.3,544.9 1089.6,552.3 1098.3,566.3 1102.9,575.2 1110.0,591.0 1119.1,614.6 1127.4,640.4 1136.6,676.5 1142.8,708.3 1149.1,748.3 1164.1,873.0 1166.1,884.2 1167.4,887.3 1169.0,889.1 1170.7,888.6 1172.8,885.8 1177.4,872.4 1203.2,773.2 1219.4,715.1 1229.0,684.5 1237.3,659.8 1251.4,622.5 1264.7,592.8 1276.0,572.5 1281.8,563.6 1288.5,554.9 1295.9,546.9 1304.3,540.3 1310.5,537.0 1313.8,535.8 1319.7,534.9 1323.8,535.1 1328.0,536.1 1332.1,537.9 1336.3,540.8 1340.0,544.3 1347.9,553.7 1355.4,566.0 1362.5,580.4 1371.2,601.9 1378.7,623.5 1384.1,641.3 1389.5,662.0 1394.1,682.3 1399.1,708.1 1407.4,763.5 1420.3,873.4 1422.8,886.2 1424.5,889.9 1425.3,890.3 1427.0,890.2 1428.7,888.6 1432.8,878.2 1440.3,851.2 1463.2,763.3 1476.1,717.1 1493.1,664.1 1505.6,630.2 1511.9,615.0 1521.0,594.9 1526.8,583.6 1537.2,566.4 1543.5,557.5 1550.1,549.8 1554.3,545.8 1562.2,539.9 1571.4,535.7 1575.9,534.9 1580.9,535.1 1587.2,536.8 1591.3,539.0 1599.2,546.1 1606.7,555.7 1617.1,574.7 1625.4,594.6 1632.5,614.4 1637.5,630.5 1644.6,656.4 1650.4,682.0 1655.4,708.3 1660.4,739.2 1663.7,763.2 1676.6,873.2 1679.1,886.8 1681.2,891.2 1682.0,891.7 1683.7,891.2 1685.4,889.4 1687.0,886.2 1690.3,876.6 1695.8,857.7 1722.8,754.8 1733.6,716.5 1744.4,681.8 1756.9,646.2 1756.9,697.6 1743.2,735.8 1733.6,764.4 1702.4,866.7 1695.8,886.5 1691.2,897.2 1687.0,903.1 1683.7,905.2 1682.0,905.3 1679.9,904.5 1677.0,901.2 1675.0,896.8 1673.3,890.6 1671.2,879.3 1668.3,857.3 1657.1,759.6 1652.5,726.7 1647.1,692.9 1639.2,654.4 1635.0,638.1 1630.4,623.2 1624.6,607.8 1619.2,596.8 1613.0,587.5 1609.6,583.7 1605.1,579.5 1600.5,576.4 1596.3,574.6 1591.7,573.3 1588.4,573.0 1580.1,574.3 1571.4,578.6 1565.1,583.2 1557.6,590.6 1549.7,600.2 1543.1,609.4 1531.0,629.6 1516.4,658.9 1500.6,697.4 1484.4,742.6 1469.4,789.1 1448.2,859.6 1438.6,888.1 1435.3,895.7 1432.0,900.9 1427.8,904.2 1424.5,904.8 1422.0,903.7 1419.1,900.0 1417.0,894.8 1414.9,885.7 1411.2,858.9 1401.2,771.4 1393.7,716.4 1389.5,691.3 1384.1,663.7 1380.4,647.5 1375.4,629.3 1370.0,613.4 1364.6,600.7 1359.2,591.1 1352.9,583.3 1348.4,579.2 1344.6,576.7 1338.0,573.9 1332.1,573.0 1323.4,574.4 1315.1,578.6 1307.6,584.4 1300.1,592.0 1290.5,604.0 1283.9,614.0 1276.0,627.2 1263.1,652.7 1253.1,675.3 1244.8,696.2 1229.0,740.0 1216.5,778.3 1196.1,845.6 1183.6,884.2 1179.9,893.5 1177.0,898.4 1172.8,902.7 1169.9,904.1 1167.4,904.4 1164.5,903.2 1161.6,899.4 1159.9,895.7 1157.4,884.4 1153.7,856.8 1145.7,786.2 1140.3,743.6 1134.9,706.9 1129.9,678.5 1124.9,654.6 1120.0,634.8 1113.3,614.2 1107.1,599.4 1101.6,589.8 1097.5,584.3 1091.2,578.7 1087.1,576.1 1081.3,573.9 1076.3,573.0 1067.5,574.3 1063.8,575.9 1058.0,579.2 1050.5,585.2 1042.6,593.5 1035.1,602.9 1028.0,613.4 1019.3,628.1 1008.5,649.2 1008.5,591.1Z" fill="#4c72b0" fill-opacity="0.5"/>
<g transform="scale(0.5)" fill="none" stroke="#4c72b0" stroke-width="2" stroke-opacity="0.08">
<path d="M2017 1207l25 -42 12 -17 13 -15 12 -12 12 -10 12 -7 12 -4 12 -2 11 1 11 4 11 6 11 9 11 12 10 14 10 17 16 36 16 45 15 53 13 60 13 68 12 78 29 247 6 32 4 8 3 2 4 -2 4 -6 10 -25 14 -45 44 -165 26 -87 32 -96 32 -81 16 -38 16 -32 16 -28 16 -25 15 -20 16 -17 15 -12 15 -8 9 -3 9 -2 9 1 8 1 8 3 9 5 16 13 15 20 15 26 15 32 13 37 11 37 10 39 18 91 9 56 9 66 26 222 7 33 3 8 3 2 4 -1 5 -7 10 -27 14 -46 42 -156 24 -82 30 -92 29 -78 30 -68 15 -29 15 -24 14 -22 14 -18 14 -15 14 -12 10 -7 9 -4 10 -3 9 -1 10 1 9 2 9 5 8 5 17 17 16 24 15 29 15 37 12 36 12 44 10 47 10 52 10 61 10 66 25 222 6 30 4 10 3 4 4 -1 4 -5 5 -10 7 -19 13 -45 43 -159 25 -82 29 -90 29 -78"/>
<path d="M2017 1255l27 -48 25 -37 13 -14 12 -12 13 -9 11 -6 12 -4 12 -1 11 2 11 5 11 7 11 11 10 12 10 16 16 34 15 41 15 49 13 58 12 68 11 73 30 257 3 19 5 15 3 7 4 3 4 -2 5 -7 13 -30 16 -49 49 -165 25 -81 33 -91 32 -77 16 -36 16 -30 16 -27 16 -24 15 -20 15 -15 15 -11 14 -8 17 -4 8 1 9 1 16 8 15 14 15 18 14 25 13 30 12 36 10 34 10 37 16 84 18 120 25 219 7 38 4 8 4 4 2 -1 3 -1 5 -7 5 -12 8 -20 15 -47 47 -160 25 -78 30 -86 30 -75 30 -64 15 -28 14 -23 14 -20 15 -18 14 -14 13 -10 18 -10 10 -2 9 -1 9 1 8 3 8 4 9 6 16 16 15 23 14 28 14 36 11 35 10 38 10 45 9 48 17 119 26 225 7 35 3 9 4 5 3 1 2 -1 5 -7 7 -13 7 -20 80 -262 26 -77 26 -69"/>
<path d="M2017 1281l27 -53 27 -41 13 -17 13 -13 12 -11 13 -8 12 -6 12 -2 12 0 10 3 11 6 11 9 11 12 10 15 16 31 16 41 15 51 14 58 12 68 11 74 30 260 3 19 4 16 4 9 5 2 5 -3 5 -7 12 -30 17 -51 50 -164 26 -82 34 -92 31 -76 17 -34 16 -30 15 -27 16 -23 15 -18 15 -15 15 -12 14 -7 17 -3 16 2 16 8 15 13 14 18 14 26 12 29 13 36 9 31 9 38 16 81 17 115 25 229 4 19 4 17 3 8 4 4 5 -2 5 -6 7 -14 7 -19 16 -48 49 -162 25 -77 31 -87 30 -74 30 -63 15 -27 14 -23 14 -20 14 -17 15 -14 13 -10 18 -9 9 -2 9 0 8 1 8 2 9 5 8 6 16 16 15 23 14 29 13 35 10 33 10 38 9 42 9 49 10 59 8 62 25 223 7 35 3 9 4 6 3 1 2 -1 6 -7 7 -13 8 -21 15 -46 62 -204 24 -69 23 -64"/>
<path d="M2017 1314l28 -55 28 -43 14 -18 13 -15 13 -12 13 -9 12 -6 13 -4 12 0 12 2 12 5 10 8 11 10 10 13 18 31 16 41 15 48 14 56 12 67 11 73 28 248 7 30 3 7 4 3 5 -3 5 -6 13 -28 16 -46 50 -158 28 -80 33 -87 33 -73 16 -33 17 -30 16 -25 16 -21 15 -19 15 -14 15 -10 14 -7 17 -3 16 3 16 7 15 13 14 18 13 23 13 28 12 35 9 31 9 36 16 80 16 109 24 216 7 32 3 8 4 4 5 -2 5 -6 14 -30 15 -46 50 -153 24 -73 32 -84 31 -72 30 -59 15 -26 15 -23 15 -20 14 -16 14 -13 13 -9 19 -8 9 -2 9 0 8 1 9 2 8 5 8 6 15 15 15 22 14 29 14 34 10 32 10 38 9 41 8 45 8 52 9 63 23 210 7 34 3 8 3 4 3 1 2 -1 6 -7 7 -12 8 -21 76 -232 22 -63 23 -59"/>
<path d="M2017 1344l29 -55 28 -44 14 -18 14 -14 13 -13 13 -9 12 -7 13 -4 12 -1 12 1 11 5 11 6 11 10 11 13 17 28 17 38 15 46 13 53 13 63 10 68 30 241 6 29 4 8 5 3 5 -3 5 -6 13 -28 17 -46 50 -149 28 -75 33 -82 32 -70 17 -31 17 -29 16 -23 15 -21 16 -17 15 -14 15 -9 14 -6 17 -3 16 2 15 8 15 12 14 18 13 22 13 27 11 32 18 62 16 76 15 105 24 200 6 33 4 10 5 4 5 -1 5 -6 7 -12 8 -18 16 -45 50 -147 26 -71 32 -79 30 -68 30 -56 15 -24 15 -22 14 -17 15 -15 14 -12 13 -9 18 -7 9 -2 9 0 8 1 8 3 16 10 15 15 15 22 14 27 13 32 10 31 9 33 9 40 8 42 16 104 24 206 7 32 3 8 4 5 2 1 3 -1 6 -5 7 -13 8 -20 16 -43 59 -172 42 -109"/>
<path d="M2017 1261l27 -49 13 -20 13 -19 13 -14 12 -12 13 -10 12 -7 13 -4 11 -2 12 2 11 4 11 7 10 10 10 12 10 15 17 33 16 41 15 51 13 57 13 67 11 77 30 254 3 19 5 15 3 7 4 3 4 -2 5 -7 13 -30 15 -48 47 -160 27 -84 32 -92 32 -77 16 -36 16 -30 16 -27 16 -23 16 -20 15 -15 15 -11 15 -8 16 -4 9 1 8 2 16 7 16 14 14 19 14 24 13 30 13 36 10 34 9 36 16 83 18 117 26 223 3 20 4 17 3 7 5 4 5 -2 5 -8 12 -30 15 -48 46 -155 25 -79 30 -86 30 -76 30 -64 15 -27 14 -24 15 -21 14 -17 14 -14 13 -11 19 -9 9 -2 9 -1 9 2 8 2 9 4 8 6 16 16 16 24 14 28 14 37 11 34 10 38 10 44 9 48 9 56 9 67 25 217 7 35 3 10 4 5 3 1 2 -1 5 -6 7 -14 8 -20 77 -256 25 -75 25 -68"/>
<path d="M2017 1184l25 -48 12 -20 12 -16 12 -14 11 -10 12 -9 12 -5 11 -2 11 1 11 3 11 7 11 10 10 12 9 16 10 17 15 36 16 48 15 56 14 62 13 74 12 83 35 285 9 40 4 10 4 4 2 -1 3 -2 5 -8 12 -35 15 -56 46 -185 25 -93 31 -104 30 -86 16 -40 15 -33 15 -30 15 -26 15 -22 15 -18 14 -12 14 -9 8 -2 8 -2 9 0 8 2 8 4 8 5 15 14 15 21 14 27 14 34 13 40 20 77 19 93 20 133 31 260 5 24 4 16 4 10 4 4 2 -1 3 -2 5 -8 6 -14 7 -24 15 -56 44 -179 23 -85 28 -96 28 -85 29 -71 14 -31 14 -27 14 -24 13 -19 14 -16 13 -12 9 -6 9 -5 10 -2 8 -1 9 1 8 3 9 4 8 7 17 18 15 26 15 33 15 39 11 40 11 43 11 50 10 54 20 133 31 254 7 40 4 12 4 6 3 1 2 -1 6 -8 7 -16 7 -24 77 -301 25 -88 25 -79"/>
<path d="M2017 1304l28 -53 28 -41 13 -17 13 -14 13 -11 12 -8 13 -6 11 -2 12 -1 12 3 10 5 11 8 11 12 10 13 17 31 16 40 14 47 13 57 12 64 10 75 28 249 7 32 4 9 4 2 5 -2 5 -6 13 -30 17 -47 52 -161 28 -79 33 -86 32 -73 17 -33 17 -30 16 -25 15 -22 16 -18 15 -14 15 -11 14 -7 17 -3 8 1 9 2 15 7 15 13 14 18 13 24 12 29 12 33 18 66 15 77 15 113 24 216 6 35 4 10 5 3 5 -1 5 -6 6 -13 8 -18 16 -47 51 -156 26 -75 32 -83 30 -71 31 -61 29 -47 15 -20 14 -16 15 -13 13 -10 18 -8 9 -2 9 0 8 1 8 3 9 4 8 6 15 16 15 23 14 29 13 33 10 32 9 39 17 85 16 112 23 217 7 34 3 8 4 5 2 1 3 -1 5 -6 8 -14 8 -20 15 -43 64 -195 24 -67 23 -58"/>
<path d="M2017 1211l25 -45 12 -18 13 -16 12 -14 12 -10 12 -8 11 -5 12 -2 11 0 11 3 10 6 11 9 10 11 10 14 10 17 17 37 15 44 14 52 13 61 13 70 11 80 31 264 8 36 3 8 4 3 4 -2 5 -7 13 -32 15 -50 47 -174 26 -87 32 -96 31 -83 16 -37 16 -32 16 -29 15 -25 16 -21 15 -16 15 -13 14 -7 17 -4 8 0 9 2 15 7 16 15 15 20 14 26 14 31 13 39 10 36 9 38 18 89 18 126 27 239 8 36 3 7 4 4 3 -1 2 -2 5 -7 13 -33 15 -51 45 -164 24 -83 30 -93 29 -79 29 -67 15 -30 14 -25 14 -21 14 -19 15 -16 13 -11 18 -10 9 -3 10 0 9 0 8 3 9 5 8 6 16 17 16 24 15 31 14 38 11 36 11 42 10 46 9 50 10 63 9 67 27 233 7 40 4 9 4 5 2 0 3 -2 5 -6 6 -13 7 -22 81 -286 27 -87 27 -75"/>
<path d="M2017 1253l27 -50 25 -38 13 -15 12 -13 13 -9 11 -7 12 -4 12 -1 11 1 11 4 11 7 11 10 10 13 10 15 16 34 16 43 14 49 14 58 12 68 12 79 31 263 3 19 4 16 3 7 5 3 5 -2 5 -8 12 -30 16 -51 48 -166 27 -85 32 -94 32 -78 16 -35 15 -31 16 -27 16 -24 16 -20 15 -16 15 -11 14 -8 17 -3 8 0 8 2 16 8 15 13 14 19 14 25 14 31 12 37 10 34 9 38 17 85 17 121 26 225 8 38 3 8 4 5 3 0 2 -2 5 -6 6 -12 7 -20 16 -50 48 -164 25 -80 30 -88 30 -77 29 -63 15 -28 14 -24 14 -21 14 -17 14 -15 14 -10 18 -10 9 -2 9 0 9 1 9 3 8 4 8 6 16 17 15 23 14 30 14 37 11 36 10 39 18 91 10 57 9 68 26 226 6 35 4 10 4 5 2 1 3 -1 6 -7 6 -14 8 -20 78 -263 25 -76 25 -70"/>
<path d="M2017 1217l26 -48 12 -19 13 -17 12 -14 12 -11 11 -9 12 -5 12 -3 11 0 10 2 11 6 11 9 10 11 10 14 9 16 16 35 15 45 14 53 13 62 12 67 12 82 31 277 8 36 4 9 4 3 5 -2 5 -7 6 -13 7 -21 17 -56 50 -180 26 -87 32 -98 31 -81 16 -36 16 -33 15 -29 15 -24 15 -20 15 -17 15 -12 14 -8 9 -3 8 -1 8 1 8 1 8 4 8 5 15 14 14 19 14 27 13 32 13 38 10 37 9 39 17 89 17 124 28 245 7 38 4 11 4 4 3 0 2 -1 6 -8 7 -15 7 -22 16 -53 48 -174 24 -82 31 -95 29 -79 30 -67 14 -28 14 -25 14 -22 14 -18 13 -15 14 -11 9 -6 9 -4 9 -2 9 -1 8 1 8 3 8 4 9 7 16 17 15 24 14 30 14 39 11 37 10 41 10 47 9 51 9 60 9 70 28 244 7 39 3 9 5 5 2 0 3 -1 5 -7 7 -14 8 -24 15 -47 66 -238 26 -82 25 -72"/>
<path d="M2017 1147l24 -39 12 -15 11 -13 12 -10 12 -7 11 -5 11 -2 11 0 11 3 11 6 10 8 10 12 10 13 10 17 9 18 17 40 15 46 15 57 13 61 14 74 12 83 33 263 6 33 4 8 4 4 4 -3 4 -7 10 -29 13 -48 42 -176 25 -95 30 -102 30 -86 16 -40 15 -35 16 -32 15 -25 16 -23 15 -18 15 -13 15 -9 9 -4 8 -1 10 0 8 2 8 3 9 5 16 14 16 22 16 28 14 33 14 41 11 37 11 44 20 99 20 130 29 240 7 34 3 9 4 5 4 -2 4 -7 11 -31 13 -48 40 -170 23 -86 28 -98 28 -85 29 -71 14 -31 14 -27 14 -24 14 -21 14 -16 14 -13 10 -7 9 -5 10 -3 9 -1 9 0 9 3 10 4 8 6 9 8 8 10 17 25 16 32 16 41 12 40 12 44 11 51 11 56 11 65 10 70 30 245 7 33 3 9 3 4 4 -1 5 -7 10 -30 13 -48 42 -176 26 -99 31 -103 30 -86"/>
<path d="M2017 1206l24 -44 13 -19 11 -15 12 -13 11 -10 12 -7 11 -5 12 -2 10 1 11 3 11 7 11 9 10 12 10 14 9 17 16 34 16 45 14 50 14 61 13 69 14 83 35 270 9 37 4 10 2 3 3 1 5 -4 5 -8 12 -34 15 -53 45 -174 25 -90 30 -96 30 -83 16 -38 15 -32 15 -28 15 -25 15 -21 14 -15 15 -13 14 -8 8 -3 9 -1 8 0 8 2 16 9 15 13 15 21 14 25 14 33 14 38 20 74 18 87 20 124 32 247 9 39 4 9 4 4 2 0 3 -1 5 -7 6 -14 7 -22 15 -53 45 -174 23 -82 28 -92 28 -80 29 -68 14 -29 13 -24 13 -21 14 -18 13 -15 13 -12 9 -6 10 -4 9 -2 8 -1 9 1 9 3 8 4 8 6 17 18 16 25 15 31 14 37 11 38 11 40 11 48 10 50 11 63 10 66 31 242 8 36 4 11 4 6 3 0 2 -1 6 -7 7 -15 7 -23 77 -288 25 -84 24 -73"/>
<path d="M2017 1358l29 -57 28 -46 14 -19 14 -16 13 -14 13 -11 14 -8 12 -5 13 -2 11 1 12 3 12 6 10 9 11 12 18 28 16 36 15 44 15 55 12 61 12 73 29 241 3 18 4 16 4 8 5 2 5 -2 5 -6 6 -12 8 -18 16 -45 52 -151 27 -76 34 -82 32 -70 17 -31 16 -27 15 -24 16 -20 16 -18 15 -13 15 -10 14 -6 16 -2 16 2 15 8 15 12 14 18 13 23 13 28 11 32 18 63 15 73 16 105 24 204 6 32 4 9 5 4 5 -1 5 -7 7 -12 8 -17 16 -46 51 -149 26 -71 31 -79 31 -68 31 -57 15 -24 14 -21 14 -17 14 -15 15 -12 13 -9 17 -6 9 -2 9 0 8 2 8 3 16 9 15 16 14 21 15 27 12 32 10 31 9 34 9 40 9 43 15 105 24 199 6 34 4 10 4 6 2 1 3 0 7 -6 7 -14 8 -19 16 -43 58 -168 38 -101"/>
<path d="M2017 1246l27 -50 13 -21 12 -17 13 -15 12 -12 13 -10 11 -6 12 -4 12 -1 11 2 11 4 11 8 11 10 10 13 10 16 16 34 16 43 15 52 14 59 12 67 12 77 31 263 8 36 4 9 4 2 4 -2 5 -7 13 -31 15 -49 48 -171 26 -85 31 -93 32 -80 16 -35 16 -32 15 -28 16 -24 15 -19 15 -16 15 -12 14 -7 17 -4 8 0 9 2 15 8 16 14 15 20 14 26 14 31 12 37 10 34 9 38 18 88 17 118 28 232 7 35 3 8 5 4 2 0 3 -2 5 -7 12 -31 15 -49 47 -165 24 -80 30 -90 29 -76 29 -65 15 -29 14 -24 14 -21 14 -18 15 -15 13 -11 18 -9 9 -3 10 0 9 1 8 3 8 4 9 6 15 17 16 24 14 30 15 37 10 35 11 41 10 46 9 48 19 123 26 227 8 39 3 9 4 5 3 0 2 -1 5 -6 7 -14 7 -21 78 -267 25 -78 24 -68"/>
<path d="M2017 1362l30 -59 28 -47 14 -20 14 -16 13 -14 13 -11 13 -8 12 -5 13 -2 11 0 12 3 11 6 11 10 10 12 10 13 8 15 16 36 15 45 13 53 12 63 11 70 30 251 8 33 4 8 5 3 5 -2 6 -7 6 -12 9 -19 18 -49 53 -156 27 -72 33 -83 33 -70 16 -31 16 -27 16 -25 16 -20 15 -17 15 -13 14 -10 14 -6 16 -3 16 3 15 7 14 13 13 17 13 23 12 26 12 33 10 34 9 38 16 88 13 89 18 163 7 48 6 29 5 8 4 3 2 0 4 -2 5 -7 7 -12 8 -19 16 -42 50 -146 30 -83 32 -79 31 -68 30 -58 15 -24 14 -21 15 -17 14 -15 13 -12 13 -8 18 -7 16 -1 16 4 16 10 14 15 14 21 14 26 12 33 9 28 9 35 17 80 16 105 25 214 7 36 4 8 4 6 2 0 4 0 6 -7 8 -14 9 -21 17 -47 58 -167 35 -93"/>
<path d="M2017 1166l24 -43 12 -17 11 -14 12 -12 11 -8 11 -6 11 -4 11 0 11 2 11 5 10 7 10 11 10 13 9 15 9 19 15 37 15 47 13 52 14 63 12 72 12 80 35 291 4 23 4 16 4 9 4 2 5 -3 5 -8 6 -14 8 -23 15 -55 47 -187 25 -92 31 -102 31 -87 15 -39 15 -34 15 -29 15 -26 15 -22 15 -18 14 -12 15 -9 8 -3 8 -1 8 0 9 2 8 3 8 5 15 14 15 21 14 27 13 33 13 40 19 75 19 94 10 63 10 74 31 259 4 24 4 17 4 10 4 3 3 0 2 -2 6 -9 13 -38 15 -55 46 -181 23 -86 29 -98 29 -83 28 -71 28 -56 14 -23 13 -19 13 -16 14 -13 9 -6 9 -5 9 -3 9 0 9 1 9 2 8 5 8 6 16 18 16 26 15 33 14 39 11 37 11 43 10 47 10 54 10 63 10 72 30 261 8 39 4 12 4 6 3 0 2 -1 6 -8 7 -15 7 -23 14 -48 43 -172 25 -94 27 -93 27 -81"/>
<path d="M2017 1271l27 -46 25 -35 13 -14 12 -12 13 -9 12 -6 13 -4 11 -1 12 1 11 4 11 7 10 9 11 13 10 14 18 33 16 40 15 49 13 55 12 65 12 74 29 238 7 31 3 8 4 3 4 -2 5 -7 12 -27 14 -43 48 -155 26 -81 33 -89 31 -74 17 -34 16 -29 16 -25 15 -23 16 -19 15 -14 15 -11 15 -8 18 -3 16 2 16 7 16 13 15 18 14 24 13 29 13 33 10 32 9 35 17 82 18 113 26 214 6 31 4 7 4 4 4 -2 5 -7 12 -27 14 -43 46 -150 24 -74 30 -83 30 -73 30 -62 15 -27 14 -23 15 -20 14 -17 14 -14 14 -10 19 -10 9 -2 10 0 9 1 8 2 9 4 8 6 16 15 16 23 15 28 14 35 11 33 11 39 10 43 9 46 9 54 9 65 24 202 7 34 3 9 4 4 4 0 5 -5 6 -11 7 -19 78 -250 27 -76 26 -66"/>
<path d="M2017 1186l25 -42 12 -18 13 -15 12 -12 12 -9 12 -7 11 -4 12 -1 12 1 10 4 11 7 11 10 10 11 10 15 10 18 17 37 15 46 15 55 14 60 13 74 12 79 30 261 7 31 3 6 4 2 4 -3 4 -7 10 -28 13 -47 43 -164 26 -95 32 -99 31 -84 16 -37 15 -33 16 -30 16 -25 16 -22 16 -18 15 -12 15 -9 9 -3 8 -1 9 0 9 2 8 3 8 4 17 15 16 21 15 27 14 33 13 38 11 38 10 40 19 96 18 125 27 230 7 34 3 8 3 3 4 -2 5 -6 10 -29 14 -48 41 -160 25 -87 29 -94 29 -81 29 -69 15 -31 14 -25 14 -23 14 -19 14 -16 15 -12 10 -7 9 -4 10 -3 9 -1 9 0 9 3 9 4 9 6 16 17 17 25 16 31 15 39 11 37 12 44 11 49 10 52 10 61 10 73 26 230 7 34 3 9 4 3 4 -1 4 -7 11 -29 13 -47 43 -164 24 -86 30 -96 29 -81"/>
<path d="M2017 1307l27 -51 28 -42 13 -16 13 -14 13 -11 12 -8 13 -6 12 -2 11 0 12 2 11 6 10 8 11 11 10 14 17 30 16 39 14 46 13 55 13 65 10 71 30 249 3 18 4 16 4 8 4 3 5 -2 5 -7 14 -29 16 -48 52 -160 27 -76 33 -87 31 -71 17 -33 16 -29 16 -25 16 -22 15 -18 15 -14 15 -11 14 -7 17 -3 16 3 15 7 15 12 14 18 13 23 13 28 12 34 9 31 10 36 15 80 16 107 25 217 7 32 4 10 4 4 5 -2 6 -7 7 -13 7 -18 17 -48 49 -152 26 -75 31 -83 30 -70 30 -59 15 -26 14 -21 14 -19 15 -16 14 -13 13 -9 18 -9 10 -1 8 -1 8 2 8 2 16 10 15 15 15 22 14 28 14 34 10 31 10 37 17 85 17 112 25 217 6 33 4 8 4 5 2 1 3 -1 6 -6 7 -15 9 -20 77 -235 22 -63 23 -58"/>
<path d="M2017 1287l27 -53 27 -42 13 -17 13 -13 12 -11 13 -9 12 -5 12 -3 12 1 11 3 11 6 11 8 11 12 10 14 17 32 16 40 15 48 14 59 13 69 12 74 32 257 7 33 3 7 5 4 5 -3 5 -7 12 -29 16 -49 48 -162 27 -83 32 -90 32 -77 16 -33 15 -30 16 -26 16 -23 15 -19 15 -15 15 -11 14 -7 17 -3 16 2 15 8 15 13 15 18 14 25 13 30 12 35 10 33 10 37 16 81 18 115 26 221 8 36 3 8 4 4 3 1 2 -2 5 -6 6 -12 8 -19 15 -49 48 -159 25 -78 30 -85 30 -75 29 -61 15 -27 14 -23 14 -20 14 -17 14 -13 14 -10 18 -9 9 -2 8 0 9 1 8 3 8 4 9 6 16 17 15 23 14 28 14 36 11 35 10 37 18 88 9 55 9 64 27 221 7 33 3 10 4 5 3 1 2 -1 6 -7 7 -14 7 -19 14 -44 61 -202 22 -68 23 -62"/>
<path d="M2017 1315l27 -59 28 -48 13 -20 13 -16 13 -13 12 -11 13 -7 12 -4 11 -2 12 2 11 5 11 7 11 11 10 14 18 31 15 40 15 49 15 59 13 70 11 75 27 222 7 48 4 22 4 15 4 9 5 4 5 -2 6 -8 7 -14 8 -21 18 -54 52 -174 26 -80 32 -91 31 -75 16 -33 16 -31 15 -25 15 -22 15 -19 14 -14 14 -10 14 -7 16 -3 8 1 8 2 15 8 14 14 14 19 13 25 13 30 11 35 18 66 16 80 17 117 27 228 9 41 4 11 5 5 2 1 4 -2 6 -7 7 -15 8 -22 15 -46 49 -163 29 -89 31 -88 29 -73 29 -61 14 -26 14 -23 14 -20 14 -16 13 -13 13 -9 18 -8 8 -2 8 0 9 2 7 3 16 11 15 17 14 22 13 28 14 36 10 33 10 39 17 86 18 116 28 234 7 38 5 11 4 6 2 1 4 -1 6 -7 8 -15 9 -24 16 -51 57 -188 36 -108"/>
<path d="M2017 1257l27 -43 13 -18 12 -15 13 -12 12 -10 13 -8 12 -5 13 -3 11 0 12 3 11 5 11 7 10 11 10 12 10 15 17 32 16 40 15 50 13 55 13 66 10 70 28 233 6 27 3 7 3 2 4 -1 4 -6 11 -24 13 -40 46 -150 27 -83 33 -87 32 -75 17 -34 16 -29 16 -27 16 -22 16 -19 16 -15 16 -12 14 -7 18 -4 9 0 8 2 17 7 17 13 15 18 15 25 13 28 13 35 10 32 10 38 18 84 16 110 24 202 6 29 3 9 3 3 4 -1 4 -6 11 -24 14 -41 45 -147 25 -75 29 -83 30 -71 30 -61 15 -27 15 -23 15 -21 14 -17 15 -14 15 -11 19 -10 10 -2 9 -1 9 1 9 2 9 4 9 5 16 16 17 22 15 28 14 34 12 34 11 39 9 42 10 50 10 56 8 59 23 202 6 30 3 6 3 4 4 0 4 -4 5 -10 7 -17 13 -40 44 -144 24 -71 29 -81 29 -71"/>
<path d="M2017 1174l25 -44 12 -18 12 -14 12 -13 12 -9 12 -7 11 -3 12 -2 11 2 11 4 11 7 10 11 10 12 10 15 10 19 17 38 16 48 15 57 13 62 13 75 12 80 31 262 6 34 4 9 4 4 4 -2 4 -6 11 -30 13 -49 44 -175 26 -95 32 -103 31 -85 16 -39 15 -34 16 -30 15 -25 16 -22 15 -17 15 -13 15 -9 9 -3 8 -1 9 0 9 2 8 3 8 5 16 15 16 21 15 28 14 34 13 39 11 38 10 41 19 98 20 132 27 235 7 34 3 9 4 4 4 -2 4 -7 12 -32 13 -49 42 -166 23 -86 29 -98 29 -82 29 -71 15 -32 14 -26 14 -23 14 -20 14 -17 14 -12 10 -7 9 -4 9 -3 9 -2 9 1 10 2 9 5 8 6 17 17 16 25 16 32 15 40 13 40 11 45 11 50 10 53 10 62 10 73 28 242 7 34 3 8 4 4 4 -1 4 -6 5 -12 7 -20 13 -49 43 -172 23 -86 30 -96 28 -82"/>
<path d="M2017 1299l27 -51 27 -39 13 -17 14 -13 12 -10 13 -8 12 -5 12 -3 11 1 12 3 11 5 11 9 10 12 10 13 18 32 16 39 15 49 13 55 13 64 11 75 29 241 4 18 4 15 3 7 4 3 5 -2 5 -7 13 -28 16 -46 49 -158 27 -79 33 -86 31 -72 17 -34 16 -28 15 -26 16 -22 16 -18 15 -14 15 -11 14 -7 17 -3 8 1 8 1 16 8 15 13 14 18 14 24 13 28 12 34 19 65 16 81 17 110 25 210 7 36 4 8 4 4 5 -1 5 -7 6 -11 7 -18 16 -47 48 -153 25 -74 31 -82 30 -71 30 -60 15 -26 14 -22 14 -19 14 -16 15 -13 13 -10 18 -8 9 -2 9 -1 9 1 8 3 8 4 9 6 16 16 15 22 14 27 13 33 11 34 10 37 9 39 9 47 9 55 9 60 25 210 6 33 4 9 4 5 2 0 3 -1 6 -7 6 -13 8 -19 76 -237 24 -66 23 -61"/>
<path d="M2017 1240l26 -48 25 -36 12 -15 13 -12 12 -9 12 -6 11 -3 12 -1 12 2 11 5 10 8 11 11 10 13 10 16 17 34 16 42 15 52 14 61 13 71 12 75 32 260 8 33 3 7 4 3 4 -2 5 -8 12 -29 15 -49 46 -168 26 -86 32 -94 31 -79 15 -35 16 -32 16 -28 15 -24 16 -20 15 -16 15 -12 14 -7 17 -4 8 0 8 2 16 8 16 14 15 19 14 25 13 30 14 38 10 34 10 39 18 90 18 120 28 225 7 36 3 8 5 5 2 0 3 -2 5 -7 12 -32 15 -49 45 -162 24 -81 29 -88 29 -78 30 -65 14 -27 14 -24 14 -22 14 -18 14 -15 14 -10 18 -10 9 -2 9 -1 9 1 9 3 9 5 8 6 16 16 16 24 15 31 14 37 11 34 11 40 9 44 10 52 10 60 10 64 27 225 7 34 3 10 4 6 3 1 2 -1 5 -6 7 -14 7 -21 77 -269 25 -78 25 -71"/>
<path d="M2017 1294l27 -48 15 -22 13 -17 13 -15 13 -12 13 -10 12 -7 13 -5 12 -2 11 1 12 3 11 7 11 8 11 12 10 14 18 31 15 39 15 47 14 55 12 63 12 76 27 231 7 31 3 7 4 2 5 -2 4 -6 11 -26 15 -41 48 -152 27 -80 33 -84 32 -73 17 -33 16 -28 16 -26 16 -22 16 -18 16 -15 15 -10 15 -7 16 -4 17 2 16 7 16 13 15 18 14 23 13 28 12 34 10 32 10 35 16 79 17 110 24 207 7 30 3 7 3 2 4 -2 5 -6 12 -26 15 -44 46 -144 25 -73 31 -82 30 -72 30 -59 15 -26 15 -22 15 -20 14 -16 15 -13 14 -11 19 -8 9 -2 9 -1 9 1 9 3 16 9 16 15 16 22 15 28 13 33 11 32 11 39 10 43 9 47 17 109 23 202 6 30 3 9 3 4 5 1 5 -6 5 -10 8 -18 78 -240 26 -71 25 -63"/>
<path d="M2017 1273l27 -53 13 -23 13 -20 13 -17 13 -14 12 -11 13 -8 12 -6 12 -2 12 0 11 4 11 6 11 9 11 13 10 14 17 34 16 41 15 50 14 60 14 70 11 76 33 265 7 34 4 8 4 2 5 -3 5 -7 13 -31 15 -49 48 -168 26 -83 32 -93 31 -79 16 -35 16 -31 16 -27 15 -24 15 -19 15 -15 15 -12 14 -7 17 -3 8 0 9 2 16 9 15 13 14 19 14 26 13 31 13 36 10 35 9 37 16 83 18 116 27 229 8 37 4 10 4 3 5 -1 5 -7 6 -13 7 -20 16 -51 47 -163 24 -78 30 -89 29 -75 29 -64 15 -28 14 -24 14 -20 15 -18 14 -14 13 -10 9 -5 9 -4 10 -2 8 0 8 1 8 3 9 4 8 6 16 17 15 23 14 29 14 37 11 35 10 38 10 45 9 47 18 120 28 230 7 37 4 9 4 5 2 0 3 -1 6 -7 6 -14 8 -21 74 -253 22 -70 23 -64"/>
<path d="M2017 1281l27 -45 27 -35 13 -13 13 -11 12 -8 13 -6 12 -4 12 -1 12 1 11 5 12 6 11 10 10 12 10 14 18 32 16 38 15 48 13 54 13 64 10 70 27 227 6 26 3 6 3 2 4 -2 4 -5 11 -24 59 -183 27 -80 33 -84 32 -72 17 -33 16 -29 17 -26 17 -22 16 -18 15 -15 16 -11 15 -7 18 -4 17 2 17 7 16 12 15 17 15 24 13 28 13 34 10 32 9 33 18 83 8 50 8 59 23 197 6 28 3 7 3 2 4 -2 5 -6 10 -24 57 -176 26 -75 31 -81 30 -69 30 -61 15 -25 15 -23 15 -20 15 -17 14 -13 15 -10 19 -10 10 -2 9 -1 9 1 9 2 9 4 9 5 17 16 16 21 15 27 14 33 12 34 10 38 10 42 10 46 9 55 8 60 22 191 6 29 2 7 3 4 5 -1 4 -5 11 -25 14 -39 43 -136 23 -69 29 -76 28 -67"/>
<path d="M2017 1187l25 -44 12 -19 12 -14 12 -13 11 -9 12 -7 12 -5 11 -2 11 2 11 3 11 7 11 10 10 12 9 16 10 16 16 39 15 45 14 53 14 62 12 71 12 79 32 275 8 36 3 8 4 3 4 -2 5 -7 12 -31 15 -53 47 -179 25 -92 31 -98 31 -84 16 -38 16 -34 15 -30 15 -24 16 -22 15 -17 15 -13 14 -8 9 -3 9 -2 8 1 8 2 16 8 16 14 15 21 15 28 13 32 14 39 10 36 10 41 18 95 18 125 29 244 7 38 3 9 5 4 2 0 2 -2 5 -7 13 -34 14 -51 45 -173 23 -83 29 -95 30 -82 29 -70 14 -29 14 -26 14 -23 14 -20 14 -16 14 -11 9 -6 9 -5 9 -3 9 -1 10 1 8 3 9 4 8 7 17 18 16 25 15 31 14 38 12 39 10 43 10 46 10 53 10 63 9 66 30 250 6 35 4 9 4 6 2 0 3 -1 5 -7 6 -14 6 -19 81 -301 27 -90 28 -80"/>
<path d="M2017 1217l25 -47 12 -19 13 -17 12 -14 12 -11 12 -8 11 -5 12 -3 11 0 11 3 11 6 11 8 10 11 10 14 10 17 17 35 15 44 15 53 15 62 13 70 12 81 34 267 8 34 4 9 4 3 4 -3 5 -7 12 -31 15 -52 46 -174 25 -88 31 -96 30 -83 16 -37 15 -32 16 -29 15 -24 15 -21 15 -16 15 -13 14 -7 17 -4 8 0 8 2 16 8 16 14 15 20 14 26 14 32 13 39 10 34 10 39 19 90 19 122 30 239 7 37 4 10 5 4 2 0 3 -2 5 -7 12 -33 14 -50 45 -170 23 -83 30 -93 28 -78 28 -67 14 -28 14 -26 15 -22 13 -18 14 -15 13 -11 10 -6 9 -4 9 -3 9 0 9 1 8 3 9 4 8 6 17 18 16 25 15 31 14 37 11 37 11 41 10 44 10 51 10 59 10 68 30 239 8 37 3 10 4 5 3 1 2 -2 5 -6 6 -13 7 -22 14 -46 40 -152 23 -84 25 -83 25 -73"/>
<path d="M2017 1199l25 -51 12 -22 13 -19 12 -16 12 -13 12 -10 12 -7 12 -4 11 0 11 2 11 5 11 9 10 11 10 15 10 18 16 38 15 46 15 55 13 63 12 73 13 89 33 294 4 25 4 17 5 9 4 4 5 -3 5 -8 6 -13 7 -23 16 -57 49 -192 26 -94 31 -104 31 -87 16 -39 15 -33 16 -31 15 -26 15 -21 15 -18 14 -12 14 -8 8 -3 9 -1 8 0 8 2 9 4 7 5 15 16 14 21 14 28 14 35 12 40 19 79 17 91 18 132 29 261 5 26 4 18 4 11 4 4 2 -1 3 -1 6 -9 6 -14 7 -23 16 -57 48 -189 23 -85 30 -97 29 -85 29 -73 14 -30 14 -27 14 -23 14 -19 13 -15 13 -12 9 -6 10 -4 9 -3 8 0 9 1 8 3 9 5 8 7 16 19 15 26 14 32 14 42 11 38 10 43 10 49 9 52 10 67 9 71 29 255 7 43 4 13 4 6 3 1 3 -2 6 -8 7 -16 8 -25 14 -52 63 -244 25 -84 23 -74"/>
<path d="M2017 1208l25 -47 12 -20 13 -17 12 -15 12 -11 12 -9 12 -5 12 -3 11 0 11 3 11 6 11 8 11 12 10 14 10 17 17 38 16 45 15 54 14 63 13 72 13 82 33 267 8 35 3 8 4 4 4 -2 5 -8 12 -31 14 -51 45 -175 26 -92 31 -99 30 -82 15 -38 16 -34 16 -30 15 -24 15 -21 15 -17 15 -12 14 -8 9 -3 8 -1 9 0 8 2 16 8 16 15 15 20 14 26 14 33 13 38 11 38 10 40 18 91 20 125 30 243 7 36 3 8 4 4 5 -1 5 -7 5 -14 7 -20 14 -51 44 -168 23 -85 29 -95 28 -80 29 -70 15 -29 14 -26 14 -22 13 -18 14 -16 14 -12 9 -6 9 -4 9 -2 9 -1 9 1 9 2 9 5 8 6 17 18 16 25 15 31 15 40 11 38 11 42 11 49 10 52 10 60 10 70 29 238 7 34 3 10 4 6 3 1 2 -2 5 -6 6 -14 7 -19 12 -45 40 -156 24 -89 26 -86 25 -75"/>
<path d="M2017 1137l24 -42 12 -17 11 -14 12 -12 11 -8 11 -6 11 -3 11 0 11 2 11 6 10 8 10 11 10 13 10 17 9 19 16 43 15 48 15 57 13 64 12 73 13 86 34 288 7 39 5 10 4 4 4 -2 5 -9 12 -34 14 -55 45 -190 25 -98 30 -108 30 -89 16 -41 15 -35 15 -31 15 -27 15 -23 15 -18 15 -14 14 -9 9 -4 9 -1 8 0 8 1 9 4 8 5 16 16 15 21 15 29 14 36 13 41 11 40 10 42 19 101 20 138 30 256 8 41 4 12 4 4 4 -1 5 -7 6 -14 6 -22 15 -55 44 -187 22 -89 28 -101 29 -88 28 -74 14 -32 14 -28 14 -25 14 -19 13 -17 13 -13 10 -6 9 -5 9 -3 9 -2 9 1 9 3 9 4 8 7 17 18 16 27 15 33 15 42 12 40 12 47 10 51 11 59 11 70 10 74 30 256 7 40 4 10 4 6 2 1 3 -2 5 -7 6 -15 6 -21 15 -56 44 -187 22 -88 28 -101 28 -85"/>
<path d="M2017 1255l27 -50 13 -22 13 -18 13 -16 12 -12 13 -10 12 -8 13 -4 11 -1 12 1 11 4 11 7 10 10 11 13 10 15 17 33 16 42 15 52 13 58 12 67 12 78 31 263 3 19 4 15 4 7 4 2 4 -2 5 -7 12 -29 15 -48 47 -165 27 -86 32 -94 32 -79 16 -36 16 -31 16 -27 16 -24 16 -20 15 -16 14 -11 15 -8 16 -3 9 0 8 2 16 7 16 14 15 20 14 25 13 31 12 36 10 34 10 37 17 89 18 120 25 226 7 33 3 8 4 4 3 0 2 -2 5 -7 13 -31 15 -48 46 -159 25 -81 30 -88 30 -77 30 -66 15 -28 14 -24 14 -20 14 -18 14 -14 13 -11 19 -9 9 -3 9 0 9 1 8 2 10 5 8 6 16 17 16 24 14 29 14 37 11 35 10 42 10 46 10 49 17 120 26 225 7 35 3 8 3 5 3 0 2 -1 5 -6 7 -14 7 -20 77 -260 25 -76 25 -70"/>
<path d="M2017 1275l27 -46 13 -20 13 -17 13 -14 12 -11 13 -10 12 -6 13 -4 11 -1 12 1 11 4 11 7 10 9 11 13 10 15 17 31 16 41 15 49 13 56 12 65 11 70 29 242 7 30 3 8 4 3 5 -2 5 -6 11 -27 15 -44 49 -159 27 -80 32 -87 32 -73 17 -34 15 -29 16 -26 16 -22 16 -19 15 -14 15 -11 15 -8 16 -3 17 2 16 7 16 13 15 18 14 24 13 29 13 34 10 32 9 35 17 85 17 110 25 211 7 32 3 8 4 4 4 -1 5 -7 13 -28 15 -45 46 -150 25 -76 31 -84 30 -72 30 -61 15 -26 14 -22 15 -21 14 -16 14 -14 14 -9 18 -9 9 -3 9 0 9 1 9 2 9 4 8 6 16 16 16 22 15 29 13 33 11 33 11 40 9 39 9 47 9 55 8 58 25 212 7 33 3 9 4 4 2 1 3 -1 5 -6 6 -11 7 -19 79 -249 26 -73 25 -64"/>
<path d="M2017 1180l24 -43 13 -19 11 -15 12 -13 11 -9 12 -8 12 -4 11 -2 11 2 11 4 11 7 11 10 10 12 10 15 9 17 16 39 16 47 15 57 14 61 12 69 13 83 33 272 7 38 4 10 5 4 4 -2 5 -8 11 -31 15 -52 45 -182 26 -95 31 -101 30 -84 16 -39 15 -33 15 -31 15 -25 15 -21 15 -17 15 -13 15 -8 9 -3 8 -2 8 1 9 2 15 8 16 15 15 20 14 27 15 33 13 39 11 39 10 40 18 93 10 61 10 71 30 247 7 37 5 10 4 4 4 -2 5 -8 6 -14 6 -21 14 -52 44 -172 23 -87 28 -95 29 -83 28 -70 14 -30 14 -27 14 -23 14 -19 14 -17 13 -12 10 -7 9 -4 9 -3 10 -1 9 1 8 3 9 5 8 6 17 18 16 25 15 32 15 40 12 39 10 42 11 49 10 52 11 67 10 71 29 241 8 40 3 9 4 6 3 1 2 -1 5 -7 6 -14 7 -20 12 -46 42 -166 25 -94 26 -90 27 -80"/>
<path d="M2017 1172l24 -43 13 -19 11 -14 12 -13 11 -9 12 -7 12 -5 11 -1 11 2 11 4 10 7 11 11 10 13 10 16 9 17 16 38 15 47 14 55 13 63 13 73 11 81 33 279 7 37 4 10 5 3 4 -2 5 -8 12 -34 15 -55 46 -180 26 -94 31 -101 30 -86 16 -39 16 -35 16 -31 15 -25 15 -22 15 -17 15 -14 14 -8 8 -3 8 -2 9 0 8 2 8 3 8 5 16 14 15 21 15 28 13 33 13 40 10 36 10 42 19 95 19 133 29 253 7 38 5 10 4 3 2 0 3 -2 5 -9 12 -35 14 -52 45 -177 24 -86 29 -97 28 -82 29 -72 14 -30 14 -27 14 -24 14 -19 14 -16 13 -13 9 -6 10 -5 9 -3 9 -1 9 1 8 2 9 5 9 6 16 19 16 25 15 32 14 39 12 39 11 44 10 47 10 54 10 63 10 74 29 253 7 39 4 9 4 5 2 0 3 -1 5 -8 6 -14 7 -23 15 -54 43 -171 23 -83 27 -93 28 -81"/>
<path d="M2017 1294l27 -51 28 -41 13 -17 13 -14 14 -11 12 -9 13 -5 12 -3 12 0 12 3 11 6 11 9 11 11 10 14 17 33 16 40 14 47 14 57 12 68 11 76 26 242 7 33 3 7 5 4 4 -2 5 -6 12 -28 16 -46 51 -160 27 -81 34 -87 32 -75 17 -33 16 -30 16 -26 16 -22 16 -18 15 -15 15 -11 15 -7 16 -3 9 0 8 2 16 8 15 12 14 18 14 25 12 28 13 35 9 32 9 37 16 81 16 111 23 216 7 33 3 8 4 4 4 -2 5 -6 6 -11 8 -19 16 -46 48 -153 26 -76 31 -85 30 -70 31 -62 15 -26 15 -23 15 -21 14 -16 14 -13 14 -10 18 -9 9 -2 9 0 9 1 9 3 8 4 8 6 16 16 15 22 14 29 14 34 10 32 9 38 10 42 8 45 8 53 9 63 23 216 7 34 3 8 3 3 3 1 2 -1 5 -6 7 -14 7 -18 79 -242 24 -68 24 -63"/>
<path d="M2017 1298l27 -52 27 -41 13 -17 14 -15 12 -10 13 -9 12 -6 12 -2 11 0 12 2 12 6 10 8 11 12 10 14 18 32 16 40 15 49 13 56 12 67 11 72 30 253 7 30 4 9 4 3 5 -3 5 -7 13 -30 16 -47 50 -160 27 -79 33 -89 32 -74 16 -34 16 -29 16 -25 16 -23 16 -19 15 -14 14 -11 15 -7 16 -3 16 2 16 8 15 13 14 18 14 25 13 28 12 36 9 31 9 37 16 79 17 114 25 216 3 19 4 16 4 8 4 4 5 -2 5 -6 6 -14 8 -18 16 -47 48 -155 26 -77 31 -84 30 -71 30 -61 14 -27 15 -23 15 -19 14 -16 14 -14 13 -9 19 -9 9 -1 8 -1 8 2 9 2 8 5 8 6 15 15 15 22 14 29 14 34 10 31 10 38 9 41 9 47 9 57 8 62 25 211 6 35 4 10 4 6 2 1 3 -1 6 -6 6 -13 9 -20 14 -45 63 -197 22 -65 23 -60"/>
<path d="M2017 1146l24 -40 12 -16 11 -13 12 -10 11 -8 11 -5 11 -3 11 1 11 2 11 6 10 8 11 11 10 14 9 17 10 18 15 38 16 49 15 57 14 62 13 75 12 83 34 271 7 35 3 8 5 3 4 -3 4 -7 11 -32 13 -51 43 -177 24 -96 31 -106 30 -87 16 -40 15 -34 16 -31 15 -26 15 -22 15 -18 15 -14 15 -9 9 -3 8 -2 9 0 9 2 8 4 8 5 16 14 16 22 15 28 14 33 14 42 11 38 11 44 20 101 20 133 29 240 7 38 4 9 4 5 4 -2 5 -8 11 -31 13 -52 42 -174 22 -87 28 -99 29 -85 28 -72 14 -31 14 -28 15 -24 13 -19 14 -17 13 -13 10 -7 9 -5 10 -3 9 -1 9 1 9 2 9 5 8 6 10 8 8 10 17 26 15 33 15 40 13 41 12 45 10 49 11 57 11 66 10 70 30 247 7 35 3 10 4 6 4 0 5 -7 11 -30 13 -51 44 -181 24 -93 30 -103 29 -86"/>
<path d="M2017 1208l25 -45 12 -20 13 -16 12 -14 12 -10 12 -9 12 -5 12 -3 11 1 11 3 11 6 11 9 10 11 10 14 10 17 16 36 16 44 15 54 14 62 14 73 11 77 33 265 7 36 4 8 4 3 4 -1 5 -8 12 -31 14 -50 45 -171 25 -90 31 -97 31 -83 16 -38 16 -33 15 -30 15 -24 16 -21 15 -17 15 -12 14 -8 9 -3 9 -2 8 1 8 1 16 8 16 14 15 20 15 27 14 33 13 38 11 38 10 40 19 92 19 128 27 228 8 38 3 9 4 4 4 -1 5 -7 6 -13 7 -20 14 -50 44 -167 23 -83 29 -93 30 -81 29 -69 14 -28 14 -26 14 -22 13 -18 15 -15 13 -12 9 -6 9 -4 9 -3 10 -1 9 1 8 3 9 4 8 6 17 17 16 24 15 31 15 39 12 37 10 42 11 48 10 52 10 61 10 70 28 235 7 34 3 10 5 5 2 0 3 -1 5 -7 5 -14 7 -20 77 -286 27 -87 26 -75"/>
<path d="M2017 1305l27 -47 28 -38 13 -15 13 -13 14 -10 12 -7 13 -5 12 -2 12 0 12 3 11 6 11 9 11 11 10 13 17 31 17 39 15 48 13 54 13 64 10 71 26 222 6 28 3 8 5 3 4 -1 4 -5 12 -25 15 -42 48 -147 27 -77 34 -84 32 -70 17 -32 16 -29 17 -25 16 -21 16 -18 15 -14 15 -10 15 -7 18 -3 16 2 16 7 16 12 15 18 14 23 13 28 13 33 9 29 9 35 17 79 16 105 22 197 7 32 3 8 3 2 5 -1 5 -6 11 -25 15 -42 46 -140 26 -73 31 -79 30 -69 31 -59 15 -25 15 -22 15 -19 15 -17 14 -13 14 -9 20 -9 9 -2 9 0 9 1 8 2 17 9 16 15 16 21 15 28 13 32 11 32 10 38 10 40 9 46 8 50 8 60 23 197 6 28 2 7 4 4 4 0 5 -5 6 -10 7 -18 78 -232 26 -69 26 -62"/>
<path d="M2017 1307l27 -52 28 -42 13 -16 13 -14 14 -12 12 -8 13 -6 12 -3 12 -1 12 3 11 5 11 8 11 11 11 14 17 30 17 40 15 47 14 57 12 64 12 75 29 243 7 30 3 6 4 3 4 -2 5 -6 13 -28 15 -44 48 -153 28 -81 32 -85 32 -74 17 -33 16 -29 17 -26 15 -22 16 -18 15 -14 15 -11 15 -7 17 -3 16 3 16 7 15 13 14 17 14 24 14 29 12 34 19 66 16 80 17 111 24 207 7 33 3 8 4 4 3 0 2 -1 5 -7 13 -28 15 -44 47 -150 25 -74 31 -82 31 -73 30 -59 14 -26 15 -23 15 -20 15 -16 14 -13 13 -9 18 -8 10 -2 8 -1 9 1 8 3 17 10 16 15 15 21 15 29 13 33 11 33 11 40 9 40 9 47 17 110 24 207 6 34 4 8 3 5 3 0 2 -1 5 -5 7 -13 7 -19 75 -231 23 -67 23 -58"/>
<path d="M2017 1364l29 -58 28 -46 14 -20 15 -16 13 -14 13 -11 14 -8 12 -5 13 -2 11 1 12 3 11 6 11 9 11 12 9 13 9 16 17 37 15 44 14 53 13 61 11 71 30 239 8 33 4 8 4 3 5 -2 5 -6 7 -12 7 -18 17 -45 51 -152 27 -73 33 -82 32 -68 17 -31 15 -27 16 -24 16 -21 15 -16 15 -14 15 -9 14 -6 16 -3 16 2 15 7 15 13 14 17 13 22 13 27 11 31 18 61 16 75 15 100 26 210 8 33 3 7 4 3 5 -1 6 -6 7 -12 7 -17 17 -46 50 -149 25 -69 32 -79 31 -68 30 -56 15 -24 14 -20 14 -18 14 -14 14 -12 14 -9 17 -7 9 -1 9 0 8 2 8 3 16 10 15 15 14 21 14 25 13 33 10 31 9 33 17 81 17 107 24 198 7 33 3 9 4 6 3 2 3 -1 6 -6 8 -13 8 -19 16 -43 56 -166 37 -98"/>
<path d="M2017 1089l22 -38 12 -15 11 -12 11 -9 10 -6 11 -4 10 -1 10 2 10 5 10 7 10 11 10 13 9 16 19 39 15 43 14 49 13 57 13 67 14 79 12 88 37 302 8 43 4 11 3 4 2 2 3 -1 2 -2 5 -9 6 -15 7 -24 15 -63 45 -205 23 -99 30 -113 29 -94 15 -42 15 -38 15 -33 14 -27 15 -25 14 -18 14 -15 15 -9 8 -4 8 -2 8 0 9 2 8 4 8 5 15 16 15 22 15 30 15 37 14 45 11 41 9 44 20 101 10 69 11 79 34 283 9 43 4 12 2 3 3 2 2 -1 3 -2 5 -9 6 -15 7 -27 14 -60 44 -198 21 -92 28 -106 27 -92 28 -78 13 -33 13 -29 14 -25 13 -22 13 -18 13 -13 10 -8 9 -5 9 -3 8 -2 9 1 9 3 9 5 8 6 8 9 9 11 16 27 15 36 15 43 12 41 12 49 11 52 10 59 12 74 11 79 33 278 5 30 4 18 4 12 5 5 2 0 3 -2 5 -8 5 -15 8 -26 15 -63 44 -202 23 -99 29 -107 28 -93"/>
<path d="M2017 1297l28 -59 28 -46 13 -19 13 -16 14 -13 12 -10 13 -7 12 -4 12 0 11 2 12 5 11 8 11 12 10 14 17 33 16 41 15 52 13 59 13 70 10 77 30 265 3 20 4 17 4 9 4 3 5 -3 5 -6 7 -14 8 -19 16 -51 52 -171 26 -82 34 -93 32 -78 17 -35 16 -31 15 -26 16 -24 15 -18 15 -15 15 -11 14 -7 17 -3 16 2 15 8 15 14 14 20 13 25 13 30 11 35 18 68 16 84 16 121 24 226 8 39 4 11 4 4 5 -2 6 -7 7 -14 7 -20 17 -51 51 -168 24 -77 32 -89 30 -74 30 -64 15 -27 14 -23 14 -20 14 -17 15 -14 13 -10 9 -5 9 -3 9 -2 9 0 8 1 8 3 16 11 15 16 15 24 13 29 14 37 10 34 10 40 17 92 17 121 24 225 7 37 3 10 4 6 3 1 2 -1 7 -7 7 -15 9 -22 15 -49 60 -197 42 -122"/>
<path d="M2017 1223l26 -49 12 -19 13 -18 12 -14 12 -11 12 -10 12 -6 12 -3 11 0 11 2 11 5 11 9 10 11 10 14 10 16 17 37 15 42 15 54 13 59 14 73 11 78 33 270 7 36 4 9 5 3 4 -2 5 -7 12 -32 15 -51 48 -175 25 -89 32 -97 31 -82 16 -37 15 -32 16 -30 15 -23 16 -22 15 -16 15 -12 14 -8 8 -2 9 -1 8 0 8 2 16 8 16 15 15 21 14 26 13 32 13 37 10 35 10 41 17 90 19 124 27 232 8 39 4 11 4 5 2 0 3 -2 5 -7 6 -13 7 -21 15 -52 46 -169 24 -83 29 -91 29 -80 30 -68 14 -28 14 -25 14 -22 13 -18 14 -15 14 -11 9 -6 9 -4 9 -3 9 0 10 1 8 2 8 5 8 6 16 17 16 24 15 32 14 38 11 35 11 42 10 46 10 53 10 62 9 67 27 232 8 40 3 9 4 6 3 1 2 -1 5 -6 7 -14 8 -22 13 -45 41 -151 23 -83 25 -81 25 -73"/>
<path d="M2017 1210l25 -41 12 -18 13 -15 12 -12 12 -9 12 -7 12 -5 12 -1 11 1 10 3 11 6 11 10 10 11 10 14 10 17 17 36 15 45 15 51 13 59 12 69 12 78 30 252 7 31 3 7 3 3 4 -2 5 -6 11 -29 14 -48 45 -163 27 -89 32 -94 31 -81 16 -35 16 -32 16 -28 15 -25 16 -20 15 -16 15 -12 15 -9 9 -3 9 -1 8 0 8 1 9 3 8 5 16 13 15 19 15 26 14 32 13 37 11 36 10 40 18 91 9 57 10 67 25 222 7 32 3 8 4 4 4 -2 5 -6 11 -30 15 -48 43 -157 24 -81 30 -91 29 -77 29 -66 15 -29 14 -25 14 -21 15 -19 14 -15 14 -12 10 -6 9 -4 9 -3 9 -1 10 0 9 3 9 4 8 6 17 16 16 23 15 29 15 38 11 37 12 43 10 44 10 52 10 62 9 66 26 222 6 34 4 9 3 4 4 0 5 -6 12 -30 14 -47 44 -160 23 -78 30 -89 28 -76"/>
<path d="M2017 1302l27 -52 27 -41 13 -17 13 -13 13 -12 13 -8 12 -6 12 -3 11 0 12 3 12 6 10 8 11 12 10 13 18 32 16 39 15 48 13 53 13 68 12 74 31 248 3 18 4 15 4 8 4 2 5 -3 5 -7 13 -29 16 -47 48 -155 27 -80 32 -88 32 -74 15 -32 16 -29 16 -26 16 -23 16 -19 15 -14 15 -11 14 -7 16 -3 9 0 8 2 16 8 15 13 14 18 14 25 13 27 12 35 18 65 17 81 18 114 25 212 8 35 3 8 4 4 5 -1 5 -6 7 -13 7 -19 16 -47 48 -153 25 -76 30 -84 30 -72 30 -59 14 -26 15 -22 14 -19 14 -17 14 -13 13 -10 19 -8 9 -2 8 0 8 1 9 3 8 4 8 6 16 16 15 22 14 28 14 34 11 33 9 37 10 40 9 46 17 112 27 219 7 32 3 9 4 5 3 0 2 -1 6 -7 7 -13 8 -21 74 -234 22 -65 23 -60"/>
<path d="M2017 1166l24 -39 12 -15 11 -12 12 -11 12 -7 11 -5 11 -3 11 1 11 2 11 6 10 8 10 10 10 13 10 16 9 17 17 40 15 44 15 55 13 60 13 68 12 80 34 264 6 31 4 8 4 4 4 -2 4 -7 11 -30 13 -49 43 -170 25 -91 30 -101 30 -84 16 -38 16 -34 16 -31 15 -25 15 -21 15 -17 15 -13 15 -9 9 -3 8 -2 9 0 9 2 8 3 8 5 16 14 16 20 15 26 14 32 14 40 11 36 11 42 20 97 10 59 10 69 29 234 7 37 4 7 4 4 4 -2 4 -7 11 -30 13 -49 42 -167 22 -83 29 -94 28 -82 28 -70 14 -29 15 -27 14 -23 14 -20 14 -16 13 -12 10 -7 9 -5 10 -3 10 -1 9 1 9 2 9 5 8 6 17 16 17 25 15 32 15 38 13 39 12 43 10 47 11 54 11 64 10 68 30 240 7 33 3 9 4 5 4 -2 4 -6 11 -29 14 -49 43 -172 24 -89 30 -99 30 -84"/>
<path d="M2017 1094l22 -31 12 -12 11 -9 11 -6 10 -4 11 -2 11 1 11 3 10 6 10 8 10 11 10 14 9 15 18 38 15 41 15 50 14 57 14 65 12 72 13 85 31 261 7 34 3 9 4 4 4 -1 4 -7 10 -30 12 -51 41 -180 25 -100 30 -107 29 -88 16 -42 15 -35 16 -33 15 -27 16 -25 15 -18 15 -14 15 -10 9 -4 8 -2 9 0 8 1 10 3 8 5 17 15 15 21 16 29 15 34 15 44 12 40 11 44 10 51 10 53 11 67 10 71 30 248 7 35 3 9 4 4 5 -2 4 -7 10 -31 50 -221 23 -92 27 -100 28 -87 28 -76 14 -32 14 -28 14 -25 14 -22 14 -18 13 -14 10 -8 10 -6 10 -3 9 -2 10 0 9 2 9 4 9 6 9 8 8 10 18 26 17 34 15 41 13 40 12 47 12 52 12 60 11 70 11 76 30 249 7 35 3 10 4 4 4 -2 5 -7 11 -37 57 -246 35 -135 29 -96 30 -82"/>
<path d="M2017 1251l26 -46 13 -21 13 -16 12 -15 12 -12 13 -9 12 -6 11 -3 12 -1 12 1 10 5 11 7 11 10 10 13 10 15 17 34 15 42 15 51 14 57 12 67 12 76 31 255 3 19 4 15 3 7 5 3 4 -2 5 -6 12 -31 15 -48 48 -163 26 -85 32 -90 32 -79 15 -34 16 -31 16 -27 16 -24 16 -20 15 -15 15 -11 14 -8 16 -3 9 0 8 2 16 7 16 14 15 19 14 25 13 30 12 35 10 34 10 36 17 85 9 57 9 65 26 219 8 37 3 8 4 4 3 0 2 -2 5 -7 13 -30 15 -48 46 -160 24 -78 30 -87 29 -74 30 -65 15 -28 14 -24 15 -20 14 -18 14 -14 13 -10 19 -9 9 -3 9 0 9 1 8 2 9 4 8 6 16 16 16 24 14 28 14 36 11 34 11 41 9 44 10 47 9 56 9 64 27 226 6 33 4 10 4 5 2 0 3 -1 5 -6 6 -14 8 -21 77 -260 26 -78 26 -70"/>
<path d="M2017 1240l27 -50 13 -20 12 -17 13 -15 12 -12 13 -9 11 -6 12 -4 12 -1 11 2 11 5 11 7 11 11 10 13 10 16 16 34 16 43 15 53 14 58 12 69 12 78 30 262 4 19 4 16 3 7 4 3 5 -2 5 -7 11 -29 15 -49 48 -168 26 -88 32 -93 32 -81 16 -37 16 -31 16 -28 16 -24 15 -21 15 -15 15 -12 14 -7 17 -4 8 0 9 2 16 8 15 14 15 20 15 26 13 30 12 36 10 35 10 41 18 89 17 120 26 225 8 38 3 8 4 4 2 0 3 -2 5 -7 12 -32 15 -49 45 -160 25 -83 30 -89 29 -77 30 -67 15 -28 14 -25 15 -21 14 -18 14 -14 13 -11 19 -10 9 -2 9 -1 9 1 8 3 9 4 8 6 16 16 16 24 15 30 14 37 11 35 10 42 10 45 9 49 10 56 9 67 26 231 7 35 3 10 5 5 2 0 3 -1 5 -7 5 -12 8 -21 78 -270 26 -80 25 -70"/>
<path d="M2017 1120l23 -41 12 -16 12 -14 11 -11 11 -8 11 -5 11 -2 10 0 11 3 11 6 10 9 10 11 10 14 10 18 9 19 16 41 15 49 15 61 13 65 14 78 12 87 34 287 8 39 4 10 4 4 4 -3 5 -8 11 -33 14 -57 44 -193 25 -101 30 -107 30 -92 16 -42 15 -36 15 -32 15 -27 15 -23 15 -19 15 -14 14 -9 9 -4 8 -1 9 0 8 2 8 3 9 5 15 16 15 22 15 29 15 35 14 44 10 40 11 46 19 101 11 70 10 74 30 256 8 41 4 12 4 5 4 -2 5 -8 6 -15 7 -22 14 -57 41 -183 24 -95 28 -103 27 -88 29 -76 14 -32 13 -27 14 -26 14 -20 13 -17 13 -13 10 -8 9 -5 10 -3 9 -1 9 0 8 3 9 5 9 6 16 18 17 28 16 34 15 42 11 40 12 47 11 51 11 59 10 68 11 79 31 263 8 41 4 12 4 4 4 -1 5 -7 6 -16 7 -22 13 -54 43 -189 23 -95 30 -106 28 -89"/>
<path d="M2017 1256l27 -52 13 -23 13 -19 13 -17 13 -13 12 -11 12 -7 12 -5 11 -1 12 1 11 4 11 7 10 10 10 12 10 16 16 35 15 43 14 52 13 58 12 73 11 78 24 225 6 47 8 36 4 9 4 3 5 -2 6 -9 6 -14 8 -21 17 -52 50 -174 28 -88 32 -93 32 -79 16 -37 16 -31 16 -28 15 -23 15 -20 15 -15 15 -12 14 -8 8 -2 9 -1 8 0 8 2 15 8 15 14 14 20 13 25 12 30 13 38 17 70 16 85 17 120 27 246 7 37 4 10 4 4 5 -2 6 -8 7 -14 7 -20 14 -45 50 -168 28 -91 31 -90 30 -78 30 -66 14 -28 15 -24 14 -21 14 -18 13 -14 14 -10 17 -9 9 -3 9 0 8 1 8 2 8 5 9 6 15 17 15 24 14 30 13 37 10 35 10 40 18 92 9 61 8 65 26 239 7 40 4 9 4 5 2 1 4 -2 6 -7 7 -16 8 -23 15 -47 64 -217 25 -75 23 -66"/>
<path d="M2017 1258l26 -49 26 -39 12 -16 12 -12 13 -10 12 -7 11 -4 12 -2 12 2 10 4 11 7 11 10 10 12 10 16 17 34 15 40 15 51 13 58 13 71 12 76 32 263 4 22 5 15 4 8 4 2 5 -3 5 -7 13 -33 16 -51 49 -170 26 -84 32 -92 30 -77 16 -35 16 -31 16 -28 15 -23 15 -19 15 -16 15 -11 14 -7 16 -4 16 2 16 8 15 14 14 19 14 26 14 31 12 36 10 34 9 38 17 83 17 116 29 233 7 37 4 10 4 4 3 0 2 -1 6 -8 7 -14 7 -20 16 -51 48 -165 24 -79 30 -88 29 -76 29 -64 14 -27 14 -24 14 -20 15 -18 13 -14 13 -10 9 -6 10 -3 9 -2 8 -1 8 1 9 3 8 4 8 6 16 17 15 23 14 29 14 38 11 35 10 38 10 45 9 48 19 120 27 228 8 39 4 12 4 5 2 0 3 -1 6 -6 6 -14 9 -23 14 -45 63 -217 23 -73 23 -64"/>
<path d="M2017 1191l25 -44 12 -19 13 -15 12 -13 12 -10 12 -7 11 -4 12 -2 11 1 11 4 10 6 11 10 10 12 10 14 10 18 17 38 15 44 15 56 13 60 13 75 12 79 32 266 6 33 4 8 4 4 4 -2 4 -7 12 -30 14 -51 45 -173 26 -91 31 -100 31 -84 16 -38 16 -33 15 -30 16 -26 16 -21 15 -17 15 -13 14 -7 9 -4 9 -1 8 0 8 2 9 3 8 5 16 15 15 20 15 27 14 34 13 39 11 38 10 41 18 95 19 125 27 235 7 34 3 10 4 4 4 -1 5 -7 12 -31 14 -50 44 -170 24 -83 29 -94 29 -82 29 -70 14 -29 14 -26 14 -22 14 -20 15 -15 13 -12 10 -7 9 -4 9 -3 9 -1 10 1 9 3 9 4 8 6 17 18 16 24 15 31 15 40 11 38 11 42 11 49 10 54 10 62 9 66 28 242 7 34 3 9 4 4 4 0 5 -7 6 -13 6 -19 14 -51 44 -166 22 -81 28 -92 28 -79"/>
<path d="M2017 1266l26 -43 13 -19 13 -15 12 -13 12 -11 13 -8 12 -6 12 -3 12 0 11 2 11 5 11 7 11 10 10 12 10 15 16 32 16 40 15 49 14 55 12 63 12 74 30 237 6 29 4 6 4 3 4 -2 4 -6 12 -27 14 -43 47 -155 27 -80 32 -86 31 -74 17 -34 16 -29 15 -26 16 -22 16 -19 15 -14 15 -11 15 -8 17 -3 17 2 16 7 16 13 15 18 14 23 13 28 13 35 10 32 10 37 18 83 17 111 26 209 7 30 3 8 4 3 4 -2 5 -6 12 -27 14 -43 46 -150 24 -74 30 -83 29 -70 30 -62 15 -26 14 -23 14 -19 15 -17 14 -14 14 -11 19 -9 9 -3 9 0 10 1 8 2 9 4 8 5 16 15 16 22 15 28 14 33 12 35 11 38 9 42 10 45 9 52 9 62 26 210 6 32 4 8 3 4 3 1 2 -1 5 -6 13 -29 79 -252 26 -75 27 -68"/>
<path d="M2017 1213l25 -48 12 -20 13 -18 12 -15 12 -11 12 -10 12 -6 12 -3 11 0 11 2 11 5 11 9 10 10 10 14 10 17 16 37 15 43 15 55 14 62 13 75 12 81 32 277 8 35 4 9 4 3 5 -4 5 -8 12 -34 15 -52 48 -177 26 -90 31 -99 31 -83 16 -37 16 -34 15 -30 16 -25 15 -21 15 -16 15 -13 14 -8 9 -2 8 -2 8 1 9 2 8 3 7 5 15 14 15 21 15 27 13 33 12 37 19 75 18 91 18 127 29 246 7 38 4 11 4 4 3 -1 2 -2 5 -7 6 -13 8 -22 15 -52 46 -175 23 -82 30 -95 30 -81 29 -69 14 -29 14 -25 14 -23 13 -18 15 -15 13 -12 9 -6 9 -4 9 -3 10 -1 9 2 8 2 8 5 9 6 15 18 16 25 14 30 15 39 10 36 11 44 10 46 9 50 10 64 9 68 29 246 7 39 4 9 4 5 2 1 3 -2 5 -6 6 -15 8 -22 13 -46 42 -156 24 -86 25 -83 25 -73"/>
<path d="M2017 1263l27 -55 25 -43 13 -17 12 -15 13 -11 12 -9 13 -6 11 -2 12 1 11 3 11 6 10 10 11 13 10 15 18 35 16 42 15 52 14 61 13 72 12 77 33 273 4 23 4 16 4 8 5 3 5 -2 5 -7 5 -13 8 -21 16 -52 49 -177 26 -86 31 -95 31 -80 16 -36 16 -32 15 -28 15 -24 15 -19 15 -16 14 -11 15 -8 8 -2 8 -1 9 1 7 1 15 8 15 14 14 20 14 26 14 31 12 37 10 35 9 38 17 84 18 123 29 236 4 25 4 17 4 10 4 4 3 0 2 -1 6 -8 6 -13 7 -21 16 -52 48 -174 24 -78 30 -92 29 -78 29 -66 14 -27 14 -25 14 -21 14 -18 14 -14 13 -11 9 -5 9 -4 10 -2 8 0 8 1 8 3 9 5 8 7 16 18 15 24 14 30 13 37 11 36 10 39 18 90 10 62 10 65 28 237 7 39 5 11 4 6 2 0 4 -1 5 -8 7 -15 8 -24 74 -258 21 -70 22 -65"/>
<path d="M2017 1326l28 -51 28 -42 15 -17 13 -14 13 -11 13 -9 12 -5 13 -4 12 0 12 2 11 5 11 7 11 10 11 13 17 30 17 38 15 46 13 52 13 63 11 74 28 232 7 29 3 6 4 3 4 -2 5 -7 12 -25 15 -42 50 -149 27 -76 34 -83 32 -70 17 -32 16 -28 17 -25 16 -21 16 -17 14 -14 15 -10 15 -6 18 -3 17 2 15 8 15 12 15 17 14 24 12 26 13 34 9 30 9 35 16 76 16 105 23 201 6 30 4 7 3 3 4 -1 5 -6 6 -11 8 -17 15 -42 47 -142 26 -72 31 -81 31 -68 31 -59 15 -24 15 -22 15 -19 14 -15 14 -12 14 -9 18 -8 9 -2 9 0 9 1 9 2 16 10 16 15 15 21 14 27 14 32 10 32 10 36 9 39 9 42 8 50 8 59 24 202 6 28 3 9 3 4 3 1 2 -1 5 -6 7 -12 7 -18 75 -219 24 -63 23 -58"/>
<path d="M2017 1283l27 -61 27 -48 13 -20 14 -17 12 -13 13 -10 12 -8 12 -3 11 -1 12 2 11 5 11 9 10 12 10 14 18 34 16 43 15 52 13 59 13 73 12 80 33 286 4 24 5 16 4 9 2 3 3 1 5 -2 6 -9 6 -15 8 -20 17 -58 51 -180 26 -85 32 -97 31 -80 16 -35 16 -33 15 -28 15 -24 15 -19 15 -16 14 -11 15 -7 15 -3 9 0 7 2 15 9 15 15 14 21 14 26 12 31 12 37 11 41 10 44 18 105 13 99 21 188 7 57 8 35 4 9 4 3 5 -2 6 -8 7 -14 8 -23 17 -54 50 -180 25 -80 30 -94 30 -77 29 -65 15 -29 14 -25 14 -21 13 -16 14 -14 13 -10 9 -5 8 -4 9 -1 8 0 8 1 9 4 8 5 7 6 15 18 15 25 14 30 13 38 10 35 10 42 17 91 18 122 27 243 8 41 4 13 4 7 3 1 3 -1 6 -6 7 -15 9 -25 17 -55 58 -202 38 -122"/>
<path d="M2017 1265l27 -44 13 -18 12 -15 13 -13 12 -10 13 -8 11 -6 12 -2 12 -1 11 3 11 4 11 8 11 10 10 12 10 15 16 32 16 41 14 46 14 55 12 64 12 74 29 236 7 29 3 7 4 2 4 -2 4 -6 12 -26 14 -43 48 -154 26 -80 33 -88 31 -73 17 -34 16 -29 16 -25 15 -23 16 -18 15 -15 15 -11 15 -7 18 -4 16 2 16 7 16 13 15 18 14 23 13 28 14 35 10 32 9 34 17 82 18 111 26 212 6 31 4 7 4 3 4 -1 5 -7 11 -27 15 -43 45 -149 25 -73 29 -83 30 -72 30 -61 15 -26 14 -23 15 -19 14 -17 14 -14 14 -10 19 -10 9 -2 10 -1 9 1 8 2 9 4 8 6 16 14 16 22 15 28 14 34 12 34 11 39 10 42 9 45 9 54 9 63 25 206 7 32 3 8 3 4 5 0 5 -6 5 -11 8 -19 80 -253 27 -77 27 -67"/>
<path d="M2017 1301l27 -50 26 -41 13 -16 13 -13 12 -11 13 -8 12 -5 12 -3 12 0 11 3 11 6 11 8 11 11 10 14 17 31 16 38 15 47 14 56 14 67 11 72 32 247 7 33 4 8 5 2 5 -2 5 -7 12 -28 16 -47 50 -161 26 -77 32 -88 31 -71 16 -33 15 -29 16 -25 16 -23 15 -17 15 -15 15 -10 14 -7 17 -3 16 2 15 7 15 13 15 18 14 24 13 29 12 34 19 65 16 78 18 110 27 213 7 36 4 10 4 4 5 -1 5 -6 7 -13 7 -19 16 -47 48 -153 25 -75 30 -82 30 -72 29 -59 15 -26 14 -22 14 -19 14 -17 13 -12 14 -10 18 -8 9 -2 8 0 9 1 8 3 8 4 9 5 16 16 15 22 14 28 14 35 11 33 10 37 18 85 17 109 28 218 7 32 3 9 4 6 3 0 2 0 6 -7 7 -12 8 -21 14 -42 61 -194 22 -66 22 -58"/>
<path d="M2017 1187l24 -40 13 -16 11 -14 12 -11 11 -8 12 -6 12 -4 11 0 11 1 12 5 11 7 11 10 10 12 9 15 10 18 18 39 16 44 15 53 14 61 13 69 13 78 33 253 7 30 3 8 3 2 4 -2 5 -6 10 -28 12 -45 42 -168 25 -91 30 -96 30 -82 16 -37 16 -34 16 -29 15 -24 15 -21 15 -16 15 -13 15 -9 9 -3 8 -1 9 0 9 1 8 3 8 5 17 14 16 20 15 25 15 33 14 39 11 38 11 41 20 94 20 124 29 220 6 34 4 9 4 5 4 -1 4 -6 11 -30 12 -46 40 -158 24 -86 28 -92 27 -78 29 -68 14 -29 14 -26 14 -23 14 -19 14 -16 14 -12 10 -7 9 -4 10 -3 9 -1 9 0 9 2 9 5 9 5 17 17 17 24 16 30 15 39 13 37 12 45 12 49 11 53 11 62 10 66 29 226 6 32 4 9 3 4 4 -1 4 -6 11 -28 13 -46 41 -165 24 -85 29 -95 29 -81"/>
<path d="M2017 1224l25 -46 12 -19 13 -17 12 -14 12 -11 12 -9 12 -6 12 -3 11 0 11 3 11 6 11 8 10 11 10 13 10 17 16 37 15 43 15 51 13 60 12 69 12 78 32 265 7 37 4 10 4 4 5 -3 5 -7 13 -32 16 -53 48 -174 26 -87 31 -95 31 -80 16 -36 16 -33 16 -28 15 -24 15 -20 15 -16 15 -12 14 -8 16 -4 9 0 8 2 16 8 16 14 15 21 14 26 13 32 12 37 20 72 17 89 18 125 28 233 7 38 5 11 4 3 2 0 3 -1 5 -8 5 -12 8 -21 15 -51 47 -169 24 -81 30 -92 29 -78 29 -67 14 -28 14 -24 14 -22 14 -17 14 -16 13 -11 9 -6 9 -4 10 -2 9 -1 9 1 8 3 8 4 9 6 16 17 15 25 15 29 14 38 11 35 10 42 10 46 9 49 10 62 10 66 27 235 8 38 3 10 4 5 3 1 2 -2 6 -7 7 -15 7 -21 79 -279 26 -82 25 -71"/>
<path d="M2017 1198l25 -42 12 -17 12 -14 12 -13 12 -9 12 -6 11 -4 12 -1 11 1 11 4 11 7 10 10 10 12 10 15 9 16 17 38 15 44 14 52 14 61 12 69 12 78 30 258 8 35 3 8 4 3 5 -3 4 -6 11 -30 15 -48 45 -171 26 -88 32 -98 31 -81 15 -37 16 -33 16 -29 16 -25 16 -21 15 -16 15 -13 14 -8 9 -3 8 -1 8 0 9 1 8 3 8 5 16 14 15 20 15 27 14 30 13 38 11 37 10 41 18 92 18 123 28 232 6 34 4 9 4 4 4 -1 5 -7 6 -13 6 -19 15 -49 44 -164 24 -83 29 -91 29 -80 29 -67 14 -29 15 -25 14 -22 14 -19 14 -15 13 -12 10 -6 9 -5 10 -2 9 -1 9 0 8 3 9 4 9 6 16 17 16 23 15 31 15 38 12 38 11 41 10 44 9 52 10 61 10 71 28 233 7 34 3 9 4 5 4 -1 5 -6 6 -13 7 -19 14 -49 44 -164 23 -81 29 -89 28 -78"/>
<path d="M2017 1245l26 -55 13 -24 13 -20 12 -17 12 -15 13 -11 12 -8 11 -5 12 -2 11 0 11 4 10 7 11 11 10 12 10 17 17 35 15 42 15 55 13 60 13 69 12 84 35 292 4 23 4 17 4 10 5 4 5 -2 6 -8 7 -15 8 -24 17 -57 50 -185 26 -90 31 -98 31 -83 16 -37 15 -32 15 -28 15 -25 15 -20 14 -16 14 -11 14 -8 16 -3 8 0 8 2 15 8 15 15 14 21 13 26 13 33 13 39 11 40 10 45 10 51 9 56 14 102 23 197 8 61 7 33 4 9 5 4 5 -2 5 -8 7 -14 8 -24 15 -51 47 -173 28 -99 30 -95 29 -78 28 -67 14 -29 14 -26 14 -22 14 -18 13 -14 13 -11 9 -6 9 -3 9 -2 8 0 8 1 9 3 8 5 8 7 15 17 15 26 14 32 13 38 11 38 10 41 18 94 18 126 30 255 8 39 4 13 4 6 3 1 3 -1 7 -8 7 -16 9 -24 15 -55 60 -220 21 -71 21 -65"/>
<path d="M2017 1403l31 -61 30 -51 15 -22 14 -18 14 -15 13 -13 14 -9 12 -7 13 -4 12 -1 12 2 11 5 11 8 11 11 9 12 8 14 16 34 14 42 14 53 11 60 10 67 9 68 14 137 6 44 3 18 4 14 4 8 5 3 6 -2 6 -7 7 -12 10 -20 19 -47 57 -155 28 -69 34 -79 33 -67 32 -55 16 -22 16 -20 15 -16 15 -12 14 -9 14 -6 16 -2 15 3 14 8 13 12 13 16 12 22 12 26 11 31 9 33 9 39 15 84 10 76 17 158 6 51 7 29 4 8 4 4 3 0 3 -1 7 -7 7 -12 10 -19 17 -44 54 -145 32 -81 32 -75 32 -65 31 -54 29 -41 14 -17 13 -13 14 -11 13 -8 16 -6 17 0 15 4 15 10 14 15 14 20 12 26 12 30 9 30 8 33 15 75 14 101 22 199 7 36 4 13 4 6 2 1 4 0 7 -6 9 -13 9 -21 20 -50 59 -156 29 -73"/>
<path d="M2017 1230l26 -52 13 -22 13 -19 12 -16 12 -13 13 -10 12 -7 11 -5 12 -1 11 2 11 4 10 8 11 11 10 13 10 16 17 36 16 45 15 55 13 60 13 76 12 81 32 278 8 36 4 9 4 3 5 -2 5 -8 6 -13 7 -21 16 -55 48 -179 26 -89 33 -100 30 -82 16 -37 16 -33 16 -30 15 -24 15 -20 15 -17 14 -11 14 -8 8 -3 9 -1 8 1 8 2 9 3 7 5 15 15 14 20 15 27 13 33 12 38 10 36 9 39 17 88 18 128 29 246 7 38 4 10 4 4 3 0 2 -1 5 -7 7 -15 8 -22 15 -54 47 -173 24 -84 30 -95 29 -80 29 -68 15 -29 14 -25 14 -23 13 -17 14 -16 14 -11 9 -6 9 -4 9 -2 8 -1 9 1 9 3 8 5 8 7 16 18 15 24 14 31 15 39 10 37 10 41 10 47 9 50 19 127 28 247 8 40 3 9 4 7 3 0 2 0 6 -7 7 -15 8 -24 14 -48 62 -229 25 -80 23 -70"/>
<path d="M2017 1135l24 -42 13 -18 11 -13 12 -11 11 -9 12 -6 11 -2 11 0 11 2 10 6 11 9 10 11 10 14 10 17 9 19 16 40 15 49 14 57 14 65 12 74 13 89 31 279 8 38 3 8 4 4 4 -3 4 -7 12 -34 13 -51 45 -185 25 -100 31 -106 31 -91 16 -41 15 -36 16 -32 15 -27 15 -22 15 -18 15 -14 15 -10 9 -3 9 -1 8 0 8 1 9 4 8 5 16 15 16 22 15 29 14 35 13 41 11 40 11 47 19 103 19 137 28 251 7 36 3 10 4 5 5 -2 4 -7 12 -35 13 -51 44 -182 23 -91 29 -102 28 -86 30 -76 14 -31 14 -28 14 -24 13 -20 14 -17 14 -13 10 -7 9 -5 9 -3 9 -2 9 1 10 3 9 5 8 6 17 18 16 27 15 33 15 41 12 40 12 47 10 51 11 60 10 65 10 76 29 258 7 36 3 10 4 5 5 -2 5 -7 11 -34 14 -52 43 -182 25 -97 30 -104 29 -88"/>
<path d="M2017 1220l25 -42 12 -18 13 -16 12 -12 12 -10 12 -7 11 -5 12 -2 12 1 10 3 11 6 11 9 10 10 10 14 10 17 17 35 15 44 15 53 14 58 12 66 12 75 31 255 8 34 3 7 4 3 5 -2 4 -6 11 -30 15 -47 45 -166 26 -86 32 -95 31 -79 15 -35 16 -32 16 -28 16 -25 16 -20 15 -16 15 -11 14 -8 9 -3 8 -1 8 0 9 2 8 3 8 5 16 14 15 19 15 27 14 30 13 37 10 34 10 39 18 89 18 118 28 225 7 36 4 8 4 4 4 -2 5 -7 12 -30 14 -47 44 -160 23 -79 29 -89 29 -77 30 -66 15 -29 14 -25 14 -21 14 -18 14 -15 13 -11 10 -7 10 -4 9 -2 9 -1 9 1 8 2 9 4 9 6 16 17 16 23 15 30 15 38 12 36 11 40 10 43 10 51 10 59 9 63 28 231 7 32 3 9 4 5 4 -1 5 -7 6 -13 7 -18 14 -48 43 -157 22 -73 27 -85 28 -75"/>
<path d="M2017 1231l26 -45 12 -18 13 -16 12 -13 13 -11 12 -8 12 -5 11 -2 12 0 12 3 11 5 10 8 11 11 10 13 10 16 18 36 15 42 15 51 15 59 13 68 12 79 32 248 7 29 3 7 4 3 4 -2 4 -7 10 -26 14 -44 45 -164 25 -86 31 -92 31 -79 16 -35 16 -32 15 -28 16 -24 16 -20 15 -16 15 -12 15 -8 9 -2 8 -2 10 1 8 1 8 4 9 4 15 14 15 19 15 26 14 31 14 36 11 36 10 38 18 86 10 59 9 62 28 219 6 32 3 8 5 3 4 -2 4 -6 12 -30 55 -197 24 -82 29 -89 28 -75 29 -65 15 -29 14 -24 14 -22 15 -18 14 -15 14 -11 10 -6 9 -4 9 -3 9 -1 10 1 9 3 9 4 8 6 17 16 16 24 15 29 15 37 12 35 12 43 10 46 10 50 10 58 10 62 27 219 7 33 3 9 3 4 5 -1 5 -6 11 -29 14 -45 41 -152 22 -74 27 -85 27 -73"/>
<path d="M2017 1320l27 -51 27 -39 13 -17 14 -13 12 -11 13 -8 12 -6 12 -3 11 0 12 2 12 6 10 8 11 10 10 13 18 31 16 37 15 47 13 53 12 63 11 67 30 240 8 33 4 9 4 2 5 -2 5 -6 13 -29 17 -47 51 -154 26 -75 33 -82 31 -70 17 -33 16 -27 16 -25 15 -21 15 -17 15 -13 15 -11 14 -6 17 -3 16 2 16 7 15 13 14 17 13 23 13 26 12 34 18 64 16 75 17 107 25 205 7 35 4 10 5 3 5 -1 5 -6 6 -12 8 -18 16 -47 50 -149 24 -71 31 -80 30 -68 30 -58 15 -25 14 -21 14 -18 15 -16 14 -12 13 -9 18 -8 10 -2 8 0 8 1 8 3 9 4 8 6 15 15 15 21 14 27 14 33 10 31 9 36 18 81 9 53 8 58 25 205 7 32 3 9 5 5 2 1 3 0 5 -6 8 -14 8 -20 15 -42 62 -185 22 -62 22 -55"/>
<path d="M2017 1355l29 -56 28 -46 14 -19 14 -15 13 -13 13 -10 13 -8 12 -5 13 -1 12 0 11 4 11 7 11 9 11 12 17 28 17 37 15 45 14 55 12 62 11 67 30 243 3 18 5 15 4 8 4 2 5 -2 5 -5 7 -12 7 -18 18 -47 51 -152 28 -75 33 -83 31 -68 17 -31 16 -27 16 -24 16 -20 15 -17 14 -13 15 -10 15 -6 15 -3 16 3 15 7 15 13 13 16 14 23 12 27 12 31 17 62 15 71 17 107 25 207 7 34 5 9 4 3 5 -1 6 -7 6 -12 8 -18 16 -45 52 -152 25 -68 32 -80 30 -66 29 -56 15 -25 15 -20 14 -18 14 -15 14 -12 13 -9 18 -7 9 -1 8 0 9 1 8 3 16 10 15 15 14 20 13 26 14 33 9 31 10 33 17 82 17 108 24 201 7 33 3 9 4 6 3 1 3 0 6 -6 7 -13 9 -22 16 -43 58 -168 38 -102"/>
<path d="M2017 1226l25 -46 12 -20 13 -17 12 -15 12 -11 12 -9 12 -5 12 -3 11 -1 11 3 11 5 11 9 10 10 10 13 10 17 16 35 16 44 15 52 14 58 13 70 12 81 34 269 8 33 4 9 4 3 4 -2 5 -8 13 -32 15 -52 46 -173 25 -86 31 -95 31 -81 16 -37 15 -31 16 -29 15 -24 15 -20 15 -17 15 -12 14 -8 16 -4 9 0 8 2 16 8 16 14 15 20 14 26 13 31 13 38 10 34 10 39 19 90 19 125 29 234 7 36 4 10 5 4 2 -1 3 -2 5 -7 12 -32 15 -52 46 -170 23 -81 29 -91 29 -77 28 -66 14 -28 14 -25 14 -22 14 -17 14 -16 13 -11 9 -6 9 -4 10 -2 9 -1 9 1 8 3 8 4 9 6 16 17 15 25 15 30 15 38 10 34 11 41 10 44 10 50 10 60 10 68 29 235 8 38 4 12 4 4 3 1 2 -2 5 -7 7 -14 7 -22 76 -274 25 -82 25 -73"/>
<path d="M2017 1176l24 -46 13 -20 11 -16 12 -13 11 -10 12 -8 12 -4 11 -2 11 1 11 4 11 7 11 10 10 13 10 16 9 17 16 39 16 48 15 57 14 62 13 74 12 83 35 280 9 41 4 9 4 4 4 -2 5 -8 6 -14 7 -21 15 -57 44 -185 25 -95 30 -102 30 -87 16 -40 15 -34 15 -30 15 -25 15 -22 14 -17 15 -13 14 -9 9 -3 8 -1 8 0 9 2 8 4 7 4 16 15 15 21 15 29 14 35 14 40 20 77 19 97 20 132 31 256 8 37 4 11 4 4 3 0 2 -1 5 -8 6 -15 7 -21 15 -56 44 -182 22 -86 28 -98 28 -83 28 -72 14 -30 14 -26 14 -24 13 -19 13 -16 14 -13 9 -6 9 -5 9 -2 9 -1 10 1 8 3 8 4 8 6 17 19 16 25 15 32 15 42 12 38 11 46 11 50 10 53 11 67 10 70 31 251 7 39 4 12 4 6 3 1 2 -2 5 -7 6 -13 8 -24 12 -47 41 -168 24 -94 26 -91 25 -79"/>
<path d="M2017 1150l24 -38 12 -15 11 -12 12 -10 11 -7 11 -5 11 -2 11 0 11 3 11 6 11 9 10 10 10 14 9 16 10 19 16 40 15 47 14 54 14 62 13 75 12 79 31 263 7 33 3 8 4 3 5 -3 4 -7 10 -28 13 -50 43 -175 25 -93 31 -102 31 -87 16 -39 15 -34 16 -31 15 -25 16 -23 15 -17 15 -13 15 -9 9 -4 8 -1 10 0 8 2 8 3 9 5 16 15 16 21 15 27 14 33 14 41 11 38 11 44 19 96 10 62 10 73 28 232 6 35 4 9 4 5 4 -2 4 -6 11 -30 13 -50 42 -169 23 -87 28 -96 29 -83 29 -72 14 -30 14 -27 14 -24 14 -20 14 -16 14 -13 10 -7 9 -5 10 -3 9 -1 9 0 9 3 10 4 8 6 9 8 8 10 17 25 16 32 15 39 12 40 12 44 11 48 10 57 11 66 10 72 29 238 6 35 4 9 3 5 4 -1 4 -6 11 -29 13 -49 44 -178 26 -96 31 -102 31 -86"/>
<path d="M2017 1175l24 -43 13 -18 11 -15 12 -12 11 -10 12 -6 11 -4 11 -1 11 1 10 5 11 7 11 10 10 13 10 16 9 18 17 39 15 46 14 54 13 62 13 70 12 84 34 278 8 36 4 9 4 3 4 -2 5 -7 6 -14 7 -21 15 -55 45 -179 25 -92 30 -102 30 -85 16 -39 15 -33 16 -31 15 -26 15 -22 15 -17 15 -13 14 -9 9 -3 8 -1 9 0 8 2 8 3 8 5 16 15 15 21 14 26 14 34 13 40 10 36 10 41 19 92 10 62 10 71 30 248 4 25 4 17 4 10 4 3 3 0 2 -2 5 -9 13 -35 14 -52 44 -176 23 -87 28 -95 29 -83 28 -70 14 -30 14 -27 14 -23 14 -19 13 -16 13 -12 10 -7 9 -4 9 -3 9 -1 9 1 9 2 9 5 8 6 17 18 15 25 15 32 15 40 12 39 11 43 11 49 10 53 10 62 10 71 30 248 7 40 4 12 4 5 3 0 2 -1 5 -7 6 -14 8 -23 79 -306 27 -93 27 -80"/>
<path d="M2017 1203l25 -53 12 -22 13 -20 12 -17 12 -12 12 -11 12 -7 12 -4 11 -1 11 2 11 5 11 8 11 12 10 14 10 17 16 38 16 47 15 56 14 66 14 76 12 86 28 244 7 50 4 24 4 15 4 9 5 3 5 -3 5 -9 12 -35 16 -59 47 -190 25 -93 31 -103 30 -86 16 -39 15 -34 16 -32 15 -26 15 -21 15 -18 14 -12 14 -8 8 -3 8 -1 9 0 8 2 8 4 8 6 15 15 14 21 14 28 13 33 14 42 19 77 17 92 20 132 30 264 5 24 4 18 4 10 4 4 2 0 3 -2 5 -8 6 -14 7 -23 16 -58 46 -184 23 -88 29 -99 29 -84 28 -71 14 -31 14 -27 14 -23 14 -19 13 -16 13 -12 9 -6 10 -4 9 -3 8 0 9 1 8 3 9 5 8 7 16 19 16 27 14 32 14 40 11 38 11 44 10 48 10 56 10 64 10 75 29 251 7 41 4 14 5 6 2 1 3 -1 5 -7 7 -16 8 -25 14 -53 61 -241 24 -83 23 -76"/>
<path d="M2017 1298l27 -47 26 -38 13 -15 13 -12 12 -10 13 -7 12 -5 12 -2 12 1 11 3 12 7 11 8 11 12 10 13 17 32 16 38 15 46 14 55 13 62 11 70 31 239 7 28 3 7 4 3 4 -2 5 -6 12 -26 15 -44 47 -150 27 -79 32 -85 32 -72 17 -33 15 -28 16 -25 16 -21 16 -19 15 -13 15 -11 14 -6 17 -4 16 2 16 7 16 13 15 18 14 23 13 28 13 33 10 31 9 34 17 80 18 110 26 204 6 30 4 7 4 4 4 -1 5 -6 12 -28 15 -44 46 -145 25 -74 30 -80 30 -71 30 -59 15 -26 14 -21 14 -19 14 -16 15 -13 13 -10 18 -8 9 -2 10 -1 9 1 8 3 9 4 8 5 16 16 16 22 14 26 14 34 11 32 11 37 10 42 9 45 18 108 25 205 7 31 3 8 4 4 2 1 3 -1 5 -5 6 -13 8 -19 75 -232 25 -70 24 -62"/>
<path d="M2017 1206l25 -46 12 -19 12 -15 12 -13 12 -10 12 -8 11 -5 12 -2 11 0 12 4 10 6 11 9 11 12 10 14 10 17 17 36 15 44 15 52 15 61 13 69 13 83 34 263 8 34 4 9 4 3 4 -3 5 -8 11 -30 13 -48 44 -172 25 -90 30 -96 30 -82 16 -38 15 -32 16 -30 15 -24 15 -21 15 -17 15 -12 15 -9 9 -3 8 -1 9 0 8 2 8 3 9 5 15 14 15 20 15 27 15 32 13 38 11 36 10 42 20 93 20 126 29 228 7 37 3 8 5 5 4 -1 5 -7 11 -31 15 -51 42 -166 23 -82 28 -92 28 -81 28 -68 15 -29 14 -26 14 -22 13 -18 14 -16 14 -12 10 -6 9 -5 9 -2 9 -1 9 1 9 2 9 5 8 6 17 17 16 25 15 30 15 38 12 37 12 42 10 47 11 54 11 63 10 68 29 228 8 38 3 9 4 6 4 -1 5 -6 6 -14 7 -19 75 -287 27 -89 26 -76"/>
<path d="M2017 1278l27 -61 26 -51 13 -21 13 -17 12 -14 13 -11 12 -8 12 -4 12 -1 11 3 10 5 11 9 10 11 10 15 17 34 16 44 15 54 13 60 12 71 13 87 28 251 7 50 4 24 5 19 5 11 5 3 6 -3 6 -9 7 -17 8 -24 19 -62 52 -190 26 -88 32 -97 30 -83 16 -37 15 -31 15 -28 15 -25 15 -20 14 -15 14 -12 14 -7 8 -2 7 -1 8 1 7 2 15 9 15 15 13 21 13 27 13 33 11 38 10 39 10 46 19 107 13 101 22 197 8 63 4 22 4 16 4 10 4 4 3 0 3 -2 7 -9 7 -16 10 -26 15 -53 49 -178 30 -101 30 -96 30 -79 29 -68 14 -28 13 -23 13 -21 14 -17 13 -14 13 -10 16 -8 8 -2 9 0 8 2 8 3 8 6 7 7 15 18 15 26 13 31 12 38 10 36 9 40 18 93 17 125 30 257 8 46 4 13 5 8 3 2 3 -1 3 -2 4 -6 9 -18 9 -26 18 -61 57 -205 34 -113"/>
<path d="M2017 1240l26 -51 12 -20 13 -18 12 -15 12 -12 12 -10 12 -6 12 -4 11 -1 12 2 11 5 11 7 10 11 10 13 10 15 18 36 16 43 15 51 14 59 13 69 13 83 35 268 8 33 4 8 4 3 4 -2 5 -7 6 -13 7 -19 15 -51 46 -174 25 -86 31 -95 30 -79 16 -37 15 -31 16 -29 15 -24 15 -20 15 -16 15 -12 14 -7 8 -3 8 -1 9 1 8 1 16 9 15 13 15 20 14 26 13 30 13 38 10 34 10 39 19 88 19 121 30 234 8 39 4 10 4 3 5 -2 5 -7 13 -33 15 -52 45 -167 22 -78 29 -92 29 -78 28 -66 14 -28 14 -25 14 -22 14 -17 14 -15 13 -11 9 -6 10 -4 9 -2 9 -1 9 1 8 3 9 5 8 6 16 17 16 24 15 31 14 37 11 37 11 41 10 44 10 50 10 59 10 67 30 234 8 36 3 9 4 5 3 0 2 -1 6 -8 6 -12 7 -22 13 -46 61 -223 24 -77 23 -70"/>
<path d="M2017 1312l28 -53 28 -43 13 -17 13 -14 13 -11 12 -9 13 -6 11 -3 12 -1 12 3 10 5 11 7 11 12 10 13 17 30 16 40 14 47 13 57 12 63 10 74 29 251 3 19 4 15 4 9 5 3 5 -2 5 -8 15 -31 17 -50 52 -160 28 -79 33 -86 33 -73 16 -32 16 -29 16 -25 16 -21 15 -18 15 -14 15 -11 14 -6 16 -3 16 3 15 7 15 14 14 17 13 24 12 29 12 33 17 67 15 77 16 112 24 212 7 39 4 10 4 3 5 -1 6 -7 7 -12 8 -20 18 -50 50 -155 26 -74 32 -83 31 -71 30 -59 14 -26 15 -22 14 -18 14 -16 14 -14 13 -9 19 -8 9 -2 8 0 8 2 9 2 16 11 15 15 14 22 14 29 12 33 10 33 9 35 17 84 8 53 9 63 23 212 7 36 4 12 4 5 3 1 2 -1 7 -7 7 -15 9 -20 15 -45 63 -189 22 -63 22 -57"/>
<path d="M2017 1183l24 -38 13 -16 11 -12 12 -10 11 -8 12 -5 11 -3 12 0 10 2 11 5 11 8 11 10 10 13 10 15 9 17 17 38 15 46 15 54 14 58 12 66 13 79 31 248 7 32 3 8 4 4 5 -2 4 -6 10 -27 13 -48 43 -167 25 -89 31 -97 30 -81 16 -37 16 -33 15 -29 15 -24 15 -21 15 -16 15 -13 15 -9 10 -3 8 -1 9 0 8 1 9 3 8 5 17 14 15 20 15 25 15 31 14 39 10 35 11 41 20 95 10 58 10 68 29 223 6 33 4 8 4 4 4 -2 4 -6 11 -30 12 -44 41 -159 23 -84 29 -91 28 -80 29 -69 14 -29 14 -25 15 -22 14 -20 14 -15 13 -12 10 -7 9 -4 10 -3 9 -1 10 0 9 2 9 5 8 5 18 17 16 24 16 31 15 37 13 38 12 45 11 46 11 54 10 58 10 66 29 230 6 32 4 9 3 4 4 -1 4 -6 11 -28 14 -47 42 -165 25 -89 30 -95 30 -82"/>
<path d="M2017 1279l27 -49 25 -38 13 -15 12 -13 13 -10 12 -7 13 -5 11 -1 12 1 11 4 11 6 10 9 10 12 10 14 17 32 16 40 15 49 13 55 14 69 11 74 32 252 7 32 4 8 5 2 5 -2 5 -8 12 -29 16 -49 48 -159 27 -82 32 -90 31 -73 16 -33 16 -30 15 -27 16 -22 15 -19 15 -15 15 -11 14 -7 17 -3 8 0 9 2 15 8 15 13 15 18 14 24 13 30 12 35 19 66 16 80 10 54 9 64 26 217 8 35 4 10 4 3 5 -1 5 -7 6 -12 7 -19 16 -48 48 -157 24 -75 30 -84 30 -74 29 -61 15 -27 14 -23 14 -20 14 -16 14 -14 14 -10 18 -9 9 -2 9 0 8 1 8 2 8 5 9 5 16 16 15 22 14 28 14 36 11 33 10 37 10 43 9 47 9 54 9 63 27 218 7 36 4 8 4 5 2 0 3 -1 6 -7 6 -13 9 -22 75 -245 24 -69 23 -63"/>
<path d="M2017 1215l25 -53 12 -22 13 -19 12 -17 12 -13 12 -11 12 -7 12 -4 11 -1 11 2 11 5 11 8 10 11 10 14 10 17 16 38 15 44 15 57 14 62 12 71 13 86 28 245 7 51 4 23 4 16 4 10 3 3 2 0 5 -3 6 -9 13 -37 16 -56 49 -191 26 -93 32 -102 29 -84 16 -38 15 -33 16 -31 15 -25 15 -21 14 -16 14 -12 14 -8 9 -3 8 -1 8 1 8 2 15 8 15 15 14 21 14 28 13 34 13 40 18 74 18 93 19 134 29 252 8 44 4 11 5 6 3 0 2 -1 6 -8 7 -16 7 -22 15 -50 46 -181 28 -100 30 -99 28 -81 28 -69 14 -30 14 -26 14 -22 13 -19 13 -15 14 -11 9 -6 8 -4 9 -2 9 -1 8 1 8 3 9 5 8 7 16 19 15 25 14 32 14 41 11 38 10 42 19 100 19 133 30 258 8 40 4 12 4 6 2 1 4 -1 6 -7 7 -18 8 -25 15 -54 62 -236 22 -78 23 -71"/>
<path d="M2017 1265l27 -52 25 -41 13 -15 12 -13 13 -11 12 -7 13 -5 11 -2 12 1 11 4 11 7 10 9 11 13 10 15 18 34 16 43 15 50 15 59 13 69 12 79 33 254 7 35 4 9 5 4 5 -3 5 -7 12 -31 15 -49 47 -166 25 -85 32 -93 31 -78 16 -35 15 -31 16 -28 15 -22 15 -19 15 -16 15 -11 14 -7 17 -4 8 1 9 2 15 8 15 13 15 20 15 25 13 30 12 35 10 34 10 39 18 84 18 116 28 226 8 37 4 10 4 5 3 0 2 -2 5 -7 6 -12 7 -21 15 -49 45 -160 24 -80 30 -89 30 -76 29 -65 14 -26 14 -24 14 -21 13 -16 15 -15 13 -10 9 -6 9 -3 9 -2 9 -1 9 2 8 2 8 5 9 6 16 16 15 24 15 29 14 36 11 34 10 40 10 43 10 50 19 121 29 226 7 36 4 9 4 5 2 1 3 -1 6 -8 6 -14 8 -21 72 -252 23 -74 23 -65"/>
<path d="M2017 1326l28 -53 28 -43 14 -18 13 -14 13 -12 13 -8 12 -7 13 -3 12 -1 12 3 12 5 10 7 11 11 10 12 18 30 16 39 15 47 14 53 12 63 12 74 28 236 7 31 4 9 4 3 5 -2 5 -6 13 -27 15 -45 51 -154 27 -76 33 -85 32 -71 17 -33 16 -27 16 -25 16 -21 15 -18 15 -13 15 -10 14 -7 17 -3 16 2 16 8 15 12 14 18 14 23 12 27 13 34 9 30 9 36 16 76 17 111 23 198 3 20 4 17 4 7 4 4 5 -1 5 -6 6 -11 7 -18 16 -44 49 -150 25 -71 32 -82 30 -68 30 -58 15 -25 15 -23 15 -19 14 -15 14 -13 13 -9 19 -8 9 -1 8 -1 8 2 9 2 16 10 15 15 15 21 14 27 14 33 10 31 10 36 9 39 9 47 17 109 24 205 6 33 4 8 3 4 3 1 2 0 6 -6 7 -13 8 -19 75 -224 22 -62 22 -56"/>
<path d="M2017 1257l26 -43 13 -19 13 -15 12 -12 12 -11 13 -7 12 -5 11 -3 12 0 12 3 10 4 11 8 11 10 10 12 10 15 17 34 16 41 15 48 14 58 13 63 11 71 30 234 7 31 3 7 5 3 4 -2 4 -6 11 -25 14 -44 45 -152 26 -83 32 -87 31 -74 16 -34 16 -30 16 -26 16 -23 16 -19 15 -15 15 -11 15 -7 17 -4 17 1 16 8 16 12 15 18 15 24 14 30 14 35 10 31 10 37 18 84 18 113 26 205 7 32 3 8 4 4 4 -1 4 -6 12 -27 14 -44 44 -147 24 -75 30 -85 29 -72 29 -61 15 -27 14 -23 14 -19 14 -17 14 -14 15 -11 19 -10 9 -2 9 -1 9 0 9 3 9 4 9 5 16 16 16 22 15 27 15 36 12 34 12 40 9 42 10 48 19 113 26 211 6 28 4 9 3 4 4 0 5 -6 6 -12 7 -17 77 -254 27 -79 28 -71"/>
<path d="M2017 1231l26 -48 13 -21 13 -17 12 -15 12 -12 13 -10 12 -7 13 -3 12 -1 11 2 11 5 11 7 11 11 10 13 10 16 18 36 16 44 15 52 14 62 13 73 12 78 30 256 6 33 4 9 4 3 4 -2 4 -6 12 -30 14 -48 45 -164 27 -90 31 -95 32 -82 16 -38 16 -32 16 -28 16 -25 16 -20 15 -16 15 -12 15 -8 9 -3 8 -1 8 0 9 2 16 8 15 13 15 20 15 27 14 30 13 38 10 34 10 40 18 92 9 58 10 67 25 224 7 35 3 8 4 4 5 -1 5 -8 11 -30 14 -46 44 -161 24 -82 30 -92 29 -78 30 -68 15 -30 14 -24 14 -22 14 -18 14 -15 15 -12 10 -6 9 -4 9 -2 9 -1 9 1 8 2 10 5 8 6 17 17 15 24 15 30 15 37 11 37 11 41 10 45 10 53 10 62 9 67 26 225 7 35 3 9 3 4 4 -1 5 -6 6 -13 7 -19 76 -272 27 -84 26 -73"/>
<path d="M2017 1025l11 -17 11 -16 10 -12 11 -10 11 -7 11 -4 11 -1 10 1 10 4 10 7 10 9 10 13 10 15 9 17 18 44 15 45 15 55 14 63 13 70 14 82 12 90 36 305 7 39 4 9 4 4 4 -3 4 -8 10 -35 13 -58 41 -207 23 -109 29 -119 28 -99 15 -45 16 -43 15 -36 15 -31 15 -25 15 -21 15 -16 14 -11 9 -4 9 -2 9 0 8 1 8 4 9 5 8 8 8 9 16 23 16 32 15 39 15 48 12 44 11 51 21 112 12 77 10 81 33 279 8 46 4 9 4 4 4 -3 4 -8 11 -38 12 -59 39 -194 21 -102 27 -112 26 -97 28 -84 14 -37 13 -31 15 -29 13 -23 13 -19 13 -15 10 -9 10 -6 10 -4 9 -2 9 0 9 3 9 4 9 7 10 10 8 10 17 30 17 38 16 46 13 48 13 52 11 57 12 66 11 75 12 87 33 279 7 43 3 11 5 6 1 0 3 -2 4 -7 10 -32 13 -62 43 -219 28 -125 32 -128 16 -54 17 -51"/>
<path d="M2017 1287l27 -55 26 -45 13 -18 12 -14 13 -13 12 -9 13 -6 11 -3 12 -1 11 3 11 5 10 9 11 12 10 14 18 34 15 41 15 51 14 57 13 71 12 77 26 223 7 48 4 23 4 15 4 8 3 3 2 1 5 -3 6 -8 7 -14 7 -21 17 -52 51 -174 26 -82 32 -94 31 -77 16 -34 15 -31 15 -27 15 -22 15 -19 15 -16 14 -11 15 -7 15 -3 9 1 7 2 15 7 15 14 14 20 14 25 12 29 13 37 17 66 17 84 17 117 29 236 8 41 4 10 5 6 5 -2 6 -7 6 -14 9 -22 15 -47 47 -162 28 -92 31 -90 29 -74 30 -64 14 -26 14 -24 14 -20 13 -17 14 -13 13 -10 17 -9 10 -2 8 0 8 2 8 3 16 11 15 16 15 24 14 29 13 36 10 33 10 39 18 90 18 122 29 236 7 37 4 11 5 5 2 1 3 -2 6 -6 8 -16 9 -24 16 -51 58 -198 40 -121"/>
<path d="M2017 1319l28 -52 28 -41 13 -17 13 -14 14 -11 12 -9 13 -6 12 -3 12 0 11 2 11 5 11 8 11 11 10 13 17 30 16 39 14 45 14 56 11 61 11 72 28 245 7 30 4 8 4 3 5 -3 5 -7 14 -28 16 -47 51 -152 27 -77 34 -84 32 -71 17 -33 16 -29 16 -24 16 -21 16 -18 15 -14 15 -11 14 -6 17 -3 8 0 8 2 15 7 15 13 14 18 14 22 12 28 12 32 17 63 16 79 16 108 23 208 7 34 4 10 4 4 5 -2 5 -6 7 -12 7 -18 17 -46 50 -150 26 -73 31 -81 31 -69 31 -59 29 -46 14 -18 14 -16 14 -13 14 -9 18 -8 9 -2 8 0 9 1 8 2 8 4 9 6 15 15 15 22 14 27 12 32 10 31 10 37 9 41 9 44 16 108 23 209 7 34 3 9 4 5 3 1 2 -1 6 -6 7 -14 9 -20 77 -228 23 -63 23 -57"/>
<path d="M2017 1262l27 -50 25 -40 13 -15 12 -13 13 -10 12 -8 13 -4 11 -2 12 2 11 3 11 7 10 10 11 12 10 15 18 34 16 43 15 50 15 59 13 69 11 74 33 258 7 33 4 8 4 3 4 -2 5 -6 13 -31 15 -49 46 -164 26 -84 32 -92 30 -78 16 -34 16 -31 16 -28 15 -23 16 -20 15 -15 14 -12 15 -7 16 -4 9 1 8 1 16 8 16 14 15 19 14 25 13 30 13 37 10 34 10 39 18 85 18 118 28 222 7 35 3 8 4 4 3 0 2 -2 5 -7 13 -31 15 -49 45 -159 24 -79 29 -87 29 -75 29 -64 15 -28 14 -24 15 -21 14 -17 14 -15 13 -10 19 -9 9 -2 9 -1 9 2 8 2 9 5 8 6 16 16 16 24 14 28 14 36 11 34 10 40 10 43 10 50 10 59 10 64 27 222 7 34 3 9 4 5 3 1 2 -1 5 -6 7 -14 7 -21 74 -255 25 -75 23 -66"/>
<path d="M2017 1336l28 -48 28 -39 14 -16 13 -13 13 -10 13 -8 12 -5 13 -3 12 -1 11 3 11 4 11 8 11 10 10 12 16 28 16 36 14 43 14 53 11 59 11 71 26 223 6 30 5 8 4 2 5 -2 5 -7 12 -25 17 -43 51 -144 28 -71 34 -81 32 -66 17 -30 17 -27 16 -24 16 -20 16 -17 15 -13 15 -10 15 -7 17 -3 16 2 16 7 15 12 14 17 13 22 13 26 12 31 9 30 8 32 15 72 15 101 23 198 6 30 3 7 5 3 5 -2 5 -5 6 -12 8 -17 16 -41 50 -139 25 -68 33 -77 31 -65 30 -56 15 -23 15 -21 15 -18 14 -15 15 -12 14 -9 18 -8 9 -1 9 -1 17 4 17 9 15 15 15 20 14 27 12 30 10 30 10 37 17 79 15 101 21 192 7 33 3 9 4 3 2 1 3 0 6 -6 6 -11 9 -19 14 -39 65 -179 25 -61 23 -54"/>
<path d="M2017 1308l27 -50 27 -40 13 -16 14 -14 12 -10 13 -8 12 -6 12 -2 11 0 12 2 12 6 10 8 11 11 10 13 18 31 16 38 15 47 13 54 12 63 12 73 30 244 7 29 4 9 4 2 5 -2 5 -7 12 -28 16 -46 49 -152 28 -80 32 -84 32 -72 16 -33 16 -28 16 -25 16 -21 16 -19 15 -14 15 -10 14 -7 16 -3 17 3 16 7 15 13 14 17 14 24 13 28 12 34 18 65 16 75 17 108 26 213 3 19 4 15 3 7 5 3 5 -2 5 -6 13 -30 16 -45 47 -148 25 -73 31 -82 30 -69 30 -60 15 -25 14 -22 15 -20 14 -16 14 -13 14 -9 18 -8 9 -2 9 -1 8 1 9 3 8 4 8 6 16 16 15 21 14 28 14 33 10 30 10 36 9 39 9 46 9 54 8 59 25 208 7 33 3 9 5 5 2 0 3 -1 5 -6 7 -13 8 -18 14 -41 62 -193 23 -65 23 -58"/>
<path d="M2017 1222l25 -43 12 -18 13 -15 12 -13 12 -9 12 -8 11 -4 12 -2 12 0 10 4 11 5 11 9 11 12 10 13 10 17 16 35 16 43 15 52 14 57 13 69 12 73 32 253 7 34 4 7 4 3 4 -2 4 -6 12 -30 14 -47 44 -162 26 -87 31 -93 31 -80 15 -36 16 -32 16 -28 16 -24 16 -21 15 -15 15 -12 14 -7 9 -3 8 -1 8 0 9 2 8 3 8 5 16 13 15 19 15 26 14 32 14 37 10 35 10 39 19 88 19 121 27 218 8 36 3 8 4 4 4 -1 5 -7 12 -30 14 -48 43 -156 24 -82 29 -90 28 -75 29 -66 15 -28 14 -24 14 -22 14 -18 14 -15 13 -11 10 -6 10 -4 9 -3 9 0 9 0 8 3 9 4 9 6 16 16 16 23 15 29 15 37 12 35 12 42 10 46 10 50 10 58 10 67 29 224 6 32 4 9 4 5 4 -1 5 -6 6 -13 6 -19 14 -45 42 -156 22 -74 27 -86 27 -73"/>
<path d="M2017 1242l27 -54 25 -42 13 -16 12 -13 13 -11 11 -8 12 -4 12 -2 11 1 11 4 11 8 11 10 10 13 10 16 16 35 15 42 15 53 14 61 13 75 12 81 31 275 4 24 5 17 4 8 4 3 5 -3 5 -7 13 -34 16 -53 50 -181 26 -87 32 -98 31 -81 16 -36 16 -33 15 -29 15 -24 15 -20 15 -16 15 -13 14 -7 9 -3 8 -1 8 0 8 2 8 4 8 5 15 14 14 20 14 27 13 32 13 39 18 72 17 88 17 123 28 244 4 25 4 17 4 10 4 4 5 -2 5 -7 7 -15 7 -21 16 -53 49 -175 24 -82 30 -94 30 -79 29 -67 15 -29 14 -25 14 -22 14 -18 13 -14 14 -11 9 -6 9 -4 9 -2 9 0 8 1 8 3 8 5 9 7 16 18 15 24 14 32 13 37 11 37 10 41 18 94 18 128 28 244 7 39 4 10 4 5 2 1 4 -1 6 -8 6 -15 9 -24 76 -271 23 -76 23 -67"/>
<path d="M2017 1246l26 -45 13 -20 13 -16 12 -14 12 -11 13 -8 12 -6 13 -3 12 0 11 2 11 5 11 8 11 11 10 12 10 16 17 35 16 42 15 50 13 56 14 70 11 74 30 243 7 32 3 7 4 4 4 -3 5 -5 10 -27 15 -46 45 -159 26 -84 32 -91 31 -78 17 -36 16 -30 16 -27 15 -24 16 -19 15 -16 15 -11 15 -8 18 -3 16 1 17 8 16 14 15 19 15 25 13 29 13 37 10 32 10 38 19 88 9 55 9 64 26 213 6 32 4 8 4 4 4 -2 4 -6 12 -29 14 -46 43 -151 24 -79 29 -85 30 -75 30 -65 15 -28 14 -24 14 -21 14 -17 14 -15 14 -11 10 -6 9 -4 10 -3 9 0 9 0 9 3 9 4 8 6 17 16 16 23 15 28 15 37 12 36 10 39 10 43 10 50 10 59 9 64 26 213 7 33 3 8 4 4 4 0 5 -7 6 -12 6 -18 77 -261 27 -82 27 -71"/>
<path d="M2017 1336l28 -56 28 -46 14 -18 13 -15 13 -13 13 -10 12 -7 13 -4 12 -2 11 2 12 4 11 7 10 11 10 12 18 30 16 37 15 47 13 53 12 64 12 74 31 252 7 33 5 9 5 3 5 -2 5 -8 15 -31 17 -49 52 -158 26 -76 34 -86 31 -71 17 -33 16 -28 15 -24 15 -21 15 -17 15 -14 15 -11 14 -6 16 -3 16 3 15 7 15 14 13 17 14 23 12 28 12 33 17 64 15 73 17 110 26 217 7 35 4 10 5 4 5 -2 6 -6 7 -13 8 -20 18 -49 50 -155 25 -72 32 -83 30 -69 30 -58 15 -25 14 -22 14 -18 14 -16 14 -12 13 -9 17 -7 17 -1 8 1 9 3 15 10 15 16 15 21 13 26 13 35 10 31 9 35 18 84 16 110 25 210 8 38 3 10 4 6 3 1 3 0 7 -7 7 -14 9 -22 17 -48 58 -174 38 -106"/>
<path d="M2017 1358l29 -52 28 -42 14 -18 14 -14 13 -12 13 -9 12 -6 13 -4 12 -2 12 2 11 4 11 6 11 9 11 13 17 28 16 35 15 44 13 51 12 58 11 67 28 231 7 29 4 8 4 3 5 -2 5 -6 7 -12 7 -16 17 -43 52 -146 28 -71 34 -80 32 -66 17 -30 16 -26 16 -22 15 -20 16 -17 15 -13 15 -9 14 -6 17 -3 16 3 15 6 15 13 13 15 13 22 13 26 11 30 18 61 15 70 16 103 23 195 7 31 4 9 4 4 5 -2 6 -6 6 -12 8 -16 17 -43 50 -142 26 -67 32 -76 31 -64 30 -55 29 -43 15 -18 15 -15 14 -11 13 -9 18 -7 18 -2 16 4 16 10 15 14 14 20 15 26 12 30 10 30 9 32 17 77 16 101 23 196 7 33 3 9 4 5 5 0 7 -6 7 -13 9 -19 15 -41 60 -166 42 -103"/>
<path d="M2017 1328l27 -47 28 -38 13 -16 13 -13 14 -10 12 -8 13 -5 12 -3 12 0 12 2 10 5 11 8 11 10 10 13 17 29 16 37 14 44 14 53 11 59 11 69 27 226 6 31 5 8 4 2 5 -2 5 -7 12 -25 16 -42 52 -147 27 -73 34 -82 33 -68 16 -30 17 -28 16 -23 16 -20 15 -17 15 -13 15 -10 15 -7 17 -2 17 2 15 6 15 12 14 17 13 22 12 26 13 32 17 61 16 75 16 105 23 195 6 32 3 7 5 4 5 -1 5 -6 6 -12 8 -17 16 -42 50 -142 25 -69 32 -77 31 -66 30 -55 15 -24 15 -21 15 -18 14 -15 14 -13 13 -8 19 -8 9 -2 9 0 16 3 17 9 16 15 15 21 14 27 13 30 10 29 9 36 10 39 8 43 16 104 22 195 7 33 3 8 4 4 2 0 3 0 5 -6 7 -12 8 -19 79 -221 25 -62 23 -55"/>
<path d="M2017 1315l28 -51 28 -41 13 -16 13 -14 14 -11 12 -8 13 -6 12 -3 13 0 11 2 12 6 11 7 10 11 11 13 19 31 16 39 15 46 14 56 13 62 11 73 29 232 6 29 4 7 4 3 4 -2 4 -5 12 -26 15 -43 47 -147 28 -79 32 -84 33 -72 16 -32 16 -28 17 -26 16 -21 15 -18 15 -14 15 -10 15 -7 17 -3 17 1 15 7 16 13 15 18 14 23 14 28 12 33 10 32 9 34 17 79 17 107 24 202 6 30 4 7 3 3 4 -1 5 -6 13 -28 14 -40 46 -145 25 -73 31 -80 30 -69 30 -59 15 -25 15 -22 15 -20 14 -16 14 -13 14 -10 19 -8 9 -2 9 0 9 1 8 2 17 9 16 15 16 22 15 28 13 32 11 31 11 39 9 38 9 45 9 54 8 58 25 202 5 28 4 9 3 3 3 1 2 -1 5 -6 6 -11 7 -18 74 -226 25 -66 23 -59"/>
<path d="M2017 1317l27 -54 28 -44 13 -18 13 -15 14 -13 12 -9 13 -6 12 -4 12 -1 12 2 11 6 11 7 11 11 10 13 17 31 16 39 15 48 13 54 13 65 11 76 30 251 4 18 4 16 4 8 4 3 5 -2 5 -7 7 -13 7 -19 17 -48 51 -160 26 -78 34 -87 31 -73 17 -33 16 -29 16 -25 15 -22 15 -18 15 -14 15 -10 14 -7 17 -3 16 3 15 7 15 14 14 18 13 24 13 28 11 33 18 64 16 78 16 111 26 220 8 35 4 10 4 3 5 -2 6 -8 6 -13 8 -19 17 -48 49 -155 25 -73 30 -83 30 -71 30 -60 15 -26 14 -22 15 -19 14 -16 14 -13 13 -10 19 -8 9 -1 8 -1 8 2 9 2 15 10 15 16 15 22 15 29 13 34 10 32 10 38 17 86 17 112 25 214 7 34 3 10 4 6 3 1 3 -1 6 -6 7 -15 9 -20 15 -47 59 -184 22 -62 21 -56"/>
<path d="M2017 1308l27 -54 28 -45 13 -18 13 -15 14 -12 12 -9 13 -7 12 -3 12 -1 12 3 11 5 11 8 11 11 10 13 17 31 16 39 15 48 14 58 13 64 11 76 31 256 3 18 5 16 4 8 4 2 5 -2 5 -7 13 -31 16 -48 49 -158 28 -83 32 -88 32 -74 16 -34 16 -29 16 -26 15 -22 16 -19 15 -14 15 -11 14 -7 16 -3 16 2 16 8 15 13 14 19 13 23 13 28 12 35 19 67 16 83 17 111 26 220 7 35 4 8 4 4 5 -1 5 -6 6 -13 8 -19 16 -47 49 -159 25 -75 31 -85 30 -72 30 -61 14 -27 15 -22 14 -19 14 -17 14 -13 13 -10 19 -8 9 -2 8 0 8 2 9 2 8 5 8 6 15 16 15 22 15 29 13 35 10 31 10 38 9 41 9 48 18 117 25 214 6 34 4 10 4 5 2 1 3 0 6 -6 7 -15 8 -21 74 -235 22 -63 21 -57"/>
<path d="M2017 1289l27 -57 26 -46 13 -19 13 -15 12 -12 13 -10 12 -7 12 -3 12 0 11 2 10 6 11 8 11 12 10 15 17 31 15 41 15 50 15 60 13 70 12 81 28 227 6 47 5 22 4 16 4 9 5 4 5 -2 6 -8 6 -15 9 -22 16 -54 51 -176 26 -84 32 -92 30 -78 16 -35 16 -31 15 -27 15 -23 15 -19 14 -14 14 -11 14 -7 16 -3 8 0 8 2 15 8 15 15 14 20 13 25 13 30 12 37 18 67 16 84 19 122 28 233 8 41 4 11 5 5 3 1 3 -2 6 -8 7 -14 8 -22 15 -48 48 -165 28 -93 31 -91 29 -75 28 -63 14 -26 14 -24 14 -21 14 -16 13 -14 13 -10 18 -8 8 -1 8 0 9 1 8 4 16 11 15 17 15 24 13 29 14 37 10 33 9 39 19 91 18 121 28 233 9 43 4 11 4 6 3 1 3 -1 7 -8 7 -16 9 -25 16 -51 57 -196 38 -119"/>
<path d="M2017 1222l25 -44 12 -18 13 -16 12 -13 12 -10 12 -7 11 -5 12 -2 11 0 11 3 11 6 11 8 11 12 10 13 10 17 17 36 16 43 15 52 14 60 13 64 12 78 33 256 7 30 3 8 5 4 4 -2 4 -6 12 -29 14 -49 44 -163 25 -86 31 -94 30 -81 16 -36 16 -32 16 -28 15 -24 15 -20 15 -16 15 -12 15 -8 9 -3 8 -1 8 0 9 1 8 4 8 4 16 14 15 19 15 26 14 31 14 36 10 36 10 38 20 90 19 121 28 222 8 36 3 8 4 4 4 -2 5 -7 12 -30 13 -46 43 -158 23 -80 29 -91 28 -77 29 -67 15 -27 14 -25 14 -22 14 -18 14 -15 13 -12 10 -6 10 -4 9 -2 9 -1 9 0 8 3 9 4 9 6 16 16 17 25 15 29 15 37 12 36 11 42 11 46 10 50 10 58 10 66 28 223 7 34 3 9 5 6 4 -1 5 -6 6 -13 6 -19 14 -45 42 -158 22 -75 26 -84 27 -75"/>
<path d="M2017 1316l28 -57 28 -46 13 -19 13 -16 14 -13 12 -10 13 -7 12 -4 12 -1 11 1 12 5 11 7 11 10 10 14 18 31 17 40 15 48 14 59 12 65 12 77 31 259 3 19 4 15 4 8 4 2 5 -2 5 -7 14 -31 16 -49 51 -164 27 -80 32 -88 32 -74 16 -34 16 -30 16 -26 16 -22 15 -18 15 -15 15 -11 14 -6 17 -3 15 2 15 8 15 13 15 19 13 24 12 28 13 36 17 65 16 79 17 113 25 223 8 37 4 10 4 3 5 -1 6 -8 7 -13 7 -19 17 -50 49 -159 25 -75 31 -85 30 -72 30 -61 15 -27 14 -22 14 -19 14 -17 14 -13 14 -10 17 -7 9 -2 8 0 9 1 8 3 8 5 9 6 15 16 15 23 13 28 13 35 10 32 10 38 18 86 9 57 8 62 25 216 7 35 3 10 4 6 3 1 3 0 6 -7 8 -15 8 -21 15 -45 58 -187 41 -117"/>
<path d="M2017 1365l30 -64 29 -51 14 -22 14 -18 14 -15 13 -12 13 -10 13 -6 12 -3 12 0 11 3 12 6 11 9 11 12 9 13 8 15 17 38 15 46 14 58 12 65 11 71 30 259 8 35 4 9 5 3 5 -2 6 -7 6 -12 9 -20 18 -51 53 -161 27 -75 33 -86 33 -72 16 -33 16 -28 16 -25 16 -21 15 -17 15 -14 14 -10 14 -6 16 -2 15 2 15 8 14 13 13 18 13 24 12 27 12 33 16 63 15 77 16 110 24 214 8 38 4 10 5 5 2 0 4 -1 6 -8 6 -12 9 -20 15 -44 50 -151 30 -85 32 -83 31 -70 30 -60 15 -25 15 -21 14 -18 14 -16 13 -11 14 -9 17 -7 8 -1 9 0 15 5 16 10 14 16 15 22 13 28 12 34 9 30 10 36 16 84 16 110 24 214 8 38 3 9 4 5 3 1 3 0 7 -7 7 -14 9 -22 18 -49 56 -168 33 -93"/>
<path d="M2017 1083l22 -40 12 -17 11 -12 11 -11 10 -7 11 -5 11 -1 11 1 10 4 10 7 10 10 10 13 9 14 10 20 9 21 15 43 15 53 13 57 14 68 13 81 13 89 36 312 8 44 5 12 2 3 3 2 2 -1 3 -3 5 -9 11 -38 15 -64 44 -206 24 -104 30 -115 30 -96 15 -43 14 -38 15 -35 15 -29 15 -25 15 -19 14 -14 14 -10 8 -3 9 -2 8 0 8 2 8 3 9 6 16 16 15 24 15 31 14 37 13 44 11 42 10 45 19 103 11 71 11 82 33 286 8 45 4 11 3 4 2 2 3 -1 2 -2 5 -10 6 -16 7 -24 14 -61 43 -202 22 -94 27 -108 28 -94 27 -80 14 -35 14 -29 13 -26 13 -22 14 -18 13 -15 9 -7 9 -6 9 -3 10 -1 9 0 8 3 9 5 9 7 8 9 8 11 16 28 16 37 15 45 11 42 12 50 11 53 11 62 10 71 11 81 34 287 8 45 4 12 4 5 3 0 2 -1 5 -8 6 -16 8 -26 14 -61 44 -206 22 -97 29 -111 28 -95"/>
<path d="M2017 1319l28 -53 28 -43 14 -17 13 -15 13 -12 13 -8 12 -6 13 -4 12 0 11 2 11 5 11 8 11 11 10 13 16 30 16 39 14 46 14 57 11 63 11 75 22 202 5 45 7 30 4 9 4 2 5 -2 5 -7 7 -12 8 -18 16 -47 53 -157 27 -77 34 -87 33 -71 16 -33 17 -29 16 -24 16 -22 15 -18 15 -14 15 -10 14 -6 17 -3 16 2 15 7 15 13 13 18 13 23 13 28 12 33 17 66 15 77 16 113 22 208 7 34 4 11 4 4 5 -1 6 -7 7 -13 7 -17 18 -49 51 -155 25 -70 33 -84 31 -69 30 -60 29 -46 15 -18 14 -16 14 -13 13 -9 19 -8 9 -2 8 0 8 1 9 3 15 9 15 16 15 22 15 29 12 33 10 32 9 36 17 84 16 111 22 209 7 36 3 10 4 5 3 1 2 -1 7 -7 7 -14 9 -20 15 -44 63 -186 23 -64 22 -55"/>
<path d="M2017 1302l27 -56 27 -44 13 -19 13 -14 13 -13 13 -9 12 -7 12 -3 11 0 12 2 12 6 10 8 11 11 10 14 18 32 16 39 15 48 14 58 13 68 12 73 33 265 4 22 4 14 4 8 5 3 5 -3 5 -8 14 -32 16 -49 49 -167 26 -81 33 -91 30 -74 16 -34 16 -30 16 -27 15 -22 15 -18 15 -15 15 -11 14 -7 17 -3 15 3 15 8 15 14 15 19 13 24 12 28 13 36 18 67 17 81 17 113 28 229 8 35 4 10 4 4 5 -1 6 -7 7 -14 7 -19 17 -52 48 -161 24 -76 31 -88 29 -72 29 -62 15 -27 14 -23 15 -20 14 -16 13 -13 13 -10 18 -8 9 -1 8 0 9 1 8 3 8 5 9 6 15 16 15 24 14 29 13 35 10 32 10 38 18 88 19 118 27 224 8 36 3 9 4 6 3 1 3 -2 6 -6 7 -16 8 -22 15 -46 58 -191 40 -119"/>
<path d="M2017 1350l29 -52 28 -43 14 -17 14 -14 13 -12 13 -9 14 -7 12 -4 13 -1 11 2 12 4 11 6 11 10 10 12 18 28 17 36 15 44 14 55 12 61 11 69 27 227 7 28 3 6 5 2 4 -1 5 -6 12 -26 16 -41 51 -145 27 -73 34 -82 33 -67 16 -30 17 -27 16 -23 16 -20 16 -17 14 -13 15 -10 15 -6 17 -3 16 2 16 7 15 12 14 17 13 21 13 26 12 32 9 29 9 34 16 75 16 105 22 185 6 33 4 8 4 4 5 -1 5 -5 6 -11 7 -16 16 -42 49 -140 26 -69 31 -77 31 -66 31 -56 15 -23 15 -21 15 -19 14 -14 14 -12 14 -9 18 -7 17 -2 17 4 17 9 15 15 15 20 15 26 12 30 10 29 10 35 9 39 8 41 9 49 8 59 23 191 6 32 4 7 3 4 2 0 3 -1 6 -6 6 -12 8 -17 75 -210 22 -58 22 -52"/>
<path d="M2017 1225l26 -48 25 -37 12 -15 12 -11 12 -10 12 -6 12 -3 11 -1 11 3 11 5 11 8 10 11 10 14 10 17 15 34 15 44 15 51 13 61 12 71 12 81 32 273 7 36 4 9 4 3 5 -2 5 -8 14 -34 16 -53 49 -177 25 -86 33 -98 31 -81 15 -36 16 -32 16 -29 15 -24 15 -20 15 -17 15 -12 14 -8 8 -3 9 -1 8 0 8 2 9 4 7 5 15 14 14 19 15 27 13 32 12 37 10 36 9 39 17 87 18 129 27 235 4 25 4 17 5 10 4 3 5 -2 5 -7 6 -15 8 -22 16 -53 46 -168 24 -82 30 -92 29 -79 30 -67 15 -30 14 -25 14 -21 14 -19 13 -14 14 -12 9 -6 9 -4 9 -2 8 -1 10 1 8 3 8 4 8 6 16 18 16 25 14 30 14 39 11 37 10 40 10 47 9 51 19 128 26 235 8 41 3 9 4 6 3 1 2 0 6 -7 7 -15 8 -23 14 -47 66 -234 25 -80 25 -72"/>
<path d="M2017 1455l32 -63 32 -53 30 -41 14 -16 14 -14 14 -11 14 -8 13 -6 12 -2 13 0 12 4 10 5 11 9 9 10 9 11 16 31 15 40 14 47 11 56 11 67 8 66 14 124 6 42 3 17 4 13 5 9 5 3 6 -2 7 -8 8 -13 9 -18 20 -45 58 -142 29 -65 34 -73 33 -59 32 -50 16 -21 16 -18 15 -15 15 -11 14 -8 13 -5 15 -1 15 2 14 7 13 11 12 15 12 19 11 23 11 29 9 30 8 34 15 79 10 72 16 145 7 48 3 16 4 13 4 8 4 3 6 -2 8 -7 8 -13 9 -18 18 -39 55 -136 32 -73 33 -70 32 -59 31 -50 29 -38 14 -15 14 -12 13 -10 14 -7 16 -5 16 0 15 5 15 10 14 14 12 18 12 25 11 28 16 54 14 67 14 90 21 190 7 34 4 11 4 6 3 1 3 1 8 -5 8 -12 11 -20 20 -45 78 -188"/>
<path d="M2017 1195l25 -48 12 -19 13 -17 12 -14 12 -11 12 -8 11 -5 12 -3 12 1 10 3 11 6 11 10 10 11 10 14 10 18 17 37 15 46 15 55 15 65 12 69 13 84 33 275 7 36 4 8 4 3 4 -2 5 -7 12 -32 14 -51 45 -180 25 -91 31 -100 31 -86 16 -38 16 -35 15 -30 15 -25 15 -21 15 -17 15 -13 14 -8 10 -3 8 -2 8 1 9 1 15 8 16 15 15 20 14 26 15 34 13 39 11 38 10 41 18 93 19 128 29 245 8 38 4 11 4 3 4 -2 5 -7 13 -35 14 -52 43 -170 23 -86 29 -96 29 -82 29 -71 14 -29 14 -27 14 -23 14 -18 14 -16 13 -12 9 -6 9 -5 10 -3 9 -1 9 1 8 3 9 4 9 6 16 18 16 25 15 31 15 41 12 38 11 42 10 50 10 53 10 61 10 72 29 245 7 35 3 10 5 6 2 0 3 -1 5 -7 5 -13 7 -21 77 -295 27 -90 26 -78"/>
<path d="M2017 1186l24 -39 13 -16 11 -13 12 -11 11 -8 12 -5 11 -3 11 0 11 2 10 4 11 8 11 10 10 12 10 16 9 16 17 38 15 44 15 54 13 59 13 67 12 81 32 252 7 34 3 8 5 2 4 -2 4 -7 11 -29 13 -47 44 -168 25 -88 31 -97 31 -83 16 -37 15 -33 16 -29 15 -24 16 -21 15 -17 15 -12 15 -9 9 -3 8 -1 9 0 9 2 8 3 8 5 16 13 16 21 15 27 14 32 13 37 11 36 10 39 19 93 20 122 28 229 7 37 4 8 4 3 4 -1 4 -7 12 -30 13 -48 43 -162 23 -83 28 -90 28 -79 30 -69 14 -29 14 -25 14 -23 14 -19 14 -15 14 -12 10 -7 9 -4 9 -3 9 -1 9 0 9 2 10 5 8 5 16 16 17 24 16 31 15 38 12 36 11 42 11 47 11 54 10 58 10 68 29 234 7 33 3 9 4 5 4 -1 4 -5 5 -11 7 -20 13 -46 44 -169 24 -82 30 -95 29 -80"/>
<path d="M2017 1136l23 -39 12 -16 12 -13 11 -10 11 -7 11 -4 11 -2 10 0 10 3 11 7 10 8 10 11 10 15 10 17 9 20 15 38 15 48 14 55 14 64 12 70 13 84 35 285 7 37 4 9 4 4 5 -3 5 -8 11 -34 14 -55 45 -185 24 -97 30 -104 30 -89 16 -40 15 -35 15 -31 15 -26 15 -23 15 -18 15 -14 14 -8 9 -4 9 -1 8 0 8 1 9 4 8 5 16 15 15 21 15 28 14 35 14 42 11 39 10 42 19 98 20 133 32 260 7 38 4 10 4 4 5 -2 4 -8 6 -15 7 -22 14 -55 43 -179 22 -88 28 -100 28 -84 28 -74 14 -31 14 -27 14 -24 13 -20 14 -18 13 -12 10 -8 10 -4 9 -3 9 -2 9 1 8 3 10 4 8 7 16 18 17 27 15 32 15 41 12 38 11 46 11 50 11 57 11 67 10 71 31 260 8 38 3 10 4 5 5 0 5 -7 5 -14 7 -21 14 -54 44 -186 24 -91 29 -102 29 -88"/>
<path d="M2017 1259l27 -59 26 -48 13 -19 13 -16 12 -12 13 -10 12 -7 12 -3 12 1 11 3 10 6 11 9 11 13 10 16 17 34 15 44 15 54 14 61 13 75 12 82 33 291 4 24 4 16 4 10 3 2 2 1 5 -3 6 -9 14 -35 16 -56 51 -186 26 -89 31 -97 31 -83 16 -37 16 -33 16 -30 15 -24 15 -21 15 -16 14 -12 14 -7 8 -3 8 -1 9 1 7 2 15 8 15 15 14 21 14 27 12 31 13 40 17 70 17 90 17 124 29 259 4 24 5 17 4 9 4 4 5 -2 6 -8 6 -15 9 -24 16 -56 50 -181 24 -83 30 -93 29 -81 29 -68 14 -28 14 -26 14 -22 14 -18 14 -15 13 -11 9 -5 9 -4 9 -2 8 0 8 2 9 3 8 5 7 6 15 18 15 25 15 32 13 39 10 35 10 42 18 96 18 131 28 246 7 42 5 13 4 6 2 1 4 -1 5 -7 8 -16 9 -27 16 -54 58 -212 21 -70 20 -62"/>
<path d="M2017 1311l27 -52 28 -43 13 -17 13 -15 14 -11 12 -9 13 -6 11 -3 12 0 12 2 11 5 11 8 11 11 10 14 17 31 16 38 15 48 14 55 12 65 12 76 29 246 6 31 5 9 4 3 5 -2 5 -7 13 -29 17 -49 50 -156 27 -80 33 -87 32 -72 17 -33 15 -28 16 -26 16 -21 15 -18 15 -14 15 -11 14 -6 17 -3 16 2 15 7 15 13 15 18 13 23 12 28 13 34 9 31 9 36 16 78 17 112 25 215 6 32 4 9 4 4 5 -2 5 -6 7 -13 8 -19 15 -46 50 -153 24 -73 32 -85 30 -70 30 -60 15 -25 15 -23 14 -19 14 -16 14 -13 14 -9 18 -8 9 -2 8 0 9 1 8 3 8 4 9 6 15 15 15 23 14 28 13 34 10 32 10 37 18 85 16 111 25 215 7 33 3 9 4 5 3 1 2 -1 6 -7 7 -12 8 -21 15 -43 62 -191 22 -64 22 -57"/>
<path d="M2017 1166l24 -42 13 -17 11 -15 12 -11 11 -9 12 -6 11 -4 12 0 10 2 11 5 10 7 10 10 10 13 10 16 9 18 16 39 15 47 14 55 13 61 12 72 12 82 31 275 8 38 4 10 4 4 4 -3 5 -8 12 -32 15 -54 47 -182 25 -94 31 -100 31 -86 16 -39 16 -34 15 -31 15 -25 16 -23 15 -17 15 -13 14 -9 9 -3 9 -1 8 0 8 2 9 3 7 5 16 14 15 21 15 29 13 32 14 41 10 36 10 42 18 97 10 65 9 70 28 242 7 40 4 11 4 3 5 -1 4 -8 6 -14 7 -20 15 -54 45 -176 23 -85 29 -97 29 -84 30 -72 14 -30 14 -26 14 -24 13 -18 14 -17 14 -12 10 -7 9 -5 9 -3 9 -1 9 1 9 3 9 5 8 6 17 18 16 26 15 32 14 39 11 40 11 43 10 47 10 55 10 64 9 68 29 255 7 36 3 10 5 6 2 0 3 -1 5 -7 5 -13 8 -23 15 -54 44 -173 23 -86 29 -94 28 -82"/>
<path d="M2017 1199l25 -44 12 -18 12 -14 12 -13 12 -10 12 -7 11 -4 12 -2 11 1 11 4 11 6 10 10 10 11 10 14 10 18 17 36 16 46 15 53 13 59 13 71 13 81 32 261 8 34 3 8 4 3 4 -3 5 -6 11 -31 14 -51 44 -168 25 -89 31 -97 31 -83 16 -38 16 -33 15 -29 15 -25 15 -20 15 -17 15 -13 15 -8 9 -3 9 -2 8 1 8 1 9 3 8 5 16 14 15 20 15 26 14 33 13 37 11 37 10 39 19 94 19 125 29 230 7 38 4 8 4 4 4 -1 5 -7 11 -31 15 -50 42 -163 23 -83 29 -94 29 -79 29 -69 14 -29 14 -26 14 -22 14 -19 15 -16 13 -11 10 -7 9 -4 9 -3 9 -1 10 1 8 3 9 4 8 6 17 17 17 25 15 30 15 39 11 37 12 44 11 48 10 51 10 60 10 70 28 230 7 35 3 10 4 5 4 0 5 -7 6 -13 7 -19 14 -50 42 -163 22 -78 27 -89 28 -78"/>
<path d="M2017 1186l25 -43 12 -17 12 -15 12 -12 12 -9 12 -7 11 -4 12 -2 12 2 11 4 10 7 11 9 10 12 10 15 10 18 17 37 16 46 15 55 13 60 13 74 12 78 31 263 7 32 3 7 4 3 4 -3 4 -6 11 -29 13 -48 44 -171 26 -92 31 -98 31 -84 16 -37 15 -34 16 -30 16 -26 16 -21 15 -17 15 -12 15 -9 9 -3 8 -2 9 1 9 1 8 4 8 4 16 14 16 21 15 27 14 33 13 38 11 38 10 40 19 95 10 62 9 67 28 232 7 33 3 8 3 3 4 -1 4 -6 12 -31 13 -48 42 -162 24 -87 29 -95 29 -79 29 -70 15 -31 14 -26 14 -22 14 -20 14 -15 14 -12 10 -7 9 -5 10 -3 9 -1 9 1 9 3 9 4 9 6 16 17 17 25 16 32 15 39 11 37 12 44 11 48 10 53 10 61 10 71 27 233 7 34 3 9 4 4 4 -1 4 -5 5 -11 7 -20 13 -47 43 -168 23 -84 30 -95 28 -79"/>
<path d="M2017 1340l28 -51 28 -43 14 -16 13 -14 13 -12 13 -9 12 -6 13 -3 12 -1 11 1 12 5 11 7 10 10 10 12 17 28 16 35 15 46 13 51 13 63 10 68 30 239 3 17 4 15 4 7 4 2 5 -3 5 -6 14 -28 16 -45 52 -149 27 -74 34 -81 32 -69 17 -31 16 -27 15 -24 16 -20 16 -17 15 -14 15 -9 14 -7 17 -2 16 2 15 7 15 12 14 18 13 22 12 27 12 31 18 62 15 76 16 105 24 197 6 33 4 10 4 4 5 -1 6 -7 7 -12 7 -17 17 -44 51 -147 26 -70 31 -79 31 -67 30 -55 29 -44 14 -18 14 -15 15 -12 13 -9 18 -8 18 -1 16 4 16 9 15 15 15 21 14 27 13 31 10 30 9 33 9 40 8 42 16 103 24 204 7 32 3 9 4 5 3 1 2 -1 7 -7 8 -13 8 -20 76 -215 21 -57 22 -54"/>
<path d="M2017 1179l24 -37 13 -15 11 -13 12 -9 11 -8 12 -5 12 -3 11 0 11 3 11 5 11 8 11 10 10 13 10 15 9 17 16 38 15 43 15 54 14 59 13 72 12 76 30 246 6 31 4 7 3 2 3 -2 4 -7 10 -24 12 -44 43 -163 25 -91 31 -96 31 -82 17 -39 15 -33 16 -29 16 -25 16 -21 15 -16 16 -13 15 -9 9 -3 9 -2 9 0 8 2 17 7 17 14 15 20 16 27 14 31 14 39 11 36 11 41 19 93 10 60 9 64 27 221 7 33 3 8 3 3 5 -3 4 -7 10 -27 52 -198 23 -83 29 -93 29 -78 29 -68 15 -30 14 -26 14 -22 14 -19 14 -16 15 -13 10 -6 10 -5 10 -4 9 -1 9 0 9 3 9 3 9 6 18 17 16 23 16 31 16 38 13 38 11 43 11 46 11 54 10 59 10 69 27 227 6 29 3 9 4 3 3 0 4 -6 10 -26 13 -44 43 -165 27 -94 31 -98 32 -83"/>
<path d="M2017 1146l23 -41 12 -16 11 -13 11 -11 11 -8 11 -5 11 -3 11 0 10 3 11 6 10 8 10 11 10 14 10 17 9 18 16 40 15 46 14 54 14 65 14 72 13 86 37 286 9 38 4 9 4 3 3 0 2 -2 5 -9 12 -34 14 -56 44 -189 24 -96 30 -106 29 -87 15 -39 15 -35 15 -31 15 -27 15 -22 14 -17 14 -13 15 -9 8 -3 8 -1 8 0 9 2 8 3 8 5 15 15 15 21 15 28 15 34 14 42 20 79 20 98 21 132 34 263 9 40 4 10 4 4 2 0 3 -2 5 -8 6 -15 6 -21 15 -56 43 -186 22 -86 27 -99 27 -86 28 -72 13 -30 14 -27 13 -23 13 -20 13 -17 14 -13 9 -6 9 -5 9 -3 9 -1 10 0 8 3 9 5 8 6 17 19 16 25 16 34 15 41 11 38 12 45 11 48 10 55 12 69 11 73 33 258 9 41 4 11 4 5 2 0 3 -1 5 -8 6 -14 7 -24 14 -56 43 -183 21 -83 26 -97 27 -84"/>
<path d="M2017 1235l26 -48 25 -36 12 -15 13 -12 12 -9 12 -6 11 -3 12 0 12 2 11 5 10 8 11 11 10 13 10 16 17 35 16 43 15 51 14 62 13 71 12 75 32 261 8 34 3 7 4 3 4 -2 5 -7 12 -30 15 -50 46 -167 25 -87 32 -95 31 -80 16 -36 15 -32 16 -28 15 -23 16 -21 15 -16 15 -12 14 -8 9 -2 9 -1 8 0 8 2 16 8 16 14 15 20 14 25 13 30 14 38 10 34 10 40 17 85 10 61 9 64 28 226 7 37 4 10 4 3 5 -2 5 -7 12 -32 14 -47 45 -164 24 -82 29 -89 30 -78 29 -66 14 -28 14 -24 14 -22 14 -18 14 -15 14 -11 18 -9 9 -3 9 -1 10 2 8 2 9 5 8 6 16 16 16 24 15 31 14 36 11 34 11 41 10 43 10 51 10 60 10 69 27 226 8 38 3 9 4 5 3 0 2 -1 5 -7 6 -13 7 -21 76 -269 26 -82 25 -71"/>
<path d="M2017 1198l25 -48 12 -19 13 -17 12 -14 12 -11 12 -8 11 -5 12 -3 11 0 11 4 11 6 11 9 11 12 10 14 10 18 17 39 16 45 15 54 14 63 14 72 12 81 34 271 8 36 4 9 4 3 4 -2 5 -9 11 -30 14 -52 44 -176 25 -92 31 -101 30 -84 16 -38 15 -33 15 -30 15 -25 15 -21 15 -18 15 -12 15 -9 9 -3 9 -1 8 0 8 2 16 9 16 14 15 21 15 27 14 33 13 39 11 38 10 40 19 95 20 131 30 235 7 38 4 11 4 3 4 -2 5 -7 12 -33 14 -52 43 -169 23 -87 28 -94 29 -83 28 -69 14 -30 14 -26 14 -23 14 -19 14 -16 13 -12 9 -6 9 -4 10 -3 9 -1 9 1 8 2 9 5 9 6 16 18 17 25 15 31 15 40 12 37 11 45 11 48 10 52 11 65 10 69 30 242 6 34 4 10 4 6 2 0 3 -1 5 -7 6 -14 6 -20 75 -291 26 -88 26 -79"/>
<path d="M2017 1277l27 -48 13 -21 13 -18 13 -16 13 -12 12 -10 13 -7 12 -5 12 -1 12 1 11 3 11 7 11 9 11 12 10 15 17 33 16 40 15 48 14 59 13 65 11 75 30 245 7 30 3 8 4 3 5 -2 5 -6 11 -28 15 -45 48 -158 26 -82 33 -89 31 -75 17 -35 16 -29 16 -27 15 -22 16 -19 15 -15 15 -11 14 -7 18 -3 8 0 8 2 16 7 16 14 15 19 14 24 13 29 13 35 10 33 9 35 18 85 17 116 25 209 7 32 3 9 4 4 4 -1 5 -6 6 -12 7 -17 15 -46 46 -155 24 -74 30 -85 30 -73 30 -63 15 -26 14 -23 15 -21 15 -16 14 -14 13 -10 18 -9 10 -2 9 0 9 1 8 2 9 5 9 6 15 15 16 24 14 27 15 36 10 33 10 37 10 43 9 46 10 55 9 64 26 215 6 32 4 8 3 3 2 1 3 -1 5 -7 6 -11 7 -20 77 -248 25 -73 24 -64"/>
<path d="M2017 1342l28 -59 28 -47 14 -20 13 -16 13 -14 13 -11 12 -7 13 -5 12 -3 12 1 12 4 11 7 11 10 11 12 9 14 9 16 17 39 16 48 14 55 13 66 12 71 32 253 8 33 4 9 2 2 3 1 5 -3 6 -8 13 -30 17 -49 49 -156 26 -78 33 -87 31 -72 16 -32 16 -29 16 -25 15 -21 15 -17 15 -14 15 -11 14 -6 16 -3 16 3 15 7 15 14 14 18 13 23 12 28 13 34 18 66 16 75 18 112 26 212 8 35 4 10 4 4 5 -1 6 -7 6 -13 8 -18 17 -49 49 -158 25 -72 30 -83 30 -70 29 -58 15 -26 15 -22 14 -18 14 -16 13 -12 14 -9 17 -7 9 -1 8 0 9 1 8 3 16 11 15 16 15 22 13 27 14 34 9 32 10 36 18 82 17 110 27 214 8 36 3 9 4 6 3 1 3 -1 6 -6 7 -14 8 -21 16 -47 55 -173 37 -105"/>
<path d="M2017 1132l24 -38 12 -15 11 -12 12 -9 11 -7 11 -4 11 -1 11 1 11 4 11 6 10 9 10 11 10 14 10 18 9 18 16 42 15 47 15 59 14 63 12 70 13 84 32 268 7 32 3 8 3 3 5 -3 4 -7 10 -29 12 -49 42 -176 25 -97 31 -106 30 -88 15 -40 16 -36 16 -31 15 -26 15 -22 15 -18 15 -14 15 -10 9 -3 9 -2 9 0 9 2 8 3 8 5 17 14 16 22 16 29 14 33 14 41 11 40 11 44 20 101 20 133 29 243 7 34 3 9 5 4 4 -3 4 -7 10 -30 12 -49 40 -169 23 -88 28 -100 27 -84 30 -75 14 -32 14 -27 14 -25 14 -21 14 -17 14 -13 10 -7 9 -5 10 -4 9 -1 9 0 9 2 9 5 10 6 9 8 8 10 17 25 15 32 16 41 13 40 12 47 12 53 11 56 10 66 10 71 30 249 7 34 3 8 4 3 4 -1 4 -7 10 -29 13 -48 43 -183 26 -100 31 -107 32 -91"/>
<path d="M2017 1280l27 -51 13 -22 13 -19 13 -15 12 -13 13 -11 12 -7 13 -5 11 -2 12 1 11 3 11 7 10 9 10 12 10 14 17 32 16 41 15 50 13 56 13 65 11 74 33 261 7 33 4 9 4 3 5 -2 5 -7 6 -11 8 -20 16 -51 49 -164 27 -83 33 -91 30 -74 16 -34 16 -30 16 -26 15 -22 15 -19 15 -15 15 -11 14 -7 16 -3 16 2 16 8 15 13 14 19 14 25 13 29 12 35 19 67 16 81 18 113 28 231 7 35 5 9 4 3 5 -2 5 -6 6 -14 8 -19 16 -49 48 -162 24 -75 31 -88 29 -73 29 -61 15 -28 14 -22 14 -20 15 -17 13 -13 13 -10 9 -5 10 -4 9 -2 8 0 8 1 9 3 8 4 8 6 16 17 15 23 14 29 14 35 10 34 10 38 19 87 9 55 9 65 27 219 7 38 3 9 5 6 2 1 3 -1 6 -7 7 -13 8 -22 15 -46 61 -202 22 -68 23 -62"/>
<path d="M2017 1331l28 -52 28 -41 13 -17 13 -14 14 -12 12 -8 13 -6 12 -4 12 -1 11 2 12 5 11 7 11 10 10 13 18 29 17 38 15 45 14 54 12 61 12 71 30 237 6 29 5 8 4 3 5 -2 5 -7 12 -26 16 -45 50 -150 27 -75 33 -84 31 -69 17 -32 16 -27 16 -24 16 -21 15 -17 15 -14 15 -10 14 -6 17 -3 16 2 16 8 15 12 14 18 14 23 12 26 13 33 18 64 16 73 17 105 25 202 7 35 3 7 5 4 5 -1 5 -6 5 -11 8 -17 16 -45 49 -148 25 -70 31 -79 30 -67 30 -58 14 -24 15 -21 15 -19 14 -15 14 -12 13 -9 19 -8 17 -2 17 4 16 10 15 15 15 21 14 26 14 32 10 30 10 35 9 37 9 45 9 52 8 57 25 202 7 32 3 9 5 5 2 0 3 -1 5 -6 7 -12 8 -20 74 -217 21 -60 22 -55"/>
<path d="M2017 1145l23 -36 12 -14 12 -12 11 -9 11 -7 12 -4 10 -2 11 1 11 4 11 6 10 8 10 11 10 14 10 17 9 19 17 41 15 47 14 54 13 62 13 70 12 83 32 259 6 33 4 9 4 4 4 -2 4 -7 11 -31 13 -50 43 -173 25 -94 30 -103 30 -85 16 -39 16 -35 16 -31 15 -25 15 -22 15 -17 15 -13 15 -10 9 -3 8 -2 9 0 9 2 8 3 8 5 17 14 16 21 16 29 14 33 14 40 11 38 10 43 20 100 10 61 10 71 29 234 6 34 4 9 4 5 4 -2 4 -7 11 -30 13 -50 42 -170 22 -85 29 -96 28 -84 28 -71 14 -30 15 -27 14 -24 14 -20 14 -17 13 -12 10 -7 9 -5 10 -4 10 -1 9 1 9 2 9 4 9 7 9 8 9 10 16 25 16 33 15 39 13 40 11 44 11 48 11 56 11 65 10 70 29 240 6 35 4 10 4 4 4 -1 4 -6 11 -30 13 -50 44 -176 25 -97 32 -105 31 -86"/>
<path d="M2017 1191l25 -48 12 -19 13 -17 12 -15 12 -10 12 -8 11 -5 12 -3 11 1 11 4 11 6 11 9 10 12 10 14 10 18 17 37 15 46 15 55 15 64 13 73 12 83 34 278 8 35 3 7 4 4 5 -2 5 -8 11 -33 14 -52 44 -177 26 -95 31 -102 30 -84 16 -39 15 -33 16 -31 15 -25 15 -21 15 -18 15 -13 14 -8 10 -3 8 -2 8 1 9 2 15 8 16 15 15 20 15 28 14 34 14 40 10 38 10 41 20 98 19 128 29 241 7 38 4 9 4 4 4 -1 5 -7 6 -13 6 -21 15 -52 43 -174 23 -87 29 -97 29 -83 28 -69 14 -30 14 -27 14 -23 14 -18 14 -17 13 -11 9 -7 9 -4 10 -3 9 -1 9 1 8 3 9 5 9 6 16 18 16 25 15 31 15 40 12 39 11 45 11 49 10 53 10 61 10 71 30 248 7 34 3 10 4 6 3 1 2 -2 5 -7 6 -14 7 -20 76 -298 26 -88 26 -79"/>
<path d="M2017 1324l27 -53 28 -44 13 -17 13 -15 13 -12 12 -9 13 -6 12 -4 12 -1 12 2 11 5 11 8 11 10 10 13 17 30 16 37 15 47 14 56 13 63 11 72 10 76 16 135 6 41 8 31 4 8 4 2 5 -2 5 -7 7 -13 7 -18 17 -48 50 -155 26 -78 33 -85 31 -71 17 -33 16 -29 16 -25 15 -20 15 -18 14 -14 15 -10 15 -7 16 -3 16 3 15 7 15 13 14 18 13 23 13 27 12 35 19 66 16 76 16 108 26 211 7 35 5 10 4 4 5 -1 6 -7 6 -13 8 -18 16 -48 50 -155 25 -73 31 -81 30 -70 29 -57 15 -26 14 -21 14 -19 15 -16 13 -12 13 -9 18 -8 9 -1 8 -1 8 2 9 2 8 5 8 6 15 15 15 22 14 26 13 34 10 31 10 36 9 40 9 46 18 114 25 205 7 37 4 9 4 5 2 1 4 -1 5 -6 8 -14 8 -21 16 -46 58 -180 21 -59 21 -55"/>
<path d="M2017 1250l26 -46 13 -21 13 -16 12 -14 12 -12 13 -9 12 -6 11 -4 12 0 12 2 10 4 11 7 11 11 10 12 10 16 17 33 15 43 15 51 14 59 12 67 11 72 31 258 6 31 4 7 4 4 4 -2 5 -7 13 -29 15 -48 47 -162 27 -85 32 -93 32 -77 16 -36 16 -31 16 -27 16 -23 16 -20 15 -15 15 -12 14 -7 16 -3 9 0 8 2 16 7 16 14 15 19 14 25 13 31 12 35 10 34 10 36 17 88 18 118 25 221 4 19 4 17 3 7 4 4 5 -3 5 -7 13 -31 15 -48 45 -154 25 -80 30 -87 30 -76 30 -65 15 -28 14 -23 14 -21 14 -17 14 -14 13 -11 19 -9 9 -3 9 0 9 1 8 2 10 5 8 5 16 17 16 23 14 29 14 36 11 34 11 41 9 45 10 48 9 57 9 66 25 216 7 35 3 10 4 6 3 1 2 -1 5 -6 7 -14 7 -20 79 -264 26 -77 26 -70"/>
</g>
<path d="M1102.8,578.0V600.4M1171.0,890.2V912.8M1198.9,807.2V823.6M1241.2,672.0V694.2M1312.9,553.6V575.6M1327.3,552.1V566.3M1375.4,614.8V636.8M1444.2,845.0V866.6M1470.2,755.1V774.1M1512.2,636.4V657.4M1542.5,582.2V598.6M1583.8,550.1V569.9M1599.2,557.3V574.3M1648.2,679.0V699.4M1667.3,816.5V831.1M1718.3,789.6V808.0M1742.0,711.5V731.5" stroke="#1a1a1a" stroke-width="1.5" fill="none"/>
<g fill="#1a1a1a"><circle cx="1102.8" cy="589.2" r="6.3"/><circle cx="1123.8" cy="643.8" r="6.3"/><circle cx="1153.2" cy="833.5" r="6.3"/><circle cx="1171.0" cy="901.5" r="6.3"/><circle cx="1198.9" cy="815.4" r="6.3"/><circle cx="1223.2" cy="733.8" r="6.3"/><circle cx="1241.2" cy="683.1" r="6.3"/><circle cx="1271.0" cy="615.0" r="6.3"/><circle cx="1282.7" cy="594.6" r="6.3"/><circle cx="1312.9" cy="564.6" r="6.3"/><circle cx="1327.3" cy="559.2" r="6.3"/><circle cx="1352.8" cy="578.1" r="6.3"/><circle cx="1375.4" cy="625.8" r="6.3"/><circle cx="1395.0" cy="711.2" r="6.3"/><circle cx="1425.7" cy="903.5" r="6.3"/><circle cx="1444.2" cy="855.8" r="6.3"/><circle cx="1470.2" cy="764.6" r="6.3"/><circle cx="1495.5" cy="690.0" r="6.3"/><circle cx="1512.2" cy="646.9" r="6.3"/><circle cx="1542.5" cy="590.4" r="6.3"/><circle cx="1553.8" cy="576.9" r="6.3"/><circle cx="1583.8" cy="560.0" r="6.3"/><circle cx="1599.2" cy="565.8" r="6.3"/><circle cx="1623.8" cy="602.3" r="6.3"/><circle cx="1648.2" cy="689.2" r="6.3"/><circle cx="1667.3" cy="823.8" r="6.3"/><circle cx="1698.3" cy="867.7" r="6.3"/><circle cx="1718.3" cy="798.8" r="6.3"/><circle cx="1742.0" cy="721.5" r="6.3"/></g>
</g>
<path d="M114,786.50h4.6M114,751.10h4.6M114,733.40h4.6M114,715.70h4.6M114,680.30h4.6M114,662.60h4.6M114,644.90h4.6M114,609.50h4.6M114,591.80h4.6M114,574.10h4.6M114,538.70h4.6M114,521.00h4.6M114,503.30h4.6M114,467.90h4.6M114,450.20h4.6M114,432.50h4.6M114,397.10h4.6M114,379.40h4.6M114,361.70h4.6M114,326.30h4.6M114,308.60h4.6M114,290.90h4.6M114,255.50h4.6M114,237.80h4.6M114,220.10h4.6M114,184.70h4.6M773.50,787v-4.6M738.10,787v-4.6M702.70,787v-4.6M631.90,787v-4.6M596.50,787v-4.6M561.10,787v-4.6M525.70,787v-4.6M454.90,787v-4.6M419.50,787v-4.6M384.10,787v-4.6M348.70,787v-4.6M277.90,787v-4.6M242.50,787v-4.6M207.10,787v-4.6M171.70,787v-4.6" stroke="#1a1a1a" stroke-width="1.2" fill="none"/>
<path d="M114,768.80h8.5M114,698.00h8.5M114,627.20h8.5M114,556.40h8.5M114,485.60h8.5M114,414.80h8.5M114,344.00h8.5M114,273.20h8.5M114,202.40h8.5M667.30,787v-8.5M490.30,787v-8.5M313.30,787v-8.5M136.30,787v-8.5M972.5,405.95h8.5M972.5,293.70h8.5M972.5,181.45h8.5M972.5,69.20h8.5M1099.60,473.6v-8.5M1243.70,473.6v-8.5M1387.80,473.6v-8.5M1531.90,473.6v-8.5M1676.00,473.6v-8.5M972.5,959.65h8.5M972.5,827.00h8.5M972.5,694.35h8.5M972.5,561.70h8.5M1099.60,959.7v-8.5M1243.70,959.7v-8.5M1387.80,959.7v-8.5M1531.90,959.7v-8.5M1676.00,959.7v-8.5" stroke="#1a1a1a" stroke-width="1.6" fill="none"/>
<rect x="114" y="174.5" width="675.4" height="612.5" fill="none" stroke="#1a1a1a" stroke-width="1.8"/>
<rect x="972.5" y="1.7" width="821.0" height="471.9" fill="none" stroke="#1a1a1a" stroke-width="1.8"/>
<rect x="972.5" y="487.9" width="821.0" height="471.8" fill="none" stroke="#1a1a1a" stroke-width="1.8"/>
<g font-family="'Liberation Serif','DejaVu Serif',serif" font-size="30.3" fill="#000"><text transform="translate(107.6,779.2) scale(0.955,1.065)" text-anchor="end">−<tspan dx="3.5">0.4</tspan></text><text transform="translate(107.6,708.4) scale(0.955,1.065)" text-anchor="end">−<tspan dx="3.5">0.2</tspan></text><text transform="translate(107.6,637.6) scale(0.955,1.065)" text-anchor="end">0.0</text><text transform="translate(107.6,566.8) scale(0.955,1.065)" text-anchor="end">0.2</text><text transform="translate(107.6,496.0) scale(0.955,1.065)" text-anchor="end">0.4</text><text transform="translate(107.6,425.2) scale(0.955,1.065)" text-anchor="end">0.6</text><text transform="translate(107.6,354.4) scale(0.955,1.065)" text-anchor="end">0.8</text><text transform="translate(107.6,283.6) scale(0.955,1.065)" text-anchor="end">1.0</text><text transform="translate(107.6,212.8) scale(0.955,1.065)" text-anchor="end">1.2</text><text transform="translate(667.3,815.0) scale(0.955,1.065)" text-anchor="middle">−<tspan dx="3.5">0.5</tspan></text><text transform="translate(490.3,815.0) scale(0.955,1.065)" text-anchor="middle">0.0</text><text transform="translate(313.3,815.0) scale(0.955,1.065)" text-anchor="middle">0.5</text><text transform="translate(136.3,815.0) scale(0.955,1.065)" text-anchor="middle">1.0</text><text transform="translate(961.6,416.3) scale(0.955,1.065)" text-anchor="end">−<tspan dx="3.5">0.5</tspan></text><text transform="translate(961.6,304.1) scale(0.955,1.065)" text-anchor="end">0.0</text><text transform="translate(961.6,191.8) scale(0.955,1.065)" text-anchor="end">0.5</text><text transform="translate(961.6,79.6) scale(0.955,1.065)" text-anchor="end">1.0</text><text transform="translate(961.6,970.0) scale(0.955,1.065)" text-anchor="end">−<tspan dx="3.5">0.5</tspan></text><text transform="translate(961.6,837.4) scale(0.955,1.065)" text-anchor="end">0.0</text><text transform="translate(961.6,704.8) scale(0.955,1.065)" text-anchor="end">0.5</text><text transform="translate(961.6,572.1) scale(0.955,1.065)" text-anchor="end">1.0</text><text transform="translate(1099.6,991.0) scale(0.955,1.065)" text-anchor="middle">−<tspan dx="3.5">400</tspan></text><text transform="translate(1243.7,991.0) scale(0.955,1.065)" text-anchor="middle">−<tspan dx="3.5">200</tspan></text><text transform="translate(1387.8,991.0) scale(0.955,1.065)" text-anchor="middle">0</text><text transform="translate(1531.9,991.0) scale(0.955,1.065)" text-anchor="middle">200</text><text transform="translate(1676.0,991.0) scale(0.955,1.065)" text-anchor="middle">400</text></g>
<g font-family="'Liberation Serif','DejaVu Serif',serif" font-size="46.5" fill="#000">
<g transform="translate(353.5,865.4)"><text x="0" y="0">Δ</text><text x="28.6" y="0" font-style="italic">α</text><text x="64.5" y="-14.5" font-size="32.5">*</text><text x="98" y="0">[mas]</text></g>
<g transform="translate(32.7,562) rotate(-90)"><text x="0" y="0">Δ</text><text x="28.6" y="0" font-style="italic">δ</text><text x="63.5" y="0">[mas]</text></g>
<g transform="translate(886.3,336.5) rotate(-90)"><text x="0" y="0">Δ</text><text x="28.6" y="0" font-style="italic">α</text><text x="64.5" y="-14.5" font-size="32.5">*</text><text x="98" y="0">[mas]</text></g>
<g transform="translate(886.3,806.5) rotate(-90)"><text x="0" y="0">Δ</text><text x="28.6" y="0" font-style="italic">δ</text><text x="63.5" y="0">[mas]</text></g>
<text x="1383" y="1038" text-anchor="middle" font-size="46.5">BJD - 2457389.0</text>
</g>
<rect x="278.1" y="187.2" width="498.9" height="45.5" rx="4" fill="#fff" fill-opacity="0.8" stroke="#cccccc" stroke-width="1.3"/>
<line x1="287.4" y1="206.7" x2="339.5" y2="206.7" stroke="#1a1a1a" stroke-width="2"/>
<g font-family="'Liberation Serif','DejaVu Serif',serif" font-size="25.6" fill="#000"><text x="360.4" y="216.2">Expected from GOST,</text><text x="594.2" y="216.2" font-style="italic">σ</text><text x="607.4" y="219.6" font-size="17.9">AL, tot</text><text x="661.6" y="219.2" font-size="33">=</text><text x="682.0" y="216.2">0.05mas</text></g>
<rect x="1281.7" y="14" width="499.6" height="46.5" rx="4" fill="#fff" fill-opacity="0.8" stroke="#cccccc" stroke-width="1.3"/>
<line x1="1317.7" y1="22" x2="1317.7" y2="46.8" stroke="#1a1a1a" stroke-width="1.6"/>
<circle cx="1317.7" cy="34.5" r="6.3" fill="#1a1a1a"/>
<g font-family="'Liberation Serif','DejaVu Serif',serif" font-size="25.6" fill="#000"><text x="1364.2" y="43.3">Expected from GOST,</text><text x="1598.0" y="43.3" font-style="italic">σ</text><text x="1611.2" y="46.7" font-size="17.9">AL, tot</text><text x="1665.4" y="46.3" font-size="33">=</text><text x="1685.8" y="43.3">0.05mas</text></g>
<text transform="translate(133.8,220.8) scale(0.65,1)" font-family="'DejaVu Sans Condensed','DejaVu Sans',sans-serif" font-weight="bold" font-size="43" fill="#000">a<tspan font-size="54" dy="3">)</tspan></text>
<text transform="translate(996,45.6) scale(0.65,1)" font-family="'DejaVu Sans Condensed','DejaVu Sans',sans-serif" font-weight="bold" font-size="43" fill="#000">b<tspan font-size="54" dy="3">)</tspan></text>
<text transform="translate(996.4,533) scale(0.65,1)" font-family="'DejaVu Sans Condensed','DejaVu Sans',sans-serif" font-weight="bold" font-size="43" fill="#000">c<tspan font-size="54" dy="3">)</tspan></text>
</svg></body></html>
